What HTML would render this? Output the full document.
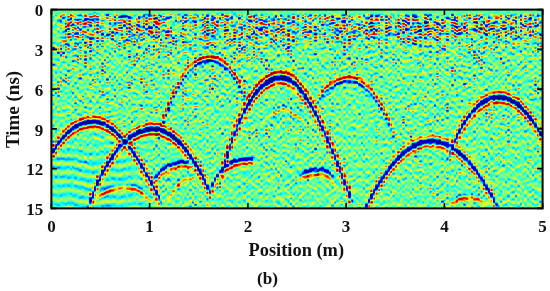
<!DOCTYPE html>
<html><head><meta charset="utf-8"><style>
html,body{margin:0;padding:0;background:#fff;width:550px;height:291px;overflow:hidden}
svg{position:absolute;left:0;top:0;display:block}
text{font-family:"Liberation Serif",serif;font-weight:bold;fill:#111}

</style></head><body>
<svg width="550" height="291" viewBox="0 0 550 291">
<defs><filter id="jet" filterUnits="userSpaceOnUse" x="51" y="9" width="492" height="200" color-interpolation-filters="sRGB"><feConvolveMatrix order="3" kernelMatrix="1 4 1 2 8 2 1 4 1" edgeMode="duplicate"/><feComponentTransfer><feFuncR type="table" tableValues="0 0 0 0 .5 1 1 1 .5"/><feFuncG type="table" tableValues="0 0 .5 1 1 1 .5 0 0"/><feFuncB type="table" tableValues=".5 1 1 1 .5 0 0 0 0"/></feComponentTransfer></filter></defs>
<g filter="url(#jet)">
<g transform="translate(49.954 7.600) scale(2.44600 1.0)" fill="none" shape-rendering="crispEdges">
<rect x="0" y="0" width="202" height="203" fill="#777777"/>
<path stroke="#000000" d="M0.5 36V38M0.5 81V82M0.5 86V88M0.5 145V150M1.5 39V41M1.5 141V145M2.5 137V141M3.5 44V46M3.5 80V81M3.5 133V137M4.5 40V42M4.5 47V48M4.5 130V134M5.5 9V10M5.5 44V46M5.5 127V131M6.5 15V17M6.5 21V24M6.5 35V37M6.5 67V68M6.5 124V128M7.5 11V12M7.5 20V22M7.5 25V27M7.5 122V126M8.5 9V12M8.5 17V18M8.5 121V124M9.5 16V18M9.5 21V22M9.5 118V122M10.5 11V12M10.5 25V27M10.5 35V36M10.5 117V120M11.5 7V8M11.5 11V13M11.5 19V21M11.5 24V27M11.5 48V49M11.5 116V119M12.5 7V8M12.5 11V12M12.5 16V17M12.5 21V22M12.5 39V40M12.5 70V71M12.5 114V118M13.5 13V14M13.5 26V27M13.5 31V32M13.5 113V117M14.5 10V13M14.5 18V19M14.5 34V36M14.5 51V52M14.5 113V116M15.5 10V12M15.5 16V17M15.5 39V40M15.5 112V116M15.5 200V201M16.5 11V13M16.5 16V18M16.5 30V31M16.5 36V38M16.5 42V44M16.5 112V116M16.5 190V194M17.5 11V12M17.5 112V115M17.5 184V189M18.5 21V22M18.5 112V115M18.5 179V183M19.5 10V13M19.5 16V18M19.5 23V25M19.5 32V34M19.5 113V116M19.5 172V178M20.5 113V117M20.5 170V173M21.5 25V27M21.5 114V117M21.5 162V167M22.5 114V116M22.5 158V163M23.5 6V8M23.5 27V28M23.5 71V72M23.5 116V120M23.5 153V159M24.5 15V16M24.5 21V22M24.5 26V27M24.5 118V122M24.5 150V155M25.5 24V25M25.5 30V32M25.5 119V123M25.5 146V151M26.5 8V10M26.5 15V16M26.5 43V44M26.5 88V89M26.5 121V125M26.5 143V147M27.5 24V25M27.5 124V128M27.5 140V144M28.5 19V20M28.5 35V36M28.5 126V130M28.5 136V139M29.5 8V10M29.5 19V21M29.5 26V27M29.5 128V130M30.5 7V9M30.5 16V18M30.5 131V136M31.5 8V9M31.5 19V22M31.5 25V27M31.5 31V33M31.5 132V136M32.5 9V11M32.5 15V17M32.5 23V25M32.5 28V29M32.5 43V44M32.5 48V49M32.5 79V80M32.5 127V132M32.5 138V141M33.5 18V19M33.5 33V34M33.5 113V114M33.5 127V130M33.5 141V142M33.5 143V144M34.5 36V37M34.5 125V129M34.5 145V149M35.5 16V18M35.5 23V25M35.5 46V47M35.5 122V127M35.5 148V152M36.5 8V11M36.5 16V19M36.5 39V40M36.5 50V51M36.5 121V126M36.5 152V155M37.5 74V75M37.5 122V125M37.5 156V160M38.5 7V9M38.5 13V14M38.5 18V20M38.5 24V25M38.5 31V32M38.5 120V125M38.5 160V164M39.5 10V11M39.5 15V17M39.5 21V22M39.5 119V122M39.5 165V169M40.5 7V9M40.5 18V21M40.5 26V27M40.5 37V39M40.5 119V124M40.5 168V172M41.5 19V21M41.5 119V123M41.5 173V177M42.5 10V12M42.5 16V18M42.5 28V29M42.5 37V39M42.5 119V123M42.5 178V182M43.5 9V11M43.5 18V20M43.5 23V25M43.5 29V31M43.5 119V124M43.5 167V170M43.5 182V187M44.5 7V8M44.5 11V13M44.5 20V22M44.5 27V29M44.5 119V123M44.5 129V130M44.5 165V167M44.5 187V190M45.5 8V9M45.5 31V33M45.5 37V38M45.5 120V124M45.5 161V164M46.5 11V12M46.5 113V116M46.5 121V124M46.5 161V162M47.5 24V25M47.5 29V31M47.5 106V109M47.5 122V126M47.5 158V160M48.5 9V11M48.5 22V25M48.5 62V63M48.5 99V102M48.5 124V128M48.5 156V158M49.5 8V10M49.5 19V21M49.5 45V46M49.5 93V95M49.5 125V130M49.5 157V159M50.5 29V31M50.5 35V36M50.5 88V89M50.5 127V131M51.5 12V13M51.5 27V28M51.5 32V35M51.5 83V85M51.5 129V134M51.5 155V157M52.5 78V80M52.5 132V136M52.5 153V156M53.5 12V14M53.5 27V28M53.5 74V77M53.5 133V138M53.5 152V154M54.5 8V11M54.5 14V16M54.5 20V22M54.5 33V35M54.5 70V73M54.5 136V141M54.5 152V155M55.5 7V8M55.5 13V14M55.5 67V69M55.5 139V144M55.5 154V156M56.5 54V56M56.5 142V147M56.5 152V154M57.5 147V151M58.5 150V154M59.5 13V15M59.5 50V51M59.5 56V59M59.5 66V67M59.5 153V158M60.5 54V56M60.5 158V163M61.5 31V32M61.5 54V56M61.5 163V167M62.5 7V8M62.5 11V12M62.5 16V18M62.5 53V54M62.5 166V172M63.5 9V12M63.5 15V16M63.5 23V25M63.5 172V177M64.5 7V9M64.5 13V15M64.5 19V20M64.5 25V28M64.5 51V54M64.5 177V181M65.5 51V53M65.5 68V69M65.5 183V186M66.5 11V13M66.5 17V18M66.5 21V23M66.5 27V28M66.5 37V38M66.5 52V54M66.5 80V81M66.5 175V178M67.5 9V11M67.5 19V21M67.5 38V40M67.5 53V55M67.5 170V172M68.5 13V15M68.5 167V169M69.5 10V11M69.5 44V45M69.5 56V57M69.5 163V165M70.5 6V8M70.5 125V126M70.5 159V164M71.5 16V18M71.5 22V24M71.5 28V29M71.5 50V51M71.5 60V62M71.5 152V160M72.5 11V13M72.5 21V23M72.5 32V33M72.5 144V150M72.5 156V159M73.5 63V65M73.5 137V142M73.5 153V155M74.5 9V10M74.5 32V33M74.5 53V54M74.5 66V68M74.5 129V135M74.5 153V156M75.5 24V26M75.5 30V32M75.5 50V51M75.5 69V72M75.5 124V128M75.5 151V154M76.5 40V42M76.5 73V76M76.5 116V119M76.5 121V123M76.5 152V154M77.5 9V11M77.5 19V20M77.5 37V38M77.5 78V80M77.5 111V116M77.5 150V153M78.5 19V20M78.5 28V30M78.5 40V41M78.5 69V70M78.5 84V85M78.5 107V110M78.5 152V153M79.5 17V18M79.5 39V40M79.5 73V74M79.5 87V88M79.5 101V105M79.5 150V153M80.5 27V29M80.5 33V34M80.5 96V101M80.5 150V152M81.5 13V14M81.5 91V97M81.5 150V152M82.5 26V27M82.5 88V93M83.5 7V10M83.5 23V26M83.5 46V47M83.5 84V90M84.5 13V14M84.5 19V21M84.5 81V86M85.5 21V22M85.5 79V83M86.5 11V13M86.5 20V21M86.5 76V81M87.5 13V14M87.5 18V20M87.5 24V25M87.5 57V58M87.5 76V79M88.5 26V28M88.5 52V53M88.5 60V61M88.5 72V77M88.5 125V126M89.5 16V18M89.5 70V73M89.5 74V76M90.5 22V23M90.5 31V32M90.5 69V75M91.5 11V13M91.5 32V34M91.5 68V73M92.5 7V10M92.5 21V23M92.5 27V29M92.5 35V36M92.5 70V72M93.5 11V12M93.5 16V17M93.5 20V22M93.5 69V72M94.5 7V9M94.5 18V20M94.5 33V34M94.5 67V72M95.5 23V25M95.5 37V38M95.5 68V72M95.5 97V98M96.5 11V12M96.5 26V27M96.5 41V42M96.5 69V73M97.5 15V16M97.5 22V24M97.5 31V32M97.5 38V41M97.5 69V73M98.5 49V50M98.5 70V74M98.5 91V92M99.5 13V15M99.5 23V24M99.5 32V33M99.5 52V53M99.5 73V77M100.5 74V78M101.5 7V9M101.5 77V81M101.5 99V100M102.5 80V84M103.5 9V11M103.5 24V26M103.5 83V86M104.5 13V14M104.5 18V20M104.5 23V25M104.5 28V29M104.5 86V92M104.5 162V163M105.5 90V95M105.5 115V116M105.5 163V165M106.5 7V8M106.5 23V24M106.5 94V99M106.5 161V164M107.5 12V13M107.5 99V103M107.5 160V163M108.5 18V20M108.5 25V27M108.5 32V33M108.5 46V47M108.5 103V108M108.5 160V161M109.5 21V22M109.5 108V112M109.5 162V164M110.5 7V8M110.5 13V14M110.5 23V24M110.5 113V118M110.5 160V162M111.5 16V18M111.5 118V123M111.5 160V161M112.5 7V9M112.5 25V27M112.5 31V32M112.5 124V127M112.5 162V164M113.5 33V35M113.5 129V135M113.5 162V163M114.5 15V17M114.5 41V42M114.5 135V140M114.5 164V166M115.5 8V10M115.5 14V16M115.5 29V30M115.5 79V80M115.5 141V146M116.5 76V78M116.5 147V152M117.5 10V11M117.5 26V28M117.5 75V77M117.5 153V158M118.5 23V25M118.5 74V76M118.5 158V164M119.5 13V14M119.5 23V24M119.5 28V30M119.5 74V75M119.5 165V170M120.5 7V8M120.5 12V14M120.5 20V21M120.5 38V40M120.5 72V74M120.5 172V177M121.5 16V18M121.5 25V26M121.5 178V183M122.5 13V14M122.5 31V33M122.5 73V75M122.5 184V189M123.5 11V13M123.5 56V57M123.5 192V193M124.5 31V32M124.5 74V75M125.5 28V29M125.5 50V51M125.5 73V75M126.5 76V77M127.5 19V21M127.5 77V79M128.5 7V8M128.5 17V19M128.5 24V25M129.5 22V23M129.5 196V199M130.5 9V11M130.5 15V16M130.5 30V32M130.5 191V195M131.5 7V9M131.5 14V16M131.5 21V23M131.5 28V29M131.5 186V191M132.5 15V16M132.5 20V22M132.5 29V31M132.5 89V91M132.5 182V186M133.5 8V9M133.5 21V23M133.5 92V93M133.5 178V182M134.5 7V8M134.5 15V16M134.5 20V21M134.5 31V32M134.5 38V39M134.5 96V99M134.5 173V175M134.5 177V178M135.5 11V13M135.5 100V102M135.5 173V174M136.5 105V107M136.5 167V170M137.5 8V9M137.5 14V16M137.5 19V22M137.5 110V112M137.5 163V167M138.5 10V12M138.5 19V21M138.5 115V118M138.5 159V163M139.5 19V20M139.5 156V161M140.5 51V52M140.5 154V157M141.5 18V19M141.5 26V27M141.5 55V56M141.5 151V155M142.5 14V16M142.5 25V27M142.5 148V152M143.5 21V23M143.5 30V32M143.5 36V37M143.5 147V150M144.5 12V14M144.5 18V19M144.5 23V25M144.5 33V34M144.5 114V115M144.5 144V147M145.5 7V8M145.5 12V15M145.5 20V23M145.5 143V145M146.5 14V16M146.5 21V22M146.5 30V32M146.5 139V143M147.5 18V20M147.5 25V26M147.5 49V50M147.5 128V130M147.5 140V142M148.5 7V9M148.5 15V16M148.5 34V36M148.5 135V140M149.5 9V10M149.5 24V25M149.5 29V31M149.5 35V37M149.5 136V139M150.5 14V16M150.5 23V24M150.5 134V138M151.5 15V16M151.5 21V24M151.5 28V30M151.5 133V135M152.5 17V18M152.5 133V136M153.5 13V16M153.5 20V22M153.5 29V31M153.5 132V135M154.5 7V9M154.5 13V16M154.5 20V22M154.5 26V28M154.5 131V135M155.5 7V8M155.5 11V12M155.5 25V27M155.5 131V133M156.5 131V135M157.5 13V15M157.5 22V23M157.5 97V98M157.5 131V133M158.5 15V17M158.5 21V22M158.5 31V33M158.5 134V136M159.5 25V26M159.5 132V136M160.5 11V13M160.5 20V21M160.5 134V137M160.5 193V194M161.5 17V19M161.5 41V42M161.5 136V138M162.5 9V11M162.5 25V26M162.5 31V33M162.5 138V139M164.5 6V8M164.5 11V13M164.5 16V18M164.5 60V61M164.5 136V142M165.5 9V10M165.5 17V20M165.5 24V26M165.5 131V135M165.5 141V143M166.5 12V14M166.5 18V21M166.5 26V27M166.5 125V130M166.5 141V145M167.5 24V27M167.5 121V125M167.5 143V147M168.5 93V94M168.5 116V120M168.5 145V149M168.5 157V158M169.5 18V21M169.5 76V77M169.5 112V117M169.5 147V150M170.5 7V8M170.5 24V26M170.5 108V112M170.5 150V152M171.5 10V11M171.5 106V110M171.5 153V156M172.5 31V32M172.5 36V38M172.5 102V105M172.5 156V160M173.5 8V9M173.5 13V15M173.5 21V22M173.5 43V45M173.5 67V68M173.5 100V104M173.5 159V163M174.5 7V8M174.5 13V16M174.5 22V23M174.5 97V101M174.5 162V166M175.5 10V12M175.5 20V21M175.5 43V44M175.5 49V51M175.5 95V99M175.5 166V169M176.5 8V10M176.5 20V22M176.5 93V96M177.5 13V16M177.5 24V25M177.5 54V55M177.5 91V96M177.5 172V177M178.5 17V19M178.5 25V28M178.5 90V94M178.5 105V106M178.5 180V181M179.5 16V17M179.5 21V23M179.5 91V93M179.5 181V185M180.5 20V22M180.5 89V91M180.5 185V189M181.5 15V16M181.5 20V21M181.5 26V27M181.5 33V35M181.5 41V42M181.5 87V93M181.5 190V194M182.5 39V40M182.5 88V91M183.5 22V23M183.5 27V29M183.5 87V91M184.5 10V11M184.5 19V21M184.5 24V25M184.5 50V52M184.5 87V91M185.5 14V15M185.5 20V22M185.5 55V56M185.5 89V92M186.5 9V10M186.5 14V15M186.5 26V29M186.5 33V34M186.5 88V91M187.5 10V11M187.5 25V26M187.5 89V93M188.5 19V22M188.5 28V29M188.5 90V95M189.5 12V13M189.5 20V21M189.5 92V95M190.5 13V14M190.5 24V25M190.5 30V31M190.5 95V98M191.5 28V29M191.5 95V96M191.5 97V100M192.5 7V9M192.5 14V16M192.5 22V24M192.5 43V44M192.5 97V102M193.5 16V18M193.5 99V104M194.5 8V9M194.5 13V14M194.5 17V19M194.5 26V27M194.5 103V107M195.5 104V110M196.5 9V11M196.5 18V20M196.5 26V28M196.5 108V113M197.5 15V16M197.5 23V25M197.5 111V116M198.5 12V13M198.5 17V19M198.5 116V119M199.5 7V9M199.5 16V18M199.5 120V124M199.5 143V144M200.5 26V27M200.5 123V128M201.5 10V13M201.5 23V25M201.5 128V132"/>
<path stroke="#111111" d="M0.5 44V45M1.5 56V57M1.5 140V141M2.5 85V86M2.5 136V137M3.5 81V82M4.5 46V47M5.5 10V11M5.5 72V73M6.5 48V50M6.5 128V129M7.5 12V13M8.5 31V32M8.5 120V121M9.5 22V23M9.5 27V28M9.5 52V54M10.5 40V41M10.5 116V117M11.5 36V37M11.5 119V120M12.5 27V28M14.5 50V51M14.5 99V100M15.5 21V22M15.5 29V30M15.5 38V39M15.5 199V200M15.5 201V202M16.5 18V19M16.5 31V32M16.5 194V195M17.5 12V13M17.5 30V31M17.5 72V73M17.5 189V190M18.5 178V179M19.5 18V19M19.5 112V113M20.5 36V37M20.5 83V84M20.5 99V100M20.5 168V170M21.5 32V34M21.5 55V56M21.5 62V63M22.5 52V53M22.5 64V65M23.5 26V27M23.5 91V92M24.5 14V15M24.5 16V17M24.5 20V21M24.5 68V69M25.5 123V124M25.5 151V152M26.5 14V15M26.5 33V34M28.5 9V10M28.5 14V16M28.5 20V21M29.5 7V8M29.5 14V15M29.5 27V28M29.5 137V139M30.5 18V19M30.5 39V40M30.5 136V137M31.5 64V65M32.5 8V9M32.5 22V23M32.5 32V33M32.5 49V50M33.5 140V141M33.5 142V143M33.5 144V145M34.5 26V27M34.5 56V57M35.5 53V54M36.5 38V39M36.5 151V152M36.5 155V156M36.5 179V180M37.5 26V27M37.5 97V98M37.5 125V126M38.5 17V18M38.5 30V31M38.5 44V46M38.5 159V160M39.5 6V7M39.5 20V21M39.5 41V42M39.5 83V84M39.5 122V123M40.5 25V26M40.5 27V28M40.5 43V44M41.5 72V73M42.5 27V28M44.5 13V14M44.5 41V42M44.5 49V50M44.5 130V131M44.5 164V165M45.5 7V8M46.5 22V23M46.5 124V125M46.5 159V161M47.5 11V12M47.5 23V24M47.5 48V49M47.5 157V158M48.5 102V103M49.5 26V28M49.5 34V35M49.5 44V45M49.5 156V157M50.5 78V79M50.5 87V88M50.5 126V127M50.5 155V157M51.5 13V14M51.5 85V86M51.5 154V155M52.5 80V81M52.5 131V132M52.5 136V137M54.5 28V29M54.5 84V85M55.5 12V13M55.5 14V15M55.5 34V35M55.5 153V154M56.5 12V13M56.5 64V66M56.5 116V117M56.5 147V148M57.5 146V147M58.5 13V14M58.5 60V61M58.5 194V195M59.5 19V20M59.5 26V27M59.5 196V197M60.5 56V57M60.5 151V152M61.5 46V47M61.5 53V54M62.5 12V13M62.5 25V26M62.5 52V53M62.5 114V115M63.5 22V23M63.5 54V55M63.5 72V73M63.5 171V172M64.5 20V21M64.5 39V40M65.5 53V54M65.5 78V79M65.5 84V85M66.5 8V9M66.5 28V29M66.5 36V37M66.5 58V59M66.5 81V82M67.5 18V19M67.5 52V53M67.5 70V71M67.5 172V173M68.5 166V167M69.5 9V10M69.5 55V56M69.5 93V94M69.5 162V163M69.5 175V176M71.5 21V22M71.5 29V30M71.5 49V50M71.5 59V60M72.5 60V61M72.5 143V144M73.5 25V26M73.5 31V32M73.5 93V94M74.5 10V11M74.5 17V18M74.5 48V49M74.5 54V55M74.5 152V153M74.5 156V157M75.5 45V46M76.5 22V23M76.5 90V91M76.5 123V124M76.5 154V155M77.5 31V32M77.5 36V37M77.5 38V39M77.5 110V111M78.5 20V21M78.5 22V23M78.5 41V42M78.5 83V84M78.5 106V107M78.5 150V152M79.5 72V73M79.5 100V101M80.5 37V38M80.5 152V153M81.5 12V13M81.5 18V19M81.5 29V30M81.5 149V150M82.5 13V14M82.5 25V26M82.5 149V153M83.5 39V41M83.5 47V48M84.5 14V15M84.5 27V28M84.5 86V87M84.5 122V123M85.5 11V12M85.5 22V23M85.5 40V42M86.5 7V8M86.5 19V20M86.5 21V22M86.5 44V45M86.5 53V54M87.5 12V13M87.5 75V76M88.5 13V14M88.5 19V20M88.5 61V62M89.5 9V10M89.5 15V16M89.5 57V58M89.5 73V74M89.5 128V130M90.5 117V118M92.5 26V27M92.5 69V70M94.5 32V33M95.5 67V68M96.5 40V41M96.5 68V69M96.5 153V154M97.5 14V15M98.5 42V44M98.5 74V75M98.5 90V91M98.5 99V101M99.5 6V7M99.5 33V34M99.5 53V54M100.5 78V79M101.5 16V18M101.5 76V77M102.5 79V80M102.5 84V85M103.5 19V21M103.5 82V83M103.5 95V96M103.5 165V166M104.5 29V30M104.5 163V164M105.5 8V9M105.5 24V25M105.5 162V163M105.5 172V173M106.5 22V23M106.5 24V25M107.5 98V99M107.5 121V122M108.5 45V46M108.5 140V142M109.5 20V21M109.5 94V95M109.5 112V113M110.5 90V91M110.5 118V119M111.5 88V89M111.5 100V101M112.5 30V31M112.5 83V84M112.5 127V128M112.5 161V162M113.5 12V13M113.5 163V164M115.5 167V168M116.5 14V15M116.5 50V51M117.5 22V23M117.5 158V159M118.5 10V11M118.5 50V51M118.5 73V74M119.5 7V8M119.5 14V15M119.5 22V23M119.5 34V35M119.5 75V76M119.5 170V171M120.5 46V47M121.5 26V27M121.5 41V42M122.5 8V9M122.5 50V51M122.5 189V190M123.5 55V56M123.5 193V194M124.5 30V31M124.5 73V74M125.5 16V17M125.5 66V67M125.5 75V76M126.5 16V17M126.5 27V28M127.5 14V15M127.5 50V52M127.5 76V77M129.5 39V40M129.5 51V52M129.5 82V83M130.5 16V17M131.5 13V14M131.5 29V30M132.5 19V20M132.5 88V89M132.5 181V182M133.5 7V8M133.5 23V24M133.5 93V94M133.5 177V178M134.5 14V15M134.5 39V40M134.5 175V177M135.5 22V23M135.5 170V171M136.5 170V171M137.5 27V28M137.5 31V32M138.5 25V26M138.5 158V159M139.5 18V19M140.5 128V129M142.5 147V148M143.5 146V147M144.5 25V26M144.5 34V35M144.5 143V144M145.5 8V9M145.5 100V101M145.5 117V118M145.5 142V143M146.5 8V9M146.5 98V99M147.5 139V140M148.5 14V15M149.5 8V9M149.5 19V20M149.5 23V24M149.5 135V136M149.5 139V140M149.5 148V149M151.5 132V133M151.5 135V137M152.5 132V133M153.5 6V8M153.5 38V39M154.5 19V20M155.5 10V11M155.5 20V21M155.5 43V45M155.5 133V134M156.5 29V30M157.5 21V22M157.5 30V31M157.5 55V56M157.5 133V134M158.5 43V45M158.5 133V134M159.5 16V17M160.5 40V41M161.5 135V136M162.5 26V27M162.5 102V103M162.5 135V136M163.5 137V138M163.5 143V144M163.5 145V146M164.5 23V24M164.5 77V78M165.5 8V9M165.5 10V11M165.5 12V13M165.5 62V63M165.5 72V73M166.5 130V131M166.5 189V190M167.5 147V148M168.5 15V17M168.5 92V93M168.5 120V121M169.5 75V76M169.5 150V151M170.5 12V13M170.5 17V18M171.5 9V10M171.5 39V40M171.5 105V106M172.5 30V31M172.5 47V48M172.5 186V187M173.5 49V50M174.5 47V48M174.5 53V54M174.5 96V97M175.5 169V170M175.5 186V187M176.5 29V30M176.5 59V61M176.5 96V97M176.5 169V171M177.5 25V26M177.5 177V178M178.5 81V82M178.5 94V95M178.5 177V180M178.5 181V182M179.5 9V11M179.5 15V16M179.5 160V161M179.5 180V181M180.5 88V89M180.5 91V92M181.5 14V15M181.5 25V26M181.5 194V195M182.5 13V14M182.5 196V197M183.5 29V30M183.5 34V35M183.5 91V92M184.5 31V32M185.5 88V89M185.5 92V93M186.5 21V22M186.5 91V92M186.5 101V102M187.5 67V68M188.5 7V8M188.5 22V23M190.5 12V13M190.5 25V26M190.5 31V32M190.5 94V95M191.5 94V95M191.5 96V97M192.5 16V17M192.5 30V31M193.5 200V201M194.5 102V103M195.5 36V37M196.5 28V29M197.5 7V8M197.5 16V17M197.5 44V45M198.5 11V12M198.5 76V77M198.5 82V83M199.5 36V37M199.5 43V44M199.5 84V86M199.5 119V120M200.5 27V28M201.5 29V30M201.5 127V128M201.5 197V198"/>
<path stroke="#222222" d="M0.5 43V44M0.5 80V81M1.5 133V134M2.5 84V85M3.5 74V75M3.5 87V89M4.5 12V13M4.5 34V35M4.5 70V71M6.5 41V42M6.5 73V75M7.5 36V38M7.5 62V64M8.5 16V17M8.5 26V27M9.5 15V16M9.5 28V29M9.5 84V86M10.5 41V42M10.5 95V96M11.5 35V36M11.5 54V55M12.5 22V23M12.5 34V35M12.5 50V51M12.5 92V93M13.5 8V9M13.5 18V19M13.5 25V26M13.5 66V67M13.5 88V89M14.5 43V45M14.5 52V53M14.5 58V59M14.5 153V155M15.5 22V23M15.5 28V29M15.5 198V199M16.5 6V7M16.5 29V30M16.5 50V51M16.5 189V190M17.5 23V24M17.5 29V30M17.5 47V48M17.5 71V72M17.5 115V116M18.5 10V11M18.5 14V15M18.5 20V21M18.5 74V75M19.5 38V39M20.5 73V75M20.5 167V168M21.5 12V13M21.5 38V39M21.5 56V57M21.5 61V62M21.5 86V87M21.5 117V118M22.5 28V29M22.5 51V52M22.5 58V59M22.5 63V64M22.5 116V117M22.5 180V182M23.5 72V73M24.5 6V7M24.5 10V11M24.5 25V26M24.5 45V46M25.5 23V24M25.5 25V26M25.5 91V92M25.5 134V135M26.5 69V70M26.5 81V82M26.5 87V88M27.5 25V26M27.5 72V73M27.5 139V140M28.5 8V9M28.5 34V35M28.5 41V42M28.5 76V77M29.5 47V48M29.5 131V132M30.5 9V10M31.5 7V8M31.5 12V13M32.5 74V75M32.5 80V81M32.5 126V127M33.5 19V20M33.5 69V70M33.5 75V76M33.5 114V115M33.5 126V127M33.5 177V178M34.5 27V28M34.5 57V58M34.5 71V72M34.5 144V145M35.5 32V33M35.5 45V46M35.5 47V48M35.5 152V153M36.5 180V181M37.5 31V33M37.5 98V99M37.5 155V156M38.5 12V13M38.5 70V71M38.5 78V79M39.5 74V75M39.5 84V85M39.5 123V124M39.5 164V165M40.5 172V173M41.5 7V8M41.5 28V29M41.5 46V47M41.5 104V105M41.5 172V173M41.5 177V178M42.5 39V40M42.5 57V58M42.5 76V77M42.5 141V142M42.5 161V162M42.5 169V170M43.5 11V12M43.5 34V35M43.5 99V100M43.5 104V105M44.5 29V30M44.5 97V98M44.5 190V192M45.5 23V24M45.5 58V59M45.5 94V95M45.5 99V100M45.5 124V125M46.5 17V18M46.5 120V121M46.5 162V163M47.5 17V18M47.5 37V39M47.5 65V66M47.5 160V161M47.5 181V182M48.5 34V35M48.5 63V64M48.5 155V156M48.5 171V172M49.5 33V34M49.5 39V40M49.5 95V96M50.5 36V37M50.5 89V90M50.5 131V132M50.5 154V155M51.5 40V41M52.5 6V7M52.5 54V56M52.5 171V173M53.5 28V29M53.5 154V155M55.5 6V7M55.5 21V23M55.5 95V96M55.5 112V113M56.5 7V8M56.5 26V27M56.5 49V50M56.5 154V155M57.5 22V23M58.5 12V13M58.5 18V19M58.5 46V47M58.5 64V65M58.5 104V105M58.5 154V155M59.5 37V38M59.5 67V68M59.5 95V96M59.5 101V102M59.5 108V109M59.5 158V159M60.5 7V9M60.5 157V158M61.5 12V13M61.5 30V31M61.5 153V154M61.5 161V163M62.5 24V25M62.5 54V55M62.5 58V59M63.5 32V33M63.5 53V54M63.5 55V56M63.5 83V84M63.5 93V94M64.5 32V33M64.5 71V72M64.5 181V182M65.5 25V26M65.5 62V63M65.5 67V68M65.5 77V78M65.5 182V183M66.5 7V8M66.5 75V76M66.5 178V179M67.5 71V72M67.5 145V146M68.5 45V46M68.5 53V56M68.5 88V89M68.5 179V180M69.5 17V18M69.5 28V30M69.5 45V46M69.5 57V58M69.5 68V69M69.5 120V121M69.5 176V177M70.5 47V48M70.5 57V59M70.5 64V65M70.5 97V98M71.5 10V11M71.5 15V16M71.5 34V35M71.5 40V41M71.5 151V152M72.5 150V151M73.5 10V11M73.5 26V27M73.5 30V31M73.5 36V38M73.5 56V57M73.5 136V137M74.5 8V9M74.5 33V34M75.5 44V45M75.5 61V63M75.5 123V124M75.5 154V155M76.5 97V98M76.5 120V121M77.5 43V44M77.5 53V54M77.5 77V78M77.5 83V85M78.5 21V22M78.5 51V52M78.5 68V69M78.5 85V86M78.5 110V111M79.5 18V19M79.5 31V32M79.5 38V39M79.5 44V45M79.5 80V81M79.5 88V89M79.5 105V106M80.5 11V12M80.5 47V48M80.5 95V96M80.5 101V102M80.5 139V140M80.5 149V150M81.5 28V29M81.5 30V31M81.5 79V80M81.5 97V98M81.5 129V131M82.5 12V13M82.5 20V22M82.5 31V32M82.5 50V51M82.5 93V94M83.5 124V125M84.5 7V8M84.5 26V27M84.5 34V35M84.5 128V129M85.5 12V13M85.5 36V37M85.5 51V52M85.5 78V79M85.5 83V84M86.5 22V23M86.5 29V30M87.5 25V26M87.5 40V41M87.5 139V140M88.5 14V15M88.5 20V21M88.5 51V52M88.5 77V78M88.5 92V93M89.5 8V9M89.5 58V59M89.5 64V65M89.5 76V77M90.5 23V24M90.5 30V31M91.5 19V20M91.5 99V101M91.5 108V109M91.5 143V144M92.5 68V69M92.5 72V73M93.5 10V11M93.5 38V39M93.5 47V48M93.5 68V69M93.5 99V100M94.5 17V18M94.5 81V82M94.5 167V168M95.5 11V12M95.5 31V32M95.5 36V37M96.5 10V11M96.5 27V28M96.5 36V37M96.5 98V100M97.5 30V31M97.5 32V33M97.5 68V69M97.5 73V74M98.5 15V16M98.5 37V38M98.5 48V49M98.5 108V109M98.5 121V122M98.5 159V160M98.5 190V191M99.5 12V13M99.5 31V32M100.5 25V26M100.5 56V57M100.5 95V96M100.5 136V137M100.5 175V176M101.5 23V24M101.5 60V61M102.5 167V168M103.5 42V43M103.5 59V61M103.5 121V122M103.5 166V167M104.5 14V15M104.5 85V86M104.5 164V166M105.5 68V69M105.5 114V115M105.5 129V130M105.5 135V136M105.5 171V172M106.5 15V16M106.5 36V37M106.5 160V161M107.5 70V71M107.5 122V123M108.5 10V11M108.5 27V28M108.5 159V160M108.5 163V164M109.5 52V53M109.5 107V108M109.5 161V162M110.5 14V15M110.5 22V23M110.5 28V29M110.5 91V92M110.5 162V163M111.5 20V21M111.5 26V27M111.5 86V88M111.5 159V160M111.5 161V162M112.5 39V40M112.5 88V89M112.5 123V124M113.5 17V18M113.5 81V83M113.5 128V129M113.5 164V165M114.5 21V22M114.5 79V81M114.5 112V113M114.5 118V119M114.5 125V126M114.5 134V135M114.5 166V167M115.5 7V8M115.5 24V25M115.5 54V55M115.5 80V81M115.5 95V96M115.5 156V157M115.5 168V169M116.5 15V16M116.5 20V21M116.5 25V26M116.5 43V44M116.5 56V57M116.5 78V79M116.5 146V147M116.5 194V195M117.5 11V12M117.5 33V34M117.5 74V75M117.5 144V145M118.5 17V18M118.5 49V50M118.5 164V165M119.5 12V13M119.5 24V25M119.5 73V74M120.5 14V15M120.5 19V20M120.5 31V32M120.5 45V46M120.5 74V75M120.5 79V80M121.5 10V11M121.5 42V43M121.5 50V51M122.5 14V15M122.5 183V184M123.5 18V19M123.5 23V25M124.5 22V23M124.5 25V26M124.5 54V55M124.5 75V76M126.5 17V18M126.5 23V24M126.5 75V76M126.5 106V107M127.5 13V14M127.5 33V34M127.5 56V57M128.5 8V9M128.5 25V26M128.5 36V37M128.5 78V80M129.5 9V10M129.5 21V22M129.5 23V24M129.5 30V31M129.5 38V39M129.5 81V82M129.5 87V88M129.5 199V200M130.5 24V25M130.5 36V37M130.5 83V85M131.5 9V10M131.5 87V88M133.5 59V60M134.5 19V20M134.5 26V27M134.5 32V33M134.5 103V104M134.5 178V179M135.5 42V43M135.5 48V49M135.5 58V59M135.5 68V70M135.5 99V100M135.5 145V146M135.5 169V170M135.5 171V173M135.5 174V175M136.5 104V105M136.5 166V167M137.5 9V10M137.5 52V53M137.5 109V110M138.5 18V19M138.5 24V25M138.5 26V28M138.5 163V164M139.5 49V50M139.5 101V102M140.5 46V47M140.5 129V130M140.5 153V154M140.5 157V158M141.5 12V13M141.5 19V20M141.5 27V28M141.5 78V79M141.5 133V134M141.5 150V151M142.5 51V52M142.5 152V153M143.5 10V11M143.5 15V17M143.5 126V127M143.5 145V146M144.5 109V110M145.5 45V46M145.5 85V86M145.5 141V142M146.5 7V8M146.5 16V17M146.5 20V21M146.5 143V144M147.5 31V32M147.5 96V97M147.5 138V139M148.5 6V7M148.5 73V74M148.5 140V141M148.5 181V182M149.5 7V8M149.5 14V15M149.5 18V19M149.5 96V97M150.5 22V23M150.5 55V56M150.5 143V144M151.5 16V17M151.5 37V39M151.5 153V154M152.5 24V25M153.5 12V13M153.5 22V23M153.5 88V89M153.5 135V136M154.5 76V77M154.5 84V85M155.5 21V22M155.5 37V39M155.5 134V136M156.5 20V21M156.5 71V72M157.5 31V32M157.5 56V57M157.5 75V77M157.5 108V110M158.5 9V10M158.5 14V15M158.5 22V23M158.5 65V67M158.5 112V113M158.5 132V133M158.5 186V187M159.5 17V18M159.5 24V25M159.5 56V57M159.5 62V63M159.5 131V132M160.5 7V8M160.5 25V26M160.5 133V134M161.5 40V41M161.5 134V135M162.5 49V50M162.5 96V97M162.5 109V110M162.5 134V135M162.5 136V138M162.5 151V152M162.5 170V171M163.5 10V11M163.5 53V54M163.5 136V137M163.5 144V145M164.5 22V23M164.5 59V60M164.5 76V77M165.5 11V12M165.5 32V33M165.5 56V57M165.5 63V64M165.5 140V141M166.5 25V26M166.5 86V87M166.5 173V174M166.5 188V189M167.5 18V19M167.5 34V36M167.5 125V126M167.5 186V187M168.5 24V26M168.5 46V47M168.5 115V116M168.5 149V150M168.5 156V157M169.5 151V152M169.5 196V197M170.5 8V9M170.5 16V17M170.5 112V113M171.5 21V22M171.5 26V27M171.5 38V39M171.5 44V45M171.5 59V60M171.5 156V157M172.5 21V22M172.5 32V33M172.5 160V161M172.5 185V186M173.5 20V21M173.5 22V23M173.5 33V34M173.5 50V51M173.5 55V56M173.5 123V124M173.5 158V159M174.5 8V9M174.5 23V24M174.5 46V47M174.5 54V55M174.5 101V102M174.5 166V167M175.5 19V20M175.5 36V37M175.5 42V43M175.5 55V56M175.5 165V166M175.5 180V181M176.5 13V14M176.5 19V20M176.5 45V46M176.5 51V53M176.5 171V173M177.5 44V45M177.5 55V56M177.5 96V97M177.5 102V103M177.5 187V188M178.5 16V17M178.5 34V36M179.5 38V39M179.5 60V61M179.5 108V109M180.5 15V16M180.5 106V107M181.5 19V20M181.5 21V22M181.5 189V190M182.5 14V15M182.5 195V196M182.5 197V198M183.5 15V16M183.5 23V24M184.5 11V12M184.5 25V26M184.5 32V33M184.5 45V46M184.5 193V194M185.5 13V14M185.5 87V88M185.5 107V108M185.5 157V158M186.5 8V9M186.5 15V16M186.5 19V21M186.5 32V33M186.5 38V39M186.5 124V125M187.5 11V12M187.5 34V35M187.5 52V53M187.5 93V94M187.5 108V109M187.5 121V123M187.5 127V128M187.5 133V134M188.5 8V9M188.5 18V19M188.5 124V125M188.5 201V202M189.5 11V12M189.5 19V20M189.5 39V40M189.5 77V78M189.5 86V87M189.5 95V96M190.5 6V7M190.5 15V17M190.5 23V24M190.5 188V189M191.5 29V30M191.5 93V94M192.5 44V45M192.5 96V97M194.5 12V13M195.5 21V23M195.5 35V36M195.5 110V111M196.5 107V108M197.5 22V23M197.5 43V44M197.5 167V168M198.5 25V27M198.5 35V36M198.5 77V78M198.5 119V120M199.5 18V19M199.5 25V26M199.5 73V74M199.5 79V80M200.5 7V8M200.5 14V15M200.5 41V42M200.5 67V68M200.5 200V201"/>
<path stroke="#333333" d="M0.5 14V15M0.5 25V26M0.5 61V62M0.5 67V68M0.5 110V111M0.5 150V151M1.5 57V58M1.5 82V83M1.5 87V88M1.5 134V135M2.5 7V8M2.5 141V142M2.5 168V170M3.5 12V13M3.5 73V74M3.5 132V133M3.5 150V151M3.5 159V160M4.5 13V15M4.5 20V21M4.5 29V30M4.5 48V49M4.5 64V65M4.5 69V70M4.5 76V78M4.5 83V84M4.5 134V135M4.5 141V142M5.5 29V30M5.5 71V72M5.5 150V151M6.5 8V9M6.5 28V30M6.5 66V67M6.5 85V86M7.5 69V71M7.5 75V76M7.5 107V108M8.5 18V19M8.5 25V26M8.5 32V33M9.5 41V42M9.5 47V48M9.5 104V105M10.5 12V13M10.5 17V18M10.5 30V32M10.5 47V48M10.5 53V54M10.5 75V76M10.5 94V95M10.5 101V102M10.5 120V121M11.5 18V19M11.5 37V38M11.5 43V44M11.5 47V48M11.5 49V50M11.5 79V81M11.5 106V107M11.5 115V116M11.5 126V127M12.5 20V21M12.5 35V36M12.5 40V41M12.5 44V45M12.5 51V52M12.5 69V70M12.5 93V94M12.5 143V144M12.5 153V154M12.5 162V163M13.5 12V13M13.5 19V20M13.5 30V31M13.5 32V33M13.5 67V68M13.5 94V95M14.5 19V20M14.5 45V46M14.5 104V105M14.5 112V113M14.5 116V117M15.5 111V112M15.5 155V156M16.5 10V11M16.5 49V50M16.5 60V62M16.5 66V68M16.5 76V77M16.5 93V94M16.5 146V147M16.5 195V196M17.5 6V7M17.5 10V11M17.5 31V32M17.5 88V90M17.5 104V105M17.5 164V165M17.5 183V184M17.5 190V191M18.5 13V14M18.5 47V48M18.5 84V85M18.5 115V116M19.5 6V7M19.5 25V26M19.5 39V40M19.5 44V46M19.5 65V66M20.5 19V20M20.5 46V47M20.5 51V53M20.5 59V60M20.5 82V83M20.5 89V90M21.5 13V14M21.5 27V28M21.5 63V64M21.5 87V88M21.5 113V114M21.5 167V168M22.5 42V43M22.5 57V58M22.5 87V88M22.5 113V114M22.5 189V190M23.5 49V50M23.5 54V55M23.5 70V71M23.5 85V86M23.5 90V91M23.5 179V181M24.5 46V47M24.5 74V75M24.5 103V104M24.5 108V109M24.5 149V150M24.5 178V180M25.5 32V33M25.5 40V41M25.5 65V66M25.5 77V78M25.5 118V119M25.5 135V136M25.5 178V179M26.5 16V17M26.5 26V27M26.5 32V33M26.5 42V43M26.5 68V69M26.5 82V83M26.5 142V143M27.5 39V40M27.5 123V124M27.5 144V145M28.5 96V97M28.5 100V101M28.5 139V141M29.5 15V16M29.5 53V54M29.5 71V72M29.5 81V82M29.5 91V92M29.5 130V131M29.5 132V133M29.5 136V137M30.5 32V35M30.5 40V41M30.5 88V89M30.5 113V114M30.5 118V119M31.5 13V14M31.5 74V75M32.5 17V18M32.5 29V30M32.5 42V43M32.5 92V93M32.5 137V138M32.5 141V142M33.5 9V10M33.5 17V18M33.5 24V25M33.5 27V29M33.5 53V54M33.5 59V60M33.5 74V75M33.5 76V77M33.5 176V177M34.5 7V8M34.5 30V31M34.5 37V38M34.5 48V49M34.5 85V86M34.5 96V97M34.5 124V125M34.5 143V144M34.5 176V178M35.5 25V26M35.5 31V32M35.5 33V35M35.5 52V53M35.5 103V104M35.5 117V118M35.5 127V128M35.5 140V141M35.5 177V178M36.5 11V12M36.5 19V20M36.5 27V31M36.5 40V41M36.5 49V50M36.5 51V52M36.5 145V146M37.5 9V10M37.5 18V19M37.5 25V26M37.5 27V28M37.5 58V59M37.5 68V69M37.5 73V74M37.5 121V122M37.5 160V161M37.5 170V172M37.5 180V181M38.5 25V26M38.5 59V61M39.5 9V10M39.5 25V26M39.5 40V41M39.5 42V43M39.5 58V59M39.5 89V90M39.5 97V98M39.5 112V113M39.5 153V154M40.5 54V55M40.5 90V91M40.5 108V109M40.5 188V189M41.5 8V9M41.5 18V19M41.5 29V30M41.5 56V57M41.5 66V67M41.5 118V119M41.5 165V166M42.5 9V10M42.5 45V46M42.5 71V72M42.5 77V78M42.5 99V100M42.5 140V141M42.5 170V171M42.5 177V178M43.5 33V34M43.5 41V43M43.5 63V64M43.5 118V119M43.5 137V139M43.5 166V167M44.5 40V41M44.5 48V49M44.5 50V51M44.5 58V60M44.5 85V86M44.5 96V97M44.5 118V119M44.5 140V141M44.5 146V148M44.5 163V164M45.5 9V10M45.5 12V13M45.5 18V19M45.5 38V39M45.5 93V94M45.5 160V161M45.5 179V180M45.5 193V196M46.5 6V7M46.5 10V11M46.5 16V17M46.5 69V70M46.5 125V126M46.5 150V151M46.5 183V184M46.5 200V201M47.5 9V11M47.5 18V19M47.5 25V26M47.5 44V45M47.5 59V60M47.5 126V127M47.5 140V141M47.5 172V173M48.5 30V31M48.5 35V36M48.5 43V44M48.5 69V71M48.5 170V171M49.5 28V29M49.5 46V47M49.5 54V55M49.5 59V61M49.5 81V83M49.5 124V125M49.5 135V137M49.5 155V156M50.5 48V49M50.5 62V63M50.5 96V97M50.5 111V112M50.5 175V176M51.5 9V10M51.5 28V29M51.5 39V40M51.5 110V111M51.5 116V117M52.5 14V15M52.5 44V45M52.5 181V182M53.5 81V82M53.5 132V133M54.5 16V17M54.5 29V30M54.5 35V36M54.5 42V43M54.5 77V79M54.5 83V84M54.5 85V86M54.5 91V92M54.5 101V102M54.5 135V136M54.5 155V156M54.5 201V202M55.5 33V34M55.5 47V48M55.5 57V58M55.5 69V70M55.5 80V81M55.5 85V87M56.5 25V26M56.5 34V35M56.5 70V71M56.5 110V111M56.5 163V164M56.5 186V187M57.5 9V11M57.5 33V34M57.5 39V41M57.5 61V63M57.5 107V108M57.5 112V113M57.5 182V183M57.5 198V199M58.5 17V18M58.5 24V25M58.5 30V32M58.5 155V156M58.5 160V161M58.5 186V187M59.5 6V8M59.5 25V26M59.5 27V28M59.5 42V43M59.5 49V50M59.5 51V52M59.5 65V66M59.5 100V101M59.5 197V198M60.5 87V88M60.5 150V151M60.5 163V164M61.5 19V20M61.5 75V76M61.5 127V128M61.5 154V155M61.5 160V161M61.5 193V194M62.5 6V7M62.5 18V19M62.5 31V32M62.5 38V39M62.5 59V60M62.5 91V92M62.5 157V158M63.5 16V17M63.5 40V41M63.5 52V53M63.5 62V63M63.5 88V89M63.5 105V106M64.5 6V7M64.5 15V16M64.5 38V39M64.5 54V55M64.5 72V73M64.5 88V89M64.5 96V97M64.5 191V192M65.5 16V17M65.5 24V25M65.5 37V38M65.5 42V43M65.5 150V151M65.5 154V155M65.5 159V160M66.5 10V11M66.5 51V52M66.5 57V58M66.5 70V72M66.5 174V175M67.5 29V31M67.5 76V78M67.5 83V84M67.5 113V114M67.5 169V170M67.5 173V174M68.5 12V13M68.5 20V22M68.5 31V32M68.5 72V73M68.5 78V79M68.5 89V90M68.5 169V170M69.5 11V12M69.5 34V36M69.5 54V55M69.5 98V99M69.5 174V175M70.5 12V13M70.5 17V18M70.5 46V47M70.5 56V57M70.5 85V86M70.5 126V127M70.5 164V165M70.5 200V201M71.5 39V40M71.5 62V63M71.5 122V123M72.5 23V24M72.5 61V62M72.5 81V82M72.5 90V91M73.5 9V10M73.5 65V66M73.5 92V93M73.5 155V156M74.5 18V19M74.5 31V32M74.5 68V69M74.5 114V115M74.5 135V136M75.5 17V19M75.5 36V38M75.5 76V77M75.5 88V89M75.5 110V111M76.5 8V9M76.5 13V15M76.5 46V48M76.5 85V86M76.5 89V90M76.5 91V92M76.5 96V97M76.5 119V120M77.5 11V12M77.5 30V31M77.5 42V43M77.5 44V45M77.5 61V62M77.5 153V154M77.5 179V180M78.5 7V8M78.5 18V19M78.5 30V31M78.5 39V40M78.5 42V43M78.5 57V58M78.5 91V93M79.5 91V92M79.5 123V124M79.5 149V150M79.5 175V176M80.5 7V8M80.5 42V43M80.5 52V54M80.5 85V86M81.5 6V7M81.5 11V12M81.5 19V20M81.5 46V47M81.5 51V52M81.5 78V79M81.5 123V124M81.5 152V153M82.5 32V33M82.5 38V39M82.5 49V50M82.5 55V56M82.5 60V61M82.5 87V88M82.5 115V116M82.5 125V127M82.5 167V168M82.5 191V192M83.5 22V23M83.5 31V32M83.5 34V35M83.5 53V54M83.5 63V64M83.5 76V78M83.5 149V150M84.5 35V36M84.5 50V51M84.5 62V64M84.5 121V122M85.5 20V21M85.5 35V36M85.5 132V133M85.5 152V153M85.5 168V170M86.5 45V46M86.5 54V55M86.5 94V95M86.5 111V112M86.5 136V137M87.5 47V48M87.5 56V57M87.5 74V75M87.5 96V97M87.5 127V128M87.5 140V141M87.5 145V146M88.5 10V11M88.5 34V35M88.5 40V41M88.5 91V92M88.5 118V119M88.5 126V127M88.5 141V143M88.5 149V150M89.5 56V57M89.5 121V123M89.5 138V139M89.5 157V158M89.5 168V169M90.5 38V39M90.5 61V63M90.5 116V117M90.5 141V142M91.5 23V25M91.5 34V35M91.5 40V41M91.5 51V52M91.5 67V68M91.5 73V74M91.5 91V92M91.5 109V110M91.5 137V138M91.5 188V189M92.5 96V97M92.5 102V103M92.5 160V162M93.5 12V13M93.5 46V47M93.5 72V73M93.5 98V99M93.5 164V165M94.5 25V26M94.5 34V35M94.5 42V43M94.5 80V81M94.5 110V112M94.5 128V130M94.5 168V169M95.5 17V19M95.5 30V31M95.5 38V39M95.5 72V73M95.5 96V97M95.5 107V108M95.5 114V115M96.5 57V58M96.5 73V74M96.5 152V153M97.5 7V10M97.5 45V47M97.5 53V54M97.5 176V177M98.5 21V22M98.5 109V110M98.5 122V123M98.5 158V159M98.5 179V180M98.5 195V197M99.5 24V25M99.5 39V40M99.5 61V63M99.5 110V111M99.5 118V119M99.5 172V173M99.5 198V200M100.5 30V31M100.5 36V37M100.5 57V58M100.5 73V74M100.5 137V138M100.5 169V170M100.5 174V175M101.5 24V25M101.5 30V31M101.5 83V84M102.5 55V56M102.5 60V61M102.5 95V96M102.5 102V103M102.5 118V119M103.5 15V16M103.5 89V90M103.5 122V123M103.5 143V144M103.5 164V165M104.5 6V7M104.5 65V66M104.5 111V112M104.5 161V162M105.5 14V16M105.5 23V24M105.5 40V41M105.5 95V96M105.5 141V142M106.5 8V9M106.5 16V17M106.5 30V31M106.5 60V62M106.5 201V202M107.5 11V12M107.5 69V70M107.5 103V104M107.5 128V129M107.5 143V145M108.5 20V21M108.5 24V25M108.5 33V34M108.5 81V82M108.5 95V96M108.5 123V124M108.5 161V162M109.5 8V9M109.5 16V17M109.5 93V94M109.5 113V114M109.5 120V121M109.5 128V129M109.5 136V138M110.5 29V30M110.5 36V37M110.5 55V56M110.5 89V90M110.5 98V99M110.5 112V113M110.5 149V150M110.5 154V155M111.5 40V41M111.5 58V59M111.5 78V79M111.5 105V106M111.5 162V164M112.5 6V7M112.5 13V14M112.5 24V25M112.5 84V85M112.5 128V129M112.5 164V165M113.5 16V17M113.5 83V84M113.5 86V87M113.5 144V145M113.5 161V162M113.5 165V166M114.5 22V23M114.5 27V28M114.5 40V41M114.5 70V71M114.5 85V86M114.5 91V93M114.5 119V120M114.5 159V160M115.5 19V20M115.5 28V29M115.5 30V31M115.5 46V47M115.5 53V54M115.5 103V104M115.5 140V141M115.5 157V158M115.5 197V198M116.5 24V25M116.5 49V50M116.5 57V58M116.5 65V66M116.5 133V135M117.5 21V22M117.5 47V48M117.5 95V97M117.5 116V117M117.5 137V138M118.5 11V12M118.5 22V23M118.5 33V34M118.5 57V58M118.5 67V68M118.5 101V102M118.5 110V111M118.5 141V143M119.5 53V55M119.5 62V63M119.5 196V197M120.5 6V7M120.5 15V16M120.5 21V22M120.5 32V33M120.5 56V57M120.5 150V152M120.5 157V158M120.5 171V172M121.5 9V10M121.5 61V62M121.5 72V74M121.5 164V165M121.5 177V178M122.5 38V40M122.5 49V50M122.5 51V52M122.5 64V65M122.5 72V73M122.5 96V97M123.5 17V18M123.5 46V47M123.5 74V75M123.5 87V88M123.5 168V169M124.5 23V25M124.5 53V54M124.5 59V60M124.5 127V128M125.5 15V16M125.5 23V24M125.5 49V50M125.5 67V68M126.5 6V7M126.5 26V27M126.5 37V38M126.5 77V78M126.5 105V106M126.5 199V200M127.5 32V33M127.5 55V56M127.5 79V80M127.5 83V84M127.5 135V136M128.5 23V24M128.5 37V38M128.5 41V42M128.5 80V81M128.5 153V154M128.5 180V181M129.5 10V11M129.5 18V19M129.5 29V30M129.5 52V53M130.5 25V26M130.5 44V45M130.5 82V83M131.5 33V34M131.5 37V38M131.5 49V51M131.5 67V68M131.5 76V77M131.5 85V87M131.5 185V186M132.5 16V17M132.5 43V45M132.5 102V103M132.5 164V165M133.5 29V30M133.5 35V36M133.5 65V66M133.5 94V95M133.5 129V130M134.5 8V9M134.5 30V31M134.5 51V52M134.5 104V105M134.5 121V122M134.5 127V128M134.5 172V173M135.5 6V7M135.5 35V36M135.5 41V42M135.5 49V50M135.5 90V91M135.5 102V103M135.5 109V110M136.5 11V12M136.5 31V32M136.5 94V96M136.5 130V131M136.5 137V138M136.5 152V153M136.5 177V178M137.5 7V8M137.5 32V33M137.5 39V41M137.5 44V46M137.5 90V91M137.5 150V151M137.5 155V156M138.5 67V68M138.5 105V106M138.5 114V115M138.5 187V188M139.5 6V7M139.5 12V14M139.5 44V45M139.5 82V83M139.5 88V89M139.5 120V122M139.5 184V185M140.5 26V27M140.5 57V58M140.5 110V111M140.5 120V121M140.5 127V128M140.5 143V144M140.5 165V166M141.5 11V12M141.5 17V18M141.5 54V55M141.5 60V61M141.5 79V80M141.5 101V103M141.5 126V127M141.5 170V171M142.5 7V8M142.5 24V25M142.5 33V34M142.5 52V53M142.5 58V59M142.5 63V64M142.5 72V73M142.5 173V174M143.5 11V12M143.5 35V36M143.5 48V49M143.5 54V56M143.5 93V94M143.5 143V145M143.5 166V167M144.5 11V12M144.5 28V29M144.5 70V71M144.5 108V109M144.5 134V135M144.5 147V148M145.5 29V31M145.5 35V36M145.5 39V41M145.5 44V45M145.5 101V102M145.5 130V131M145.5 145V146M145.5 162V163M145.5 170V171M146.5 22V23M146.5 112V113M147.5 24V25M147.5 26V27M147.5 32V33M147.5 50V51M147.5 76V78M147.5 127V128M147.5 165V166M148.5 16V17M148.5 36V37M148.5 72V73M149.5 10V11M149.5 25V26M149.5 68V70M149.5 85V86M149.5 95V96M149.5 147V148M150.5 8V9M150.5 24V25M150.5 54V55M150.5 172V173M151.5 36V37M151.5 46V47M151.5 69V70M151.5 95V96M151.5 113V114M151.5 137V138M151.5 175V176M152.5 18V19M152.5 45V46M152.5 56V58M152.5 92V93M152.5 97V98M152.5 102V103M153.5 16V17M153.5 47V48M153.5 104V105M154.5 38V40M154.5 102V103M154.5 110V111M155.5 6V7M155.5 12V13M155.5 48V50M155.5 67V68M155.5 93V94M155.5 116V117M155.5 123V124M155.5 136V137M155.5 155V157M155.5 177V178M156.5 19V20M156.5 72V73M156.5 114V115M157.5 98V99M157.5 116V117M157.5 171V172M158.5 8V9M158.5 26V27M158.5 37V38M158.5 50V52M158.5 70V72M158.5 86V87M158.5 92V93M158.5 113V114M158.5 136V137M158.5 168V170M158.5 180V181M158.5 187V188M159.5 26V27M159.5 33V35M159.5 38V40M159.5 45V46M159.5 55V56M159.5 67V68M159.5 73V74M159.5 108V109M159.5 136V137M160.5 17V18M160.5 19V20M160.5 41V42M160.5 83V84M160.5 111V113M160.5 117V118M160.5 164V165M160.5 194V195M161.5 42V43M161.5 97V98M161.5 107V108M161.5 200V201M162.5 50V51M162.5 62V63M162.5 86V87M162.5 95V96M162.5 103V104M162.5 110V111M162.5 139V140M162.5 150V151M162.5 189V191M163.5 73V74M163.5 146V147M164.5 18V19M164.5 29V30M164.5 35V36M164.5 142V143M165.5 57V58M165.5 71V72M165.5 130V131M165.5 135V136M166.5 31V32M166.5 53V54M166.5 58V59M166.5 81V82M166.5 87V88M166.5 145V146M166.5 165V166M166.5 172V173M167.5 19V20M167.5 41V42M167.5 62V63M167.5 142V143M167.5 187V188M168.5 7V8M168.5 23V24M168.5 31V33M168.5 58V59M168.5 70V71M169.5 186V187M169.5 197V198M170.5 30V31M170.5 70V71M170.5 75V76M170.5 80V81M170.5 136V137M170.5 149V150M170.5 152V153M171.5 14V15M171.5 43V44M171.5 71V72M171.5 79V80M171.5 92V93M171.5 152V153M171.5 171V172M171.5 176V177M171.5 202V203M172.5 42V43M172.5 133V134M172.5 155V156M172.5 199V200M173.5 68V69M173.5 99V100M173.5 124V125M173.5 195V196M174.5 21V22M174.5 70V71M174.5 114V115M174.5 120V121M174.5 161V162M174.5 182V183M175.5 48V49M175.5 56V57M175.5 99V100M175.5 110V111M175.5 179V180M175.5 198V199M176.5 30V31M176.5 65V66M176.5 92V93M176.5 97V98M176.5 116V117M176.5 183V184M177.5 43V44M177.5 63V64M177.5 86V87M177.5 148V150M177.5 171V172M178.5 82V83M178.5 89V90M178.5 104V105M178.5 112V113M178.5 141V142M178.5 152V153M178.5 163V165M178.5 176V177M179.5 23V24M179.5 47V48M179.5 78V79M179.5 88V91M179.5 109V110M179.5 117V118M179.5 145V146M179.5 155V156M179.5 161V162M179.5 166V167M179.5 185V186M180.5 14V15M180.5 61V63M180.5 113V114M180.5 130V132M180.5 184V185M180.5 189V190M181.5 27V28M181.5 42V43M181.5 99V100M181.5 125V126M181.5 163V164M181.5 181V182M182.5 22V24M182.5 29V30M182.5 38V39M182.5 62V63M182.5 87V88M182.5 91V92M182.5 101V102M182.5 168V169M183.5 45V46M183.5 86V87M183.5 125V126M183.5 140V141M183.5 145V146M184.5 15V16M184.5 49V50M184.5 91V92M184.5 115V117M184.5 153V154M184.5 194V195M185.5 34V35M185.5 42V43M185.5 54V55M185.5 108V109M186.5 39V40M186.5 49V50M186.5 59V61M186.5 71V72M186.5 79V80M186.5 174V175M186.5 196V197M187.5 9V10M187.5 16V17M187.5 26V27M187.5 66V67M187.5 82V83M187.5 103V104M187.5 115V116M187.5 134V135M187.5 188V189M188.5 29V30M188.5 57V58M188.5 95V96M188.5 105V107M188.5 157V158M189.5 7V8M189.5 21V22M189.5 30V32M189.5 40V41M189.5 46V47M189.5 91V92M190.5 14V15M190.5 29V30M190.5 81V83M190.5 93V94M190.5 133V134M190.5 150V151M190.5 174V175M190.5 187V188M191.5 9V10M191.5 19V20M191.5 38V39M191.5 56V57M191.5 106V107M191.5 112V113M192.5 31V32M192.5 53V55M192.5 61V62M192.5 115V117M192.5 196V197M193.5 18V19M193.5 59V61M193.5 199V200M193.5 201V202M194.5 7V8M194.5 35V36M194.5 40V41M194.5 58V59M194.5 113V114M194.5 123V124M195.5 10V12M195.5 20V21M195.5 89V90M195.5 115V116M195.5 136V137M195.5 141V142M195.5 154V156M196.5 11V12M196.5 53V54M196.5 91V92M197.5 6V7M197.5 72V73M197.5 91V92M197.5 181V182M198.5 39V41M198.5 70V71M198.5 83V84M198.5 115V116M198.5 191V192M199.5 6V7M199.5 24V25M199.5 29V31M199.5 35V36M199.5 37V38M199.5 44V45M199.5 106V107M199.5 144V145M199.5 202V203M200.5 15V16M200.5 25V26M200.5 35V36M200.5 52V53M200.5 81V82M200.5 193V194M201.5 16V17M201.5 28V29M201.5 30V31M201.5 63V64M201.5 94V95M201.5 113V115M201.5 119V121M201.5 196V197"/>
<path stroke="#444444" d="M0.5 15V16M0.5 26V27M0.5 45V46M0.5 51V52M0.5 68V69M0.5 74V75M0.5 92V93M0.5 111V112M0.5 144V145M0.5 158V159M0.5 176V178M0.5 188V189M1.5 34V36M1.5 76V77M1.5 86V87M1.5 96V97M1.5 117V118M1.5 151V152M1.5 158V160M2.5 16V17M2.5 57V58M2.5 64V66M2.5 99V101M2.5 122V123M2.5 130V131M2.5 161V162M3.5 13V14M3.5 23V24M3.5 43V44M3.5 51V53M3.5 79V80M3.5 103V105M3.5 143V144M3.5 151V152M3.5 158V159M3.5 160V161M3.5 177V178M3.5 197V198M4.5 11V12M4.5 25V26M4.5 39V40M4.5 63V64M4.5 84V85M4.5 129V130M4.5 140V141M4.5 150V152M4.5 168V170M4.5 187V189M5.5 23V25M5.5 30V31M5.5 37V38M5.5 54V55M5.5 73V74M5.5 102V103M5.5 151V152M5.5 168V169M5.5 177V178M6.5 30V31M6.5 42V43M6.5 68V69M6.5 102V103M6.5 151V153M6.5 196V197M7.5 10V11M7.5 27V28M7.5 35V36M7.5 38V39M7.5 43V45M7.5 56V58M7.5 76V77M7.5 95V96M7.5 134V135M7.5 140V142M7.5 150V152M7.5 159V160M7.5 169V171M7.5 177V178M7.5 194V195M8.5 12V13M8.5 43V44M8.5 61V63M8.5 68V69M8.5 83V84M8.5 88V89M8.5 111V113M8.5 124V125M8.5 151V152M8.5 161V162M8.5 185V187M9.5 29V30M9.5 40V41M9.5 42V43M9.5 48V49M9.5 77V79M9.5 97V99M9.5 112V113M9.5 133V135M9.5 151V152M9.5 158V160M9.5 188V189M9.5 194V195M10.5 24V25M10.5 34V35M10.5 36V37M10.5 48V49M10.5 52V53M10.5 58V59M10.5 74V75M10.5 88V90M10.5 102V103M10.5 131V132M10.5 150V151M10.5 160V161M10.5 169V171M10.5 177V179M10.5 196V198M11.5 55V56M11.5 70V71M11.5 91V92M11.5 96V98M11.5 105V106M11.5 127V128M11.5 152V153M11.5 160V162M12.5 6V7M12.5 12V13M12.5 62V63M12.5 71V72M12.5 106V107M12.5 124V125M12.5 137V138M12.5 142V143M12.5 154V155M12.5 161V162M12.5 163V164M12.5 189V191M13.5 47V48M13.5 89V90M13.5 95V96M13.5 154V155M13.5 170V171M13.5 178V180M13.5 188V190M14.5 13V14M14.5 28V30M14.5 33V34M14.5 57V58M14.5 59V60M14.5 65V66M14.5 85V86M14.5 98V99M14.5 117V118M14.5 146V147M14.5 180V181M15.5 15V16M15.5 34V35M15.5 40V41M15.5 47V48M15.5 80V82M15.5 90V91M15.5 95V96M15.5 100V101M15.5 105V106M15.5 116V117M15.5 136V138M15.5 172V174M15.5 181V182M15.5 197V198M16.5 44V45M16.5 51V52M16.5 75V76M16.5 92V93M16.5 94V95M16.5 100V101M16.5 126V127M16.5 145V146M16.5 181V183M17.5 13V14M17.5 22V23M17.5 24V25M17.5 40V43M17.5 46V47M17.5 52V53M17.5 58V59M17.5 77V78M17.5 111V112M17.5 165V166M17.5 198V200M18.5 4V6M18.5 30V31M18.5 35V37M18.5 42V43M18.5 59V60M18.5 68V70M18.5 73V74M18.5 111V112M18.5 125V127M18.5 137V138M18.5 183V184M19.5 56V57M19.5 64V65M19.5 70V72M19.5 94V95M19.5 116V117M19.5 146V147M19.5 171V172M20.5 7V8M20.5 18V19M20.5 20V21M20.5 31V32M20.5 35V36M20.5 41V42M20.5 58V59M20.5 88V89M20.5 100V101M20.5 105V106M20.5 112V113M20.5 173V174M20.5 182V183M20.5 191V192M21.5 17V18M21.5 24V25M21.5 37V38M21.5 54V55M21.5 68V69M21.5 77V78M21.5 129V130M21.5 143V144M21.5 161V162M21.5 179V182M21.5 197V200M22.5 6V7M22.5 29V30M22.5 43V44M22.5 74V75M22.5 86V87M22.5 145V146M22.5 163V164M22.5 179V180M22.5 188V189M23.5 8V9M23.5 33V34M23.5 38V39M23.5 48V49M23.5 60V61M23.5 84V85M23.5 96V97M23.5 103V104M23.5 109V111M23.5 143V145M23.5 171V173M23.5 178V179M23.5 187V189M23.5 196V199M24.5 29V31M24.5 52V54M24.5 69V70M24.5 75V76M24.5 83V84M24.5 93V94M24.5 97V98M24.5 104V105M24.5 109V110M24.5 127V128M24.5 134V135M24.5 177V178M24.5 197V199M25.5 17V18M25.5 48V49M25.5 71V72M25.5 81V82M25.5 92V93M25.5 108V109M25.5 145V146M25.5 152V153M25.5 169V171M26.5 25V26M26.5 27V28M26.5 37V38M26.5 44V45M26.5 57V58M26.5 147V148M26.5 170V171M26.5 188V190M27.5 15V16M27.5 23V24M27.5 33V34M27.5 73V74M27.5 78V79M27.5 85V86M27.5 90V92M27.5 94V95M27.5 102V103M27.5 107V108M27.5 116V117M27.5 153V155M27.5 162V163M28.5 36V37M28.5 75V76M28.5 110V112M28.5 125V126M28.5 141V142M28.5 153V154M28.5 170V172M29.5 25V26M29.5 38V39M29.5 52V53M29.5 72V73M29.5 76V77M29.5 80V81M29.5 96V99M29.5 133V135M29.5 161V163M29.5 188V190M30.5 49V51M30.5 67V68M30.5 87V88M30.5 108V109M30.5 112V113M30.5 117V118M30.5 153V154M30.5 160V161M31.5 57V59M31.5 63V64M31.5 65V66M31.5 70V71M31.5 75V76M31.5 79V80M31.5 88V90M31.5 95V97M31.5 123V124M31.5 129V130M31.5 176V178M32.5 33V34M32.5 38V39M32.5 54V55M32.5 109V111M32.5 116V117M32.5 132V133M32.5 168V169M33.5 10V11M33.5 25V26M33.5 34V35M33.5 40V41M33.5 52V53M33.5 68V69M33.5 70V71M33.5 96V97M33.5 105V106M33.5 112V113M33.5 145V146M33.5 151V152M33.5 170V171M33.5 186V187M34.5 15V16M34.5 31V32M34.5 49V50M34.5 65V66M34.5 103V104M34.5 134V137M34.5 149V150M35.5 67V68M35.5 85V87M35.5 104V105M35.5 108V110M35.5 139V140M35.5 161V162M35.5 178V179M35.5 185V187M36.5 91V92M36.5 96V97M36.5 101V102M36.5 126V127M36.5 133V134M36.5 144V145M36.5 150V151M36.5 168V169M36.5 178V179M36.5 195V196M37.5 8V9M37.5 14V15M37.5 19V20M37.5 47V49M37.5 63V64M37.5 75V76M37.5 96V97M37.5 179V180M37.5 181V182M37.5 195V196M38.5 6V7M38.5 9V10M38.5 20V21M38.5 35V36M38.5 51V53M38.5 71V72M38.5 77V78M38.5 79V80M38.5 84V86M38.5 115V116M38.5 150V152M38.5 164V165M38.5 183V184M39.5 50V51M39.5 63V64M39.5 88V89M39.5 113V114M39.5 124V125M39.5 134V135M39.5 152V153M39.5 178V179M40.5 6V7M40.5 55V56M40.5 63V65M40.5 81V82M40.5 107V108M40.5 162V163M40.5 198V200M41.5 14V15M41.5 34V35M41.5 38V39M41.5 47V48M41.5 60V61M41.5 67V68M41.5 76V77M41.5 90V91M41.5 97V98M41.5 103V104M41.5 152V153M41.5 164V165M41.5 189V190M42.5 18V19M42.5 22V23M42.5 29V30M42.5 46V47M42.5 56V57M42.5 100V101M42.5 150V152M42.5 160V161M42.5 168V169M42.5 182V183M43.5 20V21M43.5 28V29M43.5 54V56M43.5 64V65M43.5 80V82M43.5 98V99M43.5 105V106M43.5 130V131M43.5 136V137M43.5 157V158M43.5 187V188M44.5 6V7M44.5 36V37M44.5 80V81M44.5 90V91M44.5 128V129M44.5 131V132M44.5 141V142M44.5 167V168M44.5 172V174M44.5 192V193M45.5 24V25M45.5 26V27M45.5 30V31M45.5 57V58M45.5 59V60M45.5 89V90M45.5 112V113M45.5 164V165M45.5 174V175M45.5 180V181M45.5 196V197M46.5 12V13M46.5 21V22M46.5 23V24M46.5 35V36M46.5 40V41M46.5 43V44M46.5 49V50M46.5 62V64M46.5 70V71M46.5 85V86M46.5 103V104M46.5 151V152M46.5 156V157M46.5 170V171M46.5 177V179M46.5 201V202M47.5 8V9M47.5 12V13M47.5 39V40M47.5 49V50M47.5 60V61M47.5 74V76M47.5 105V106M47.5 139V140M47.5 145V146M47.5 173V174M47.5 180V181M48.5 8V9M48.5 44V45M48.5 50V51M48.5 61V62M48.5 76V77M48.5 103V104M48.5 118V119M48.5 123V124M48.5 136V137M48.5 158V159M48.5 172V173M49.5 96V97M49.5 107V109M49.5 115V116M49.5 172V174M50.5 14V15M50.5 31V32M50.5 61V62M50.5 77V78M50.5 97V98M50.5 132V133M50.5 157V158M50.5 171V172M50.5 176V177M51.5 26V27M51.5 41V42M51.5 52V53M51.5 75V76M51.5 82V83M51.5 153V154M51.5 157V158M51.5 194V195M52.5 7V8M52.5 32V33M52.5 43V44M52.5 45V46M52.5 72V73M52.5 83V84M52.5 152V153M52.5 156V157M52.5 180V181M52.5 187V188M53.5 22V23M53.5 26V27M53.5 37V38M53.5 43V44M53.5 82V83M53.5 103V104M53.5 109V111M53.5 124V125M53.5 155V156M53.5 164V165M54.5 19V20M54.5 41V42M54.5 47V48M54.5 90V91M54.5 100V101M54.5 102V103M54.5 109V110M54.5 116V117M54.5 125V126M54.5 167V169M54.5 195V196M55.5 29V31M55.5 39V40M55.5 74V76M55.5 79V80M55.5 87V88M55.5 96V97M55.5 113V114M55.5 120V121M55.5 138V139M55.5 144V145M55.5 190V191M56.5 11V12M56.5 18V19M56.5 48V49M56.5 63V64M56.5 71V72M56.5 87V89M56.5 92V93M56.5 97V98M56.5 102V103M56.5 117V118M56.5 141V142M56.5 155V156M56.5 164V165M57.5 14V16M57.5 27V28M57.5 34V35M57.5 41V42M57.5 67V69M57.5 85V86M57.5 95V96M57.5 151V152M57.5 156V157M57.5 167V168M57.5 181V182M57.5 189V191M57.5 199V200M58.5 37V38M58.5 43V44M58.5 59V60M58.5 63V64M58.5 81V82M58.5 88V90M58.5 103V104M58.5 120V121M58.5 139V140M58.5 149V150M58.5 166V168M58.5 178V179M58.5 185V186M58.5 193V194M58.5 195V196M58.5 199V201M59.5 12V13M59.5 20V21M59.5 36V37M59.5 43V44M59.5 72V73M59.5 90V91M59.5 96V97M59.5 107V108M59.5 109V110M59.5 136V137M59.5 179V181M60.5 9V10M60.5 23V24M60.5 62V64M60.5 88V89M60.5 101V102M60.5 105V106M60.5 138V140M60.5 176V177M60.5 200V201M61.5 11V12M61.5 25V26M61.5 47V48M61.5 56V57M61.5 76V77M61.5 110V111M61.5 121V122M61.5 126V127M61.5 133V134M61.5 141V142M61.5 167V168M61.5 194V195M62.5 32V33M62.5 39V40M62.5 62V64M62.5 69V70M62.5 75V76M62.5 84V86M62.5 100V102M62.5 109V110M62.5 115V116M62.5 124V125M62.5 144V145M62.5 156V157M62.5 172V173M62.5 185V186M63.5 33V34M63.5 39V40M63.5 41V42M63.5 56V57M63.5 71V72M63.5 77V78M63.5 82V83M63.5 137V138M63.5 162V164M63.5 170V171M63.5 182V183M64.5 33V34M64.5 40V41M64.5 45V47M64.5 55V56M64.5 64V65M64.5 87V88M64.5 97V98M64.5 112V114M64.5 119V120M64.5 125V126M64.5 133V134M64.5 145V146M64.5 166V167M64.5 176V177M64.5 190V191M65.5 15V16M65.5 31V33M65.5 43V44M65.5 63V64M65.5 128V130M65.5 144V146M65.5 155V156M65.5 160V161M65.5 181V182M66.5 44V46M66.5 59V60M66.5 64V66M66.5 79V80M66.5 106V107M66.5 134V135M66.5 140V142M66.5 156V157M66.5 165V166M66.5 191V192M67.5 28V29M67.5 103V104M67.5 114V115M67.5 138V139M67.5 144V145M67.5 146V147M67.5 182V183M67.5 197V199M68.5 6V7M68.5 26V27M68.5 46V47M68.5 73V74M68.5 77V78M68.5 104V105M68.5 122V123M68.5 141V143M68.5 180V181M68.5 200V201M69.5 18V19M69.5 58V59M69.5 67V68M69.5 69V70M69.5 74V75M69.5 81V83M69.5 92V93M69.5 99V100M69.5 108V109M69.5 119V120M69.5 121V122M69.5 182V183M69.5 190V191M70.5 11V12M70.5 40V41M70.5 77V78M70.5 98V99M70.5 145V147M71.5 11V12M71.5 33V34M71.5 35V36M71.5 58V59M71.5 67V68M71.5 73V75M71.5 86V88M71.5 92V94M71.5 121V122M71.5 133V134M71.5 173V174M72.5 10V11M72.5 31V32M72.5 33V34M72.5 39V40M72.5 62V63M72.5 68V69M72.5 82V83M72.5 91V92M72.5 132V133M72.5 169V171M73.5 17V18M73.5 47V49M73.5 79V81M73.5 94V95M73.5 110V111M73.5 152V153M73.5 192V193M74.5 4V5M74.5 11V12M74.5 21V22M74.5 37V39M74.5 115V116M74.5 167V168M74.5 173V174M74.5 187V188M74.5 193V195M75.5 5V6M75.5 49V50M75.5 51V52M75.5 87V88M75.5 109V110M75.5 128V129M75.5 139V140M75.5 150V151M75.5 201V202M76.5 7V8M76.5 23V26M76.5 33V34M76.5 72V73M76.5 84V85M76.5 104V106M76.5 148V149M76.5 151V152M76.5 166V167M76.5 181V182M77.5 18V19M77.5 20V21M77.5 52V53M77.5 60V61M77.5 67V68M77.5 178V179M78.5 8V9M78.5 14V15M78.5 58V59M78.5 82V83M78.5 153V154M79.5 13V15M79.5 32V33M79.5 45V46M79.5 59V61M79.5 89V90M79.5 176V177M79.5 184V186M79.5 192V193M79.5 201V202M80.5 10V11M80.5 36V37M80.5 43V44M80.5 61V62M80.5 73V76M80.5 84V85M80.5 107V108M80.5 134V135M80.5 140V141M80.5 153V154M80.5 172V173M80.5 178V180M80.5 188V189M81.5 52V53M81.5 109V110M81.5 124V125M82.5 14V15M82.5 27V28M82.5 61V62M82.5 68V69M82.5 74V75M82.5 114V115M82.5 120V121M82.5 141V142M82.5 148V149M82.5 162V163M82.5 168V169M82.5 185V186M83.5 35V36M83.5 41V42M83.5 45V46M83.5 52V53M83.5 59V60M83.5 70V71M83.5 111V113M83.5 123V124M83.5 138V139M83.5 165V166M83.5 179V180M84.5 6V7M84.5 18V19M84.5 33V34M84.5 87V88M84.5 102V103M84.5 127V128M84.5 201V202M85.5 10V11M85.5 28V29M85.5 50V51M85.5 84V85M85.5 90V91M85.5 125V126M85.5 131V132M85.5 146V147M85.5 175V177M85.5 185V186M85.5 198V199M86.5 6V7M86.5 23V24M86.5 28V29M86.5 34V36M86.5 48V49M86.5 64V65M86.5 81V82M86.5 95V96M86.5 99V100M86.5 105V107M86.5 112V113M86.5 121V122M86.5 150V151M86.5 157V158M86.5 172V174M86.5 184V186M87.5 14V15M87.5 35V37M87.5 41V42M87.5 48V49M87.5 58V59M87.5 97V98M87.5 109V110M87.5 146V147M87.5 153V154M87.5 158V159M88.5 6V7M88.5 11V13M88.5 28V29M88.5 39V40M88.5 53V54M88.5 65V66M88.5 71V72M88.5 117V118M88.5 124V125M88.5 135V136M88.5 148V149M88.5 154V156M88.5 186V187M88.5 192V193M89.5 26V27M89.5 114V115M89.5 156V157M89.5 162V163M89.5 167V168M89.5 176V177M89.5 199V200M90.5 10V14M90.5 37V38M90.5 53V54M90.5 84V85M90.5 110V111M90.5 118V119M90.5 142V143M90.5 160V162M91.5 9V11M91.5 18V19M91.5 39V40M91.5 41V42M91.5 52V53M91.5 79V80M91.5 92V93M91.5 107V108M91.5 138V139M91.5 142V143M91.5 149V150M91.5 155V157M91.5 165V166M91.5 187V188M92.5 34V35M92.5 36V37M92.5 42V43M92.5 67V68M92.5 95V96M92.5 103V104M92.5 109V110M92.5 145V146M92.5 151V152M92.5 170V171M92.5 182V184M92.5 199V200M93.5 15V16M93.5 37V38M93.5 39V40M93.5 48V49M93.5 55V56M93.5 100V101M93.5 106V107M93.5 113V115M93.5 130V131M93.5 163V164M93.5 173V174M93.5 179V181M93.5 186V187M93.5 195V196M94.5 6V7M94.5 24V25M94.5 26V27M94.5 41V42M94.5 53V54M94.5 59V60M94.5 94V95M94.5 118V119M94.5 166V167M94.5 176V177M94.5 185V186M95.5 46V47M95.5 98V99M95.5 108V109M95.5 115V116M95.5 120V121M95.5 139V140M95.5 144V145M95.5 150V151M95.5 157V158M95.5 172V173M96.5 35V36M96.5 58V59M96.5 67V68M96.5 154V155M96.5 177V179M96.5 185V186M96.5 191V192M96.5 197V199M97.5 16V17M97.5 54V55M97.5 58V59M97.5 88V89M97.5 94V96M97.5 106V107M97.5 125V126M97.5 135V136M97.5 147V148M97.5 155V156M97.5 177V178M98.5 11V12M98.5 14V15M98.5 32V33M98.5 38V39M98.5 50V51M98.5 55V56M98.5 107V108M98.5 114V116M98.5 168V169M98.5 174V175M98.5 180V181M98.5 184V185M98.5 189V190M99.5 72V73M99.5 111V112M99.5 119V120M99.5 157V158M99.5 177V178M99.5 186V187M100.5 15V16M100.5 24V25M100.5 26V27M100.5 29V30M100.5 37V38M100.5 66V67M100.5 96V97M100.5 109V110M100.5 114V115M100.5 135V136M100.5 143V144M100.5 168V169M100.5 190V191M101.5 22V23M101.5 31V32M101.5 36V37M101.5 81V82M101.5 98V99M101.5 100V101M101.5 105V106M101.5 112V114M101.5 139V142M101.5 151V152M101.5 162V163M101.5 186V188M102.5 27V28M102.5 31V32M102.5 44V46M102.5 85V86M102.5 94V95M102.5 101V102M102.5 113V114M102.5 124V125M102.5 135V136M102.5 166V167M102.5 168V169M102.5 191V193M103.5 41V42M103.5 86V87M103.5 88V89M103.5 94V95M103.5 103V104M103.5 108V109M103.5 132V133M103.5 137V138M103.5 163V164M103.5 189V190M104.5 12V13M104.5 45V46M104.5 56V57M104.5 64V65M104.5 66V67M104.5 112V113M104.5 119V120M105.5 9V10M105.5 41V42M105.5 50V53M105.5 69V70M105.5 89V90M105.5 103V104M105.5 116V117M105.5 123V124M105.5 128V129M105.5 130V131M105.5 136V137M105.5 146V147M105.5 152V154M105.5 161V162M105.5 165V166M105.5 185V186M106.5 6V7M106.5 14V15M106.5 31V32M106.5 41V42M106.5 46V47M106.5 67V68M106.5 99V100M106.5 109V110M106.5 139V140M106.5 144V145M106.5 164V165M107.5 13V14M107.5 25V26M107.5 51V53M107.5 58V59M107.5 79V80M107.5 85V86M107.5 129V130M107.5 149V151M107.5 155V156M107.5 182V183M108.5 11V12M108.5 31V32M108.5 74V76M108.5 102V103M108.5 124V125M108.5 164V165M109.5 15V16M109.5 25V26M109.5 51V52M109.5 69V70M109.5 95V96M109.5 114V115M109.5 129V130M109.5 156V158M109.5 188V189M110.5 12V13M110.5 62V63M110.5 67V68M110.5 73V74M110.5 132V133M110.5 150V151M110.5 155V156M110.5 159V160M110.5 174V175M110.5 198V199M111.5 11V12M111.5 15V16M111.5 57V58M111.5 79V80M111.5 101V102M111.5 117V118M111.5 135V136M111.5 151V152M111.5 158V159M112.5 14V15M112.5 16V17M112.5 40V41M112.5 59V61M112.5 104V105M112.5 147V149M112.5 154V156M113.5 13V14M113.5 21V22M113.5 35V36M113.5 54V56M113.5 67V69M113.5 87V88M113.5 114V115M113.5 135V136M113.5 143V144M113.5 145V146M113.5 173V174M114.5 32V33M114.5 36V37M114.5 69V70M114.5 81V82M114.5 84V85M114.5 124V125M114.5 126V127M114.5 140V141M114.5 153V155M114.5 176V177M114.5 187V188M115.5 41V42M115.5 61V62M115.5 96V97M115.5 102V103M115.5 129V130M115.5 162V163M115.5 166V167M115.5 169V170M115.5 179V181M115.5 198V199M116.5 10V11M116.5 19V20M116.5 21V22M116.5 23V24M116.5 31V32M116.5 34V35M116.5 42V43M116.5 51V52M116.5 66V67M116.5 120V121M116.5 173V175M117.5 14V15M117.5 20V21M117.5 23V24M117.5 34V35M117.5 46V47M117.5 60V62M117.5 101V102M117.5 117V118M117.5 152V153M117.5 192V193M117.5 202V203M118.5 9V10M118.5 25V26M118.5 32V33M118.5 58V59M118.5 102V103M118.5 111V112M119.5 33V34M119.5 35V36M119.5 44V45M119.5 63V64M119.5 114V115M119.5 190V191M120.5 47V48M120.5 55V56M120.5 80V81M120.5 101V102M120.5 130V131M120.5 136V137M120.5 158V159M120.5 177V178M120.5 193V194M121.5 18V19M121.5 60V61M121.5 74V75M121.5 84V86M121.5 104V105M121.5 155V157M121.5 165V166M121.5 194V195M122.5 7V8M122.5 12V13M122.5 24V26M122.5 33V34M122.5 43V44M122.5 59V60M122.5 75V76M122.5 97V98M122.5 128V130M122.5 135V136M122.5 162V163M123.5 30V31M123.5 36V37M123.5 61V62M123.5 72V73M123.5 88V89M123.5 104V105M123.5 114V115M123.5 119V120M123.5 130V131M123.5 191V192M123.5 194V195M124.5 12V13M124.5 16V17M124.5 49V50M124.5 60V61M124.5 72V73M124.5 80V82M124.5 106V107M124.5 112V113M124.5 120V121M124.5 128V129M124.5 153V154M124.5 172V173M125.5 22V23M125.5 27V28M125.5 29V30M125.5 33V34M125.5 51V52M125.5 56V57M125.5 89V90M125.5 144V145M125.5 169V171M125.5 190V191M126.5 38V39M126.5 43V44M126.5 85V86M126.5 147V148M126.5 168V169M126.5 200V201M127.5 27V29M127.5 84V85M127.5 103V104M127.5 109V111M127.5 119V120M127.5 128V130M127.5 134V135M127.5 141V142M127.5 161V162M127.5 196V197M128.5 16V17M128.5 59V60M128.5 84V86M128.5 96V98M128.5 137V139M128.5 146V148M128.5 154V155M128.5 163V165M128.5 174V175M128.5 179V180M128.5 181V182M129.5 11V12M129.5 28V29M129.5 60V62M129.5 88V89M129.5 116V117M129.5 142V143M129.5 150V152M129.5 177V178M129.5 184V185M129.5 195V196M129.5 200V201M130.5 11V12M130.5 35V36M130.5 43V44M130.5 65V67M130.5 71V73M130.5 133V134M130.5 167V169M130.5 177V178M130.5 182V183M130.5 195V196M131.5 6V7M131.5 16V17M131.5 23V24M131.5 56V57M131.5 98V99M131.5 104V105M131.5 110V111M131.5 191V192M132.5 28V29M132.5 38V39M132.5 58V59M132.5 66V67M132.5 76V77M132.5 91V92M132.5 103V104M132.5 143V144M132.5 148V149M132.5 163V164M132.5 186V187M132.5 202V203M133.5 9V10M133.5 14V15M133.5 30V31M133.5 71V73M133.5 81V82M133.5 114V115M133.5 118V119M133.5 135V137M133.5 146V147M133.5 160V162M133.5 176V177M133.5 182V183M133.5 199V200M134.5 6V7M134.5 25V26M134.5 46V47M134.5 52V53M134.5 56V57M134.5 83V84M134.5 113V115M134.5 122V123M134.5 148V149M134.5 179V180M134.5 185V186M135.5 21V22M135.5 29V30M135.5 47V48M135.5 57V58M135.5 78V79M135.5 89V90M135.5 91V92M135.5 110V111M135.5 144V145M135.5 168V169M135.5 180V182M136.5 12V13M136.5 43V45M136.5 59V61M136.5 86V87M136.5 107V108M136.5 111V112M136.5 125V126M136.5 131V132M136.5 153V154M136.5 178V179M136.5 193V194M137.5 26V27M137.5 51V52M137.5 75V76M137.5 80V81M137.5 115V116M137.5 136V137M137.5 162V163M137.5 186V187M137.5 199V201M138.5 12V13M138.5 33V34M138.5 66V67M138.5 77V78M138.5 81V82M138.5 94V96M138.5 106V107M138.5 131V133M138.5 157V158M139.5 24V26M139.5 43V44M139.5 54V55M139.5 59V60M139.5 65V66M139.5 76V77M139.5 110V111M139.5 122V124M139.5 130V131M139.5 177V178M139.5 183V184M140.5 15V16M140.5 25V26M140.5 27V28M140.5 39V40M140.5 52V53M140.5 79V80M140.5 89V90M140.5 98V99M140.5 142V143M140.5 144V145M140.5 166V167M140.5 187V188M141.5 20V21M141.5 42V44M141.5 47V49M141.5 68V69M141.5 95V96M141.5 114V115M141.5 132V133M141.5 155V156M142.5 32V33M142.5 101V102M142.5 131V132M142.5 172V173M142.5 200V201M143.5 66V67M143.5 85V87M143.5 94V95M143.5 125V126M143.5 137V139M143.5 180V181M144.5 8V9M144.5 19V20M144.5 43V45M144.5 61V62M144.5 71V72M144.5 89V91M144.5 113V114M144.5 115V116M144.5 120V122M144.5 129V130M144.5 135V136M144.5 141V143M144.5 171V172M144.5 202V203M145.5 6V7M145.5 19V20M145.5 84V85M145.5 116V117M145.5 169V170M145.5 197V198M146.5 9V10M146.5 25V26M146.5 36V38M146.5 80V82M146.5 97V98M146.5 103V104M146.5 111V112M146.5 124V126M146.5 156V157M146.5 200V201M147.5 10V12M147.5 20V21M147.5 37V38M147.5 48V49M147.5 95V96M147.5 117V118M147.5 122V124M147.5 157V158M147.5 166V167M147.5 184V186M147.5 191V192M147.5 202V203M148.5 19V20M148.5 26V27M148.5 45V46M148.5 63V64M148.5 79V80M148.5 85V86M148.5 92V94M148.5 107V109M148.5 125V126M148.5 134V135M148.5 152V154M148.5 168V170M148.5 199V201M149.5 6V7M149.5 15V16M149.5 47V48M149.5 52V53M149.5 86V87M149.5 105V106M149.5 121V123M149.5 140V141M149.5 149V150M149.5 190V191M150.5 9V10M150.5 31V32M150.5 90V92M150.5 117V119M150.5 133V134M150.5 144V145M150.5 159V160M150.5 173V174M150.5 183V184M150.5 193V194M151.5 30V31M151.5 39V40M151.5 45V46M151.5 54V55M151.5 68V69M151.5 108V109M151.5 148V149M151.5 152V153M151.5 159V160M151.5 163V165M151.5 169V170M151.5 174V175M151.5 180V182M152.5 25V26M152.5 44V45M152.5 81V83M152.5 96V97M152.5 109V110M152.5 119V120M152.5 166V167M152.5 194V195M153.5 31V32M153.5 37V38M153.5 48V49M153.5 89V90M153.5 98V100M153.5 116V118M153.5 147V149M153.5 156V157M154.5 9V10M154.5 31V32M154.5 47V48M154.5 51V53M154.5 83V84M154.5 85V86M154.5 97V98M154.5 115V116M154.5 135V136M154.5 165V166M154.5 171V172M154.5 180V182M154.5 197V199M155.5 54V55M155.5 60V61M155.5 66V67M155.5 115V116M155.5 122V123M155.5 149V150M155.5 168V169M155.5 183V185M156.5 14V15M156.5 21V22M156.5 28V29M156.5 30V31M156.5 39V41M156.5 78V79M156.5 94V95M156.5 105V107M156.5 119V120M156.5 130V131M156.5 145V146M156.5 154V155M156.5 180V182M156.5 188V189M157.5 15V16M157.5 23V24M157.5 44V45M157.5 82V83M157.5 96V97M157.5 115V116M157.5 134V136M157.5 165V166M157.5 177V178M157.5 189V190M158.5 17V18M158.5 60V61M158.5 76V77M158.5 85V86M158.5 91V92M158.5 105V107M158.5 125V126M158.5 131V132M158.5 185V186M158.5 192V193M159.5 15V16M159.5 27V29M159.5 68V69M159.5 72V73M159.5 78V80M159.5 95V96M159.5 102V103M159.5 107V108M159.5 115V116M159.5 178V179M159.5 184V185M159.5 189V190M160.5 18V19M160.5 26V27M160.5 59V60M160.5 84V85M160.5 89V90M160.5 100V101M160.5 105V106M160.5 123V124M160.5 137V138M160.5 145V146M160.5 150V152M160.5 157V158M160.5 163V164M160.5 176V177M160.5 183V184M160.5 192V193M161.5 9V10M161.5 25V27M161.5 61V62M161.5 91V92M161.5 133V134M161.5 138V139M161.5 153V154M161.5 160V161M161.5 174V175M161.5 192V193M161.5 199V200M162.5 20V21M162.5 30V31M162.5 43V45M162.5 61V62M162.5 97V98M162.5 133V134M162.5 149V150M162.5 164V165M162.5 171V172M162.5 183V184M162.5 196V197M163.5 11V12M163.5 48V49M163.5 64V65M163.5 69V70M163.5 74V75M163.5 81V83M163.5 99V101M163.5 138V139M163.5 142V143M163.5 147V149M164.5 30V31M164.5 34V35M164.5 40V41M164.5 65V66M164.5 67V69M164.5 78V79M164.5 93V95M164.5 162V163M164.5 178V179M165.5 31V32M165.5 33V34M165.5 38V39M165.5 50V51M165.5 95V96M165.5 118V119M165.5 143V144M165.5 167V169M165.5 177V178M166.5 43V45M166.5 88V89M166.5 103V104M166.5 131V132M166.5 164V165M167.5 29V30M167.5 40V41M167.5 45V47M167.5 51V52M167.5 63V64M167.5 68V70M167.5 98V100M167.5 108V109M167.5 120V121M167.5 154V155M167.5 160V163M168.5 8V9M168.5 14V15M168.5 17V18M168.5 37V39M168.5 57V58M168.5 69V70M168.5 71V72M168.5 88V89M168.5 187V188M168.5 200V201M169.5 11V13M169.5 25V26M169.5 33V34M169.5 42V43M169.5 47V49M169.5 53V54M169.5 58V59M169.5 64V66M169.5 81V82M169.5 133V134M169.5 146V147M169.5 152V153M169.5 159V160M169.5 187V188M170.5 6V7M170.5 11V12M170.5 34V35M170.5 49V50M170.5 69V70M170.5 74V75M170.5 128V129M170.5 137V138M170.5 153V154M170.5 162V163M170.5 167V169M170.5 174V175M170.5 187V188M170.5 194V195M171.5 45V46M171.5 53V55M171.5 60V61M171.5 65V66M171.5 72V73M171.5 164V166M171.5 170V171M172.5 6V7M172.5 15V16M172.5 20V21M172.5 22V23M172.5 52V53M172.5 90V91M172.5 105V106M172.5 132V133M172.5 198V199M172.5 200V201M173.5 23V24M173.5 32V33M173.5 34V35M173.5 56V57M173.5 66V67M173.5 82V83M173.5 130V132M173.5 143V144M173.5 178V180M173.5 183V184M173.5 194V195M174.5 6V7M174.5 24V25M174.5 32V33M174.5 40V41M174.5 52V53M174.5 119V120M174.5 187V188M174.5 197V198M175.5 15V17M175.5 21V22M175.5 26V27M175.5 31V32M175.5 35V36M175.5 37V38M175.5 44V45M175.5 65V67M175.5 72V73M175.5 94V95M175.5 111V112M175.5 145V147M175.5 185V186M175.5 187V188M175.5 199V200M176.5 28V29M176.5 46V47M176.5 66V67M176.5 134V136M176.5 168V169M176.5 173V174M176.5 189V191M177.5 6V8M177.5 16V17M177.5 36V37M177.5 45V46M177.5 68V69M177.5 82V83M177.5 101V102M177.5 107V109M177.5 158V160M177.5 178V179M177.5 188V189M178.5 70V71M178.5 95V96M178.5 106V107M178.5 111V112M178.5 123V125M178.5 142V143M178.5 153V154M178.5 157V159M178.5 182V183M178.5 190V191M179.5 8V9M179.5 28V29M179.5 55V56M179.5 59V60M179.5 61V62M179.5 79V80M179.5 87V88M179.5 93V94M179.5 100V103M179.5 146V147M179.5 167V168M179.5 186V187M180.5 9V11M180.5 37V38M180.5 56V57M180.5 68V69M180.5 73V74M180.5 101V103M180.5 107V108M180.5 114V115M180.5 140V141M180.5 158V159M181.5 35V36M181.5 40V41M181.5 47V48M181.5 53V54M181.5 58V59M181.5 65V66M181.5 70V72M181.5 77V78M181.5 97V99M181.5 111V113M181.5 126V127M181.5 133V134M181.5 162V163M181.5 172V173M182.5 21V22M182.5 30V31M182.5 44V45M182.5 50V51M182.5 63V64M182.5 68V69M182.5 109V110M182.5 127V128M182.5 147V148M182.5 162V163M183.5 16V17M183.5 21V22M183.5 35V36M183.5 71V72M183.5 92V93M183.5 120V121M183.5 126V127M183.5 131V132M183.5 150V152M183.5 156V157M183.5 187V188M183.5 197V200M184.5 9V10M184.5 69V71M184.5 98V99M184.5 121V122M184.5 141V143M184.5 147V148M184.5 154V155M184.5 183V184M185.5 15V16M185.5 41V42M185.5 76V77M185.5 116V117M185.5 149V150M185.5 158V159M185.5 191V192M186.5 7V8M186.5 13V14M186.5 70V71M186.5 72V73M186.5 102V103M186.5 111V113M186.5 117V118M186.5 123V124M186.5 125V126M186.5 173V174M186.5 197V198M187.5 33V34M187.5 35V36M187.5 53V54M187.5 75V76M187.5 83V84M187.5 98V100M187.5 109V110M187.5 114V115M187.5 132V133M187.5 171V172M187.5 181V182M187.5 187V188M188.5 6V7M188.5 36V37M188.5 44V46M188.5 56V57M188.5 62V64M188.5 75V76M188.5 89V90M188.5 100V101M188.5 123V124M188.5 130V131M188.5 156V157M189.5 32V33M189.5 45V46M189.5 69V70M189.5 76V77M189.5 78V79M189.5 108V110M189.5 128V129M189.5 139V141M189.5 178V179M189.5 183V185M189.5 191V192M190.5 21V23M190.5 40V41M190.5 67V69M190.5 73V75M190.5 92V93M190.5 108V109M190.5 134V135M190.5 141V142M190.5 149V150M190.5 162V163M190.5 173V174M191.5 8V9M191.5 76V78M191.5 84V85M191.5 111V112M191.5 130V131M191.5 146V147M191.5 177V179M191.5 198V199M192.5 6V7M192.5 21V22M192.5 42V43M192.5 76V78M192.5 122V123M192.5 127V128M192.5 195V196M193.5 29V30M193.5 46V48M193.5 67V68M193.5 90V91M193.5 98V99M193.5 130V131M193.5 182V183M194.5 14V15M194.5 27V28M194.5 41V42M194.5 59V60M194.5 64V65M194.5 112V113M194.5 122V123M194.5 124V125M194.5 158V159M194.5 202V203M195.5 19V20M195.5 30V32M195.5 43V45M195.5 53V54M195.5 64V65M195.5 88V89M195.5 116V117M195.5 121V123M195.5 128V129M195.5 135V136M195.5 160V162M195.5 167V169M195.5 174V175M195.5 191V192M195.5 200V201M196.5 12V13M196.5 47V49M196.5 54V55M196.5 61V62M196.5 73V74M196.5 78V80M196.5 85V87M196.5 92V93M196.5 143V144M196.5 148V150M196.5 183V185M197.5 35V36M197.5 61V62M197.5 80V82M197.5 86V87M197.5 92V93M197.5 104V106M197.5 125V126M197.5 158V160M197.5 166V167M197.5 182V183M197.5 187V189M197.5 195V196M198.5 8V9M198.5 34V35M198.5 47V48M198.5 59V60M198.5 75V76M198.5 90V92M198.5 108V109M198.5 114V115M198.5 140V142M198.5 170V171M199.5 72V73M199.5 74V75M199.5 80V81M199.5 86V87M199.5 99V100M199.5 130V131M199.5 137V139M199.5 142V143M199.5 201V202M200.5 13V14M200.5 40V41M200.5 62V63M200.5 66V67M200.5 82V83M200.5 89V91M200.5 102V103M200.5 147V149M200.5 162V164M200.5 168V169M200.5 188V189M200.5 194V195M200.5 201V202M201.5 6V7M201.5 17V18M201.5 64V65M201.5 82V83M201.5 89V90M201.5 106V107M201.5 177V179M201.5 190V192"/>
<path stroke="#555555" d="M0.5 24V25M0.5 31V32M0.5 35V36M0.5 50V51M0.5 60V61M0.5 62V63M0.5 97V99M0.5 105V106M0.5 120V121M0.5 129V130M0.5 159V161M0.5 168V170M0.5 178V179M0.5 187V188M0.5 197V198M1.5 9V10M1.5 18V19M1.5 51V52M1.5 55V56M1.5 72V73M1.5 77V78M1.5 81V82M1.5 95V96M1.5 101V103M1.5 108V110M1.5 118V119M1.5 127V128M1.5 132V133M1.5 152V153M1.5 160V161M1.5 178V180M1.5 185V188M1.5 195V196M2.5 6V7M2.5 17V18M2.5 35V36M2.5 40V42M2.5 50V52M2.5 56V57M2.5 63V64M2.5 70V72M2.5 89V91M2.5 98V99M2.5 113V114M2.5 123V126M2.5 149V152M2.5 160V161M2.5 167V168M2.5 170V171M2.5 186V188M2.5 195V198M3.5 11V12M3.5 18V19M3.5 24V25M3.5 35V38M3.5 68V69M3.5 93V94M3.5 109V110M3.5 121V123M3.5 127V128M3.5 137V138M3.5 149V150M3.5 152V153M3.5 169V170M3.5 178V179M3.5 188V189M3.5 196V197M4.5 15V16M4.5 19V20M4.5 35V36M4.5 56V59M4.5 71V72M4.5 78V79M4.5 82V83M4.5 89V90M4.5 91V93M4.5 99V101M4.5 110V111M4.5 115V119M4.5 142V143M4.5 149V150M4.5 158V161M4.5 178V180M4.5 186V187M4.5 194V195M5.5 8V9M5.5 14V15M5.5 22V23M5.5 25V26M5.5 36V37M5.5 38V39M5.5 43V44M5.5 53V54M5.5 61V62M5.5 97V98M5.5 103V104M5.5 109V110M5.5 131V132M5.5 142V145M5.5 149V150M5.5 159V162M5.5 167V168M5.5 169V170M5.5 176V177M5.5 178V179M5.5 185V187M5.5 194V196M6.5 9V10M6.5 24V25M6.5 37V38M6.5 53V55M6.5 60V62M6.5 72V73M6.5 79V80M6.5 84V85M6.5 92V93M6.5 112V114M6.5 123V124M6.5 129V130M6.5 134V135M6.5 150V151M6.5 158V162M6.5 167V169M6.5 176V177M6.5 185V187M6.5 195V196M6.5 197V198M7.5 6V7M7.5 19V20M7.5 31V32M7.5 74V75M7.5 89V91M7.5 101V103M7.5 106V107M7.5 108V109M7.5 113V114M7.5 121V122M7.5 142V144M7.5 149V150M7.5 152V153M7.5 158V159M7.5 168V169M7.5 176V177M7.5 178V179M7.5 195V196M8.5 30V31M8.5 38V39M8.5 42V43M8.5 49V50M8.5 69V70M8.5 73V75M8.5 82V83M8.5 97V98M8.5 119V120M8.5 136V137M8.5 140V141M8.5 150V151M8.5 152V153M8.5 160V161M8.5 168V171M8.5 176V177M8.5 178V180M8.5 194V197M9.5 26V27M9.5 57V58M9.5 79V80M9.5 86V87M9.5 91V93M9.5 99V100M9.5 103V104M9.5 122V123M9.5 141V144M9.5 150V151M9.5 152V153M9.5 160V161M9.5 167V168M9.5 187V188M9.5 195V196M10.5 16V17M10.5 18V19M10.5 46V47M10.5 96V97M10.5 111V112M10.5 121V122M10.5 130V131M10.5 132V133M10.5 141V142M10.5 151V152M10.5 159V160M10.5 161V162M10.5 168V169M10.5 171V172M10.5 186V189M10.5 195V196M11.5 8V9M11.5 10V11M11.5 42V43M11.5 53V54M11.5 74V75M11.5 81V82M11.5 90V91M11.5 120V121M11.5 125V126M11.5 132V134M11.5 141V143M11.5 151V152M11.5 153V154M11.5 159V160M11.5 162V163M11.5 171V172M11.5 177V181M11.5 196V199M12.5 8V9M12.5 26V27M12.5 38V39M12.5 45V46M12.5 55V57M12.5 61V62M12.5 63V64M12.5 83V85M12.5 107V108M12.5 123V124M12.5 131V132M12.5 136V137M12.5 152V153M12.5 170V173M12.5 178V182M12.5 188V189M12.5 196V197M12.5 199V200M13.5 9V10M13.5 27V28M13.5 36V37M13.5 42V43M13.5 71V72M13.5 82V83M13.5 103V104M13.5 133V134M13.5 143V145M13.5 153V154M13.5 163V165M13.5 171V173M13.5 187V188M13.5 197V200M14.5 26V28M14.5 66V67M14.5 86V87M14.5 103V104M14.5 127V128M14.5 145V146M14.5 152V153M14.5 155V156M14.5 162V165M14.5 170V174M14.5 179V180M14.5 181V182M14.5 189V191M14.5 197V200M15.5 6V8M15.5 12V13M15.5 23V24M15.5 53V55M15.5 63V65M15.5 71V72M15.5 89V90M15.5 96V97M15.5 129V130M15.5 135V136M15.5 149V150M15.5 154V155M15.5 156V157M15.5 162V165M15.5 174V175M15.5 180V181M15.5 182V183M16.5 38V39M16.5 77V78M16.5 81V82M16.5 101V102M16.5 107V108M16.5 134V136M16.5 147V148M16.5 152V154M16.5 156V157M16.5 162V164M16.5 171V174M16.5 180V181M17.5 5V6M17.5 53V54M17.5 65V66M17.5 70V71M17.5 73V74M17.5 82V83M17.5 95V96M17.5 105V106M17.5 124V125M17.5 131V132M17.5 144V146M17.5 154V157M17.5 163V164M17.5 173V175M17.5 200V201M18.5 9V10M18.5 11V12M18.5 15V16M18.5 29V30M18.5 31V32M18.5 43V44M18.5 46V47M18.5 48V49M18.5 60V61M18.5 66V67M18.5 78V80M18.5 85V86M18.5 96V97M18.5 102V103M18.5 127V128M18.5 136V137M18.5 154V157M18.5 162V166M18.5 171V173M18.5 199V202M19.5 5V6M19.5 55V56M19.5 79V80M19.5 85V86M19.5 93V94M19.5 95V96M19.5 126V128M19.5 145V146M19.5 147V148M19.5 155V157M19.5 162V165M19.5 198V201M20.5 11V12M20.5 21V22M20.5 26V27M20.5 37V38M20.5 40V41M20.5 47V48M20.5 84V85M20.5 90V91M20.5 98V99M20.5 104V105M20.5 106V107M20.5 128V129M20.5 133V134M20.5 142V144M20.5 154V156M20.5 166V167M20.5 180V182M20.5 183V184M20.5 190V191M20.5 200V201M21.5 18V21M21.5 48V49M21.5 71V73M21.5 81V82M21.5 96V97M21.5 104V105M21.5 123V125M21.5 128V129M21.5 130V131M21.5 135V136M21.5 144V145M21.5 154V155M21.5 182V183M21.5 189V191M22.5 7V8M22.5 11V13M22.5 15V16M22.5 23V25M22.5 35V36M22.5 53V54M22.5 65V66M22.5 75V76M22.5 78V79M22.5 104V105M22.5 108V109M22.5 117V120M22.5 134V135M22.5 140V142M22.5 146V147M22.5 151V153M22.5 157V158M22.5 182V183M22.5 190V191M22.5 196V200M23.5 25V26M23.5 28V29M23.5 32V33M23.5 39V40M23.5 43V45M23.5 53V54M23.5 55V56M23.5 59V60M23.5 77V79M23.5 99V100M23.5 104V105M23.5 108V109M23.5 126V127M23.5 189V190M24.5 27V28M24.5 44V45M24.5 58V59M24.5 67V68M24.5 87V89M24.5 92V93M24.5 98V99M24.5 102V103M24.5 133V134M24.5 135V136M24.5 161V162M24.5 172V173M24.5 188V190M24.5 196V197M25.5 18V19M25.5 36V37M25.5 41V42M25.5 47V48M25.5 55V57M25.5 61V62M25.5 72V73M25.5 76V77M25.5 78V79M25.5 107V108M25.5 160V163M25.5 171V172M25.5 177V178M25.5 179V180M25.5 187V190M25.5 196V198M26.5 10V11M26.5 17V18M26.5 24V25M26.5 38V39M26.5 51V53M26.5 61V63M26.5 74V76M26.5 94V95M26.5 102V103M26.5 107V108M26.5 112V114M26.5 125V126M26.5 160V162M26.5 169V170M26.5 171V173M26.5 177V179M26.5 187V188M26.5 196V198M27.5 13V15M27.5 16V17M27.5 30V31M27.5 38V39M27.5 40V41M27.5 54V55M27.5 59V60M27.5 66V67M27.5 79V80M27.5 117V118M27.5 133V134M27.5 155V156M27.5 161V162M27.5 163V164M27.5 198V200M28.5 10V11M28.5 24V25M28.5 26V28M28.5 40V41M28.5 42V43M28.5 46V49M28.5 63V65M28.5 69V70M28.5 81V83M28.5 95V96M28.5 105V107M28.5 119V120M28.5 130V131M28.5 135V136M28.5 142V143M28.5 152V153M28.5 154V155M28.5 162V164M28.5 172V173M28.5 176V178M28.5 189V191M28.5 197V198M29.5 32V33M29.5 36V38M29.5 46V47M29.5 48V49M29.5 86V88M29.5 135V136M29.5 145V146M29.5 154V155M29.5 163V164M29.5 169V173M29.5 187V188M29.5 196V200M30.5 31V32M30.5 41V42M30.5 57V58M30.5 66V67M30.5 73V74M30.5 78V80M30.5 99V101M30.5 107V108M30.5 151V153M30.5 154V155M30.5 161V162M30.5 170V173M30.5 187V190M31.5 9V10M31.5 30V31M31.5 51V52M31.5 80V81M31.5 84V85M31.5 94V95M31.5 122V123M31.5 130V131M31.5 150V152M31.5 161V163M31.5 169V172M32.5 31V32M32.5 44V45M32.5 59V60M32.5 62V64M32.5 68V69M32.5 73V74M32.5 75V76M32.5 85V86M32.5 93V94M32.5 100V101M32.5 120V121M32.5 152V153M32.5 158V162M32.5 169V170M32.5 176V178M32.5 186V189M32.5 195V197M33.5 26V27M33.5 41V42M33.5 45V46M33.5 54V55M33.5 60V61M33.5 84V85M33.5 88V90M33.5 95V96M33.5 97V98M33.5 104V105M33.5 106V107M33.5 124V126M33.5 130V131M33.5 139V140M33.5 152V153M33.5 169V170M33.5 178V179M33.5 185V186M33.5 187V188M33.5 196V197M34.5 14V15M34.5 20V21M34.5 47V48M34.5 55V56M34.5 66V67M34.5 70V71M34.5 72V73M34.5 84V85M34.5 97V98M34.5 104V105M34.5 109V112M34.5 118V119M34.5 142V143M34.5 178V179M34.5 194V196M35.5 6V7M35.5 18V19M35.5 54V55M35.5 60V61M35.5 66V67M35.5 77V78M35.5 87V88M35.5 102V103M35.5 116V117M35.5 160V161M35.5 176V177M35.5 191V192M35.5 200V201M36.5 26V27M36.5 63V64M36.5 72V73M36.5 77V78M36.5 81V82M36.5 90V91M36.5 97V98M36.5 106V107M36.5 115V116M36.5 134V135M36.5 139V140M36.5 169V170M36.5 196V197M37.5 38V41M37.5 46V47M37.5 52V53M37.5 57V58M37.5 62V63M37.5 89V90M37.5 103V104M37.5 113V114M37.5 135V136M37.5 141V142M37.5 154V155M37.5 188V189M37.5 196V197M38.5 36V37M38.5 43V44M38.5 46V47M38.5 58V59M38.5 61V62M38.5 66V67M38.5 86V87M38.5 93V95M38.5 99V100M38.5 110V111M38.5 114V115M38.5 133V136M38.5 141V142M38.5 173V175M38.5 182V183M38.5 194V195M39.5 22V23M39.5 26V27M39.5 29V30M39.5 34V35M39.5 51V52M39.5 57V58M39.5 62V63M39.5 82V83M39.5 96V97M39.5 143V144M39.5 177V178M39.5 179V180M39.5 185V187M40.5 17V18M40.5 42V43M40.5 44V45M40.5 67V68M40.5 78V79M40.5 80V81M40.5 89V90M40.5 102V103M40.5 118V119M40.5 128V129M40.5 133V134M40.5 141V143M40.5 148V149M40.5 157V159M40.5 167V168M40.5 173V174M40.5 179V180M40.5 187V188M41.5 13V14M41.5 42V43M41.5 55V56M41.5 61V62M41.5 65V66M41.5 71V72M41.5 73V74M41.5 77V78M41.5 82V83M41.5 96V97M41.5 98V99M41.5 105V106M41.5 123V124M41.5 132V134M41.5 143V144M41.5 147V148M41.5 158V160M41.5 166V167M41.5 171V172M41.5 188V189M41.5 190V191M42.5 21V22M42.5 26V27M42.5 33V34M42.5 44V45M42.5 52V53M42.5 70V71M42.5 113V114M42.5 118V119M42.5 123V124M42.5 133V134M42.5 155V156M42.5 162V163M42.5 171V172M42.5 193V195M43.5 25V26M43.5 62V63M43.5 73V74M43.5 82V83M43.5 95V96M43.5 148V150M43.5 158V159M43.5 163V164M43.5 170V171M43.5 199V200M44.5 47V48M44.5 54V55M44.5 60V61M44.5 74V75M44.5 79V80M44.5 84V85M44.5 86V87M44.5 91V92M44.5 98V99M44.5 110V112M44.5 123V124M44.5 139V140M44.5 156V158M44.5 178V179M44.5 202V203M45.5 13V14M45.5 19V20M45.5 27V28M45.5 43V46M45.5 53V54M45.5 64V67M45.5 72V74M45.5 98V99M45.5 105V106M45.5 142V144M45.5 149V151M45.5 173V174M45.5 178V179M46.5 27V29M46.5 34V35M46.5 41V42M46.5 48V49M46.5 71V72M46.5 86V87M46.5 90V91M46.5 104V105M46.5 112V113M46.5 126V127M46.5 143V144M46.5 158V159M46.5 171V172M46.5 184V185M46.5 189V191M46.5 195V196M47.5 31V32M47.5 64V65M47.5 66V67M47.5 82V83M47.5 87V88M47.5 94V96M47.5 113V115M47.5 121V122M47.5 135V136M47.5 182V183M47.5 193V194M48.5 14V15M48.5 29V30M48.5 49V50M48.5 51V52M48.5 68V69M48.5 71V72M48.5 89V91M48.5 104V105M48.5 110V113M48.5 128V129M48.5 135V136M48.5 142V144M48.5 185V187M48.5 196V198M49.5 12V13M49.5 29V30M49.5 35V36M49.5 53V54M49.5 65V67M49.5 73V74M49.5 87V88M49.5 97V99M49.5 102V104M49.5 114V115M49.5 116V117M49.5 123V124M49.5 147V148M49.5 152V153M49.5 164V165M49.5 179V180M49.5 184V185M49.5 196V197M49.5 200V201M50.5 16V18M50.5 21V23M50.5 47V48M50.5 52V53M50.5 56V57M50.5 63V64M50.5 70V71M50.5 79V80M50.5 92V93M50.5 103V104M50.5 106V107M50.5 112V113M50.5 141V142M50.5 146V147M50.5 151V152M50.5 165V166M50.5 170V171M50.5 200V201M51.5 8V9M51.5 11V12M51.5 17V18M51.5 21V22M51.5 46V47M51.5 51V52M51.5 63V64M51.5 74V75M51.5 93V94M51.5 98V99M51.5 111V112M51.5 115V116M51.5 122V123M51.5 128V129M51.5 134V135M51.5 139V141M51.5 145V146M51.5 167V168M51.5 174V175M51.5 193V194M51.5 200V202M52.5 13V14M52.5 23V25M52.5 28V29M52.5 31V32M52.5 71V72M52.5 88V89M52.5 103V104M52.5 112V113M52.5 123V124M52.5 130V131M52.5 145V146M52.5 161V163M52.5 170V171M52.5 173V174M52.5 182V183M52.5 188V189M52.5 192V194M52.5 201V203M53.5 6V7M53.5 17V19M53.5 21V22M53.5 38V39M53.5 50V52M53.5 87V89M53.5 94V95M53.5 102V103M53.5 119V121M53.5 125V126M53.5 138V139M53.5 151V152M53.5 163V164M53.5 189V190M53.5 197V198M54.5 51V52M54.5 76V77M54.5 92V93M54.5 99V100M54.5 108V109M54.5 115V116M54.5 117V118M54.5 126V127M54.5 141V142M54.5 179V180M54.5 194V195M54.5 200V201M55.5 38V39M55.5 41V42M55.5 46V47M55.5 50V52M55.5 56V57M55.5 58V59M55.5 106V108M55.5 111V112M55.5 119V120M55.5 121V122M55.5 152V153M55.5 168V169M55.5 180V181M55.5 199V200M56.5 13V14M56.5 17V18M56.5 33V34M56.5 35V36M56.5 53V54M56.5 69V70M56.5 79V80M56.5 111V112M56.5 115V116M56.5 124V125M56.5 127V128M56.5 165V167M56.5 185V186M56.5 191V192M57.5 13V14M57.5 21V22M57.5 23V24M57.5 26V27M57.5 42V43M57.5 50V51M57.5 63V64M57.5 73V74M57.5 79V80M57.5 84V85M57.5 94V95M57.5 99V101M57.5 108V109M57.5 134V135M57.5 166V167M57.5 168V169M57.5 174V176M57.5 197V198M58.5 6V7M58.5 14V15M58.5 29V30M58.5 32V33M58.5 38V39M58.5 42V43M58.5 45V46M58.5 47V48M58.5 61V62M58.5 71V72M58.5 75V76M58.5 82V83M58.5 92V94M58.5 96V97M58.5 105V106M58.5 110V112M58.5 119V120M58.5 125V126M58.5 129V130M58.5 138V139M58.5 161V162M58.5 177V178M58.5 179V180M59.5 15V16M59.5 38V39M59.5 59V60M59.5 71V72M59.5 89V90M59.5 94V95M59.5 125V126M59.5 131V132M59.5 135V136M59.5 159V160M59.5 164V166M59.5 188V190M60.5 30V32M60.5 39V40M60.5 48V50M60.5 57V58M60.5 70V72M60.5 86V87M60.5 94V96M60.5 100V101M60.5 106V107M60.5 125V127M60.5 156V157M60.5 181V182M60.5 199V200M60.5 201V202M61.5 13V14M61.5 20V21M61.5 26V27M61.5 36V37M61.5 42V43M61.5 58V60M61.5 64V65M61.5 88V90M61.5 96V97M61.5 111V112M61.5 116V117M61.5 122V123M61.5 132V133M61.5 140V141M61.5 178V180M61.5 184V185M61.5 188V189M62.5 26V27M62.5 33V34M62.5 57V58M62.5 70V71M62.5 74V75M62.5 76V77M62.5 92V93M62.5 95V97M62.5 113V114M62.5 119V121M62.5 123V124M62.5 129V132M62.5 145V146M62.5 158V159M62.5 165V166M62.5 184V185M62.5 197V198M63.5 37V39M63.5 46V47M63.5 61V62M63.5 63V64M63.5 67V68M63.5 78V79M63.5 87V88M63.5 92V93M63.5 98V100M63.5 104V105M63.5 106V107M63.5 111V112M63.5 129V130M63.5 136V137M63.5 138V139M63.5 142V143M63.5 146V147M63.5 151V153M63.5 177V178M63.5 183V184M63.5 187V189M63.5 198V199M64.5 24V25M64.5 65V66M64.5 83V84M64.5 95V96M64.5 103V104M64.5 120V121M64.5 131V133M64.5 134V135M64.5 139V141M64.5 144V145M64.5 156V158M64.5 192V193M64.5 200V201M65.5 6V7M65.5 11V12M65.5 69V70M65.5 76V77M65.5 83V84M65.5 85V86M65.5 102V103M65.5 109V111M65.5 122V123M65.5 136V138M65.5 149V150M65.5 178V179M65.5 202V203M66.5 9V10M66.5 16V17M66.5 18V19M66.5 29V30M66.5 31V32M66.5 43V44M66.5 66V67M66.5 92V94M66.5 96V98M66.5 105V106M66.5 116V117M66.5 122V123M66.5 129V130M66.5 133V134M66.5 139V140M66.5 149V151M66.5 157V158M66.5 164V165M66.5 169V170M66.5 179V180M66.5 197V198M67.5 26V28M67.5 31V32M67.5 37V38M67.5 45V46M67.5 63V65M67.5 82V83M67.5 84V85M67.5 99V102M67.5 125V126M67.5 137V138M67.5 139V140M67.5 162V164M68.5 5V6M68.5 15V16M68.5 22V24M68.5 25V26M68.5 37V39M68.5 60V61M68.5 66V67M68.5 87V88M68.5 95V98M68.5 103V104M68.5 111V113M68.5 117V118M68.5 137V138M68.5 148V149M68.5 153V154M68.5 160V162M68.5 178V179M68.5 191V192M68.5 199V200M69.5 4V6M69.5 27V28M69.5 43V44M69.5 73V74M69.5 75V76M69.5 94V95M69.5 109V110M69.5 114V116M69.5 127V129M69.5 181V182M69.5 191V192M70.5 16V17M70.5 18V19M70.5 22V23M70.5 30V32M70.5 41V42M70.5 63V64M70.5 70V72M70.5 78V79M70.5 86V87M70.5 90V92M70.5 116V117M70.5 124V125M70.5 140V141M70.5 158V159M70.5 179V180M70.5 185V187M70.5 199V200M70.5 201V202M71.5 27V28M71.5 41V42M71.5 51V52M71.5 66V67M71.5 79V80M71.5 85V86M71.5 114V115M71.5 128V129M71.5 134V135M71.5 166V167M71.5 172V173M71.5 174V175M71.5 183V185M71.5 188V189M71.5 202V203M72.5 6V7M72.5 27V28M72.5 40V41M72.5 45V46M72.5 52V53M72.5 59V60M72.5 67V68M72.5 73V75M72.5 86V87M72.5 106V108M72.5 113V116M72.5 121V122M72.5 126V128M72.5 142V143M72.5 159V160M72.5 164V165M72.5 182V184M72.5 198V200M73.5 16V17M73.5 38V39M73.5 55V56M73.5 62V63M73.5 128V129M73.5 135V136M73.5 142V143M73.5 156V158M73.5 171V173M73.5 191V192M73.5 198V199M74.5 3V4M74.5 7V8M74.5 22V23M74.5 47V48M74.5 49V50M74.5 65V66M74.5 74V75M74.5 83V85M74.5 97V98M74.5 100V101M74.5 107V109M74.5 113V114M74.5 128V129M74.5 142V144M74.5 147V148M74.5 162V164M74.5 166V167M74.5 172V173M74.5 186V187M75.5 6V8M75.5 16V17M75.5 19V20M75.5 23V24M75.5 29V30M75.5 56V57M75.5 81V84M75.5 98V99M75.5 166V168M75.5 171V172M75.5 191V192M76.5 15V17M76.5 34V35M76.5 53V55M76.5 63V64M76.5 79V80M76.5 130V132M76.5 147V148M76.5 171V173M76.5 188V190M76.5 197V200M77.5 24V25M77.5 32V33M77.5 54V55M77.5 68V69M77.5 80V81M77.5 95V96M77.5 109V110M77.5 116V117M77.5 127V129M77.5 133V134M77.5 164V165M77.5 172V173M77.5 184V186M77.5 193V195M78.5 13V14M78.5 50V51M78.5 70V71M78.5 86V87M78.5 105V106M78.5 111V112M78.5 117V118M78.5 132V134M78.5 145V147M78.5 149V150M78.5 158V159M78.5 164V165M78.5 173V174M78.5 202V203M79.5 16V17M79.5 23V25M79.5 51V52M79.5 79V80M79.5 81V82M79.5 92V93M79.5 122V123M79.5 124V125M79.5 129V130M79.5 135V137M79.5 141V143M79.5 153V154M79.5 158V159M79.5 164V166M79.5 174V175M79.5 193V194M79.5 200V201M80.5 8V9M80.5 12V13M80.5 19V21M80.5 22V24M80.5 29V30M80.5 32V33M80.5 34V35M80.5 46V47M80.5 48V49M80.5 60V61M80.5 65V66M80.5 114V115M80.5 119V120M80.5 124V126M80.5 133V134M80.5 138V139M80.5 145V147M80.5 163V164M80.5 173V174M80.5 183V184M80.5 189V190M80.5 196V197M80.5 200V201M81.5 14V15M81.5 27V28M81.5 31V32M81.5 40V42M81.5 47V48M81.5 61V62M81.5 71V72M81.5 90V91M81.5 104V105M81.5 110V111M81.5 116V118M81.5 135V136M81.5 144V145M81.5 157V158M81.5 164V165M81.5 169V171M81.5 176V177M81.5 181V182M81.5 188V189M82.5 11V12M82.5 43V44M82.5 56V57M82.5 73V74M82.5 100V102M82.5 108V111M82.5 134V135M82.5 142V143M82.5 161V162M82.5 178V180M82.5 184V185M82.5 190V191M82.5 192V193M82.5 200V202M83.5 15V17M83.5 26V27M83.5 58V59M83.5 64V65M83.5 69V70M83.5 71V72M83.5 106V107M83.5 113V114M83.5 125V126M83.5 130V131M83.5 137V138M83.5 143V144M83.5 148V149M83.5 150V151M83.5 166V167M83.5 172V174M83.5 180V181M83.5 190V191M83.5 199V200M84.5 8V9M84.5 12V13M84.5 25V26M84.5 36V37M84.5 41V43M84.5 45V46M84.5 54V55M84.5 68V70M84.5 96V98M84.5 103V104M84.5 108V109M84.5 113V114M84.5 129V130M84.5 134V136M84.5 140V141M84.5 151V152M84.5 164V165M84.5 170V171M84.5 175V177M84.5 192V194M84.5 200V201M85.5 9V10M85.5 27V28M85.5 42V43M85.5 46V47M85.5 58V60M85.5 65V67M85.5 85V86M85.5 91V92M85.5 105V106M85.5 110V111M85.5 114V115M85.5 124V125M85.5 126V127M85.5 133V134M85.5 137V139M85.5 142V143M85.5 151V152M85.5 153V154M85.5 162V163M85.5 170V171M85.5 184V185M85.5 186V187M85.5 199V200M86.5 65V66M86.5 100V101M86.5 110V111M86.5 122V123M86.5 135V136M86.5 137V138M86.5 144V145M86.5 158V159M86.5 178V180M86.5 186V187M87.5 7V8M87.5 23V24M87.5 26V27M87.5 46V47M87.5 73V74M87.5 86V87M87.5 102V103M87.5 108V109M87.5 128V129M87.5 138V139M87.5 144V145M87.5 154V155M87.5 159V160M87.5 171V172M87.5 176V177M87.5 181V183M87.5 188V190M88.5 18V19M88.5 45V47M88.5 59V60M88.5 97V98M88.5 106V107M88.5 134V135M88.5 156V157M88.5 161V162M88.5 163V164M88.5 174V176M88.5 187V188M88.5 193V194M89.5 10V11M89.5 37V38M89.5 48V49M89.5 103V105M89.5 115V116M89.5 127V128M89.5 133V134M89.5 144V146M89.5 175V176M89.5 198V199M89.5 200V201M90.5 7V8M90.5 18V19M90.5 32V33M90.5 39V40M90.5 44V45M90.5 52V53M90.5 54V55M90.5 60V61M90.5 68V69M90.5 75V76M90.5 83V84M90.5 109V110M90.5 123V124M90.5 132V133M90.5 140V141M90.5 152V154M90.5 193V194M91.5 20V21M91.5 31V32M91.5 45V47M91.5 56V57M91.5 84V85M91.5 101V102M91.5 118V120M91.5 121V122M91.5 133V134M91.5 144V145M91.5 148V149M91.5 154V155M91.5 157V158M91.5 166V167M91.5 171V172M91.5 177V179M91.5 189V190M92.5 41V42M92.5 61V62M92.5 87V89M92.5 97V98M92.5 101V102M92.5 108V109M92.5 110V112M92.5 127V128M92.5 133V135M92.5 144V145M92.5 150V151M92.5 159V160M92.5 162V163M92.5 168V170M92.5 175V176M92.5 192V194M92.5 198V199M93.5 33V34M93.5 54V55M93.5 56V57M93.5 67V68M93.5 83V86M93.5 93V95M93.5 107V108M93.5 124V126M93.5 131V132M93.5 139V140M93.5 145V146M93.5 150V151M93.5 165V166M93.5 170V171M93.5 172V173M93.5 178V179M93.5 193V195M93.5 202V203M94.5 27V28M94.5 52V53M94.5 60V61M94.5 72V73M94.5 104V105M94.5 109V110M94.5 117V118M94.5 119V120M94.5 130V131M94.5 136V137M94.5 148V150M94.5 154V155M94.5 159V161M94.5 177V178M94.5 186V187M94.5 196V198M95.5 7V9M95.5 10V11M95.5 25V26M95.5 42V43M95.5 45V46M95.5 54V55M95.5 61V62M95.5 73V74M95.5 79V81M95.5 85V87M95.5 90V91M95.5 121V122M95.5 126V128M95.5 134V135M95.5 140V141M95.5 145V146M95.5 149V150M95.5 156V157M95.5 173V174M95.5 200V201M96.5 6V7M96.5 12V13M96.5 15V16M96.5 20V21M96.5 25V26M96.5 56V57M96.5 78V79M96.5 82V84M96.5 92V93M96.5 97V98M96.5 109V110M96.5 117V119M96.5 139V140M96.5 144V146M96.5 158V160M96.5 163V164M96.5 184V185M96.5 190V191M96.5 192V193M96.5 199V200M97.5 19V20M97.5 21V22M97.5 47V48M97.5 52V53M97.5 74V76M97.5 84V85M97.5 93V94M97.5 114V116M97.5 119V120M97.5 126V127M97.5 136V137M97.5 146V147M97.5 154V155M97.5 156V157M97.5 168V170M97.5 181V183M97.5 192V195M97.5 202V203M98.5 9V11M98.5 16V17M98.5 22V23M98.5 33V34M98.5 54V55M98.5 92V93M98.5 101V102M98.5 128V129M98.5 137V138M98.5 149V150M98.5 160V161M98.5 167V168M98.5 173V174M98.5 185V186M98.5 202V203M99.5 19V20M99.5 22V23M99.5 25V26M99.5 34V35M99.5 38V39M99.5 40V41M99.5 47V48M99.5 90V91M99.5 95V96M99.5 101V102M99.5 112V113M99.5 127V128M99.5 136V137M99.5 148V152M99.5 171V172M99.5 185V186M99.5 187V188M99.5 191V193M100.5 10V12M100.5 14V15M100.5 23V24M100.5 41V42M100.5 49V51M100.5 64V66M100.5 89V90M100.5 104V105M100.5 110V111M100.5 115V116M100.5 121V122M100.5 127V128M100.5 142V143M100.5 152V154M100.5 176V177M100.5 183V185M100.5 189V190M100.5 195V197M100.5 201V202M101.5 13V14M101.5 15V16M101.5 35V36M101.5 43V44M101.5 54V55M101.5 61V62M101.5 89V90M101.5 120V122M101.5 127V128M101.5 132V133M101.5 152V153M101.5 163V166M101.5 188V189M102.5 6V7M102.5 18V19M102.5 26V27M102.5 35V36M102.5 50V51M102.5 56V57M102.5 59V60M102.5 61V62M102.5 69V70M102.5 103V104M102.5 106V108M102.5 114V115M102.5 119V120M102.5 129V130M102.5 134V135M102.5 136V137M102.5 141V142M102.5 151V152M102.5 157V158M102.5 164V165M102.5 174V176M102.5 180V182M102.5 184V186M103.5 26V27M103.5 30V32M103.5 36V37M103.5 52V53M103.5 65V66M103.5 72V74M103.5 87V88M103.5 102V103M103.5 109V110M103.5 116V117M103.5 120V121M103.5 133V134M103.5 138V139M103.5 144V145M103.5 181V182M103.5 188V189M103.5 193V195M103.5 198V199M104.5 11V12M104.5 27V28M104.5 42V43M104.5 46V47M104.5 55V56M104.5 71V73M104.5 92V93M104.5 98V100M104.5 105V107M104.5 118V119M104.5 127V129M104.5 148V149M104.5 155V157M104.5 174V176M104.5 192V193M104.5 198V201M105.5 7V8M105.5 20V21M105.5 25V26M105.5 29V31M105.5 33V34M105.5 53V54M105.5 58V59M105.5 67V68M105.5 73V74M105.5 78V79M105.5 102V103M105.5 104V105M105.5 122V123M105.5 134V135M105.5 140V141M105.5 145V146M105.5 157V158M105.5 173V174M105.5 179V180M105.5 186V187M105.5 197V199M106.5 29V30M106.5 35V36M106.5 37V38M106.5 42V43M106.5 47V48M106.5 55V56M106.5 62V63M106.5 75V77M106.5 81V82M106.5 93V94M106.5 107V109M106.5 118V120M106.5 131V134M106.5 140V141M106.5 149V151M106.5 159V160M106.5 175V176M107.5 19V20M107.5 24V25M107.5 27V29M107.5 46V48M107.5 62V64M107.5 84V85M107.5 104V105M107.5 112V113M107.5 116V117M107.5 134V135M107.5 156V157M107.5 163V164M107.5 181V182M107.5 187V189M107.5 199V200M108.5 9V10M108.5 40V41M108.5 64V65M108.5 80V81M108.5 82V83M108.5 108V109M108.5 122V123M108.5 132V134M108.5 142V143M108.5 147V148M108.5 162V163M108.5 183V184M109.5 7V8M109.5 22V23M109.5 26V27M109.5 40V42M109.5 49V51M109.5 53V54M109.5 68V69M109.5 70V71M109.5 83V85M109.5 89V90M109.5 119V120M109.5 135V136M109.5 146V147M109.5 151V152M109.5 169V171M109.5 174V175M109.5 179V181M109.5 187V188M109.5 194V196M110.5 8V9M110.5 24V25M110.5 30V31M110.5 35V36M110.5 40V42M110.5 54V55M110.5 56V57M110.5 63V64M110.5 74V75M110.5 78V79M110.5 97V98M110.5 99V100M110.5 104V105M110.5 125V126M110.5 131V132M110.5 133V134M110.5 140V142M110.5 173V174M110.5 175V176M110.5 181V182M110.5 197V198M111.5 6V7M111.5 10V11M111.5 21V22M111.5 25V26M111.5 41V42M111.5 47V48M111.5 67V68M111.5 89V90M111.5 92V93M111.5 106V107M111.5 123V124M111.5 136V137M111.5 150V151M111.5 198V200M112.5 15V16M112.5 32V33M112.5 54V56M112.5 82V83M112.5 89V90M112.5 94V96M112.5 102V104M112.5 111V112M112.5 122V123M112.5 129V131M112.5 140V142M112.5 146V147M112.5 196V197M113.5 20V21M113.5 28V29M113.5 44V46M113.5 61V62M113.5 100V101M113.5 113V114M113.5 174V175M113.5 180V184M113.5 192V194M114.5 6V7M114.5 10V12M114.5 14V15M114.5 28V29M114.5 46V47M114.5 57V58M114.5 63V64M114.5 86V87M114.5 90V91M114.5 99V100M114.5 102V103M114.5 111V112M114.5 113V114M114.5 117V118M114.5 147V149M114.5 158V159M114.5 160V161M114.5 163V164M114.5 167V168M114.5 177V178M114.5 182V183M114.5 188V189M114.5 200V202M115.5 16V17M115.5 37V38M115.5 40V41M115.5 45V46M115.5 60V61M115.5 66V67M115.5 70V71M115.5 81V82M115.5 89V90M115.5 94V95M115.5 101V102M115.5 108V109M115.5 113V115M115.5 119V121M115.5 128V129M115.5 146V147M115.5 170V171M115.5 178V179M115.5 185V186M115.5 196V197M116.5 22V23M116.5 26V27M116.5 33V34M116.5 39V41M116.5 70V71M116.5 91V93M116.5 104V105M116.5 119V120M116.5 125V127M116.5 132V133M116.5 152V153M116.5 158V159M116.5 163V165M116.5 168V170M116.5 183V186M116.5 193V194M116.5 195V196M117.5 9V10M117.5 19V20M117.5 53V55M117.5 81V82M117.5 87V88M117.5 105V107M117.5 115V116M117.5 124V126M117.5 136V137M117.5 165V167M117.5 172V173M117.5 175V177M117.5 193V194M118.5 16V17M118.5 34V35M118.5 56V57M118.5 66V67M118.5 68V69M118.5 76V78M118.5 86V87M118.5 118V120M118.5 126V127M118.5 134V137M118.5 147V148M118.5 165V166M118.5 176V180M118.5 184V185M118.5 189V190M119.5 6V7M119.5 8V9M119.5 43V44M119.5 47V49M119.5 55V56M119.5 76V77M119.5 83V84M119.5 98V99M119.5 108V109M119.5 126V128M119.5 133V134M119.5 139V141M119.5 152V153M119.5 157V158M119.5 171V172M119.5 189V190M119.5 195V196M120.5 8V9M120.5 11V12M120.5 27V29M120.5 30V31M120.5 37V38M120.5 44V45M120.5 61V63M120.5 66V67M120.5 78V79M120.5 94V96M120.5 100V101M120.5 106V108M120.5 120V121M120.5 129V130M120.5 156V157M120.5 186V187M120.5 192V193M120.5 198V199M121.5 11V12M121.5 32V33M121.5 36V37M121.5 49V50M121.5 51V52M121.5 71V72M121.5 75V76M121.5 86V87M121.5 98V99M121.5 103V104M121.5 110V111M121.5 132V133M121.5 154V155M121.5 183V184M121.5 193V194M121.5 195V196M122.5 23V24M122.5 26V27M122.5 58V59M122.5 63V64M122.5 87V88M122.5 101V102M122.5 106V108M122.5 120V122M122.5 136V137M122.5 142V144M122.5 149V150M122.5 167V169M122.5 174V176M122.5 190V191M122.5 196V198M122.5 202V203M123.5 6V7M123.5 31V32M123.5 35V36M123.5 37V40M123.5 57V58M123.5 73V74M123.5 75V76M123.5 93V94M123.5 103V104M123.5 113V114M123.5 118V119M123.5 122V123M123.5 131V132M123.5 150V151M123.5 160V161M123.5 167V168M123.5 173V174M124.5 13V14M124.5 15V16M124.5 21V22M124.5 43V45M124.5 48V49M124.5 92V94M124.5 107V108M124.5 113V114M124.5 119V120M124.5 121V122M124.5 137V138M124.5 142V143M124.5 147V148M124.5 152V153M124.5 166V167M124.5 171V172M124.5 173V174M124.5 177V178M124.5 188V189M124.5 193V194M124.5 201V202M125.5 10V12M125.5 32V33M125.5 39V41M125.5 57V58M125.5 81V83M125.5 88V89M125.5 95V96M125.5 99V100M125.5 108V109M125.5 115V116M125.5 132V133M125.5 143V144M125.5 145V146M125.5 151V154M125.5 160V161M125.5 175V176M125.5 177V178M125.5 185V186M125.5 189V190M125.5 191V192M126.5 15V16M126.5 24V25M126.5 36V37M126.5 47V48M126.5 53V55M126.5 67V68M126.5 78V79M126.5 84V85M126.5 99V101M126.5 112V113M126.5 130V131M126.5 146V147M126.5 161V163M126.5 167V168M126.5 169V170M126.5 178V179M126.5 192V194M127.5 18V19M127.5 34V35M127.5 43V44M127.5 88V90M127.5 92V93M127.5 102V103M127.5 136V137M127.5 142V143M127.5 151V153M127.5 160V161M127.5 178V180M127.5 183V184M127.5 189V190M127.5 195V196M128.5 6V7M128.5 47V48M128.5 60V61M128.5 68V69M128.5 106V107M128.5 118V120M128.5 144V146M128.5 152V153M128.5 199V201M129.5 17V18M129.5 31V32M129.5 40V41M129.5 44V46M129.5 50V51M129.5 80V81M129.5 83V84M129.5 117V118M129.5 123V125M129.5 128V130M129.5 141V142M129.5 169V171M129.5 176V177M129.5 183V184M130.5 8V9M130.5 23V24M130.5 42V43M130.5 45V46M130.5 51V54M130.5 87V90M130.5 104V105M130.5 127V128M130.5 132V133M130.5 152V154M130.5 160V161M130.5 201V202M131.5 20V21M131.5 32V33M131.5 42V44M131.5 55V56M131.5 57V58M131.5 62V63M131.5 66V67M131.5 68V69M131.5 77V78M131.5 89V90M131.5 103V104M131.5 109V110M131.5 120V121M131.5 146V147M131.5 150V152M131.5 155V156M131.5 172V174M132.5 6V8M132.5 10V11M132.5 14V15M132.5 37V38M132.5 48V49M132.5 59V60M132.5 65V66M132.5 75V76M132.5 97V98M132.5 107V109M132.5 126V128M132.5 138V139M132.5 153V154M132.5 165V166M132.5 172V174M132.5 187V188M132.5 194V195M133.5 15V17M133.5 28V29M133.5 36V37M133.5 42V44M133.5 53V54M133.5 58V59M133.5 64V65M133.5 66V67M133.5 97V98M133.5 101V102M133.5 108V109M133.5 113V114M133.5 119V120M133.5 124V125M133.5 128V129M133.5 130V131M133.5 140V141M133.5 145V146M133.5 154V155M133.5 168V170M133.5 193V194M133.5 198V199M134.5 37V38M134.5 45V46M134.5 68V70M134.5 84V85M134.5 95V96M134.5 109V110M134.5 131V132M134.5 140V141M134.5 147V148M134.5 158V159M134.5 184V185M134.5 193V194M135.5 10V11M135.5 16V17M135.5 23V24M135.5 28V29M135.5 30V31M135.5 34V35M135.5 59V60M135.5 63V64M135.5 77V78M135.5 79V80M135.5 83V85M135.5 108V109M135.5 119V120M135.5 146V147M135.5 151V152M135.5 155V156M135.5 161V163M135.5 167V168M135.5 175V176M135.5 182V183M135.5 195V197M136.5 7V8M136.5 22V23M136.5 38V39M136.5 45V46M136.5 52V55M136.5 65V67M136.5 70V72M136.5 78V79M136.5 87V88M136.5 112V113M136.5 124V125M136.5 136V137M136.5 147V148M136.5 164V166M136.5 176V177M136.5 194V195M136.5 201V202M137.5 28V29M137.5 38V39M137.5 57V58M137.5 74V75M137.5 79V80M137.5 85V86M137.5 91V92M137.5 128V129M137.5 137V138M137.5 149V150M137.5 154V155M137.5 160V161M137.5 175V177M137.5 185V186M138.5 32V33M138.5 76V77M138.5 82V83M138.5 84V85M138.5 104V105M138.5 118V119M138.5 122V124M138.5 138V140M138.5 144V145M138.5 169V172M138.5 181V182M138.5 186V187M138.5 192V194M138.5 202V203M139.5 14V15M139.5 26V28M139.5 34V35M139.5 50V51M139.5 55V56M139.5 60V61M139.5 64V65M139.5 70V71M139.5 77V78M139.5 81V82M139.5 83V84M139.5 87V88M139.5 89V90M139.5 94V96M139.5 100V101M139.5 106V107M139.5 111V112M139.5 129V130M139.5 137V139M139.5 140V141M139.5 155V156M139.5 169V170M140.5 6V11M140.5 14V15M140.5 38V39M140.5 40V41M140.5 45V46M140.5 50V51M140.5 58V59M140.5 71V72M140.5 90V91M140.5 99V100M140.5 103V104M140.5 105V106M140.5 111V112M140.5 151V152M140.5 158V159M140.5 171V172M140.5 178V180M140.5 188V189M140.5 201V202M141.5 21V22M141.5 32V33M141.5 36V38M141.5 49V50M141.5 56V57M141.5 61V62M141.5 69V70M141.5 87V89M141.5 96V97M141.5 100V101M141.5 107V109M141.5 115V116M141.5 125V126M141.5 127V128M141.5 134V135M141.5 139V140M141.5 161V162M141.5 169V170M141.5 176V177M141.5 190V192M142.5 8V9M142.5 13V14M142.5 21V23M142.5 50V51M142.5 57V58M142.5 62V63M142.5 71V72M142.5 77V79M142.5 83V85M142.5 95V96M142.5 105V106M142.5 118V119M142.5 122V123M142.5 135V137M142.5 140V142M142.5 174V175M142.5 182V183M142.5 191V192M142.5 199V200M143.5 37V38M143.5 47V48M143.5 65V66M143.5 67V68M143.5 76V78M143.5 81V82M143.5 92V93M143.5 108V109M143.5 116V119M143.5 131V132M143.5 150V151M143.5 165V166M143.5 167V168M143.5 188V189M144.5 38V39M144.5 50V51M144.5 56V57M144.5 60V61M144.5 69V70M144.5 77V78M144.5 80V82M144.5 148V149M144.5 170V171M144.5 172V173M144.5 177V179M144.5 183V185M145.5 26V27M145.5 34V35M145.5 63V65M145.5 70V71M145.5 77V78M145.5 105V107M145.5 111V112M145.5 118V119M145.5 123V125M145.5 131V132M145.5 161V162M145.5 163V164M145.5 175V176M145.5 181V182M145.5 191V193M146.5 26V27M146.5 38V39M146.5 43V45M146.5 50V51M146.5 62V64M146.5 68V69M146.5 73V74M146.5 82V83M146.5 91V92M146.5 138V139M146.5 151V152M146.5 157V158M146.5 164V165M146.5 193V195M146.5 199V200M146.5 201V202M147.5 38V39M147.5 54V55M147.5 105V106M147.5 118V119M147.5 136V138M147.5 142V143M147.5 147V149M147.5 156V157M147.5 170V171M147.5 175V176M147.5 190V191M147.5 196V197M148.5 9V10M148.5 17V19M148.5 46V47M148.5 54V56M148.5 64V65M148.5 84V85M148.5 86V87M148.5 96V98M148.5 101V102M148.5 106V107M148.5 124V125M148.5 145V146M148.5 160V161M148.5 180V181M148.5 182V183M149.5 28V29M149.5 37V38M149.5 104V105M149.5 109V111M149.5 114V115M149.5 134V135M149.5 154V155M149.5 164V166M149.5 184V185M149.5 189V190M150.5 28V31M150.5 32V33M150.5 48V50M150.5 56V57M150.5 64V66M150.5 75V77M150.5 89V90M150.5 92V95M150.5 100V101M150.5 104V106M150.5 109V111M150.5 148V151M150.5 164V167M150.5 171V172M150.5 177V179M150.5 184V185M150.5 188V189M150.5 194V195M151.5 8V9M151.5 47V48M151.5 53V54M151.5 55V56M151.5 60V61M151.5 62V64M151.5 70V71M151.5 78V80M151.5 94V95M151.5 126V127M151.5 131V132M151.5 143V144M151.5 147V148M151.5 154V155M151.5 168V169M152.5 11V13M152.5 16V17M152.5 20V21M152.5 33V35M152.5 49V51M152.5 58V60M152.5 68V71M152.5 86V87M152.5 91V92M152.5 101V102M152.5 108V109M152.5 113V115M152.5 118V119M152.5 136V137M152.5 165V166M152.5 167V168M152.5 179V180M152.5 184V185M152.5 193V194M153.5 28V29M153.5 39V40M153.5 52V53M153.5 61V63M153.5 79V81M153.5 87V88M153.5 93V94M153.5 110V112M153.5 126V127M153.5 131V132M153.5 141V143M153.5 162V163M153.5 166V167M153.5 175V176M153.5 189V191M154.5 46V47M154.5 56V57M154.5 62V63M154.5 70V72M154.5 75V76M154.5 77V78M154.5 91V93M154.5 96V97M154.5 109V110M154.5 111V112M154.5 116V117M154.5 119V121M154.5 140V141M154.5 166V167M154.5 172V173M154.5 188V189M154.5 202V203M155.5 31V32M155.5 61V62M155.5 68V69M155.5 92V93M155.5 94V95M155.5 106V107M155.5 117V118M155.5 130V131M155.5 142V145M155.5 148V149M155.5 150V151M155.5 176V177M155.5 194V195M156.5 12V14M156.5 56V57M156.5 77V78M156.5 88V90M156.5 99V100M156.5 113V114M156.5 120V121M156.5 135V136M156.5 144V145M156.5 155V156M156.5 172V173M156.5 182V183M156.5 189V190M157.5 9V10M157.5 29V30M157.5 39V41M157.5 54V55M157.5 68V69M157.5 86V87M157.5 102V103M157.5 110V111M157.5 117V118M157.5 125V126M157.5 136V137M157.5 151V152M157.5 159V161M157.5 164V165M157.5 170V171M157.5 172V173M157.5 176V177M157.5 182V184M157.5 200V202M158.5 10V11M158.5 38V39M158.5 49V50M158.5 52V53M158.5 59V60M158.5 75V76M158.5 80V82M158.5 99V101M158.5 111V112M158.5 124V125M158.5 142V143M158.5 147V149M158.5 161V162M158.5 167V168M158.5 179V180M158.5 181V182M158.5 193V194M159.5 44V45M159.5 61V62M159.5 90V91M159.5 94V95M159.5 96V97M159.5 114V115M159.5 116V117M159.5 123V124M159.5 141V142M159.5 153V154M159.5 159V160M159.5 164V166M159.5 172V173M159.5 177V178M159.5 185V186M159.5 190V191M159.5 195V196M160.5 35V36M160.5 39V40M160.5 58V59M160.5 64V65M160.5 75V76M160.5 82V83M160.5 90V91M160.5 94V95M160.5 99V100M160.5 101V102M160.5 104V105M160.5 118V119M160.5 122V123M160.5 175V176M160.5 177V178M160.5 184V185M160.5 199V200M161.5 10V11M161.5 30V31M161.5 52V55M161.5 60V61M161.5 66V67M161.5 71V72M161.5 83V84M161.5 88V89M161.5 92V93M161.5 96V97M161.5 98V99M161.5 108V109M161.5 121V123M161.5 126V127M161.5 146V148M161.5 152V153M161.5 167V169M161.5 173V174M161.5 179V181M161.5 191V192M161.5 198V199M162.5 11V12M162.5 15V16M162.5 21V22M162.5 38V39M162.5 56V58M162.5 68V69M162.5 72V73M162.5 77V79M162.5 85V86M162.5 87V88M162.5 101V102M162.5 104V105M162.5 118V119M162.5 126V128M162.5 140V141M162.5 152V153M162.5 163V164M162.5 165V166M162.5 169V170M162.5 176V179M162.5 182V183M162.5 195V196M162.5 202V203M163.5 9V10M163.5 25V26M163.5 32V34M163.5 39V40M163.5 43V45M163.5 54V55M163.5 58V60M163.5 80V81M163.5 90V92M163.5 98V99M163.5 106V108M163.5 122V124M163.5 126V127M163.5 149V150M163.5 166V167M163.5 186V187M163.5 191V193M163.5 200V201M164.5 36V37M164.5 39V40M164.5 46V47M164.5 53V54M164.5 66V67M164.5 87V89M164.5 99V102M164.5 107V108M164.5 113V114M164.5 126V128M164.5 153V155M164.5 161V162M164.5 163V164M164.5 171V172M164.5 179V180M164.5 182V183M164.5 190V192M164.5 197V199M165.5 13V14M165.5 26V27M165.5 49V50M165.5 51V52M165.5 61V62M165.5 73V74M165.5 80V82M165.5 102V103M165.5 109V110M165.5 148V149M165.5 176V177M165.5 182V183M165.5 186V187M165.5 200V202M166.5 6V7M166.5 35V36M166.5 39V40M166.5 52V53M166.5 59V60M166.5 65V67M166.5 80V81M166.5 98V99M166.5 104V105M166.5 109V110M166.5 114V115M166.5 140V141M166.5 152V153M166.5 174V175M166.5 178V180M166.5 183V184M166.5 187V188M166.5 198V199M167.5 6V7M167.5 36V37M167.5 52V53M167.5 78V80M167.5 85V86M167.5 87V88M167.5 100V101M167.5 107V108M167.5 109V110M167.5 141V142M167.5 148V149M167.5 155V156M167.5 168V171M167.5 180V182M167.5 185V186M167.5 188V189M167.5 202V203M168.5 9V10M168.5 26V27M168.5 30V31M168.5 45V46M168.5 50V51M168.5 56V57M168.5 63V64M168.5 78V79M168.5 82V84M168.5 133V135M168.5 158V159M168.5 195V196M169.5 10V11M169.5 38V39M169.5 41V42M169.5 59V60M169.5 77V78M169.5 82V83M169.5 128V129M169.5 153V154M169.5 158V159M169.5 168V170M169.5 185V186M169.5 195V196M170.5 18V19M170.5 23V24M170.5 29V30M170.5 35V36M170.5 40V41M170.5 43V45M170.5 48V49M170.5 63V65M170.5 79V80M170.5 120V122M170.5 127V128M170.5 129V130M170.5 135V136M170.5 138V139M170.5 143V145M170.5 154V155M170.5 175V176M170.5 182V183M170.5 186V187M171.5 13V14M171.5 22V23M171.5 25V26M171.5 27V28M171.5 30V32M171.5 34V35M171.5 70V71M171.5 78V79M171.5 85V87M171.5 91V92M171.5 144V146M171.5 158V159M171.5 177V178M171.5 182V183M171.5 201V202M172.5 10V11M172.5 26V27M172.5 41V42M172.5 46V47M172.5 48V49M172.5 51V52M172.5 57V58M172.5 62V64M172.5 74V75M172.5 89V90M172.5 113V114M172.5 118V119M172.5 161V162M172.5 166V167M172.5 174V175M172.5 179V180M172.5 187V188M173.5 9V10M173.5 15V16M173.5 54V55M173.5 76V78M173.5 83V84M173.5 104V105M173.5 116V118M173.5 138V139M173.5 163V164M173.5 171V172M174.5 33V34M174.5 37V38M174.5 41V42M174.5 61V62M174.5 71V72M174.5 86V87M174.5 113V114M174.5 115V116M174.5 127V128M174.5 141V143M174.5 177V178M174.5 181V182M174.5 183V184M175.5 12V13M175.5 27V28M175.5 73V74M175.5 84V86M175.5 117V118M175.5 124V125M175.5 131V133M175.5 136V137M175.5 156V158M175.5 170V171M176.5 10V11M176.5 14V15M176.5 22V23M176.5 38V40M176.5 44V45M176.5 53V54M176.5 77V78M176.5 84V86M176.5 105V106M176.5 115V116M176.5 142V144M176.5 151V153M176.5 174V175M176.5 184V185M177.5 32V33M177.5 35V36M177.5 50V51M177.5 62V63M177.5 69V70M177.5 73V78M177.5 85V86M177.5 90V91M177.5 116V117M177.5 121V123M177.5 129V131M177.5 136V138M177.5 186V187M177.5 202V203M178.5 19V20M178.5 36V37M178.5 41V43M178.5 54V56M178.5 58V59M178.5 80V81M178.5 113V114M178.5 129V130M178.5 191V192M179.5 7V8M179.5 17V18M179.5 20V21M179.5 39V40M179.5 42V43M179.5 54V55M179.5 69V71M179.5 82V83M179.5 110V111M179.5 116V117M179.5 118V119M179.5 126V127M179.5 135V138M179.5 144V145M179.5 154V155M180.5 19V20M180.5 28V31M180.5 38V39M180.5 43V46M180.5 55V56M180.5 63V64M180.5 72V73M180.5 80V81M180.5 87V88M180.5 112V113M180.5 132V133M180.5 138V140M180.5 149V152M180.5 159V160M180.5 167V169M180.5 171V172M180.5 177V179M180.5 199V200M181.5 13V14M181.5 46V47M181.5 48V49M181.5 52V53M181.5 59V60M181.5 66V67M181.5 69V70M181.5 76V77M181.5 82V83M181.5 105V106M181.5 116V117M181.5 124V125M181.5 132V133M181.5 134V135M181.5 145V146M181.5 150V151M181.5 171V172M181.5 173V174M181.5 182V183M181.5 195V196M181.5 202V203M182.5 4V5M182.5 12V13M182.5 15V16M182.5 28V29M182.5 31V33M182.5 40V41M182.5 49V50M182.5 51V52M182.5 69V70M182.5 80V81M182.5 100V101M182.5 102V103M182.5 110V111M182.5 136V137M182.5 141V142M182.5 146V147M182.5 153V154M182.5 167V168M182.5 179V181M182.5 194V195M182.5 198V199M182.5 200V201M183.5 44V45M183.5 46V47M183.5 66V67M183.5 72V73M183.5 76V79M183.5 99V100M183.5 104V106M183.5 119V120M183.5 132V133M183.5 139V140M183.5 144V145M183.5 146V147M183.5 155V156M183.5 157V158M183.5 177V178M183.5 186V187M184.5 40V41M184.5 44V45M184.5 57V58M184.5 75V76M184.5 79V80M184.5 99V100M184.5 103V105M184.5 135V136M184.5 146V147M184.5 148V149M184.5 159V160M184.5 170V171M184.5 175V177M184.5 182V183M184.5 184V185M184.5 200V202M185.5 6V7M185.5 22V23M185.5 29V30M185.5 33V34M185.5 56V57M185.5 61V63M185.5 67V69M185.5 75V76M185.5 86V87M185.5 106V107M185.5 115V116M185.5 117V118M185.5 121V122M185.5 129V131M185.5 139V141M185.5 144V145M185.5 150V151M185.5 156V157M185.5 178V180M185.5 190V191M185.5 197V199M186.5 48V49M186.5 58V59M186.5 65V67M186.5 78V79M186.5 80V81M186.5 87V88M186.5 100V101M186.5 106V107M186.5 118V119M186.5 137V138M186.5 142V144M186.5 163V164M186.5 175V176M186.5 195V196M186.5 202V203M187.5 4V6M187.5 15V16M187.5 17V18M187.5 45V47M187.5 51V52M187.5 61V62M187.5 76V77M187.5 88V89M187.5 116V117M187.5 126V127M187.5 139V140M187.5 149V150M187.5 155V157M187.5 160V162M187.5 170V171M187.5 180V181M187.5 189V190M187.5 200V201M188.5 37V38M188.5 43V44M188.5 46V47M188.5 66V67M188.5 71V72M188.5 101V102M188.5 111V113M188.5 118V120M188.5 129V130M188.5 131V132M188.5 147V148M188.5 151V152M188.5 158V159M188.5 166V168M188.5 171V172M188.5 177V179M188.5 184V186M188.5 191V192M188.5 195V197M188.5 200V201M189.5 6V7M189.5 38V39M189.5 52V53M189.5 61V63M189.5 70V71M189.5 81V83M189.5 117V119M189.5 134V135M189.5 146V147M189.5 153V155M189.5 158V160M189.5 173V174M189.5 190V191M189.5 192V193M189.5 197V198M190.5 52V54M190.5 59V60M190.5 80V81M190.5 87V88M190.5 107V108M190.5 123V125M190.5 142V143M190.5 155V156M190.5 161V162M190.5 179V180M190.5 182V183M190.5 189V190M190.5 196V197M191.5 10V11M191.5 20V21M191.5 24V25M191.5 39V40M191.5 42V44M191.5 55V56M191.5 57V58M191.5 69V71M191.5 78V79M191.5 83V84M191.5 85V87M191.5 100V101M191.5 107V108M191.5 118V119M191.5 124V125M191.5 139V141M191.5 145V146M191.5 151V152M191.5 161V162M191.5 183V185M191.5 192V193M191.5 197V198M192.5 9V10M192.5 29V30M192.5 55V56M192.5 62V63M192.5 69V70M192.5 82V83M192.5 90V91M192.5 110V111M192.5 121V122M192.5 128V129M192.5 143V144M192.5 148V149M192.5 186V187M192.5 197V198M193.5 11V12M193.5 30V31M193.5 81V82M193.5 86V87M193.5 91V92M193.5 104V105M193.5 109V110M193.5 129V130M193.5 137V138M193.5 145V147M193.5 166V167M193.5 171V172M193.5 181V182M194.5 19V20M194.5 25V26M194.5 30V31M194.5 48V49M194.5 51V52M194.5 57V58M194.5 65V66M194.5 73V74M194.5 86V88M194.5 94V95M194.5 131V132M194.5 149V153M194.5 159V160M194.5 187V189M194.5 197V198M195.5 6V7M195.5 13V14M195.5 48V49M195.5 52V53M195.5 65V66M195.5 72V74M195.5 90V91M195.5 95V97M195.5 142V143M195.5 169V170M195.5 179V180M195.5 190V191M195.5 192V193M195.5 199V200M195.5 201V202M196.5 13V14M196.5 17V18M196.5 40V42M196.5 72V73M196.5 87V88M196.5 101V102M196.5 113V114M196.5 124V126M196.5 130V131M196.5 137V138M196.5 142V143M196.5 163V166M196.5 173V174M196.5 179V180M196.5 189V190M196.5 194V195M197.5 14V15M197.5 21V22M197.5 30V32M197.5 34V35M197.5 36V37M197.5 62V63M197.5 73V74M197.5 82V83M197.5 87V88M197.5 96V97M197.5 103V104M197.5 110V111M197.5 116V117M197.5 126V127M197.5 134V136M197.5 151V153M197.5 157V158M197.5 160V161M197.5 168V169M197.5 172V174M197.5 196V197M198.5 19V20M198.5 31V32M198.5 46V47M198.5 48V49M198.5 52V53M198.5 57V59M198.5 64V66M198.5 69V70M198.5 78V79M198.5 99V100M198.5 113V114M198.5 154V157M198.5 163V165M198.5 171V173M198.5 184V186M198.5 190V191M198.5 196V197M199.5 48V49M199.5 54V55M199.5 98V99M199.5 100V101M199.5 107V108M199.5 131V132M199.5 152V153M199.5 159V160M199.5 164V165M199.5 185V186M199.5 196V197M200.5 8V9M200.5 12V13M200.5 20V21M200.5 34V35M200.5 36V37M200.5 42V43M200.5 51V52M200.5 57V58M200.5 61V62M200.5 71V73M200.5 80V81M200.5 91V92M200.5 101V102M200.5 108V110M200.5 128V129M200.5 140V141M200.5 146V147M200.5 167V168M200.5 173V175M200.5 187V188M200.5 192V193M201.5 33V34M201.5 43V45M201.5 49V50M201.5 53V54M201.5 58V60M201.5 71V72M201.5 76V78M201.5 83V84M201.5 93V94M201.5 98V99M201.5 107V108M201.5 112V113M201.5 126V127M201.5 148V149M201.5 160V162M201.5 171V172"/>
<path stroke="#666666" d="M0.5 6V7M0.5 13V14M0.5 16V17M0.5 38V39M0.5 52V53M0.5 73V74M0.5 75V76M0.5 79V80M0.5 91V92M0.5 93V94M0.5 104V105M0.5 116V117M0.5 119V120M0.5 121V122M0.5 124V125M0.5 128V129M0.5 130V131M0.5 134V136M0.5 143V144M0.5 151V152M0.5 157V158M0.5 161V162M0.5 167V168M0.5 170V171M0.5 179V180M0.5 186V187M0.5 189V190M0.5 194V197M0.5 198V199M1.5 8V9M1.5 10V11M1.5 12V13M1.5 17V18M1.5 19V20M1.5 26V28M1.5 44V47M1.5 50V51M1.5 62V63M1.5 68V70M1.5 71V72M1.5 83V84M1.5 97V98M1.5 103V104M1.5 116V117M1.5 119V120M1.5 128V129M1.5 145V146M1.5 157V158M1.5 161V162M1.5 167V171M1.5 177V178M1.5 188V189M1.5 194V195M1.5 196V198M2.5 15V16M2.5 21V22M2.5 26V28M2.5 31V32M2.5 34V35M2.5 36V37M2.5 42V43M2.5 46V48M2.5 52V53M2.5 62V63M2.5 72V73M2.5 76V77M2.5 108V109M2.5 114V115M2.5 121V122M2.5 131V132M2.5 142V143M2.5 148V149M2.5 152V153M2.5 158V160M2.5 162V163M2.5 176V178M2.5 179V182M2.5 185V186M2.5 188V189M2.5 194V195M3.5 22V23M3.5 38V39M3.5 50V51M3.5 58V62M3.5 64V65M3.5 69V70M3.5 75V76M3.5 86V87M3.5 92V93M3.5 94V95M3.5 97V99M3.5 108V109M3.5 112V114M3.5 117V118M3.5 126V127M3.5 144V145M3.5 161V162M3.5 165V166M3.5 167V169M3.5 170V171M3.5 176V177M3.5 179V180M3.5 186V188M3.5 189V190M3.5 195V196M3.5 198V199M4.5 6V7M4.5 21V22M4.5 24V25M4.5 28V29M4.5 30V31M4.5 42V43M4.5 53V55M4.5 68V69M4.5 90V91M4.5 104V105M4.5 109V110M4.5 114V115M4.5 161V162M4.5 167V168M4.5 170V171M4.5 176V178M4.5 180V181M4.5 185V186M4.5 195V199M5.5 11V12M5.5 15V16M5.5 28V29M5.5 46V47M5.5 55V56M5.5 65V67M5.5 79V80M5.5 81V84M5.5 88V89M5.5 92V94M5.5 96V97M5.5 101V102M5.5 110V111M5.5 117V119M5.5 126V127M5.5 132V133M5.5 152V153M5.5 158V159M5.5 170V171M5.5 179V180M5.5 187V189M5.5 196V198M6.5 31V32M6.5 40V41M6.5 43V44M6.5 50V51M6.5 59V60M6.5 62V63M6.5 78V79M6.5 80V81M6.5 91V92M6.5 93V94M6.5 101V102M6.5 103V104M6.5 114V115M6.5 135V136M6.5 140V142M6.5 144V146M6.5 166V167M6.5 169V171M6.5 175V176M6.5 177V180M6.5 187V188M6.5 194V195M7.5 7V8M7.5 32V33M7.5 45V46M7.5 48V50M7.5 77V78M7.5 80V81M7.5 84V85M7.5 88V89M7.5 94V95M7.5 96V97M7.5 112V113M7.5 126V127M7.5 133V134M7.5 135V136M7.5 160V161M7.5 179V180M7.5 184V189M7.5 193V194M7.5 196V197M8.5 39V40M8.5 44V45M8.5 53V55M8.5 57V58M8.5 67V68M8.5 70V71M8.5 84V85M8.5 87V88M8.5 89V90M8.5 93V94M8.5 96V97M8.5 106V107M8.5 110V111M8.5 132V133M8.5 134V136M8.5 141V142M8.5 144V146M8.5 149V150M8.5 162V163M8.5 166V168M8.5 175V176M8.5 177V178M8.5 184V185M8.5 193V194M8.5 197V198M8.5 202V203M9.5 30V31M9.5 39V40M9.5 54V55M9.5 58V59M9.5 63V69M9.5 72V73M9.5 83V84M9.5 90V91M9.5 105V106M9.5 135V136M9.5 149V150M9.5 166V167M9.5 168V171M9.5 175V180M9.5 185V187M9.5 189V190M9.5 193V194M9.5 196V198M10.5 6V7M10.5 10V11M10.5 59V60M10.5 64V66M10.5 69V70M10.5 76V77M10.5 80V81M10.5 87V88M10.5 90V91M10.5 100V101M10.5 103V104M10.5 110V111M10.5 137V138M10.5 142V145M10.5 149V150M10.5 152V153M10.5 162V163M10.5 176V177M10.5 179V180M10.5 185V186M10.5 189V190M10.5 198V199M11.5 13V14M11.5 31V32M11.5 34V35M11.5 38V39M11.5 58V59M11.5 64V65M11.5 69V70M11.5 71V72M11.5 73V74M11.5 92V93M11.5 100V102M11.5 110V111M11.5 134V135M11.5 140V141M11.5 143V144M11.5 150V151M11.5 168V169M11.5 172V173M11.5 186V191M11.5 195V196M12.5 10V11M12.5 15V16M12.5 17V18M12.5 23V24M12.5 31V32M12.5 33V34M12.5 75V77M12.5 82V83M12.5 97V98M12.5 105V106M12.5 108V109M12.5 118V119M12.5 132V133M12.5 144V145M12.5 147V148M12.5 160V161M12.5 169V170M12.5 177V178M12.5 187V188M12.5 197V199M12.5 200V201M13.5 20V21M13.5 37V38M13.5 43V44M13.5 48V49M13.5 53V54M13.5 56V59M13.5 62V63M13.5 65V66M13.5 72V73M13.5 77V78M13.5 81V82M13.5 83V84M13.5 87V88M13.5 93V94M13.5 96V97M13.5 102V103M13.5 104V105M13.5 124V125M13.5 128V129M13.5 134V135M13.5 142V143M13.5 145V146M13.5 152V153M13.5 158V160M13.5 169V170M13.5 180V181M13.5 190V191M13.5 200V201M14.5 42V43M14.5 60V61M14.5 64V65M14.5 76V77M14.5 80V82M14.5 90V92M14.5 100V101M14.5 122V123M14.5 128V129M14.5 132V135M14.5 137V138M14.5 147V148M14.5 161V162M14.5 182V183M14.5 188V189M14.5 191V192M14.5 200V201M15.5 20V21M15.5 30V31M15.5 46V47M15.5 48V49M15.5 52V53M15.5 62V63M15.5 65V66M15.5 72V73M15.5 82V83M15.5 91V92M15.5 94V95M15.5 99V100M15.5 106V107M15.5 122V123M15.5 128V129M15.5 130V131M15.5 145V149M15.5 150V151M15.5 161V162M15.5 165V166M15.5 171V172M15.5 183V184M15.5 188V191M16.5 22V23M16.5 52V53M16.5 55V57M16.5 74V75M16.5 82V83M16.5 99V100M16.5 116V117M16.5 125V126M16.5 127V128M16.5 133V134M16.5 140V141M16.5 144V145M16.5 154V156M16.5 157V158M16.5 164V166M16.5 170V171M16.5 174V175M16.5 183V184M16.5 196V197M17.5 17V19M17.5 21V22M17.5 39V40M17.5 51V52M17.5 57V58M17.5 59V61M17.5 66V67M17.5 78V79M17.5 81V82M17.5 83V84M17.5 87V88M17.5 94V95M17.5 96V97M17.5 123V124M17.5 125V127M17.5 130V131M17.5 132V133M17.5 136V138M17.5 146V147M17.5 153V154M17.5 157V158M17.5 171V173M17.5 182V183M17.5 201V202M18.5 3V4M18.5 12V13M18.5 52V53M18.5 58V59M18.5 65V66M18.5 67V68M18.5 83V84M18.5 89V90M18.5 95V96M18.5 97V98M18.5 103V104M18.5 124V125M18.5 132V134M18.5 138V139M18.5 143V145M18.5 147V148M18.5 153V154M18.5 161V162M18.5 177V178M18.5 189V190M18.5 198V199M19.5 27V29M19.5 34V35M19.5 37V38M19.5 49V51M19.5 63V64M19.5 72V73M19.5 78V79M19.5 84V85M19.5 92V93M19.5 100V104M19.5 111V112M19.5 121V122M19.5 125V126M19.5 128V129M19.5 132V134M19.5 136V141M19.5 152V155M19.5 161V162M19.5 165V166M19.5 192V193M19.5 197V198M19.5 201V202M20.5 12V13M20.5 27V28M20.5 30V31M20.5 32V33M20.5 45V46M20.5 60V61M20.5 64V67M20.5 72V73M20.5 94V95M20.5 111V112M20.5 117V118M20.5 121V123M20.5 126V128M20.5 129V130M20.5 134V138M20.5 141V142M20.5 144V147M20.5 152V154M20.5 156V157M20.5 161V162M20.5 179V180M20.5 184V185M20.5 197V200M21.5 8V9M21.5 39V40M21.5 47V48M21.5 67V68M21.5 76V77M21.5 78V79M21.5 80V81M21.5 88V89M21.5 95V96M21.5 100V102M21.5 103V104M21.5 134V135M21.5 136V137M21.5 142V143M21.5 151V154M21.5 155V156M21.5 178V179M21.5 183V184M21.5 191V192M22.5 14V15M22.5 19V21M22.5 34V35M22.5 41V42M22.5 59V60M22.5 76V78M22.5 83V84M22.5 85V86M22.5 93V95M22.5 98V99M22.5 103V104M22.5 124V126M22.5 133V134M22.5 135V136M22.5 139V140M22.5 142V143M22.5 144V145M22.5 169V173M23.5 12V13M23.5 15V16M23.5 42V43M23.5 50V51M23.5 61V62M23.5 83V84M23.5 86V87M23.5 92V93M23.5 97V99M23.5 125V126M23.5 127V128M23.5 132V133M23.5 134V137M23.5 142V143M23.5 145V146M23.5 152V153M23.5 159V160M23.5 169V171M23.5 177V178M23.5 181V182M23.5 186V187M23.5 190V191M23.5 199V200M24.5 35V36M24.5 40V41M24.5 51V52M24.5 54V55M24.5 59V60M24.5 64V65M24.5 73V74M24.5 82V83M24.5 84V85M24.5 117V118M24.5 126V127M24.5 140V143M24.5 160V161M24.5 162V163M24.5 168V170M24.5 171V172M24.5 187V188M24.5 190V191M24.5 199V200M25.5 6V7M25.5 8V9M25.5 15V17M25.5 19V20M25.5 35V36M25.5 49V50M25.5 54V55M25.5 60V61M25.5 64V65M25.5 66V67M25.5 70V71M25.5 80V81M25.5 85V87M25.5 90V91M25.5 100V103M25.5 109V110M25.5 112V114M25.5 133V134M25.5 136V137M25.5 159V160M25.5 163V164M25.5 172V173M25.5 176V177M25.5 186V187M25.5 190V191M25.5 195V196M25.5 198V200M26.5 18V19M26.5 23V24M26.5 28V29M26.5 56V57M26.5 70V71M26.5 76V77M26.5 80V81M26.5 83V84M26.5 89V90M26.5 93V94M26.5 99V100M26.5 101V102M26.5 103V104M26.5 108V109M26.5 114V116M26.5 131V132M26.5 137V138M26.5 153V155M26.5 162V164M26.5 176V177M26.5 190V191M26.5 195V196M26.5 198V200M27.5 9V10M27.5 29V30M27.5 31V33M27.5 34V35M27.5 46V47M27.5 48V49M27.5 53V54M27.5 58V59M27.5 60V61M27.5 65V66M27.5 71V72M27.5 77V78M27.5 84V85M27.5 86V87M27.5 93V94M27.5 95V96M27.5 103V104M27.5 106V107M27.5 111V113M27.5 122V123M27.5 134V135M27.5 152V153M27.5 169V174M27.5 175V176M27.5 187V191M27.5 197V198M28.5 7V8M28.5 25V26M28.5 50V51M28.5 56V60M28.5 68V69M28.5 77V78M28.5 83V84M28.5 88V90M28.5 97V98M28.5 120V121M28.5 151V152M28.5 161V162M28.5 164V165M28.5 169V170M28.5 175V176M28.5 188V189M28.5 191V192M28.5 196V197M28.5 198V201M29.5 18V19M29.5 35V36M29.5 39V40M29.5 54V55M29.5 60V64M29.5 70V71M29.5 82V83M29.5 90V91M29.5 103V104M29.5 107V109M29.5 114V116M29.5 122V123M29.5 127V128M29.5 139V140M29.5 151V154M29.5 155V156M29.5 160V161M29.5 173V174M29.5 175V177M29.5 182V183M29.5 190V191M29.5 200V201M30.5 23V25M30.5 27V28M30.5 35V36M30.5 51V52M30.5 56V57M30.5 60V61M30.5 68V69M30.5 74V75M30.5 77V78M30.5 83V84M30.5 93V94M30.5 102V103M30.5 125V126M30.5 142V144M30.5 145V146M30.5 159V160M30.5 162V163M30.5 169V170M30.5 186V187M30.5 190V191M30.5 195V198M30.5 199V200M31.5 11V12M31.5 27V28M31.5 33V34M31.5 43V46M31.5 50V51M31.5 56V57M31.5 69V70M31.5 83V84M31.5 97V98M31.5 103V105M31.5 110V112M31.5 128V129M31.5 131V132M31.5 136V137M31.5 144V145M31.5 152V154M31.5 160V161M31.5 168V169M31.5 175V176M31.5 183V185M31.5 187V190M31.5 195V199M32.5 39V40M32.5 58V59M32.5 60V62M32.5 67V68M32.5 78V79M32.5 86V87M32.5 91V92M32.5 99V100M32.5 101V102M32.5 115V116M32.5 117V118M32.5 121V122M32.5 149V152M32.5 153V154M32.5 162V163M32.5 167V168M32.5 175V176M32.5 185V186M32.5 189V190M32.5 197V198M32.5 202V203M33.5 8V9M33.5 11V12M33.5 32V33M33.5 36V38M33.5 46V47M33.5 58V59M33.5 85V86M33.5 90V91M33.5 115V116M33.5 131V132M33.5 157V158M33.5 161V163M33.5 168V169M33.5 171V172M33.5 175V176M33.5 194V196M33.5 197V198M34.5 8V9M34.5 10V11M34.5 21V22M34.5 28V30M34.5 35V36M34.5 41V42M34.5 58V59M34.5 80V81M34.5 86V87M34.5 90V92M34.5 102V103M34.5 112V113M34.5 117V118M34.5 137V138M34.5 158V161M34.5 163V164M34.5 167V169M34.5 175V176M34.5 184V186M34.5 187V189M34.5 196V197M34.5 200V202M35.5 7V8M35.5 15V16M35.5 35V36M35.5 39V40M35.5 61V62M35.5 65V66M35.5 71V73M35.5 78V79M35.5 91V92M35.5 98V99M35.5 110V111M35.5 133V134M35.5 141V142M35.5 147V148M35.5 158V160M35.5 166V168M35.5 170V172M35.5 179V180M35.5 192V193M35.5 195V197M35.5 201V202M36.5 25V26M36.5 45V46M36.5 55V56M36.5 60V61M36.5 62V63M36.5 64V65M36.5 78V79M36.5 86V87M36.5 95V96M36.5 100V101M36.5 102V103M36.5 105V106M36.5 110V112M36.5 116V117M36.5 120V121M36.5 127V128M36.5 138V139M36.5 140V141M36.5 162V164M36.5 170V171M36.5 186V190M36.5 194V195M36.5 197V198M37.5 10V11M37.5 33V34M37.5 64V65M37.5 67V68M37.5 80V81M37.5 84V85M37.5 88V89M37.5 104V105M37.5 109V110M37.5 130V131M37.5 134V135M37.5 136V137M37.5 140V141M37.5 145V148M37.5 161V162M37.5 178V179M37.5 189V190M37.5 194V195M37.5 197V199M38.5 53V55M38.5 65V66M38.5 69V70M38.5 76V77M38.5 90V91M38.5 98V99M38.5 100V101M38.5 104V106M38.5 109V110M38.5 125V126M38.5 142V143M38.5 152V153M38.5 181V182M38.5 195V196M38.5 198V200M39.5 7V8M39.5 24V25M39.5 30V31M39.5 35V36M39.5 39V40M39.5 47V48M39.5 55V56M39.5 64V65M39.5 69V71M39.5 73V74M39.5 79V80M39.5 90V91M39.5 98V99M39.5 102V103M39.5 106V108M39.5 111V112M39.5 118V119M39.5 129V131M39.5 133V134M39.5 135V136M39.5 142V143M39.5 154V155M39.5 169V170M39.5 183V185M39.5 196V198M40.5 36V37M40.5 46V47M40.5 50V52M40.5 53V54M40.5 59V61M40.5 65V66M40.5 68V69M40.5 79V80M40.5 82V83M40.5 91V92M40.5 95V96M40.5 103V104M40.5 109V110M40.5 132V133M40.5 147V148M40.5 149V150M40.5 180V181M40.5 189V190M40.5 194V195M40.5 200V201M41.5 6V7M41.5 15V16M41.5 21V22M41.5 30V31M41.5 33V34M41.5 39V40M41.5 45V46M41.5 51V52M41.5 81V82M41.5 83V86M41.5 89V90M41.5 91V92M41.5 109V111M41.5 134V137M41.5 142V143M41.5 144V145M41.5 151V152M41.5 153V154M41.5 185V187M41.5 195V197M41.5 199V201M42.5 34V35M42.5 47V48M42.5 62V64M42.5 67V69M42.5 75V76M42.5 81V82M42.5 85V88M42.5 89V90M42.5 93V95M42.5 101V102M42.5 112V113M42.5 134V135M42.5 142V143M42.5 146V147M42.5 154V155M42.5 183V184M43.5 40V41M43.5 43V44M43.5 53V54M43.5 69V71M43.5 72V73M43.5 74V75M43.5 87V88M43.5 91V92M43.5 94V95M43.5 113V114M43.5 129V130M43.5 139V140M43.5 143V145M43.5 150V151M43.5 156V157M43.5 164V166M43.5 181V182M43.5 200V201M44.5 8V9M44.5 19V20M44.5 35V36M44.5 37V38M44.5 46V47M44.5 55V56M44.5 68V70M44.5 75V77M44.5 102V104M44.5 109V110M44.5 112V113M44.5 133V135M44.5 145V146M44.5 148V149M44.5 155V156M44.5 158V159M44.5 174V175M44.5 179V180M44.5 193V194M44.5 201V202M45.5 25V26M45.5 36V37M45.5 46V47M45.5 67V68M45.5 74V75M45.5 76V77M45.5 100V101M45.5 106V107M45.5 111V112M45.5 113V114M45.5 132V133M45.5 136V138M45.5 144V145M45.5 151V152M45.5 153V154M45.5 181V182M45.5 185V187M45.5 192V193M45.5 197V198M46.5 33V34M46.5 42V43M46.5 44V45M46.5 53V54M46.5 61V62M46.5 64V65M46.5 81V82M46.5 84V85M46.5 91V92M46.5 94V96M46.5 97V99M46.5 131V133M46.5 138V139M46.5 142V143M46.5 144V145M46.5 149V150M46.5 157V158M46.5 169V170M46.5 176V177M46.5 182V183M46.5 188V189M46.5 199V200M47.5 16V17M47.5 22V23M47.5 36V37M47.5 47V48M47.5 53V55M47.5 76V77M47.5 86V87M47.5 88V89M47.5 112V113M47.5 127V128M47.5 138V139M47.5 146V147M47.5 149V150M47.5 156V157M47.5 161V162M47.5 166V168M47.5 171V172M47.5 187V189M47.5 192V193M47.5 199V201M48.5 38V40M48.5 42V43M48.5 52V53M48.5 54V55M48.5 75V76M48.5 79V81M48.5 84V86M48.5 87V89M48.5 98V99M48.5 113V114M48.5 117V118M48.5 141V142M48.5 144V145M48.5 149V151M48.5 162V163M48.5 178V180M48.5 183V185M48.5 195V196M48.5 201V203M49.5 13V14M49.5 16V17M49.5 18V19M49.5 38V39M49.5 40V41M49.5 55V56M49.5 67V68M49.5 72V73M49.5 75V76M49.5 83V84M49.5 130V131M49.5 140V141M49.5 148V149M49.5 151V152M49.5 154V155M49.5 163V164M49.5 168V169M49.5 174V175M49.5 178V179M49.5 183V184M49.5 195V196M49.5 201V202M50.5 6V7M50.5 13V14M50.5 15V16M50.5 28V29M50.5 49V50M50.5 57V58M50.5 71V72M50.5 90V91M50.5 102V103M50.5 104V106M50.5 119V121M50.5 142V143M50.5 145V146M50.5 147V148M50.5 150V151M50.5 153V154M50.5 166V167M50.5 177V181M50.5 189V192M50.5 199V200M50.5 201V202M51.5 16V17M51.5 45V46M51.5 50V51M51.5 53V54M51.5 62V63M51.5 76V77M51.5 86V87M51.5 94V95M51.5 99V100M51.5 105V107M51.5 117V118M51.5 121V122M51.5 146V147M51.5 150V151M51.5 166V167M51.5 168V169M51.5 172V174M51.5 175V176M51.5 183V185M51.5 192V193M51.5 199V200M52.5 15V16M52.5 19V20M52.5 29V30M52.5 33V34M52.5 37V38M52.5 56V57M52.5 87V88M52.5 89V92M52.5 100V101M52.5 102V103M52.5 107V110M52.5 113V114M52.5 117V118M52.5 122V123M52.5 144V145M52.5 150V152M52.5 200V201M53.5 5V6M53.5 7V9M53.5 11V12M53.5 36V37M53.5 44V45M53.5 49V50M53.5 56V59M53.5 62V64M53.5 97V99M53.5 104V105M53.5 111V112M53.5 115V119M53.5 148V149M53.5 165V166M53.5 171V172M53.5 181V184M53.5 188V189M53.5 190V192M53.5 196V197M53.5 198V199M54.5 24V25M54.5 27V28M54.5 48V49M54.5 50V51M54.5 52V53M54.5 59V63M54.5 93V94M54.5 121V122M54.5 129V131M54.5 146V147M54.5 151V152M54.5 161V162M54.5 169V170M54.5 175V176M54.5 180V181M54.5 184V185M54.5 192V194M54.5 202V203M55.5 23V24M55.5 40V41M55.5 42V43M55.5 66V67M55.5 73V74M55.5 94V95M55.5 105V106M55.5 124V126M55.5 162V164M55.5 167V168M55.5 174V175M55.5 179V180M55.5 189V190M55.5 191V192M55.5 198V199M55.5 200V201M56.5 6V7M56.5 8V9M56.5 40V42M56.5 43V44M56.5 50V51M56.5 72V73M56.5 80V81M56.5 83V85M56.5 93V94M56.5 96V97M56.5 101V102M56.5 103V104M56.5 107V110M56.5 125V127M56.5 132V135M56.5 162V163M56.5 171V172M56.5 177V179M56.5 187V188M56.5 192V193M56.5 198V199M56.5 202V203M57.5 32V33M57.5 43V44M57.5 49V50M57.5 60V61M57.5 66V67M57.5 69V70M57.5 74V75M57.5 78V79M57.5 86V87M57.5 93V94M57.5 96V97M57.5 106V107M57.5 113V114M57.5 116V117M57.5 120V121M57.5 122V123M57.5 124V125M57.5 133V134M57.5 138V139M57.5 145V146M57.5 152V153M57.5 155V156M57.5 176V177M57.5 183V184M58.5 23V24M58.5 25V26M58.5 36V37M58.5 44V45M58.5 62V63M58.5 65V66M58.5 70V71M58.5 72V75M58.5 80V81M58.5 83V84M58.5 97V98M58.5 102V103M58.5 109V110M58.5 112V113M58.5 115V117M58.5 126V127M58.5 128V129M58.5 130V131M58.5 140V141M58.5 156V157M58.5 172V174M58.5 184V185M59.5 24V25M59.5 32V34M59.5 64V65M59.5 73V74M59.5 77V81M59.5 84V86M59.5 91V92M59.5 102V103M59.5 110V111M59.5 115V116M59.5 126V127M59.5 130V131M59.5 140V142M59.5 145V146M59.5 152V153M59.5 173V175M59.5 187V188M59.5 190V192M59.5 202V203M60.5 22V23M60.5 29V30M60.5 35V36M60.5 40V43M60.5 47V48M60.5 61V62M60.5 69V70M60.5 75V76M60.5 96V97M60.5 104V105M60.5 112V114M60.5 115V117M60.5 124V125M60.5 127V128M60.5 134V135M60.5 144V145M60.5 171V172M60.5 175V176M60.5 177V178M60.5 182V183M60.5 191V193M61.5 18V19M61.5 32V33M61.5 37V39M61.5 43V44M61.5 45V46M61.5 57V58M61.5 63V64M61.5 65V66M61.5 71V72M61.5 74V75M61.5 80V82M61.5 87V88M61.5 90V91M61.5 97V98M61.5 115V116M61.5 120V121M61.5 128V129M61.5 142V143M61.5 147V148M61.5 173V174M61.5 192V193M62.5 19V20M62.5 40V41M62.5 46V47M62.5 80V81M62.5 83V84M62.5 90V91M62.5 108V109M62.5 132V134M62.5 137V138M62.5 143V144M62.5 149V150M62.5 178V180M62.5 186V187M62.5 190V192M62.5 196V197M62.5 198V199M62.5 202V203M63.5 8V9M63.5 36V37M63.5 73V74M63.5 84V85M63.5 94V95M63.5 110V111M63.5 112V113M63.5 117V120M63.5 127V128M63.5 130V132M63.5 141V142M63.5 147V148M63.5 153V156M63.5 164V165M63.5 189V190M63.5 197V198M63.5 199V200M64.5 12V13M64.5 31V32M64.5 63V64M64.5 81V82M64.5 89V90M64.5 102V103M64.5 107V108M64.5 118V119M64.5 124V125M64.5 126V127M64.5 146V147M64.5 151V152M64.5 158V159M64.5 165V166M64.5 167V168M64.5 182V183M64.5 187V188M64.5 189V190M64.5 201V202M65.5 10V11M65.5 17V18M65.5 19V20M65.5 26V27M65.5 28V29M65.5 30V31M65.5 36V37M65.5 38V39M65.5 41V42M65.5 56V57M65.5 90V93M65.5 96V98M65.5 101V102M65.5 107V109M65.5 116V118M65.5 123V124M65.5 127V128M65.5 143V144M65.5 165V166M65.5 169V171M65.5 179V181M65.5 186V187M65.5 193V195M65.5 201V202M66.5 13V14M66.5 30V31M66.5 32V33M66.5 76V77M66.5 87V88M66.5 107V108M66.5 111V112M66.5 115V116M66.5 121V122M66.5 123V124M66.5 128V129M66.5 130V131M66.5 148V149M66.5 166V167M66.5 173V174M66.5 186V187M66.5 190V191M66.5 192V193M66.5 198V200M66.5 201V203M67.5 11V12M67.5 44V45M67.5 55V56M67.5 65V66M67.5 72V73M67.5 75V76M67.5 78V79M67.5 91V92M67.5 102V103M67.5 104V105M67.5 108V109M67.5 120V121M67.5 126V127M67.5 131V134M67.5 154V156M67.5 174V175M67.5 181V182M67.5 183V184M67.5 188V190M67.5 193V194M68.5 24V25M68.5 27V28M68.5 30V31M68.5 39V40M68.5 41V42M68.5 52V53M68.5 56V57M68.5 61V62M68.5 67V68M68.5 71V72M68.5 79V80M68.5 94V95M68.5 102V103M68.5 108V109M68.5 110V111M68.5 121V122M68.5 129V130M68.5 133V135M68.5 136V137M68.5 140V141M68.5 147V148M68.5 158V160M68.5 162V163M68.5 165V166M68.5 181V182M68.5 184V186M68.5 190V191M68.5 192V193M69.5 16V17M69.5 22V24M69.5 30V31M69.5 63V64M69.5 66V67M69.5 83V84M69.5 85V87M69.5 103V104M69.5 107V108M69.5 131V133M69.5 144V146M69.5 150V151M69.5 156V158M69.5 165V166M69.5 169V172M69.5 173V174M69.5 183V184M69.5 196V198M70.5 5V6M70.5 23V24M70.5 36V37M70.5 39V40M70.5 65V66M70.5 79V80M70.5 84V85M70.5 96V97M70.5 104V105M70.5 112V113M70.5 115V116M70.5 117V118M70.5 129V130M70.5 136V137M70.5 151V152M70.5 165V166M70.5 178V179M70.5 180V181M70.5 191V195M71.5 9V10M71.5 68V69M71.5 72V73M71.5 78V79M71.5 80V81M71.5 88V89M71.5 102V103M71.5 104V105M71.5 108V110M71.5 115V116M71.5 123V124M71.5 127V128M71.5 139V141M71.5 160V161M71.5 171V172M71.5 179V181M71.5 182V183M71.5 189V190M71.5 194V197M71.5 201V202M72.5 5V6M72.5 38V39M72.5 41V42M72.5 44V45M72.5 50V52M72.5 53V54M72.5 66V67M72.5 75V76M72.5 87V88M72.5 89V90M72.5 95V96M72.5 98V99M72.5 116V117M72.5 122V123M72.5 131V132M72.5 133V134M72.5 171V172M72.5 175V178M72.5 184V185M72.5 186V188M72.5 192V194M72.5 197V198M72.5 200V202M73.5 11V12M73.5 24V25M73.5 35V36M73.5 39V40M73.5 46V47M73.5 49V50M73.5 52V53M73.5 69V71M73.5 78V79M73.5 81V82M73.5 86V88M73.5 101V103M73.5 109V110M73.5 115V118M73.5 123V125M73.5 127V128M73.5 163V167M73.5 170V171M73.5 173V175M73.5 178V179M73.5 187V189M73.5 193V194M73.5 197V198M74.5 16V17M74.5 27V28M74.5 44V45M74.5 52V53M74.5 59V60M74.5 70V71M74.5 73V74M74.5 78V79M74.5 82V83M74.5 87V89M74.5 90V92M74.5 98V100M74.5 151V152M74.5 168V169M74.5 178V180M74.5 192V193M74.5 195V196M75.5 4V5M75.5 14V16M75.5 43V44M75.5 57V58M75.5 63V64M75.5 75V76M75.5 77V78M75.5 97V98M75.5 99V100M75.5 103V104M75.5 108V109M75.5 122V123M75.5 138V139M75.5 149V150M75.5 160V162M75.5 170V171M75.5 175V176M75.5 179V182M75.5 192V193M75.5 200V201M75.5 202V203M76.5 9V10M76.5 21V22M76.5 26V27M76.5 35V36M76.5 39V40M76.5 52V53M76.5 55V56M76.5 62V63M76.5 64V65M76.5 80V81M76.5 103V104M76.5 115V116M76.5 136V137M76.5 141V143M76.5 159V161M76.5 165V166M76.5 167V168M76.5 178V179M76.5 180V181M76.5 182V183M76.5 186V188M77.5 4V5M77.5 23V24M77.5 29V30M77.5 51V52M77.5 62V63M77.5 66V67M77.5 88V91M77.5 100V101M77.5 134V135M77.5 137V140M77.5 143V144M77.5 171V172M77.5 173V174M77.5 177V178M77.5 186V188M77.5 195V196M78.5 4V5M78.5 6V7M78.5 9V10M78.5 33V35M78.5 47V48M78.5 52V53M78.5 56V57M78.5 67V68M78.5 90V91M78.5 97V98M78.5 112V113M78.5 118V119M78.5 121V123M78.5 136V138M78.5 141V142M78.5 147V148M78.5 163V164M78.5 168V170M78.5 174V177M78.5 180V182M78.5 187V188M78.5 191V192M78.5 196V198M78.5 201V202M79.5 12V13M79.5 25V27M79.5 30V31M79.5 40V41M79.5 50V51M79.5 56V57M79.5 64V66M79.5 74V75M79.5 90V91M79.5 99V100M79.5 116V119M79.5 130V132M79.5 137V138M79.5 143V144M79.5 159V160M79.5 163V164M79.5 166V167M79.5 168V169M79.5 191V192M79.5 194V195M79.5 199V200M80.5 6V7M80.5 9V10M80.5 18V19M80.5 21V22M80.5 76V77M80.5 81V82M80.5 86V87M80.5 94V95M80.5 113V114M80.5 115V117M80.5 118V119M80.5 126V127M80.5 162V163M80.5 164V165M80.5 166V168M80.5 171V172M80.5 184V185M80.5 197V198M80.5 201V202M81.5 5V6M81.5 24V25M81.5 39V40M81.5 45V46M81.5 62V65M81.5 72V75M81.5 80V81M81.5 98V99M81.5 103V104M81.5 108V109M81.5 115V116M81.5 118V119M81.5 139V141M81.5 143V144M81.5 148V149M81.5 158V159M81.5 163V164M81.5 165V166M81.5 175V176M81.5 177V178M81.5 180V181M81.5 182V183M81.5 187V188M81.5 189V190M81.5 199V200M82.5 37V38M82.5 39V40M82.5 42V43M82.5 44V45M82.5 48V49M82.5 51V52M82.5 59V60M82.5 69V70M82.5 80V81M82.5 94V95M82.5 106V108M82.5 116V117M82.5 119V120M82.5 124V125M82.5 127V128M82.5 133V134M82.5 135V136M82.5 140V141M82.5 147V148M82.5 158V159M82.5 166V167M82.5 180V181M82.5 197V198M82.5 199V200M83.5 10V11M83.5 30V31M83.5 54V55M83.5 62V63M83.5 75V76M83.5 99V100M83.5 105V106M83.5 107V108M83.5 131V133M83.5 144V145M83.5 158V159M83.5 164V165M83.5 171V172M83.5 174V175M83.5 183V184M83.5 187V188M83.5 195V196M83.5 200V201M84.5 32V33M84.5 44V45M84.5 51V52M84.5 55V56M84.5 64V65M84.5 70V71M84.5 92V93M84.5 95V96M84.5 107V108M84.5 109V110M84.5 112V113M84.5 123V124M84.5 139V140M84.5 150V151M84.5 157V158M84.5 163V164M84.5 165V166M84.5 169V170M84.5 180V183M84.5 191V192M85.5 29V31M85.5 37V38M85.5 47V48M85.5 52V53M85.5 60V61M85.5 70V71M85.5 96V98M85.5 104V105M85.5 109V110M85.5 118V120M85.5 130V131M85.5 147V148M85.5 160V162M85.5 177V178M85.5 197V198M86.5 18V19M86.5 30V31M86.5 43V44M86.5 60V61M86.5 63V64M86.5 87V89M86.5 120V121M86.5 126V130M86.5 134V135M86.5 145V146M86.5 149V150M86.5 151V152M86.5 156V157M86.5 163V165M86.5 167V168M86.5 180V181M86.5 197V200M87.5 6V7M87.5 8V9M87.5 49V50M87.5 51V52M87.5 62V63M87.5 67V68M87.5 79V80M87.5 85V86M87.5 95V96M87.5 103V104M87.5 107V108M87.5 110V111M87.5 118V123M87.5 126V127M87.5 134V135M87.5 163V164M87.5 172V173M87.5 175V176M87.5 177V178M87.5 187V188M87.5 193V195M87.5 199V200M88.5 21V22M88.5 33V34M88.5 35V36M88.5 82V84M88.5 93V94M88.5 96V97M88.5 98V99M88.5 100V102M88.5 105V106M88.5 112V114M88.5 119V120M88.5 131V132M88.5 136V137M88.5 140V141M88.5 143V144M88.5 147V148M88.5 153V154M88.5 162V163M88.5 164V165M88.5 179V180M88.5 185V186M88.5 198V199M89.5 7V8M89.5 18V19M89.5 25V26M89.5 27V32M89.5 36V37M89.5 38V42M89.5 47V48M89.5 55V56M89.5 83V84M89.5 87V88M89.5 91V92M89.5 95V96M89.5 100V103M89.5 105V106M89.5 113V114M89.5 116V117M89.5 134V135M89.5 137V138M89.5 139V140M89.5 143V144M89.5 161V162M89.5 163V164M89.5 169V170M89.5 189V192M90.5 6V7M90.5 17V18M90.5 21V22M90.5 36V37M90.5 43V44M90.5 85V86M90.5 90V92M90.5 96V97M90.5 100V103M90.5 115V116M90.5 122V123M90.5 131V132M90.5 133V134M90.5 154V155M90.5 162V163M90.5 165V167M90.5 184V186M90.5 192V193M90.5 194V195M90.5 197V199M91.5 8V9M91.5 13V14M91.5 22V23M91.5 57V58M91.5 61V63M91.5 80V81M91.5 85V86M91.5 93V94M91.5 98V99M91.5 110V111M91.5 120V121M91.5 122V123M91.5 134V135M91.5 150V151M91.5 164V165M91.5 172V173M91.5 179V180M91.5 183V184M91.5 198V201M92.5 15V17M92.5 23V24M92.5 29V30M92.5 40V41M92.5 43V44M92.5 51V52M92.5 60V61M92.5 81V84M92.5 90V91M92.5 112V114M92.5 122V125M92.5 126V127M92.5 128V129M92.5 137V139M92.5 142V144M92.5 155V156M92.5 176V177M92.5 194V195M93.5 26V27M93.5 29V30M93.5 34V35M93.5 49V50M93.5 61V62M93.5 77V78M93.5 105V106M93.5 112V113M93.5 115V116M93.5 122V124M93.5 138V139M93.5 140V141M93.5 144V145M93.5 149V150M93.5 151V152M93.5 158V159M93.5 171V172M93.5 181V182M93.5 185V186M93.5 187V188M93.5 192V193M93.5 196V197M93.5 201V202M94.5 16V17M94.5 28V29M94.5 40V41M94.5 47V48M94.5 54V55M94.5 58V59M94.5 66V67M94.5 79V80M94.5 87V88M94.5 89V91M94.5 93V94M94.5 95V96M94.5 99V100M94.5 103V104M94.5 112V113M94.5 120V122M94.5 137V138M94.5 141V143M94.5 147V148M94.5 153V154M94.5 155V156M94.5 161V162M94.5 184V185M94.5 187V188M94.5 195V196M95.5 9V10M95.5 12V13M95.5 19V20M95.5 32V33M95.5 55V56M95.5 81V82M95.5 95V96M95.5 106V107M95.5 125V126M95.5 133V134M95.5 135V136M95.5 146V147M95.5 151V152M95.5 161V163M95.5 164V165M95.5 171V172M95.5 184V186M95.5 199V200M96.5 16V17M96.5 21V22M96.5 34V35M96.5 47V48M96.5 91V92M96.5 93V94M96.5 108V109M96.5 119V120M96.5 124V125M96.5 129V133M96.5 134V135M96.5 140V141M96.5 164V165M96.5 170V173M96.5 176V177M96.5 179V180M97.5 6V7M97.5 33V34M97.5 59V60M97.5 82V84M97.5 85V86M97.5 87V88M97.5 96V98M97.5 105V106M97.5 107V109M97.5 112V114M97.5 116V117M97.5 120V121M97.5 124V125M97.5 130V132M97.5 140V142M97.5 145V146M97.5 148V149M97.5 157V158M97.5 165V168M97.5 170V171M97.5 175V176M97.5 186V187M97.5 191V192M97.5 195V196M98.5 6V8M98.5 12V13M98.5 20V21M98.5 25V27M98.5 41V42M98.5 56V58M98.5 69V70M98.5 83V84M98.5 89V90M98.5 98V99M98.5 116V117M98.5 120V121M98.5 123V124M98.5 127V128M98.5 129V130M98.5 133V134M98.5 136V137M98.5 143V146M98.5 150V153M98.5 166V167M98.5 169V170M98.5 178V179M98.5 183V184M98.5 194V195M98.5 197V198M98.5 201V202M99.5 26V27M99.5 48V49M99.5 51V52M99.5 77V78M99.5 86V89M99.5 96V97M99.5 100V101M99.5 102V104M99.5 109V110M99.5 113V114M99.5 117V118M99.5 123V124M99.5 128V129M99.5 135V136M99.5 140V141M99.5 147V148M99.5 156V157M99.5 158V159M99.5 165V166M99.5 173V174M99.5 176V177M99.5 178V179M99.5 197V198M100.5 7V8M100.5 16V17M100.5 18V19M100.5 27V28M100.5 35V36M100.5 42V43M100.5 45V47M100.5 48V49M100.5 58V59M100.5 63V64M100.5 88V89M100.5 90V91M100.5 94V95M100.5 99V101M100.5 103V104M100.5 113V114M100.5 120V121M100.5 126V127M100.5 134V135M100.5 144V145M100.5 163V165M100.5 185V186M100.5 200V201M100.5 202V203M101.5 9V10M101.5 14V15M101.5 29V30M101.5 37V38M101.5 44V46M101.5 48V49M101.5 53V54M101.5 55V56M101.5 59V60M101.5 64V66M101.5 69V70M101.5 82V83M101.5 90V91M101.5 104V105M101.5 106V107M101.5 111V112M101.5 114V115M101.5 126V127M101.5 131V132M101.5 133V135M101.5 142V143M101.5 150V151M101.5 153V154M101.5 157V158M101.5 166V167M101.5 175V176M101.5 179V180M101.5 194V196M101.5 199V201M102.5 5V6M102.5 16V18M102.5 19V20M102.5 21V23M102.5 30V31M102.5 32V33M102.5 36V37M102.5 39V41M102.5 51V52M102.5 65V66M102.5 68V69M102.5 78V79M102.5 100V101M102.5 123V124M102.5 125V126M102.5 128V129M102.5 142V143M102.5 152V153M102.5 156V157M102.5 158V159M102.5 163V164M102.5 165V166M102.5 173V174M102.5 186V187M102.5 193V194M102.5 200V203M103.5 14V15M103.5 16V17M103.5 18V19M103.5 35V36M103.5 37V38M103.5 48V49M103.5 51V52M103.5 61V62M103.5 69V72M103.5 96V97M103.5 104V105M103.5 107V108M103.5 115V116M103.5 127V128M103.5 131V132M103.5 142V143M103.5 152V154M103.5 159V161M103.5 162V163M103.5 171V172M103.5 175V178M103.5 182V183M103.5 199V200M104.5 10V11M104.5 60V61M104.5 100V102M104.5 113V114M104.5 126V127M104.5 132V134M104.5 138V141M104.5 144V148M104.5 149V150M104.5 173V174M104.5 186V188M104.5 191V192M104.5 193V194M104.5 201V203M105.5 34V35M105.5 39V40M105.5 49V50M105.5 57V58M105.5 62V63M105.5 74V75M105.5 77V78M105.5 80V81M105.5 105V106M105.5 108V109M105.5 124V125M105.5 142V143M105.5 147V148M105.5 151V152M105.5 156V157M105.5 178V179M105.5 180V181M105.5 184V185M105.5 196V197M106.5 51V52M106.5 53V55M106.5 66V67M106.5 72V74M106.5 82V83M106.5 100V101M106.5 110V111M106.5 125V127M106.5 134V135M106.5 143V144M106.5 151V153M106.5 158V159M106.5 176V177M106.5 180V181M106.5 191V194M106.5 200V201M106.5 202V203M107.5 7V8M107.5 18V19M107.5 26V27M107.5 32V35M107.5 43V44M107.5 45V46M107.5 59V60M107.5 71V72M107.5 75V76M107.5 78V79M107.5 80V81M107.5 86V87M107.5 90V91M107.5 97V98M107.5 113V114M107.5 117V118M107.5 120V121M107.5 127V128M107.5 135V136M107.5 137V139M107.5 142V143M107.5 145V146M107.5 172V173M107.5 177V178M107.5 183V184M107.5 189V193M107.5 198V199M107.5 200V201M108.5 37V40M108.5 41V42M108.5 47V48M108.5 50V52M108.5 58V59M108.5 62V64M108.5 65V67M108.5 73V74M108.5 86V89M108.5 96V97M108.5 116V118M108.5 134V135M108.5 139V140M108.5 146V147M108.5 154V155M108.5 158V159M108.5 170V171M108.5 177V178M108.5 182V183M108.5 184V185M108.5 192V194M108.5 197V199M109.5 9V10M109.5 32V33M109.5 36V37M109.5 43V45M109.5 57V62M109.5 75V77M109.5 90V91M109.5 121V122M109.5 127V128M109.5 130V131M109.5 141V143M109.5 145V146M109.5 152V153M109.5 160V161M109.5 164V165M109.5 171V172M109.5 189V190M109.5 199V202M110.5 6V7M110.5 37V38M110.5 53V54M110.5 66V67M110.5 68V69M110.5 72V73M110.5 105V106M110.5 124V125M110.5 134V135M110.5 139V140M110.5 163V164M110.5 180V181M110.5 182V183M110.5 188V189M110.5 192V193M110.5 199V200M111.5 12V13M111.5 27V28M111.5 30V32M111.5 34V37M111.5 39V40M111.5 46V47M111.5 48V49M111.5 59V60M111.5 61V62M111.5 68V70M111.5 77V78M111.5 80V81M111.5 90V92M111.5 99V100M111.5 134V135M111.5 141V142M111.5 176V178M111.5 182V184M111.5 186V188M111.5 193V196M112.5 17V18M112.5 36V37M112.5 38V39M112.5 61V62M112.5 71V73M112.5 87V88M112.5 96V97M112.5 101V102M112.5 109V111M112.5 112V113M112.5 149V150M112.5 156V157M112.5 160V161M112.5 171V172M112.5 178V180M112.5 184V185M112.5 190V192M112.5 195V196M112.5 197V198M113.5 18V19M113.5 22V23M113.5 24V25M113.5 29V30M113.5 39V40M113.5 60V61M113.5 62V63M113.5 66V67M113.5 72V76M113.5 85V86M113.5 95V97M113.5 108V110M113.5 115V116M113.5 118V120M113.5 150V151M113.5 172V173M113.5 189V190M113.5 194V195M113.5 201V202M114.5 20V21M114.5 26V27M114.5 33V34M114.5 42V43M114.5 45V46M114.5 50V53M114.5 56V57M114.5 58V59M114.5 64V65M114.5 71V72M114.5 100V102M114.5 107V109M114.5 181V182M114.5 183V184M114.5 186V187M114.5 194V196M114.5 202V203M115.5 18V19M115.5 23V24M115.5 38V39M115.5 47V48M115.5 55V56M115.5 59V60M115.5 62V63M115.5 67V68M115.5 78V79M115.5 82V84M115.5 88V89M115.5 90V91M115.5 104V105M115.5 109V110M115.5 121V124M115.5 130V131M115.5 152V153M115.5 161V162M115.5 163V164M115.5 184V185M115.5 186V187M115.5 190V191M116.5 30V31M116.5 35V36M116.5 44V45M116.5 55V56M116.5 60V61M116.5 75V76M116.5 79V80M116.5 86V87M116.5 90V91M116.5 97V101M116.5 103V104M116.5 109V111M116.5 124V125M116.5 145V146M116.5 165V166M116.5 170V171M116.5 199V200M117.5 12V14M117.5 25V26M117.5 37V41M117.5 48V49M117.5 50V51M117.5 59V60M117.5 65V66M117.5 80V81M117.5 82V83M117.5 86V87M117.5 118V119M117.5 123V124M117.5 126V127M117.5 130V131M117.5 138V139M117.5 143V144M117.5 145V146M117.5 159V160M117.5 167V168M117.5 171V172M117.5 173V175M117.5 198V199M118.5 18V19M118.5 38V40M118.5 42V43M118.5 48V49M118.5 51V52M118.5 62V64M118.5 78V79M118.5 87V88M118.5 96V97M118.5 112V113M118.5 125V126M118.5 127V128M118.5 143V144M118.5 148V149M118.5 175V176M118.5 185V186M118.5 190V192M118.5 196V200M119.5 36V38M119.5 45V46M119.5 61V62M119.5 81V83M119.5 90V91M119.5 94V95M119.5 97V98M119.5 103V105M119.5 109V110M119.5 113V114M119.5 115V116M119.5 125V126M119.5 128V129M119.5 134V135M119.5 147V149M119.5 164V165M119.5 180V182M119.5 186V189M119.5 191V192M119.5 197V198M119.5 200V202M120.5 40V41M120.5 52V53M120.5 67V68M120.5 81V82M120.5 85V86M120.5 90V92M120.5 93V94M120.5 111V113M120.5 117V120M120.5 128V129M120.5 135V136M120.5 143V146M120.5 159V160M120.5 185V186M120.5 187V188M120.5 191V192M121.5 15V16M121.5 24V25M121.5 33V34M121.5 35V36M121.5 40V41M121.5 55V56M121.5 62V63M121.5 66V67M121.5 76V77M121.5 79V81M121.5 93V94M121.5 97V98M121.5 99V100M121.5 102V103M121.5 105V106M121.5 111V112M121.5 124V126M121.5 130V132M121.5 133V134M121.5 138V139M121.5 145V147M121.5 157V158M121.5 163V164M121.5 170V171M121.5 199V201M122.5 18V20M122.5 37V38M122.5 42V43M122.5 48V49M122.5 65V66M122.5 71V72M122.5 79V81M122.5 86V87M122.5 91V92M122.5 95V96M122.5 100V101M122.5 115V116M122.5 122V123M122.5 127V128M122.5 134V135M122.5 141V142M122.5 150V151M122.5 153V155M122.5 159V162M122.5 182V183M122.5 201V202M123.5 16V17M123.5 25V26M123.5 29V30M123.5 45V46M123.5 47V48M123.5 54V55M123.5 62V63M123.5 66V67M123.5 80V81M123.5 86V87M123.5 94V95M123.5 105V106M123.5 109V110M123.5 120V121M123.5 123V124M123.5 132V133M123.5 137V139M123.5 149V150M123.5 151V152M123.5 156V157M123.5 161V162M123.5 172V173M123.5 178V180M123.5 186V187M123.5 198V199M124.5 6V8M124.5 14V15M124.5 26V27M124.5 32V33M124.5 36V37M124.5 42V43M124.5 55V56M124.5 61V64M124.5 91V92M124.5 94V95M124.5 102V103M124.5 111V112M124.5 122V123M124.5 129V130M124.5 136V137M124.5 141V142M124.5 148V149M124.5 154V155M124.5 157V158M124.5 161V163M124.5 167V168M124.5 178V179M124.5 187V188M124.5 189V190M124.5 192V193M124.5 194V195M124.5 202V203M125.5 9V10M125.5 21V22M125.5 34V35M125.5 38V39M125.5 41V42M125.5 45V46M125.5 61V62M125.5 65V66M125.5 79V81M125.5 87V88M125.5 96V97M125.5 98V99M125.5 100V101M125.5 109V110M125.5 116V117M125.5 121V122M125.5 123V125M125.5 131V132M125.5 133V134M125.5 135V136M125.5 159V160M125.5 161V162M125.5 164V166M125.5 176V177M125.5 186V187M125.5 196V198M126.5 11V13M126.5 25V26M126.5 28V29M126.5 32V33M126.5 42V43M126.5 46V47M126.5 48V49M126.5 58V59M126.5 66V67M126.5 74V75M126.5 91V93M126.5 96V99M126.5 107V108M126.5 111V112M126.5 113V116M126.5 123V125M126.5 128V130M126.5 136V138M126.5 148V149M126.5 151V152M126.5 160V161M126.5 177V178M126.5 188V189M126.5 198V199M127.5 9V10M127.5 44V45M127.5 49V50M127.5 61V63M127.5 67V69M127.5 93V94M127.5 108V109M127.5 114V116M127.5 120V121M127.5 123V125M127.5 130V131M127.5 133V134M127.5 143V144M127.5 150V151M127.5 153V154M127.5 162V163M127.5 174V175M127.5 184V185M127.5 190V191M127.5 201V203M128.5 9V10M128.5 31V33M128.5 42V43M128.5 46V47M128.5 52V54M128.5 64V66M128.5 77V78M128.5 81V82M128.5 98V99M128.5 105V106M128.5 107V108M128.5 120V121M128.5 126V128M128.5 131V133M128.5 136V137M128.5 158V159M128.5 165V166M128.5 173V174M128.5 175V176M128.5 187V189M128.5 193V195M129.5 8V9M129.5 46V47M129.5 56V58M129.5 99V100M129.5 104V105M129.5 111V112M129.5 115V116M129.5 118V119M129.5 130V131M129.5 135V136M129.5 140V141M129.5 152V153M129.5 160V162M129.5 166V169M129.5 175V176M129.5 178V179M129.5 182V183M129.5 189V190M130.5 22V23M130.5 29V30M130.5 32V33M130.5 37V38M130.5 61V62M130.5 70V71M130.5 73V74M130.5 85V86M130.5 92V94M130.5 99V101M130.5 109V111M130.5 120V122M130.5 125V127M130.5 134V135M130.5 137V138M130.5 147V148M130.5 158V160M130.5 161V162M130.5 166V167M130.5 169V170M130.5 176V177M130.5 183V184M130.5 190V191M130.5 202V203M131.5 24V25M131.5 36V37M131.5 41V42M131.5 44V46M131.5 69V72M131.5 75V76M131.5 88V89M131.5 90V91M131.5 92V94M131.5 97V98M131.5 99V100M131.5 105V106M131.5 115V116M131.5 119V120M131.5 121V124M131.5 128V131M131.5 135V136M131.5 145V146M131.5 156V157M131.5 161V163M131.5 167V168M131.5 174V176M131.5 180V181M131.5 197V198M132.5 31V32M132.5 49V50M132.5 53V55M132.5 57V58M132.5 64V65M132.5 67V68M132.5 71V73M132.5 80V82M132.5 96V97M132.5 98V99M132.5 101V102M132.5 109V110M132.5 115V118M132.5 121V122M132.5 125V126M132.5 128V129M132.5 132V133M132.5 137V138M132.5 142V143M132.5 147V148M132.5 154V155M132.5 171V172M132.5 180V181M132.5 193V194M133.5 6V7M133.5 17V18M133.5 40V42M133.5 48V50M133.5 52V53M133.5 54V55M133.5 60V61M133.5 73V74M133.5 80V81M133.5 91V92M133.5 96V97M133.5 102V103M133.5 106V108M133.5 115V116M133.5 117V118M133.5 123V124M133.5 151V152M133.5 155V156M133.5 162V163M133.5 167V168M133.5 170V171M133.5 175V176M133.5 194V195M134.5 27V28M134.5 47V48M134.5 50V51M134.5 57V58M134.5 60V61M134.5 74V77M134.5 82V83M134.5 85V86M134.5 89V90M134.5 102V103M134.5 108V109M134.5 110V111M134.5 120V121M134.5 126V127M134.5 128V129M134.5 132V133M134.5 141V142M134.5 149V150M134.5 157V158M134.5 159V160M134.5 163V164M134.5 166V168M134.5 186V187M134.5 192V193M134.5 194V195M134.5 201V203M135.5 17V18M135.5 27V28M135.5 40V41M135.5 50V51M135.5 56V57M135.5 64V65M135.5 73V74M135.5 118V119M135.5 123V124M135.5 128V129M135.5 130V132M135.5 138V140M135.5 150V151M135.5 152V153M135.5 154V155M135.5 160V161M135.5 188V190M135.5 201V202M136.5 10V11M136.5 13V14M136.5 18V19M136.5 23V27M136.5 30V31M136.5 32V33M136.5 37V38M136.5 61V62M136.5 74V75M136.5 77V78M136.5 85V86M136.5 93V94M136.5 96V97M136.5 110V111M136.5 116V117M136.5 121V124M136.5 132V133M136.5 138V139M136.5 142V143M136.5 148V149M136.5 151V152M136.5 154V155M136.5 163V164M136.5 171V172M136.5 182V183M136.5 185V187M136.5 192V193M136.5 195V197M136.5 200V201M136.5 202V203M137.5 30V31M137.5 37V38M137.5 46V47M137.5 53V54M137.5 58V59M137.5 63V65M137.5 76V77M137.5 86V87M137.5 96V99M137.5 112V113M137.5 114V115M137.5 116V120M137.5 127V128M137.5 129V130M137.5 135V136M137.5 144V146M137.5 156V157M137.5 161V162M137.5 167V168M137.5 181V183M137.5 187V188M137.5 194V195M137.5 198V199M138.5 9V10M138.5 28V29M138.5 34V35M138.5 40V41M138.5 43V46M138.5 52V55M138.5 58V59M138.5 68V69M138.5 71V73M138.5 83V84M138.5 85V86M138.5 93V94M138.5 100V101M138.5 124V125M138.5 130V131M138.5 143V144M138.5 145V146M138.5 148V151M138.5 164V165M138.5 178V179M138.5 182V183M138.5 188V189M138.5 197V198M138.5 201V202M139.5 7V8M139.5 23V24M139.5 33V34M139.5 38V39M139.5 48V49M139.5 66V67M139.5 69V70M139.5 75V76M139.5 93V94M139.5 96V97M139.5 102V103M139.5 107V108M139.5 124V126M139.5 131V132M139.5 136V137M139.5 139V140M139.5 154V155M139.5 161V162M139.5 168V169M139.5 170V171M139.5 176V177M139.5 185V186M139.5 189V191M139.5 194V195M139.5 199V202M140.5 20V21M140.5 31V32M140.5 47V48M140.5 56V57M140.5 62V63M140.5 66V68M140.5 72V73M140.5 80V81M140.5 84V85M140.5 93V94M140.5 104V105M140.5 121V122M140.5 135V137M140.5 152V153M140.5 164V165M140.5 170V171M140.5 180V181M140.5 189V190M140.5 192V193M140.5 198V201M140.5 202V203M141.5 10V11M141.5 33V34M141.5 38V39M141.5 66V68M141.5 77V78M141.5 83V85M141.5 86V87M141.5 89V90M141.5 103V104M141.5 113V114M141.5 116V117M141.5 120V122M141.5 138V139M141.5 140V141M141.5 162V163M141.5 165V166M141.5 171V172M141.5 177V178M141.5 180V182M141.5 185V187M141.5 197V198M142.5 6V7M142.5 9V10M142.5 20V21M142.5 23V24M142.5 34V35M142.5 40V42M142.5 44V45M142.5 53V54M142.5 64V65M142.5 73V74M142.5 76V77M142.5 85V86M142.5 89V91M142.5 94V95M142.5 96V97M142.5 100V101M142.5 102V103M142.5 106V107M142.5 113V114M142.5 117V118M142.5 119V120M142.5 121V122M142.5 125V127M142.5 130V131M142.5 146V147M142.5 157V158M142.5 165V167M142.5 178V179M142.5 183V184M142.5 190V191M142.5 192V195M142.5 201V202M143.5 9V10M143.5 40V43M143.5 49V50M143.5 53V54M143.5 56V57M143.5 60V61M143.5 68V69M143.5 73V76M143.5 82V83M143.5 84V85M143.5 106V107M143.5 109V111M143.5 112V113M143.5 127V128M143.5 156V158M143.5 174V176M143.5 179V180M143.5 181V182M143.5 186V188M143.5 189V190M143.5 198V200M144.5 7V8M144.5 17V18M144.5 27V28M144.5 32V33M144.5 45V46M144.5 49V50M144.5 55V56M144.5 76V77M144.5 82V83M144.5 94V96M144.5 104V105M144.5 119V120M144.5 128V129M144.5 130V131M144.5 155V157M144.5 160V161M144.5 165V166M144.5 188V189M145.5 36V37M145.5 50V51M145.5 56V57M145.5 69V70M145.5 71V72M145.5 78V79M145.5 86V87M145.5 90V92M145.5 95V96M145.5 99V100M145.5 110V111M145.5 122V123M145.5 129V130M145.5 139V141M145.5 151V153M145.5 155V157M145.5 171V172M145.5 174V175M145.5 180V181M145.5 182V183M145.5 190V191M145.5 196V197M145.5 198V200M146.5 42V43M146.5 49V50M146.5 54V58M146.5 64V65M146.5 72V73M146.5 79V80M146.5 87V88M146.5 92V93M146.5 99V100M146.5 104V105M146.5 116V118M146.5 119V120M146.5 123V124M146.5 126V127M146.5 130V131M146.5 150V151M146.5 158V159M146.5 163V164M146.5 165V166M146.5 181V184M146.5 187V188M147.5 6V7M147.5 12V13M147.5 30V31M147.5 36V37M147.5 39V41M147.5 55V56M147.5 60V62M147.5 69V71M147.5 78V79M147.5 83V84M147.5 87V89M147.5 91V92M147.5 97V98M147.5 100V101M147.5 104V105M147.5 106V107M147.5 110V112M147.5 116V117M147.5 135V136M147.5 151V153M147.5 158V159M147.5 164V165M147.5 174V175M147.5 183V184M147.5 195V196M147.5 197V198M148.5 20V21M148.5 25V26M148.5 41V42M148.5 59V60M148.5 62V63M148.5 68V69M148.5 74V75M148.5 78V79M148.5 80V81M148.5 94V95M148.5 100V101M148.5 109V110M148.5 117V119M148.5 123V124M148.5 126V127M148.5 130V131M148.5 151V152M148.5 154V155M148.5 161V162M148.5 170V171M148.5 175V177M148.5 186V188M148.5 190V191M148.5 195V196M149.5 31V32M149.5 46V47M149.5 48V49M149.5 53V54M149.5 56V58M149.5 80V81M149.5 94V95M149.5 97V98M149.5 106V107M149.5 115V116M149.5 155V156M149.5 158V159M149.5 163V164M149.5 171V173M149.5 183V184M149.5 191V192M149.5 195V198M150.5 13V14M150.5 16V17M150.5 38V41M150.5 46V48M150.5 66V67M150.5 71V72M150.5 81V85M150.5 101V102M150.5 111V112M150.5 126V129M150.5 138V139M150.5 147V148M150.5 155V157M150.5 158V159M150.5 160V161M150.5 187V188M150.5 192V193M151.5 9V10M151.5 14V15M151.5 35V36M151.5 52V53M151.5 61V62M151.5 64V65M151.5 74V76M151.5 80V81M151.5 85V87M151.5 88V90M151.5 96V97M151.5 99V101M151.5 104V105M151.5 112V113M151.5 118V119M151.5 122V123M151.5 125V126M151.5 138V139M151.5 158V159M151.5 188V190M151.5 191V192M151.5 200V202M152.5 19V20M152.5 30V31M152.5 32V33M152.5 43V44M152.5 51V52M152.5 55V56M152.5 60V61M152.5 75V78M152.5 87V88M152.5 93V94M152.5 103V104M152.5 110V111M152.5 112V113M152.5 120V121M152.5 124V125M152.5 143V145M152.5 149V153M152.5 157V158M152.5 171V175M152.5 180V181M152.5 185V186M152.5 188V189M152.5 195V196M152.5 199V200M153.5 46V47M153.5 53V54M153.5 57V58M153.5 69V74M153.5 94V95M153.5 100V101M153.5 105V106M153.5 109V110M153.5 112V113M153.5 118V119M153.5 122V124M153.5 127V128M153.5 140V141M153.5 155V156M153.5 157V158M153.5 161V162M153.5 174V175M153.5 176V177M153.5 183V184M153.5 194V195M153.5 199V202M154.5 30V31M154.5 32V33M154.5 43V44M154.5 61V62M154.5 63V64M154.5 66V67M154.5 101V102M154.5 103V104M154.5 126V127M154.5 141V143M154.5 150V152M154.5 153V154M154.5 160V162M154.5 170V171M154.5 176V177M154.5 187V188M154.5 189V190M155.5 19V20M155.5 30V31M155.5 39V40M155.5 53V54M155.5 55V56M155.5 59V60M155.5 73V75M155.5 77V78M155.5 81V83M155.5 86V89M155.5 99V101M155.5 104V106M155.5 107V108M155.5 121V122M155.5 157V158M155.5 161V163M155.5 167V168M155.5 169V170M155.5 178V179M155.5 182V183M155.5 185V186M155.5 193V194M155.5 195V196M155.5 198V199M156.5 7V10M156.5 18V19M156.5 38V39M156.5 45V48M156.5 57V58M156.5 66V67M156.5 70V71M156.5 73V74M156.5 79V80M156.5 83V84M156.5 93V94M156.5 98V99M156.5 100V101M156.5 110V111M156.5 121V122M156.5 123V124M156.5 129V130M156.5 140V141M156.5 146V147M156.5 159V160M156.5 162V163M156.5 173V174M156.5 179V180M156.5 187V188M156.5 190V191M156.5 195V197M156.5 201V203M157.5 18V21M157.5 32V33M157.5 43V44M157.5 67V68M157.5 69V70M157.5 74V75M157.5 77V78M157.5 81V82M157.5 87V88M157.5 103V104M157.5 107V108M157.5 123V125M157.5 144V145M157.5 146V148M157.5 152V153M157.5 158V159M157.5 166V167M157.5 178V179M157.5 188V189M157.5 190V191M157.5 194V196M157.5 199V200M158.5 25V26M158.5 33V34M158.5 36V37M158.5 58V59M158.5 93V94M158.5 98V99M158.5 107V108M158.5 118V120M158.5 126V127M158.5 130V131M158.5 143V144M158.5 149V150M158.5 158V159M158.5 160V161M158.5 162V163M158.5 174V175M158.5 197V198M158.5 202V203M159.5 18V19M159.5 35V36M159.5 37V38M159.5 40V41M159.5 46V47M159.5 49V51M159.5 57V58M159.5 63V64M159.5 74V75M159.5 84V85M159.5 89V90M159.5 101V102M159.5 103V104M159.5 109V110M159.5 113V114M159.5 124V127M159.5 150V153M159.5 154V155M159.5 158V159M159.5 171V172M159.5 179V180M159.5 183V184M159.5 194V195M159.5 196V197M159.5 201V203M160.5 13V14M160.5 21V22M160.5 31V32M160.5 42V45M160.5 53V54M160.5 63V64M160.5 68V69M160.5 74V75M160.5 93V94M160.5 95V96M160.5 106V107M160.5 110V111M160.5 116V117M160.5 127V129M160.5 144V145M160.5 146V147M160.5 149V150M160.5 152V153M160.5 156V157M160.5 158V159M160.5 162V163M160.5 174V175M160.5 188V189M160.5 198V199M161.5 6V7M161.5 16V17M161.5 19V20M161.5 23V25M161.5 34V36M161.5 48V49M161.5 55V56M161.5 70V71M161.5 82V83M161.5 87V88M161.5 89V91M161.5 101V103M161.5 116V117M161.5 127V128M161.5 132V133M161.5 148V149M161.5 154V155M161.5 159V160M161.5 161V162M161.5 169V170M161.5 181V182M161.5 185V187M161.5 193V194M161.5 201V202M162.5 6V7M162.5 8V9M162.5 16V17M162.5 37V38M162.5 39V40M162.5 51V52M162.5 60V61M162.5 63V64M162.5 73V74M162.5 94V95M162.5 108V109M162.5 119V120M162.5 122V123M162.5 125V126M162.5 128V129M162.5 156V159M162.5 179V180M162.5 191V192M162.5 201V202M163.5 16V18M163.5 26V28M163.5 34V35M163.5 38V39M163.5 40V41M163.5 49V50M163.5 52V53M163.5 60V61M163.5 65V66M163.5 68V69M163.5 72V73M163.5 92V93M163.5 101V102M163.5 111V112M163.5 115V118M163.5 124V126M163.5 127V128M163.5 131V132M163.5 141V142M163.5 154V157M163.5 160V161M163.5 164V166M163.5 167V168M163.5 173V174M163.5 181V182M163.5 185V186M163.5 193V194M163.5 199V200M164.5 24V25M164.5 45V46M164.5 47V48M164.5 52V53M164.5 58V59M164.5 69V70M164.5 82V83M164.5 86V87M164.5 106V107M164.5 108V109M164.5 112V113M164.5 118V121M164.5 128V129M164.5 148V149M164.5 155V156M164.5 164V165M164.5 172V174M164.5 183V184M164.5 189V190M164.5 192V193M165.5 39V40M165.5 55V56M165.5 70V71M165.5 88V90M165.5 94V95M165.5 96V97M165.5 103V105M165.5 108V109M165.5 110V111M165.5 117V118M165.5 119V120M165.5 149V150M165.5 158V161M165.5 162V163M165.5 166V167M165.5 169V170M165.5 178V179M165.5 183V184M165.5 187V188M165.5 190V192M166.5 7V8M166.5 27V28M166.5 30V31M166.5 32V33M166.5 36V37M166.5 38V39M166.5 48V50M166.5 54V55M166.5 57V58M166.5 64V65M166.5 68V71M166.5 78V80M166.5 93V94M166.5 102V103M166.5 108V109M166.5 115V116M166.5 119V120M166.5 124V125M166.5 151V152M166.5 153V157M166.5 166V167M166.5 184V185M166.5 197V198M167.5 11V12M167.5 15V16M167.5 17V18M167.5 50V51M167.5 57V59M167.5 67V68M167.5 70V71M167.5 74V75M167.5 84V85M167.5 86V87M167.5 92V93M167.5 110V111M167.5 126V127M167.5 132V134M167.5 167V168M167.5 171V172M167.5 175V177M167.5 196V198M168.5 47V48M168.5 51V52M168.5 62V63M168.5 77V78M168.5 79V80M168.5 87V88M168.5 94V95M168.5 102V103M168.5 109V111M168.5 121V122M168.5 132V133M168.5 139V140M168.5 144V145M168.5 150V151M168.5 161V162M168.5 166V167M168.5 170V172M168.5 176V179M168.5 185V187M168.5 193V195M168.5 199V200M168.5 201V202M169.5 21V22M169.5 26V27M169.5 29V30M169.5 37V38M169.5 49V50M169.5 52V53M169.5 57V58M169.5 63V64M169.5 70V71M169.5 83V84M169.5 88V90M169.5 98V100M169.5 106V107M169.5 117V118M169.5 125V128M169.5 132V133M169.5 134V135M169.5 141V142M169.5 163V164M169.5 170V171M169.5 181V183M170.5 31V34M170.5 50V51M170.5 53V55M170.5 59V60M170.5 65V66M170.5 81V82M170.5 84V85M170.5 99V102M170.5 155V156M170.5 161V162M170.5 163V164M170.5 169V170M170.5 183V184M170.5 193V194M170.5 199V201M171.5 11V12M171.5 46V47M171.5 49V50M171.5 58V59M171.5 64V65M171.5 80V81M171.5 93V94M171.5 97V99M171.5 119V122M171.5 124V127M171.5 132V135M171.5 138V139M171.5 157V158M171.5 175V176M171.5 181V182M171.5 183V184M172.5 16V17M172.5 38V39M172.5 56V57M172.5 64V65M172.5 69V71M172.5 73V74M172.5 79V80M172.5 86V87M172.5 101V102M172.5 107V109M172.5 112V113M172.5 119V122M172.5 125V128M172.5 175V176M172.5 180V181M172.5 184V185M173.5 28V30M173.5 42V43M173.5 45V46M173.5 51V52M173.5 61V62M173.5 73V74M173.5 75V76M173.5 81V82M173.5 122V123M173.5 129V130M173.5 136V138M173.5 144V145M173.5 153V154M173.5 157V158M173.5 168V169M173.5 170V171M173.5 177V178M173.5 184V186M173.5 187V188M173.5 196V197M174.5 25V26M174.5 31V32M174.5 38V39M174.5 63V65M174.5 69V70M174.5 77V78M174.5 80V82M174.5 85V86M174.5 90V91M174.5 121V122M174.5 125V127M174.5 128V130M174.5 134V136M174.5 140V141M174.5 150V151M174.5 160V161M174.5 186V187M174.5 188V189M174.5 194V195M174.5 196V197M174.5 198V199M174.5 202V203M175.5 9V10M175.5 30V31M175.5 57V58M175.5 59V61M175.5 67V68M175.5 71V72M175.5 81V83M175.5 89V90M175.5 109V110M175.5 116V117M175.5 118V119M175.5 123V124M175.5 125V126M175.5 130V131M175.5 140V142M175.5 144V145M175.5 164V165M175.5 175V176M175.5 178V179M176.5 34V36M176.5 64V65M176.5 76V77M176.5 78V79M176.5 91V92M176.5 98V99M176.5 111V113M176.5 120V122M176.5 129V131M176.5 136V137M176.5 148V151M176.5 159V161M176.5 167V168M176.5 182V183M176.5 200V203M177.5 12V13M177.5 23V24M177.5 26V27M177.5 33V35M177.5 37V38M177.5 42V43M177.5 49V50M177.5 53V54M177.5 81V82M177.5 106V107M177.5 109V110M177.5 117V118M177.5 123V124M177.5 131V132M177.5 141V143M177.5 147V148M177.5 154V155M177.5 160V161M177.5 166V167M177.5 201V202M178.5 6V7M178.5 33V34M178.5 43V44M178.5 50V52M178.5 59V60M178.5 69V70M178.5 71V72M178.5 122V123M178.5 130V133M178.5 140V141M178.5 143V144M178.5 151V152M178.5 199V200M179.5 6V7M179.5 27V28M179.5 29V30M179.5 31V32M179.5 37V38M179.5 48V49M179.5 71V72M179.5 77V78M179.5 83V84M179.5 127V128M179.5 156V157M179.5 165V166M179.5 171V172M179.5 198V201M180.5 36V37M180.5 57V58M180.5 67V68M180.5 74V75M180.5 79V80M180.5 96V98M180.5 115V116M180.5 120V125M180.5 141V142M180.5 147V149M180.5 152V153M180.5 157V158M180.5 163V165M180.5 172V173M180.5 176V177M180.5 179V180M180.5 198V199M180.5 200V201M181.5 5V7M181.5 86V87M181.5 100V101M181.5 104V105M181.5 106V107M181.5 117V118M181.5 120V121M181.5 144V145M181.5 149V150M181.5 151V152M181.5 166V168M181.5 180V181M181.5 188V189M181.5 201V202M182.5 3V4M182.5 24V25M182.5 33V34M182.5 43V44M182.5 45V46M182.5 61V62M182.5 67V68M182.5 73V76M182.5 79V80M182.5 81V82M182.5 108V109M182.5 114V116M182.5 120V121M182.5 122V124M182.5 126V127M182.5 135V136M182.5 137V138M182.5 142V143M182.5 145V146M182.5 148V149M182.5 154V155M182.5 156V158M182.5 161V162M182.5 163V164M182.5 188V189M182.5 199V200M183.5 6V8M183.5 33V34M183.5 37V39M183.5 43V44M183.5 50V51M183.5 65V66M183.5 79V80M183.5 98V99M183.5 106V108M183.5 111V112M183.5 121V122M183.5 124V125M183.5 133V134M183.5 141V142M183.5 166V168M183.5 171V172M183.5 176V177M183.5 178V179M183.5 181V182M183.5 192V193M183.5 196V197M183.5 202V203M184.5 5V6M184.5 30V31M184.5 39V40M184.5 46V47M184.5 56V57M184.5 58V59M184.5 64V65M184.5 68V69M184.5 74V75M184.5 86V87M184.5 97V98M184.5 114V115M184.5 120V121M184.5 122V123M184.5 128V132M184.5 134V135M184.5 136V137M184.5 140V141M184.5 152V153M184.5 158V159M184.5 164V166M184.5 171V172M184.5 185V188M184.5 192V193M185.5 12V13M185.5 30V31M185.5 35V36M185.5 43V44M185.5 48V50M185.5 72V73M185.5 101V103M185.5 113V114M185.5 122V123M185.5 141V142M185.5 148V149M185.5 170V173M185.5 196V197M185.5 202V203M186.5 6V7M186.5 22V23M186.5 34V35M186.5 40V41M186.5 53V55M186.5 73V74M186.5 107V108M186.5 116V117M186.5 129V130M186.5 132V133M186.5 136V137M186.5 138V139M186.5 141V142M186.5 148V149M186.5 150V153M186.5 159V161M186.5 162V163M186.5 164V165M186.5 189V192M187.5 18V21M187.5 24V25M187.5 39V40M187.5 44V45M187.5 58V61M187.5 68V69M187.5 74V75M187.5 81V82M187.5 102V103M187.5 104V105M187.5 123V124M187.5 128V129M187.5 148V149M187.5 150V151M187.5 154V155M187.5 172V173M187.5 186V187M187.5 194V195M187.5 199V200M187.5 201V202M188.5 9V10M188.5 23V24M188.5 27V28M188.5 35V36M188.5 58V59M188.5 64V66M188.5 74V75M188.5 76V77M188.5 104V105M188.5 110V111M188.5 113V114M188.5 125V126M188.5 132V133M188.5 139V140M188.5 146V147M188.5 152V153M188.5 162V163M188.5 176V177M188.5 179V180M188.5 202V203M189.5 26V28M189.5 41V42M189.5 47V48M189.5 51V52M189.5 60V61M189.5 68V69M189.5 96V97M189.5 110V112M189.5 119V121M189.5 124V125M189.5 127V128M189.5 129V130M189.5 133V134M189.5 145V146M189.5 147V148M189.5 163V165M189.5 166V167M189.5 172V173M189.5 177V178M189.5 185V186M189.5 196V197M190.5 7V8M190.5 35V36M190.5 39V40M190.5 41V42M190.5 43V45M190.5 51V52M190.5 54V55M190.5 60V61M190.5 69V70M190.5 115V116M190.5 120V121M190.5 125V126M190.5 128V130M190.5 135V136M190.5 140V141M190.5 143V144M190.5 151V152M190.5 154V155M190.5 156V157M190.5 172V173M190.5 180V182M190.5 197V198M191.5 18V19M191.5 27V28M191.5 30V31M191.5 32V34M191.5 37V38M191.5 48V49M191.5 60V61M191.5 64V65M191.5 68V69M191.5 71V72M191.5 75V76M191.5 87V88M191.5 105V106M191.5 113V114M191.5 119V120M191.5 123V124M191.5 125V126M191.5 131V132M191.5 141V142M191.5 152V155M191.5 160V161M191.5 163V165M191.5 168V170M191.5 176V177M191.5 179V180M191.5 190V192M191.5 199V200M192.5 32V33M192.5 48V49M192.5 68V69M192.5 70V71M192.5 78V79M192.5 81V82M192.5 89V90M192.5 91V92M192.5 109V110M192.5 114V115M192.5 129V130M192.5 132V133M192.5 139V140M192.5 142V143M192.5 144V145M192.5 147V148M192.5 152V153M192.5 159V160M192.5 161V164M192.5 171V172M192.5 179V181M192.5 185V186M192.5 194V195M193.5 10V11M193.5 26V29M193.5 34V35M193.5 38V42M193.5 51V55M193.5 61V62M193.5 66V67M193.5 68V69M193.5 74V76M193.5 80V81M193.5 85V86M193.5 114V118M193.5 136V137M193.5 138V139M193.5 144V145M193.5 149V150M193.5 154V156M193.5 167V168M193.5 170V171M193.5 175V177M193.5 183V184M193.5 190V193M194.5 22V23M194.5 34V35M194.5 36V37M194.5 39V40M194.5 47V48M194.5 49V51M194.5 56V57M194.5 74V75M194.5 85V86M194.5 88V89M194.5 95V97M194.5 101V102M194.5 107V108M194.5 114V115M194.5 118V119M194.5 130V131M194.5 132V133M194.5 138V139M194.5 141V143M194.5 148V149M194.5 163V167M194.5 169V171M194.5 174V176M194.5 178V181M194.5 186V187M194.5 189V190M194.5 194V197M195.5 12V13M195.5 14V15M195.5 23V24M195.5 37V38M195.5 56V57M195.5 69V70M195.5 71V72M195.5 81V83M195.5 103V104M195.5 129V130M195.5 143V144M195.5 148V150M195.5 159V160M195.5 166V167M195.5 173V174M195.5 175V176M195.5 180V181M195.5 183V184M196.5 33V34M196.5 52V53M196.5 62V63M196.5 96V98M196.5 100V101M196.5 129V130M196.5 131V132M196.5 138V139M196.5 150V151M196.5 154V155M196.5 156V158M196.5 162V163M196.5 169V171M196.5 178V179M196.5 188V189M196.5 193V194M197.5 8V9M197.5 37V38M197.5 51V53M197.5 56V57M197.5 60V61M197.5 66V67M197.5 95V96M197.5 132V134M197.5 140V141M197.5 143V146M197.5 180V181M197.5 189V190M197.5 197V198M198.5 9V10M198.5 16V17M198.5 32V33M198.5 45V46M198.5 60V61M198.5 71V72M198.5 89V90M198.5 92V93M198.5 98V99M198.5 103V105M198.5 107V108M198.5 129V130M198.5 133V134M198.5 138V140M198.5 147V150M198.5 153V154M198.5 157V158M198.5 162V163M198.5 165V166M198.5 173V174M198.5 182V184M198.5 192V193M198.5 197V199M199.5 15V16M199.5 31V32M199.5 38V39M199.5 42V43M199.5 53V54M199.5 55V56M199.5 65V68M199.5 78V79M199.5 92V94M199.5 110V112M199.5 153V155M199.5 160V161M199.5 163V164M199.5 165V166M199.5 170V171M199.5 177V179M199.5 183V185M199.5 186V187M199.5 189V191M199.5 195V196M199.5 197V198M200.5 21V22M200.5 46V48M200.5 53V54M200.5 56V57M200.5 68V69M200.5 83V84M200.5 100V101M200.5 103V104M200.5 110V111M200.5 117V118M200.5 133V135M200.5 141V142M200.5 152V154M200.5 161V162M200.5 175V176M200.5 184V185M200.5 199V200M201.5 31V33M201.5 34V35M201.5 48V49M201.5 65V66M201.5 81V82M201.5 88V89M201.5 99V100M201.5 105V106M201.5 121V122M201.5 141V143M201.5 149V150M201.5 151V153M201.5 155V156M201.5 159V160M201.5 167V169M201.5 172V173M201.5 176V177M201.5 182V184M201.5 188V190M201.5 202V203"/>
<path stroke="#888888" d="M0.5 10V11M0.5 27V28M0.5 42V43M0.5 49V50M0.5 57V58M0.5 59V60M0.5 66V67M0.5 76V77M0.5 85V86M0.5 94V96M0.5 102V103M0.5 114V115M0.5 118V119M0.5 125V126M0.5 132V133M0.5 136V138M0.5 162V166M0.5 171V174M0.5 180V181M0.5 183V185M0.5 190V191M0.5 202V203M1.5 7V8M1.5 22V25M1.5 30V33M1.5 38V39M1.5 41V42M1.5 48V50M1.5 52V53M1.5 61V62M1.5 64V66M1.5 70V71M1.5 73V74M1.5 78V79M1.5 106V107M1.5 111V114M1.5 115V116M1.5 120V121M1.5 123V125M1.5 150V151M1.5 153V154M1.5 156V157M1.5 163V166M1.5 175V176M1.5 181V185M1.5 189V192M1.5 199V201M1.5 202V203M2.5 11V12M2.5 13V14M2.5 25V26M2.5 28V30M2.5 43V45M2.5 48V50M2.5 54V55M2.5 61V62M2.5 66V67M2.5 73V75M2.5 78V79M2.5 80V81M2.5 88V89M2.5 92V94M2.5 97V98M2.5 102V105M2.5 106V107M2.5 111V112M2.5 116V118M2.5 153V154M2.5 155V156M2.5 163V164M2.5 166V167M2.5 171V172M2.5 190V194M2.5 199V203M3.5 10V11M3.5 25V28M3.5 31V32M3.5 39V40M3.5 46V47M3.5 82V83M3.5 89V90M3.5 95V97M3.5 99V100M3.5 105V106M3.5 111V112M3.5 116V117M3.5 119V120M3.5 123V124M3.5 125V126M3.5 131V132M3.5 138V139M3.5 145V146M3.5 148V149M3.5 154V155M3.5 157V158M3.5 171V176M3.5 180V182M3.5 184V185M3.5 192V193M4.5 10V11M4.5 62V63M4.5 75V76M4.5 85V86M4.5 95V96M4.5 97V99M4.5 105V107M4.5 108V109M4.5 119V120M4.5 123V124M4.5 143V144M4.5 145V146M4.5 148V149M4.5 155V156M4.5 164V165M4.5 172V176M4.5 181V182M4.5 184V185M4.5 192V193M4.5 200V201M4.5 202V203M5.5 17V19M5.5 26V27M5.5 51V53M5.5 56V57M5.5 58V60M5.5 64V65M5.5 85V86M5.5 91V92M5.5 95V96M5.5 98V99M5.5 105V106M5.5 113V114M5.5 116V117M5.5 119V120M5.5 125V126M5.5 139V140M5.5 148V149M5.5 153V155M5.5 156V158M5.5 163V165M5.5 171V173M5.5 175V176M5.5 180V184M5.5 190V191M5.5 192V193M5.5 200V201M6.5 7V8M6.5 11V12M6.5 44V45M6.5 58V59M6.5 63V64M6.5 65V66M6.5 81V82M6.5 90V91M6.5 95V96M6.5 97V100M6.5 105V107M6.5 111V112M6.5 116V117M6.5 118V119M6.5 138V139M6.5 147V148M6.5 154V155M6.5 162V163M6.5 165V166M6.5 171V175M6.5 181V184M6.5 198V199M6.5 201V202M7.5 33V34M7.5 39V40M7.5 47V48M7.5 50V55M7.5 65V66M7.5 68V69M7.5 78V80M7.5 87V88M7.5 93V94M7.5 109V110M7.5 111V112M7.5 116V117M7.5 120V121M7.5 131V133M7.5 145V146M7.5 154V155M7.5 162V164M7.5 165V167M7.5 172V173M7.5 174V175M7.5 189V192M7.5 199V200M8.5 21V23M8.5 24V25M8.5 40V41M8.5 52V53M8.5 59V61M8.5 71V72M8.5 75V76M8.5 79V81M8.5 85V87M8.5 94V96M8.5 98V99M8.5 104V105M8.5 109V110M8.5 137V139M8.5 148V149M8.5 154V157M8.5 165V166M8.5 171V172M8.5 173V174M8.5 188V191M8.5 198V199M8.5 201V202M9.5 3V5M9.5 6V7M9.5 31V33M9.5 38V39M9.5 51V52M9.5 62V63M9.5 89V90M9.5 110V111M9.5 113V114M9.5 123V124M9.5 127V128M9.5 129V130M9.5 131V132M9.5 137V138M9.5 140V141M9.5 145V146M9.5 147V149M9.5 162V165M9.5 172V173M9.5 180V184M9.5 192V193M9.5 198V202M10.5 4V6M10.5 22V23M10.5 45V46M10.5 62V63M10.5 67V68M10.5 70V71M10.5 77V79M10.5 81V82M10.5 86V87M10.5 107V110M10.5 126V127M10.5 133V134M10.5 135V136M10.5 146V147M10.5 148V149M10.5 154V155M10.5 158V159M10.5 163V167M10.5 172V173M10.5 181V185M10.5 190V194M10.5 199V200M11.5 5V7M11.5 32V33M11.5 44V45M11.5 56V58M11.5 60V61M11.5 62V63M11.5 78V79M11.5 82V84M11.5 86V87M11.5 95V96M11.5 99V100M11.5 104V105M11.5 109V110M11.5 114V115M11.5 131V132M11.5 135V136M11.5 137V138M11.5 147V149M11.5 158V159M11.5 164V167M11.5 176V177M11.5 194V195M11.5 200V203M12.5 5V6M12.5 28V29M12.5 43V44M12.5 68V69M12.5 78V79M12.5 85V87M12.5 88V89M12.5 96V97M12.5 101V102M12.5 103V105M12.5 113V114M12.5 125V126M12.5 127V130M12.5 133V134M12.5 141V142M12.5 149V150M12.5 155V156M12.5 158V160M12.5 164V165M12.5 167V168M12.5 176V177M12.5 182V183M12.5 184V187M12.5 201V202M13.5 5V6M13.5 21V22M13.5 41V42M13.5 59V60M13.5 70V71M13.5 73V75M13.5 80V81M13.5 84V85M13.5 97V100M13.5 101V102M13.5 117V118M13.5 126V127M13.5 130V132M13.5 135V137M13.5 138V140M13.5 146V147M13.5 148V149M13.5 157V158M13.5 161V162M13.5 165V166M13.5 168V169M13.5 174V175M13.5 184V185M13.5 192V196M13.5 202V203M14.5 17V18M14.5 30V31M14.5 36V37M14.5 46V47M14.5 53V54M14.5 61V62M14.5 68V69M14.5 70V72M14.5 78V80M14.5 82V83M14.5 87V88M14.5 92V95M14.5 105V106M14.5 118V119M14.5 125V126M14.5 131V132M14.5 141V143M14.5 166V169M14.5 184V185M14.5 186V188M14.5 192V193M14.5 194V196M14.5 201V202M15.5 0V1M15.5 43V46M15.5 51V52M15.5 61V62M15.5 66V67M15.5 69V70M15.5 74V76M15.5 79V80M15.5 83V84M15.5 88V89M15.5 117V118M15.5 125V128M15.5 132V133M15.5 134V135M15.5 141V142M15.5 151V152M15.5 157V158M15.5 160V161M15.5 166V168M15.5 169V170M15.5 175V176M15.5 184V188M15.5 192V193M15.5 195V197M16.5 0V1M16.5 7V8M16.5 21V22M16.5 23V24M16.5 48V49M16.5 53V55M16.5 59V60M16.5 62V63M16.5 72V74M16.5 83V85M16.5 87V88M16.5 111V112M16.5 124V125M16.5 130V131M16.5 136V137M16.5 138V139M16.5 142V143M16.5 158V159M16.5 166V168M16.5 169V170M16.5 175V177M16.5 197V198M16.5 202V203M17.5 25V26M17.5 28V29M17.5 32V33M17.5 36V37M17.5 43V44M17.5 48V49M17.5 54V55M17.5 64V65M17.5 90V91M17.5 93V94M17.5 97V99M17.5 106V107M17.5 110V111M17.5 127V128M17.5 129V130M17.5 133V134M17.5 139V140M17.5 142V143M17.5 148V152M17.5 159V160M17.5 169V170M18.5 1V3M18.5 19V20M18.5 28V29M18.5 32V33M18.5 37V38M18.5 40V41M18.5 44V45M18.5 51V52M18.5 54V58M18.5 61V62M18.5 77V78M18.5 94V95M18.5 100V101M18.5 104V105M18.5 120V121M18.5 123V124M18.5 128V129M18.5 131V132M18.5 150V152M18.5 167V168M18.5 184V185M18.5 191V192M18.5 195V197M18.5 202V203M19.5 3V4M19.5 40V41M19.5 48V49M19.5 52V53M19.5 54V55M19.5 57V58M19.5 61V62M19.5 69V70M19.5 73V75M19.5 77V78M19.5 90V92M19.5 96V97M19.5 105V108M19.5 122V123M19.5 131V132M19.5 135V136M19.5 143V144M19.5 148V149M19.5 150V151M19.5 158V159M19.5 160V161M19.5 166V167M19.5 185V188M19.5 194V197M19.5 202V203M20.5 33V35M20.5 42V43M20.5 53V54M20.5 63V64M20.5 67V70M20.5 75V76M20.5 81V82M20.5 93V94M20.5 95V98M20.5 107V108M20.5 124V125M20.5 132V133M20.5 138V139M20.5 140V141M20.5 149V150M20.5 157V160M20.5 165V166M20.5 185V186M20.5 195V196M20.5 202V203M21.5 7V8M21.5 16V17M21.5 42V46M21.5 73V74M21.5 90V92M21.5 93V95M21.5 108V109M21.5 147V148M21.5 156V157M21.5 177V178M21.5 195V196M22.5 10V11M22.5 21V22M22.5 37V38M22.5 45V48M22.5 56V57M22.5 69V71M22.5 82V83M22.5 96V97M22.5 106V107M22.5 126V127M22.5 131V132M22.5 136V137M22.5 143V144M22.5 147V148M22.5 150V151M22.5 174V178M22.5 191V192M22.5 193V195M22.5 201V202M23.5 11V12M23.5 13V14M23.5 17V18M23.5 20V21M23.5 34V35M23.5 40V42M23.5 58V59M23.5 63V67M23.5 69V70M23.5 79V80M23.5 82V83M23.5 95V96M23.5 100V101M23.5 102V103M23.5 130V131M23.5 137V138M23.5 165V169M23.5 176V177M23.5 191V192M24.5 11V12M24.5 19V20M24.5 22V23M24.5 31V32M24.5 37V39M24.5 43V44M24.5 47V48M24.5 50V51M24.5 57V58M24.5 60V61M24.5 65V66M24.5 77V78M24.5 85V86M24.5 89V90M24.5 91V92M24.5 128V129M24.5 131V132M24.5 137V138M24.5 139V140M24.5 144V145M24.5 148V149M24.5 164V165M24.5 174V175M24.5 176V177M24.5 185V186M24.5 191V192M24.5 193V194M24.5 195V196M24.5 200V201M24.5 202V203M25.5 13V14M25.5 57V58M25.5 62V63M25.5 82V83M25.5 95V96M25.5 106V107M25.5 117V118M25.5 128V129M25.5 139V141M25.5 144V145M25.5 158V159M25.5 164V166M25.5 174V175M25.5 184V186M25.5 191V192M25.5 194V195M25.5 200V203M26.5 5V6M26.5 34V35M26.5 36V37M26.5 47V49M26.5 50V51M26.5 53V54M26.5 60V61M26.5 73V74M26.5 92V93M26.5 95V96M26.5 111V112M26.5 130V131M26.5 132V134M26.5 136V137M26.5 148V149M26.5 156V159M26.5 168V169M26.5 175V176M26.5 186V187M26.5 191V192M26.5 194V195M26.5 201V203M27.5 11V12M27.5 28V29M27.5 41V42M27.5 52V53M27.5 57V58M27.5 62V63M27.5 64V65M27.5 74V75M27.5 80V81M27.5 83V84M27.5 92V93M27.5 99V100M27.5 101V102M27.5 113V114M27.5 115V116M27.5 128V129M27.5 151V152M27.5 156V157M27.5 165V168M27.5 184V185M27.5 194V196M27.5 201V202M28.5 23V24M28.5 31V32M28.5 43V44M28.5 45V46M28.5 60V61M28.5 65V66M28.5 71V74M28.5 84V86M28.5 87V88M28.5 93V95M28.5 104V105M28.5 109V110M28.5 112V113M28.5 131V132M28.5 143V144M28.5 147V148M28.5 150V151M28.5 158V160M28.5 165V166M28.5 168V169M28.5 178V179M28.5 185V187M28.5 192V193M28.5 195V196M29.5 6V7M29.5 31V32M29.5 34V35M29.5 51V52M29.5 55V56M29.5 66V68M29.5 75V76M29.5 79V80M29.5 88V89M29.5 95V96M29.5 100V102M29.5 105V106M29.5 110V111M29.5 113V114M29.5 118V119M29.5 147V150M29.5 157V158M29.5 164V165M29.5 167V168M29.5 191V192M29.5 194V195M29.5 201V202M30.5 25V26M30.5 38V39M30.5 42V45M30.5 52V53M30.5 55V56M30.5 69V70M30.5 75V77M30.5 81V83M30.5 85V87M30.5 104V105M30.5 122V125M30.5 126V127M30.5 147V148M30.5 150V151M30.5 155V156M30.5 158V159M30.5 164V165M30.5 174V175M30.5 177V178M30.5 180V181M30.5 182V183M30.5 191V192M30.5 193V194M30.5 202V203M31.5 5V6M31.5 39V40M31.5 47V49M31.5 53V54M31.5 55V56M31.5 62V63M31.5 66V67M31.5 87V88M31.5 93V94M31.5 100V102M31.5 117V118M31.5 120V122M31.5 145V146M31.5 148V149M31.5 154V156M31.5 157V159M31.5 166V167M31.5 172V173M31.5 178V179M31.5 182V183M31.5 185V186M31.5 194V195M31.5 202V203M32.5 7V8M32.5 11V12M32.5 30V31M32.5 50V51M32.5 64V65M32.5 66V67M32.5 69V71M32.5 72V73M32.5 88V89M32.5 94V95M32.5 96V97M32.5 102V103M32.5 105V108M32.5 148V149M32.5 154V155M32.5 157V158M32.5 163V167M32.5 172V173M32.5 183V184M32.5 190V192M32.5 193V194M32.5 198V199M32.5 200V201M33.5 12V14M33.5 23V24M33.5 29V30M33.5 38V40M33.5 42V43M33.5 44V45M33.5 47V51M33.5 62V65M33.5 86V87M33.5 94V95M33.5 100V101M33.5 118V120M33.5 132V133M33.5 153V154M33.5 166V167M33.5 184V185M33.5 192V194M33.5 198V200M33.5 201V203M34.5 6V7M34.5 9V10M34.5 19V20M34.5 40V41M34.5 43V46M34.5 59V62M34.5 78V79M34.5 81V82M34.5 83V84M34.5 94V95M34.5 98V99M34.5 101V102M34.5 105V106M34.5 119V120M34.5 123V124M34.5 129V130M34.5 156V158M34.5 165V166M34.5 170V174M34.5 183V184M34.5 190V193M34.5 197V200M35.5 8V9M35.5 40V41M35.5 51V52M35.5 55V56M35.5 59V60M35.5 73V74M35.5 75V76M35.5 89V90M35.5 93V98M35.5 99V100M35.5 101V102M35.5 112V114M35.5 132V133M35.5 173V175M35.5 184V185M35.5 193V194M35.5 199V200M35.5 202V203M36.5 5V6M36.5 33V34M36.5 37V38M36.5 41V42M36.5 53V54M36.5 56V57M36.5 65V66M36.5 85V86M36.5 88V89M36.5 92V93M36.5 98V99M36.5 113V114M36.5 141V142M36.5 146V147M36.5 158V159M36.5 171V172M36.5 174V175M36.5 176V177M36.5 185V186M36.5 190V191M36.5 192V194M36.5 198V199M36.5 200V201M37.5 7V8M37.5 24V25M37.5 41V43M37.5 44V45M37.5 51V52M37.5 66V67M37.5 79V80M37.5 85V86M37.5 92V93M37.5 94V95M37.5 105V106M37.5 110V112M37.5 115V116M37.5 119V120M37.5 131V134M37.5 137V138M37.5 139V140M37.5 148V150M37.5 166V167M37.5 172V173M37.5 175V177M37.5 190V192M37.5 193V194M37.5 201V203M38.5 23V24M38.5 29V30M38.5 32V33M38.5 34V35M38.5 38V39M38.5 42V43M38.5 50V51M38.5 80V81M38.5 83V84M38.5 87V88M38.5 89V90M38.5 106V109M38.5 130V131M38.5 132V133M38.5 136V137M38.5 139V140M38.5 143V144M38.5 147V148M38.5 172V173M38.5 184V185M38.5 190V191M38.5 192V193M38.5 197V198M38.5 200V203M39.5 36V37M39.5 43V44M39.5 46V47M39.5 48V49M39.5 71V72M39.5 85V86M39.5 91V92M39.5 103V104M39.5 109V111M39.5 114V115M39.5 125V126M39.5 132V133M39.5 136V138M39.5 145V148M39.5 149V151M39.5 181V183M39.5 191V192M39.5 194V195M39.5 200V201M40.5 9V10M40.5 30V32M40.5 33V35M40.5 45V46M40.5 49V50M40.5 52V53M40.5 62V63M40.5 69V71M40.5 72V73M40.5 94V95M40.5 100V101M40.5 104V105M40.5 106V107M40.5 112V113M40.5 130V132M40.5 136V137M40.5 139V140M40.5 143V144M40.5 146V147M40.5 155V156M40.5 159V160M40.5 181V183M40.5 185V186M40.5 193V194M40.5 195V197M41.5 50V51M41.5 52V53M41.5 68V69M41.5 92V93M41.5 113V114M41.5 124V125M41.5 129V130M41.5 138V139M41.5 140V141M41.5 145V146M41.5 154V155M41.5 156V157M41.5 179V180M41.5 191V192M41.5 194V195M41.5 197V198M42.5 72V73M42.5 83V84M42.5 105V107M42.5 114V115M42.5 124V125M42.5 129V130M42.5 135V136M42.5 149V150M42.5 152V153M42.5 163V167M42.5 196V197M42.5 200V202M43.5 6V7M43.5 17V18M43.5 35V36M43.5 44V45M43.5 48V49M43.5 52V53M43.5 56V57M43.5 58V61M43.5 78V79M43.5 83V84M43.5 86V87M43.5 93V94M43.5 100V101M43.5 108V109M43.5 111V112M43.5 117V118M43.5 142V143M43.5 145V146M43.5 151V154M43.5 155V156M43.5 176V177M43.5 194V195M43.5 196V197M43.5 198V199M43.5 201V202M44.5 5V6M44.5 39V40M44.5 42V43M44.5 64V65M44.5 70V71M44.5 77V79M44.5 89V90M44.5 95V96M44.5 101V102M44.5 106V107M44.5 108V109M44.5 151V153M44.5 160V161M44.5 162V163M44.5 199V201M45.5 5V6M45.5 22V23M45.5 47V49M45.5 51V52M45.5 60V61M45.5 63V64M45.5 68V69M45.5 71V72M45.5 78V80M45.5 85V86M45.5 95V96M45.5 101V102M45.5 108V109M45.5 110V111M45.5 131V132M45.5 134V135M45.5 138V139M45.5 148V149M45.5 155V156M45.5 158V159M45.5 172V173M45.5 175V176M45.5 182V184M45.5 187V188M45.5 198V199M46.5 4V5M46.5 31V32M46.5 47V48M46.5 59V60M46.5 72V73M46.5 76V79M46.5 83V84M46.5 87V88M46.5 89V90M46.5 93V94M46.5 100V101M46.5 116V117M46.5 137V138M46.5 140V142M46.5 146V149M46.5 152V153M46.5 163V164M46.5 187V188M46.5 194V195M46.5 197V199M47.5 3V5M47.5 40V41M47.5 45V46M47.5 52V53M47.5 55V56M47.5 61V62M47.5 67V68M47.5 71V72M47.5 91V92M47.5 109V110M47.5 116V117M47.5 136V137M47.5 141V142M47.5 150V152M47.5 154V156M47.5 175V177M47.5 183V184M47.5 186V187M47.5 190V192M47.5 198V199M48.5 3V4M48.5 6V7M48.5 13V14M48.5 18V19M48.5 31V32M48.5 40V42M48.5 55V56M48.5 57V58M48.5 64V65M48.5 119V120M48.5 133V134M48.5 140V141M48.5 145V146M48.5 147V148M48.5 154V155M48.5 161V162M48.5 168V169M48.5 176V177M48.5 180V181M48.5 191V192M48.5 200V201M49.5 10V11M49.5 15V16M49.5 17V18M49.5 43V44M49.5 47V48M49.5 52V53M49.5 64V65M49.5 68V69M49.5 76V77M49.5 86V87M49.5 99V100M49.5 104V105M49.5 106V107M49.5 134V135M49.5 141V142M49.5 143V145M49.5 149V150M49.5 165V166M49.5 170V171M49.5 181V182M49.5 190V194M49.5 199V200M50.5 8V9M50.5 12V13M50.5 20V21M50.5 23V24M50.5 38V39M50.5 40V42M50.5 53V54M50.5 60V61M50.5 68V69M50.5 72V75M50.5 91V92M50.5 94V95M50.5 101V102M50.5 110V111M50.5 115V116M50.5 137V138M50.5 143V145M50.5 149V150M50.5 163V164M50.5 169V170M50.5 185V186M50.5 187V188M50.5 193V194M51.5 56V57M51.5 58V59M51.5 61V62M51.5 66V68M51.5 69V74M51.5 89V90M51.5 95V96M51.5 101V102M51.5 104V105M51.5 107V108M51.5 112V113M51.5 127V128M51.5 148V149M51.5 151V152M51.5 158V159M51.5 169V170M51.5 171V172M51.5 189V191M51.5 196V197M51.5 198V199M51.5 202V203M52.5 12V13M52.5 16V17M52.5 18V19M52.5 21V23M52.5 34V35M52.5 38V39M52.5 42V43M52.5 58V59M52.5 60V61M52.5 77V78M52.5 96V97M52.5 101V102M52.5 106V107M52.5 110V112M52.5 114V115M52.5 120V121M52.5 141V142M52.5 143V144M52.5 147V148M52.5 166V168M52.5 169V170M52.5 183V184M52.5 195V198M53.5 19V20M53.5 31V32M53.5 48V49M53.5 53V55M53.5 61V62M53.5 64V65M53.5 66V67M53.5 92V93M53.5 95V96M53.5 106V107M53.5 114V115M53.5 123V124M53.5 139V140M53.5 145V147M53.5 170V171M53.5 172V173M53.5 187V188M54.5 40V41M54.5 43V44M54.5 56V57M54.5 73V74M54.5 98V99M54.5 107V108M54.5 111V112M54.5 118V119M54.5 120V121M54.5 122V123M54.5 147V148M54.5 160V161M54.5 163V164M54.5 177V179M54.5 181V182M54.5 183V184M54.5 199V200M55.5 3V4M55.5 15V16M55.5 28V29M55.5 31V32M55.5 35V36M55.5 48V50M55.5 52V53M55.5 55V56M55.5 118V119M55.5 122V123M55.5 128V129M55.5 131V133M55.5 149V150M55.5 173V174M55.5 175V176M55.5 185V188M55.5 193V195M55.5 197V198M55.5 201V202M56.5 3V4M56.5 20V22M56.5 30V31M56.5 32V33M56.5 68V69M56.5 77V78M56.5 85V86M56.5 106V107M56.5 118V121M56.5 122V123M56.5 128V129M56.5 130V131M56.5 135V136M56.5 167V168M56.5 173V174M56.5 180V183M56.5 195V196M56.5 197V198M56.5 200V202M57.5 3V5M57.5 6V7M57.5 12V13M57.5 16V17M57.5 45V47M57.5 53V54M57.5 65V66M57.5 70V72M57.5 77V78M57.5 80V81M57.5 83V84M57.5 88V90M57.5 101V102M57.5 103V106M57.5 118V119M57.5 126V129M57.5 131V132M57.5 136V137M57.5 144V145M57.5 162V163M57.5 164V165M57.5 169V170M57.5 177V178M57.5 187V188M57.5 194V195M57.5 196V197M58.5 4V5M58.5 16V17M58.5 19V20M58.5 33V34M58.5 94V95M58.5 101V102M58.5 132V133M58.5 134V136M58.5 148V149M58.5 165V166M58.5 187V188M58.5 201V202M59.5 4V5M59.5 28V29M59.5 41V42M59.5 81V82M59.5 83V84M59.5 106V107M59.5 116V118M59.5 127V128M59.5 134V135M59.5 142V143M59.5 166V168M59.5 170V172M59.5 178V179M59.5 182V183M59.5 186V187M59.5 192V193M59.5 198V199M60.5 4V6M60.5 11V12M60.5 16V17M60.5 20V21M60.5 32V33M60.5 46V47M60.5 60V61M60.5 68V69M60.5 72V74M60.5 79V80M60.5 92V93M60.5 109V110M60.5 119V121M60.5 122V123M60.5 128V129M60.5 137V138M60.5 152V153M60.5 180V181M60.5 188V189M60.5 195V198M61.5 4V5M61.5 10V11M61.5 15V16M61.5 24V25M61.5 29V30M61.5 35V36M61.5 39V40M61.5 41V42M61.5 62V63M61.5 67V68M61.5 69V70M61.5 79V80M61.5 84V86M61.5 92V93M61.5 99V100M61.5 103V109M61.5 114V115M61.5 117V120M61.5 131V132M61.5 135V137M61.5 139V140M61.5 143V144M61.5 145V146M61.5 149V150M61.5 172V173M61.5 174V175M61.5 185V186M61.5 195V196M61.5 199V200M62.5 4V5M62.5 27V28M62.5 30V31M62.5 37V38M62.5 42V43M62.5 45V46M62.5 60V62M62.5 77V79M62.5 93V95M62.5 104V106M62.5 107V108M62.5 122V123M62.5 136V137M62.5 140V143M62.5 151V152M62.5 155V156M62.5 180V181M62.5 189V190M62.5 193V196M63.5 5V6M63.5 34V35M63.5 45V46M63.5 57V58M63.5 60V61M63.5 64V66M63.5 68V69M63.5 76V77M63.5 79V80M63.5 81V82M63.5 89V90M63.5 97V98M63.5 103V104M63.5 113V114M63.5 115V116M63.5 121V123M63.5 124V125M63.5 126V127M63.5 150V151M63.5 157V158M63.5 169V170M63.5 184V185M63.5 186V187M63.5 190V191M63.5 192V193M63.5 200V202M64.5 5V6M64.5 18V19M64.5 28V29M64.5 44V45M64.5 56V57M64.5 58V59M64.5 62V63M64.5 91V92M64.5 101V102M64.5 106V107M64.5 109V110M64.5 123V124M64.5 127V128M64.5 130V131M64.5 135V136M64.5 143V144M64.5 147V150M64.5 155V156M64.5 159V161M64.5 163V165M64.5 171V172M64.5 175V176M65.5 7V8M65.5 14V15M65.5 27V28M65.5 44V45M65.5 54V55M65.5 58V59M65.5 94V95M65.5 106V107M65.5 113V115M65.5 118V119M65.5 125V127M65.5 130V131M65.5 133V135M65.5 142V143M65.5 153V154M65.5 156V157M65.5 158V159M65.5 161V162M65.5 166V168M65.5 174V175M65.5 177V178M65.5 200V201M66.5 5V6M66.5 26V27M66.5 35V36M66.5 54V55M66.5 56V57M66.5 67V68M66.5 69V70M66.5 82V83M66.5 85V86M66.5 88V89M66.5 99V103M66.5 110V111M66.5 113V114M66.5 119V120M66.5 124V125M66.5 127V128M66.5 131V133M66.5 144V148M66.5 159V161M66.5 163V164M66.5 167V168M66.5 180V181M66.5 185V186M66.5 188V190M66.5 193V194M67.5 8V9M67.5 21V22M67.5 25V26M67.5 58V59M67.5 87V89M67.5 92V95M67.5 98V99M67.5 105V106M67.5 107V108M67.5 115V116M67.5 117V118M67.5 122V123M67.5 129V130M67.5 136V137M67.5 140V141M67.5 143V144M67.5 150V151M67.5 152V153M67.5 161V162M67.5 190V192M67.5 195V196M67.5 199V200M68.5 2V4M68.5 62V63M68.5 65V66M68.5 68V69M68.5 70V71M68.5 80V82M68.5 83V84M68.5 86V87M68.5 90V91M68.5 107V108M68.5 113V114M68.5 120V121M68.5 123V124M68.5 132V133M68.5 138V139M68.5 143V144M68.5 151V152M68.5 157V158M68.5 163V164M68.5 182V183M68.5 186V187M68.5 189V190M68.5 193V194M68.5 197V198M69.5 1V3M69.5 26V27M69.5 36V37M69.5 46V47M69.5 64V66M69.5 77V78M69.5 80V81M69.5 84V85M69.5 100V101M69.5 102V103M69.5 110V111M69.5 113V114M69.5 116V117M69.5 122V123M69.5 133V135M69.5 136V137M69.5 138V139M69.5 146V147M69.5 152V154M69.5 184V186M69.5 193V194M70.5 20V21M70.5 25V26M70.5 28V29M70.5 35V36M70.5 38V39M70.5 42V43M70.5 68V69M70.5 75V76M70.5 89V90M70.5 101V102M70.5 103V104M70.5 109V110M70.5 111V112M70.5 118V119M70.5 120V122M70.5 131V132M70.5 134V135M70.5 138V139M70.5 149V150M70.5 152V153M70.5 172V177M70.5 181V182M70.5 187V188M70.5 189V190M71.5 45V46M71.5 69V70M71.5 81V82M71.5 91V92M71.5 94V96M71.5 98V99M71.5 111V112M71.5 119V120M71.5 126V127M71.5 136V137M71.5 142V144M71.5 175V176M71.5 178V179M71.5 185V186M71.5 187V188M71.5 191V192M71.5 193V194M71.5 200V201M72.5 26V27M72.5 37V38M72.5 43V44M72.5 46V47M72.5 64V65M72.5 69V70M72.5 83V84M72.5 92V93M72.5 96V98M72.5 100V102M72.5 108V109M72.5 123V124M72.5 125V126M72.5 128V129M72.5 168V169M72.5 174V175M72.5 178V179M72.5 181V182M72.5 189V190M72.5 194V195M72.5 196V197M73.5 8V9M73.5 21V22M73.5 44V45M73.5 53V55M73.5 84V85M73.5 88V89M73.5 98V100M73.5 107V109M73.5 119V122M73.5 175V177M73.5 180V181M73.5 184V186M73.5 189V191M73.5 201V203M74.5 0V2M74.5 12V13M74.5 26V27M74.5 30V31M74.5 39V40M74.5 45V47M74.5 77V78M74.5 79V80M74.5 105V107M74.5 118V119M74.5 144V145M74.5 149V150M74.5 164V166M74.5 171V172M74.5 176V177M74.5 183V184M74.5 191V192M74.5 196V197M74.5 198V199M74.5 202V203M75.5 0V3M75.5 8V9M75.5 10V11M75.5 12V13M75.5 35V36M75.5 38V39M75.5 42V43M75.5 46V47M75.5 58V59M75.5 93V94M75.5 100V101M75.5 105V106M75.5 111V112M75.5 115V116M75.5 121V122M75.5 129V130M75.5 141V142M75.5 147V148M75.5 155V156M75.5 165V166M75.5 176V177M75.5 178V179M75.5 186V187M75.5 188V190M75.5 194V195M75.5 199V200M76.5 0V2M76.5 12V13M76.5 29V30M76.5 31V32M76.5 56V57M76.5 58V59M76.5 66V67M76.5 76V78M76.5 95V96M76.5 124V125M76.5 132V133M76.5 138V139M76.5 144V145M76.5 146V147M76.5 149V150M76.5 162V163M76.5 164V165M76.5 170V171M76.5 175V177M76.5 190V191M76.5 196V197M77.5 0V2M77.5 50V51M77.5 65V66M77.5 69V70M77.5 94V95M77.5 102V103M77.5 118V119M77.5 123V124M77.5 129V130M77.5 135V136M77.5 141V142M77.5 147V149M77.5 160V161M77.5 166V168M77.5 169V170M77.5 189V190M77.5 191V192M77.5 196V197M77.5 202V203M78.5 0V2M78.5 23V24M78.5 46V47M78.5 48V49M78.5 62V64M78.5 104V105M78.5 119V121M78.5 126V127M78.5 129V130M78.5 138V139M78.5 144V145M78.5 162V163M78.5 166V168M78.5 170V171M78.5 172V173M78.5 177V178M78.5 183V185M78.5 193V194M78.5 199V200M79.5 0V2M79.5 6V7M79.5 8V9M79.5 15V16M79.5 22V23M79.5 35V37M79.5 53V55M79.5 57V58M79.5 78V79M79.5 93V94M79.5 119V120M79.5 132V135M79.5 140V141M79.5 144V147M79.5 148V149M79.5 162V163M79.5 170V171M79.5 173V174M79.5 178V180M79.5 181V183M79.5 190V191M80.5 0V1M80.5 16V17M80.5 35V36M80.5 41V42M80.5 51V52M80.5 55V58M80.5 59V60M80.5 62V63M80.5 67V68M80.5 69V70M80.5 72V73M80.5 108V109M80.5 120V121M80.5 127V129M80.5 135V136M80.5 141V142M80.5 158V159M80.5 161V162M80.5 185V186M80.5 192V194M81.5 0V1M81.5 23V24M81.5 25V27M81.5 36V38M81.5 42V43M81.5 44V45M81.5 56V60M81.5 70V71M81.5 75V76M81.5 77V78M81.5 81V85M81.5 105V106M81.5 111V112M81.5 119V120M81.5 136V139M81.5 141V143M81.5 161V162M81.5 167V168M81.5 171V172M81.5 174V175M81.5 183V184M81.5 186V187M81.5 190V191M81.5 201V202M82.5 16V17M82.5 30V31M82.5 54V55M82.5 65V66M82.5 70V71M82.5 76V77M82.5 105V106M82.5 121V122M82.5 157V158M82.5 170V171M82.5 172V173M82.5 174V175M82.5 176V177M83.5 5V7M83.5 32V33M83.5 51V52M83.5 78V79M83.5 95V96M83.5 97V98M83.5 101V103M83.5 115V116M83.5 126V127M83.5 129V130M83.5 136V137M83.5 142V143M83.5 145V147M83.5 154V156M83.5 160V161M83.5 163V164M83.5 167V168M83.5 181V182M83.5 186V187M83.5 192V193M84.5 40V41M84.5 57V58M84.5 67V68M84.5 72V73M84.5 88V89M84.5 93V94M84.5 99V100M84.5 104V105M84.5 110V112M84.5 116V118M84.5 119V120M84.5 130V131M84.5 133V134M84.5 142V143M84.5 146V149M84.5 153V154M84.5 155V156M84.5 160V161M84.5 177V178M84.5 184V186M84.5 195V197M85.5 5V6M85.5 13V14M85.5 18V20M85.5 31V32M85.5 39V40M85.5 48V49M85.5 64V65M85.5 67V68M85.5 69V70M85.5 89V90M85.5 94V95M85.5 99V100M85.5 102V103M85.5 111V113M85.5 123V124M85.5 136V137M85.5 139V140M85.5 158V160M85.5 164V165M85.5 178V179M85.5 188V189M85.5 192V194M85.5 196V197M86.5 66V67M86.5 91V93M86.5 96V97M86.5 98V99M86.5 107V108M86.5 113V114M86.5 115V116M86.5 119V120M86.5 123V124M86.5 131V132M86.5 141V142M86.5 146V147M86.5 154V155M86.5 160V163M86.5 166V167M86.5 169V170M86.5 171V172M86.5 183V184M86.5 195V197M86.5 200V202M87.5 20V21M87.5 33V34M87.5 45V46M87.5 61V62M87.5 64V65M87.5 66V67M87.5 80V81M87.5 88V90M87.5 92V95M87.5 98V99M87.5 104V105M87.5 114V117M87.5 123V124M87.5 130V131M87.5 132V133M87.5 135V136M87.5 137V138M87.5 147V148M87.5 150V152M87.5 162V163M87.5 169V170M87.5 173V174M87.5 186V187M87.5 190V191M87.5 192V193M87.5 195V198M87.5 201V202M88.5 7V8M88.5 31V32M88.5 50V51M88.5 54V55M88.5 62V63M88.5 86V87M88.5 99V100M88.5 103V105M88.5 111V112M88.5 114V115M88.5 150V151M88.5 167V168M88.5 170V173M88.5 177V178M88.5 181V182M88.5 184V185M88.5 195V197M88.5 202V203M89.5 4V7M89.5 20V22M89.5 42V44M89.5 53V54M89.5 84V85M89.5 89V90M89.5 93V94M89.5 96V97M89.5 111V112M89.5 130V131M89.5 132V133M89.5 148V150M89.5 153V154M89.5 166V167M89.5 170V171M89.5 174V175M89.5 178V179M89.5 181V182M89.5 183V184M89.5 186V188M89.5 196V198M89.5 201V202M90.5 27V28M90.5 29V30M90.5 40V41M90.5 55V56M90.5 79V80M90.5 82V83M90.5 88V90M90.5 92V93M90.5 94V95M90.5 105V106M90.5 114V115M90.5 128V129M90.5 130V131M90.5 137V138M90.5 143V144M90.5 145V146M90.5 148V149M90.5 163V164M90.5 167V168M90.5 169V174M90.5 178V180M90.5 182V183M90.5 189V191M90.5 195V197M90.5 199V200M91.5 4V5M91.5 17V18M91.5 38V39M91.5 42V43M91.5 53V54M91.5 58V59M91.5 60V61M91.5 83V84M91.5 90V91M91.5 97V98M91.5 114V115M91.5 124V125M91.5 126V128M91.5 161V162M91.5 163V164M91.5 170V171M91.5 173V174M91.5 185V186M91.5 190V191M91.5 193V194M91.5 195V198M92.5 17V18M92.5 20V21M92.5 39V40M92.5 44V45M92.5 53V55M92.5 58V59M92.5 79V80M92.5 84V85M92.5 94V95M92.5 100V101M92.5 114V116M92.5 121V122M92.5 125V126M92.5 129V130M92.5 132V133M92.5 135V137M92.5 139V140M92.5 141V142M92.5 146V147M92.5 149V150M92.5 153V154M92.5 167V168M92.5 173V174M92.5 185V186M92.5 190V191M92.5 197V198M93.5 5V6M93.5 7V8M93.5 19V20M93.5 22V23M93.5 25V26M93.5 32V33M93.5 35V37M93.5 40V41M93.5 45V46M93.5 79V80M93.5 87V88M93.5 95V96M93.5 97V98M93.5 110V112M93.5 120V121M93.5 133V136M93.5 141V142M93.5 143V144M93.5 146V147M93.5 148V149M93.5 154V155M93.5 177V178M93.5 182V183M93.5 191V192M93.5 200V201M94.5 5V6M94.5 12V14M94.5 38V40M94.5 50V51M94.5 55V56M94.5 77V79M94.5 82V83M94.5 91V93M94.5 97V98M94.5 100V101M94.5 102V103M94.5 122V124M94.5 127V128M94.5 131V133M94.5 138V139M94.5 143V147M94.5 150V151M94.5 152V153M94.5 158V159M94.5 172V174M94.5 178V180M94.5 181V182M94.5 188V191M94.5 193V194M94.5 199V201M94.5 202V203M95.5 6V7M95.5 16V17M95.5 29V30M95.5 41V42M95.5 43V45M95.5 48V51M95.5 58V60M95.5 82V83M95.5 84V85M95.5 87V89M95.5 92V93M95.5 104V106M95.5 123V124M95.5 129V130M95.5 132V133M95.5 143V144M95.5 152V153M95.5 160V161M95.5 166V168M95.5 174V176M95.5 177V178M95.5 179V180M95.5 190V191M95.5 192V193M95.5 195V196M95.5 197V198M96.5 19V20M96.5 28V29M96.5 31V32M96.5 33V34M96.5 45V46M96.5 52V53M96.5 55V56M96.5 59V60M96.5 84V85M96.5 89V90M96.5 94V95M96.5 100V101M96.5 104V106M96.5 115V116M96.5 120V121M96.5 122V123M96.5 125V126M96.5 128V129M96.5 141V143M96.5 148V149M96.5 160V161M96.5 166V168M96.5 173V174M96.5 183V184M96.5 196V197M96.5 200V201M97.5 20V21M97.5 44V45M97.5 55V56M97.5 62V63M97.5 99V101M97.5 117V118M97.5 128V130M97.5 139V140M97.5 160V161M97.5 171V172M97.5 180V181M97.5 185V186M97.5 190V191M97.5 196V197M97.5 199V201M98.5 27V28M98.5 36V37M98.5 39V40M98.5 53V54M98.5 60V61M98.5 76V77M98.5 84V87M98.5 102V103M98.5 106V107M98.5 113V114M98.5 126V127M98.5 132V133M98.5 134V136M98.5 139V141M98.5 154V155M98.5 170V171M98.5 182V183M99.5 15V16M99.5 30V31M99.5 42V43M99.5 45V47M99.5 60V61M99.5 78V79M99.5 97V98M99.5 99V100M99.5 126V127M99.5 129V130M99.5 131V132M99.5 133V134M99.5 137V138M99.5 143V146M99.5 161V164M99.5 167V168M99.5 170V171M99.5 179V181M99.5 182V183M99.5 184V185M99.5 190V191M100.5 8V9M100.5 12V13M100.5 19V20M100.5 28V29M100.5 31V32M100.5 44V45M100.5 55V56M100.5 62V63M100.5 79V80M100.5 85V86M100.5 98V99M100.5 101V102M100.5 108V109M100.5 116V118M100.5 123V124M100.5 125V126M100.5 129V130M100.5 133V134M100.5 138V139M100.5 141V142M100.5 145V146M100.5 148V149M100.5 155V157M100.5 167V168M100.5 179V180M100.5 181V182M100.5 191V192M101.5 3V7M101.5 21V22M101.5 52V53M101.5 56V57M101.5 62V64M101.5 68V69M101.5 75V76M101.5 91V93M101.5 95V96M101.5 97V98M101.5 107V108M101.5 115V118M101.5 122V123M101.5 130V131M101.5 135V136M101.5 144V145M101.5 149V150M101.5 155V156M101.5 158V159M101.5 167V168M101.5 181V186M101.5 189V191M101.5 193V194M101.5 196V198M101.5 201V203M102.5 2V5M102.5 10V11M102.5 13V15M102.5 23V24M102.5 28V29M102.5 33V34M102.5 37V39M102.5 43V44M102.5 64V65M102.5 67V68M102.5 72V73M102.5 86V87M102.5 93V94M102.5 108V109M102.5 112V113M102.5 115V116M102.5 126V127M102.5 155V156M102.5 159V160M102.5 162V163M102.5 176V177M102.5 182V184M102.5 194V196M102.5 197V199M103.5 2V4M103.5 11V12M103.5 34V35M103.5 38V39M103.5 40V41M103.5 46V47M103.5 53V54M103.5 56V59M103.5 68V69M103.5 74V77M103.5 105V107M103.5 114V115M103.5 118V120M103.5 130V131M103.5 136V137M103.5 141V142M103.5 145V146M103.5 149V151M103.5 154V155M103.5 156V158M103.5 172V175M103.5 178V179M103.5 187V188M103.5 192V193M103.5 195V196M103.5 200V201M104.5 1V3M104.5 17V18M104.5 34V35M104.5 36V37M104.5 43V44M104.5 47V48M104.5 51V53M104.5 59V60M104.5 61V62M104.5 73V74M104.5 75V78M104.5 79V80M104.5 102V103M104.5 109V110M104.5 114V115M104.5 117V118M104.5 125V126M104.5 129V130M104.5 134V135M104.5 141V142M104.5 153V154M104.5 172V173M104.5 177V179M104.5 180V181M104.5 184V186M104.5 189V190M104.5 197V198M105.5 1V3M105.5 10V11M105.5 13V14M105.5 19V20M105.5 43V44M105.5 60V61M105.5 65V67M105.5 70V71M105.5 76V77M105.5 81V82M105.5 88V89M105.5 96V97M105.5 101V102M105.5 106V107M105.5 109V110M105.5 113V114M105.5 125V126M105.5 154V156M105.5 158V159M105.5 177V178M105.5 181V182M105.5 188V191M105.5 199V200M106.5 1V3M106.5 12V13M106.5 25V26M106.5 28V29M106.5 43V44M106.5 50V51M106.5 59V60M106.5 63V64M106.5 84V85M106.5 101V102M106.5 111V112M106.5 114V115M106.5 122V123M106.5 124V125M106.5 127V128M106.5 135V136M106.5 138V139M106.5 141V142M106.5 155V156M106.5 171V173M106.5 179V180M106.5 184V186M106.5 189V190M106.5 194V196M106.5 198V200M107.5 1V2M107.5 37V39M107.5 40V42M107.5 48V49M107.5 50V51M107.5 53V54M107.5 56V57M107.5 60V61M107.5 64V65M107.5 89V90M107.5 115V116M107.5 123V124M107.5 148V149M107.5 151V152M107.5 170V171M107.5 175V176M107.5 180V181M107.5 186V187M107.5 193V194M107.5 196V197M107.5 201V203M108.5 14V15M108.5 17V18M108.5 49V50M108.5 53V55M108.5 56V57M108.5 67V69M108.5 70V71M108.5 90V91M108.5 101V102M108.5 118V119M108.5 121V122M108.5 127V128M108.5 129V130M108.5 131V132M108.5 135V136M108.5 149V153M108.5 172V173M108.5 187V191M108.5 194V196M108.5 200V203M109.5 10V13M109.5 14V15M109.5 48V49M109.5 65V68M109.5 71V72M109.5 78V81M109.5 85V86M109.5 92V93M109.5 131V132M109.5 138V139M109.5 144V145M109.5 176V177M109.5 178V179M109.5 183V185M109.5 186V187M109.5 193V194M109.5 202V203M110.5 15V16M110.5 17V19M110.5 27V28M110.5 38V39M110.5 42V47M110.5 48V49M110.5 51V52M110.5 60V61M110.5 64V65M110.5 76V77M110.5 83V84M110.5 85V86M110.5 103V104M110.5 111V112M110.5 135V136M110.5 138V139M110.5 144V146M110.5 153V154M110.5 156V157M110.5 169V170M110.5 172V173M110.5 176V177M110.5 190V191M111.5 19V20M111.5 24V25M111.5 33V34M111.5 37V38M111.5 49V51M111.5 52V54M111.5 63V64M111.5 65V66M111.5 70V71M111.5 85V86M111.5 94V95M111.5 97V98M111.5 104V105M111.5 107V108M111.5 109V110M111.5 124V126M111.5 137V138M111.5 143V144M111.5 147V149M111.5 164V165M111.5 168V175M111.5 180V181M111.5 188V189M111.5 190V192M111.5 196V197M112.5 9V10M112.5 18V20M112.5 27V28M112.5 37V38M112.5 43V44M112.5 53V54M112.5 57V58M112.5 62V63M112.5 69V70M112.5 75V78M112.5 86V87M112.5 90V91M112.5 92V93M112.5 97V98M112.5 108V109M112.5 116V117M112.5 136V137M112.5 139V140M112.5 159V160M112.5 170V171M112.5 173V177M112.5 186V189M112.5 199V200M113.5 6V7M113.5 11V12M113.5 19V20M113.5 27V28M113.5 48V49M113.5 52V53M113.5 65V66M113.5 69V70M113.5 80V81M113.5 84V85M113.5 88V89M113.5 90V91M113.5 92V94M113.5 98V99M113.5 102V104M113.5 105V107M113.5 110V111M113.5 112V113M113.5 117V118M113.5 121V122M113.5 136V137M113.5 146V147M113.5 159V160M113.5 166V167M113.5 171V172M113.5 178V179M113.5 190V191M113.5 196V197M113.5 200V201M114.5 37V38M114.5 47V48M114.5 49V50M114.5 53V56M114.5 59V60M114.5 61V62M114.5 83V84M114.5 94V95M114.5 98V99M114.5 106V107M114.5 123V124M114.5 127V128M114.5 133V134M114.5 146V147M114.5 149V150M114.5 161V163M114.5 168V169M114.5 172V175M114.5 178V179M114.5 191V192M114.5 193V194M114.5 196V197M115.5 20V21M115.5 31V32M115.5 36V37M115.5 48V50M115.5 52V53M115.5 58V59M115.5 65V66M115.5 68V69M115.5 77V78M115.5 84V85M115.5 87V88M115.5 93V94M115.5 97V98M115.5 110V111M115.5 115V116M115.5 118V119M115.5 153V154M115.5 155V156M115.5 158V159M115.5 177V178M115.5 192V193M116.5 38V39M116.5 64V65M116.5 67V68M116.5 71V72M116.5 82V83M116.5 84V85M116.5 87V88M116.5 89V90M116.5 96V97M116.5 102V103M116.5 111V114M116.5 116V118M116.5 121V122M116.5 127V128M116.5 131V132M116.5 138V139M116.5 153V154M116.5 159V160M116.5 162V163M116.5 166V167M116.5 171V172M116.5 175V176M116.5 186V187M116.5 188V189M116.5 190V191M116.5 196V197M116.5 200V203M117.5 24V25M117.5 41V42M117.5 52V53M117.5 58V59M117.5 62V64M117.5 68V69M117.5 79V80M117.5 89V92M117.5 104V105M117.5 109V110M117.5 122V123M117.5 127V128M117.5 135V136M117.5 164V165M117.5 168V169M117.5 177V178M117.5 182V184M117.5 186V188M117.5 189V191M118.5 44V45M118.5 59V60M118.5 64V66M118.5 80V81M118.5 82V83M118.5 89V91M118.5 94V95M118.5 97V99M118.5 103V104M118.5 105V106M118.5 107V108M118.5 109V110M118.5 122V123M118.5 130V131M118.5 137V138M118.5 153V154M118.5 174V175M118.5 180V181M118.5 183V184M118.5 188V189M118.5 193V194M118.5 195V196M118.5 201V202M119.5 27V28M119.5 30V31M119.5 38V39M119.5 56V57M119.5 58V59M119.5 64V65M119.5 67V68M119.5 85V87M119.5 88V89M119.5 95V97M119.5 99V100M119.5 112V113M119.5 117V118M119.5 120V121M119.5 123V125M119.5 129V130M119.5 135V136M119.5 142V145M119.5 149V150M119.5 177V180M119.5 182V183M119.5 198V200M120.5 26V27M120.5 33V34M120.5 71V72M120.5 75V76M120.5 86V87M120.5 88V89M120.5 108V110M120.5 122V123M120.5 124V127M120.5 134V135M120.5 139V140M120.5 146V147M120.5 160V163M120.5 178V179M120.5 184V185M120.5 190V191M121.5 6V7M121.5 27V28M121.5 29V31M121.5 34V35M121.5 37V38M121.5 43V45M121.5 77V79M121.5 83V84M121.5 87V90M121.5 91V92M121.5 100V102M121.5 112V114M121.5 118V119M121.5 121V122M121.5 127V128M121.5 134V135M121.5 137V138M121.5 140V142M121.5 148V149M121.5 152V153M121.5 161V162M121.5 184V186M121.5 192V193M121.5 198V199M121.5 201V202M122.5 41V42M122.5 57V58M122.5 78V79M122.5 81V84M122.5 85V86M122.5 90V91M122.5 99V100M122.5 109V110M122.5 112V114M122.5 116V119M122.5 140V141M122.5 151V153M122.5 166V167M122.5 170V171M122.5 200V201M123.5 22V23M123.5 52V53M123.5 63V64M123.5 77V79M123.5 83V84M123.5 89V90M123.5 99V100M123.5 101V102M123.5 110V111M123.5 115V116M123.5 126V128M123.5 129V130M123.5 133V135M123.5 141V144M123.5 146V147M123.5 148V149M123.5 154V155M123.5 157V160M123.5 164V165M123.5 181V182M123.5 185V186M123.5 196V197M123.5 200V201M124.5 33V34M124.5 50V51M124.5 64V65M124.5 76V77M124.5 83V85M124.5 88V89M124.5 90V91M124.5 97V98M124.5 108V109M124.5 110V111M124.5 123V124M124.5 130V131M124.5 133V135M124.5 156V157M124.5 160V161M124.5 164V165M124.5 168V169M124.5 181V183M124.5 185V186M124.5 190V192M124.5 200V201M125.5 24V25M125.5 48V49M125.5 94V95M125.5 102V103M125.5 113V114M125.5 120V121M125.5 127V130M125.5 137V139M125.5 142V143M125.5 146V147M125.5 166V167M125.5 171V172M125.5 174V175M125.5 179V181M125.5 182V183M125.5 194V195M126.5 7V8M126.5 13V15M126.5 45V46M126.5 49V51M126.5 60V61M126.5 64V66M126.5 71V72M126.5 80V81M126.5 83V84M126.5 90V91M126.5 93V94M126.5 95V96M126.5 101V102M126.5 116V117M126.5 119V120M126.5 121V122M126.5 125V127M126.5 132V136M126.5 139V141M126.5 143V144M126.5 145V146M126.5 152V153M126.5 154V155M126.5 156V157M126.5 159V160M126.5 175V176M126.5 180V183M126.5 185V187M126.5 190V191M126.5 201V202M127.5 6V7M127.5 8V9M127.5 10V11M127.5 21V22M127.5 26V27M127.5 36V38M127.5 40V41M127.5 42V43M127.5 46V47M127.5 63V65M127.5 66V67M127.5 80V81M127.5 82V83M127.5 95V96M127.5 98V99M127.5 105V106M127.5 107V108M127.5 113V114M127.5 146V147M127.5 148V149M127.5 159V160M127.5 176V177M127.5 180V181M127.5 185V186M127.5 192V194M128.5 26V27M128.5 30V31M128.5 33V34M128.5 56V57M128.5 61V62M128.5 63V64M128.5 66V67M128.5 88V89M128.5 95V96M128.5 100V101M128.5 108V110M128.5 112V114M128.5 116V118M128.5 122V124M128.5 128V129M128.5 130V131M128.5 143V144M128.5 155V156M128.5 157V158M128.5 166V168M128.5 172V173M128.5 182V183M128.5 185V186M128.5 190V193M128.5 195V196M129.5 19V20M129.5 34V35M129.5 58V59M129.5 64V65M129.5 67V68M129.5 71V73M129.5 74V75M129.5 84V85M129.5 89V90M129.5 93V94M129.5 97V98M129.5 107V111M129.5 113V115M129.5 122V123M129.5 125V126M129.5 133V134M129.5 139V140M129.5 144V145M129.5 146V147M129.5 149V150M129.5 154V156M129.5 158V160M129.5 171V172M129.5 181V182M129.5 188V189M129.5 190V191M129.5 193V194M129.5 201V202M130.5 5V6M130.5 41V42M130.5 46V47M130.5 49V50M130.5 54V60M130.5 63V65M130.5 67V68M130.5 74V75M130.5 94V96M130.5 97V99M130.5 101V103M130.5 106V108M130.5 115V119M130.5 123V125M130.5 131V132M130.5 135V137M130.5 140V141M130.5 144V146M130.5 148V149M130.5 155V156M130.5 170V172M130.5 173V174M130.5 175V176M131.5 54V55M131.5 96V97M131.5 102V103M131.5 108V109M131.5 116V118M131.5 126V128M131.5 131V132M131.5 133V134M131.5 138V140M131.5 142V145M131.5 154V155M131.5 157V158M131.5 159V160M131.5 165V166M131.5 168V170M131.5 171V172M131.5 176V180M131.5 199V200M131.5 201V202M132.5 34V35M132.5 36V37M132.5 45V46M132.5 47V48M132.5 50V51M132.5 52V53M132.5 55V57M132.5 60V61M132.5 62V63M132.5 79V80M132.5 92V93M132.5 94V96M132.5 113V114M132.5 118V120M132.5 131V132M132.5 140V141M132.5 146V147M132.5 155V157M132.5 158V159M132.5 160V162M132.5 166V167M132.5 174V175M132.5 192V193M132.5 196V197M133.5 13V14M133.5 31V32M133.5 39V40M133.5 44V45M133.5 51V52M133.5 74V76M133.5 78V79M133.5 84V85M133.5 95V96M133.5 98V99M133.5 100V101M133.5 103V106M133.5 109V110M133.5 112V113M133.5 116V117M133.5 126V127M133.5 138V139M133.5 156V157M133.5 159V160M133.5 165V166M133.5 183V184M133.5 190V192M133.5 197V198M134.5 5V6M134.5 10V11M134.5 16V17M134.5 29V30M134.5 33V34M134.5 59V60M134.5 62V63M134.5 77V78M134.5 80V81M134.5 99V100M134.5 105V106M134.5 112V113M134.5 118V120M134.5 123V124M134.5 130V131M134.5 133V135M134.5 136V139M134.5 143V144M134.5 146V147M134.5 150V151M134.5 152V153M134.5 154V155M134.5 156V157M134.5 161V163M134.5 171V172M134.5 187V188M134.5 191V192M134.5 195V197M134.5 199V200M135.5 7V8M135.5 15V16M135.5 18V19M135.5 46V47M135.5 51V52M135.5 67V68M135.5 70V71M135.5 72V73M135.5 74V75M135.5 76V77M135.5 80V81M135.5 82V83M135.5 98V99M135.5 104V105M135.5 111V112M135.5 114V118M135.5 125V127M135.5 134V135M135.5 149V150M135.5 157V158M135.5 179V180M135.5 183V184M135.5 191V192M135.5 198V199M135.5 200V201M136.5 5V6M136.5 8V9M136.5 14V15M136.5 17V18M136.5 19V20M136.5 21V22M136.5 27V28M136.5 48V49M136.5 50V51M136.5 55V56M136.5 67V68M136.5 72V73M136.5 79V81M136.5 83V85M136.5 108V109M136.5 113V114M136.5 117V121M136.5 129V130M136.5 135V136M136.5 139V140M136.5 141V142M136.5 155V156M136.5 183V184M136.5 188V190M137.5 4V6M137.5 10V11M137.5 36V37M137.5 41V42M137.5 47V48M137.5 50V51M137.5 59V60M137.5 65V67M137.5 68V69M137.5 72V73M137.5 81V82M137.5 99V100M137.5 101V102M137.5 103V104M137.5 120V124M137.5 139V144M137.5 173V174M137.5 184V185M137.5 188V193M138.5 4V5M138.5 17V18M138.5 31V32M138.5 35V36M138.5 47V51M138.5 59V60M138.5 73V74M138.5 75V76M138.5 86V87M138.5 89V90M138.5 91V93M138.5 101V102M138.5 103V104M138.5 107V108M138.5 121V122M138.5 128V129M138.5 136V137M138.5 140V141M138.5 142V143M138.5 146V148M138.5 151V152M138.5 153V154M138.5 168V169M138.5 176V177M138.5 183V184M138.5 191V192M138.5 198V199M139.5 4V5M139.5 11V12M139.5 17V18M139.5 20V21M139.5 42V43M139.5 58V59M139.5 63V64M139.5 74V75M139.5 78V79M139.5 80V81M139.5 86V87M139.5 105V106M139.5 112V113M139.5 127V128M139.5 135V136M139.5 142V143M139.5 146V147M139.5 150V151M139.5 191V193M139.5 196V197M139.5 198V199M140.5 3V5M140.5 19V20M140.5 29V31M140.5 36V37M140.5 59V61M140.5 64V66M140.5 73V74M140.5 76V77M140.5 81V82M140.5 92V93M140.5 102V103M140.5 114V115M140.5 116V117M140.5 126V127M140.5 134V135M140.5 167V168M140.5 174V176M140.5 177V178M140.5 181V183M140.5 191V192M140.5 194V195M140.5 196V197M141.5 3V4M141.5 22V23M141.5 31V32M141.5 44V45M141.5 50V51M141.5 62V63M141.5 70V71M141.5 72V73M141.5 74V75M141.5 97V98M141.5 106V107M141.5 136V137M141.5 141V142M141.5 145V146M141.5 156V157M141.5 160V161M141.5 163V164M141.5 166V167M141.5 172V173M141.5 174V175M141.5 179V180M141.5 182V183M141.5 187V189M141.5 193V195M141.5 199V200M141.5 201V202M142.5 16V17M142.5 27V28M142.5 35V36M142.5 39V40M142.5 66V69M142.5 70V71M142.5 79V80M142.5 82V83M142.5 86V88M142.5 93V94M142.5 97V98M142.5 104V105M142.5 120V121M142.5 124V125M142.5 129V130M142.5 134V135M142.5 138V139M142.5 153V154M142.5 158V159M142.5 175V176M142.5 179V180M142.5 184V186M142.5 188V189M142.5 195V196M142.5 198V199M143.5 12V13M143.5 28V29M143.5 32V33M143.5 59V60M143.5 61V62M143.5 72V73M143.5 80V81M143.5 83V84M143.5 87V88M143.5 95V96M143.5 98V100M143.5 102V103M143.5 104V105M143.5 113V114M143.5 115V116M143.5 133V136M143.5 162V163M143.5 168V172M143.5 173V174M143.5 177V179M143.5 184V185M143.5 190V191M143.5 193V194M143.5 197V198M143.5 201V202M144.5 5V6M144.5 26V27M144.5 46V49M144.5 63V66M144.5 75V76M144.5 78V80M144.5 83V84M144.5 88V89M144.5 93V94M144.5 102V103M144.5 107V108M144.5 110V111M144.5 122V123M144.5 124V125M144.5 127V128M144.5 154V155M144.5 157V159M144.5 169V170M144.5 173V174M144.5 180V181M144.5 182V183M144.5 200V201M145.5 48V49M145.5 52V53M145.5 65V66M145.5 68V69M145.5 75V76M145.5 88V89M145.5 93V95M145.5 104V105M145.5 107V108M145.5 115V116M145.5 121V122M145.5 125V126M145.5 132V133M145.5 135V137M145.5 146V147M145.5 157V158M145.5 160V161M145.5 165V166M145.5 168V169M145.5 183V185M145.5 188V190M145.5 200V202M146.5 13V14M146.5 23V24M146.5 32V33M146.5 41V42M146.5 48V49M146.5 58V62M146.5 70V71M146.5 74V75M146.5 77V78M146.5 83V84M146.5 90V91M146.5 96V97M146.5 110V111M146.5 113V114M146.5 115V116M146.5 120V121M146.5 127V128M146.5 129V130M146.5 132V133M146.5 137V138M146.5 159V160M146.5 169V171M146.5 173V174M146.5 180V181M146.5 189V191M146.5 198V199M147.5 13V14M147.5 27V28M147.5 41V42M147.5 44V46M147.5 53V54M147.5 56V57M147.5 66V67M147.5 79V80M147.5 81V82M147.5 85V87M147.5 89V90M147.5 98V99M147.5 101V102M147.5 107V109M147.5 119V120M147.5 121V122M147.5 134V135M147.5 143V144M147.5 161V162M147.5 173V174M147.5 177V178M147.5 180V181M147.5 182V183M147.5 189V190M147.5 198V199M148.5 24V25M148.5 33V34M148.5 37V38M148.5 47V48M148.5 52V53M148.5 58V59M148.5 60V61M148.5 87V88M148.5 91V92M148.5 98V99M148.5 102V103M148.5 105V106M148.5 110V112M148.5 115V116M148.5 127V128M148.5 148V149M148.5 150V151M148.5 159V160M148.5 179V180M148.5 189V190M148.5 192V194M148.5 196V197M148.5 201V202M149.5 17V18M149.5 41V44M149.5 54V56M149.5 61V62M149.5 64V65M149.5 72V75M149.5 77V78M149.5 89V90M149.5 100V102M149.5 111V112M149.5 117V118M149.5 124V126M149.5 127V130M149.5 161V162M149.5 166V167M149.5 169V170M149.5 177V178M149.5 179V181M149.5 185V186M149.5 194V195M149.5 198V202M150.5 34V38M150.5 45V46M150.5 59V60M150.5 61V62M150.5 67V68M150.5 70V71M150.5 73V74M150.5 79V81M150.5 98V99M150.5 102V104M150.5 108V109M150.5 120V121M150.5 124V126M150.5 132V133M150.5 145V147M150.5 163V164M150.5 174V175M150.5 182V183M150.5 185V187M150.5 190V192M151.5 10V11M151.5 12V13M151.5 20V21M151.5 51V52M151.5 56V57M151.5 67V68M151.5 76V78M151.5 84V85M151.5 98V99M151.5 101V103M151.5 105V107M151.5 117V118M151.5 120V121M151.5 123V125M151.5 127V128M151.5 144V145M151.5 151V152M151.5 160V161M151.5 167V168M151.5 173V174M151.5 183V185M151.5 196V198M152.5 6V7M152.5 10V11M152.5 31V32M152.5 38V39M152.5 42V43M152.5 46V47M152.5 65V66M152.5 74V75M152.5 98V99M152.5 107V108M152.5 117V118M152.5 123V124M152.5 126V127M152.5 141V143M152.5 148V149M152.5 161V162M152.5 164V165M152.5 175V176M152.5 183V184M152.5 187V188M152.5 192V193M152.5 196V199M152.5 200V201M153.5 24V25M153.5 42V43M153.5 44V46M153.5 51V52M153.5 54V55M153.5 58V59M153.5 68V69M153.5 74V79M153.5 92V93M153.5 108V109M153.5 113V114M153.5 146V147M153.5 150V151M153.5 154V155M153.5 160V161M153.5 165V166M153.5 173V174M153.5 178V179M153.5 180V181M153.5 186V188M153.5 192V193M154.5 33V35M154.5 48V49M154.5 50V51M154.5 53V54M154.5 57V58M154.5 60V61M154.5 68V70M154.5 72V73M154.5 78V79M154.5 82V83M154.5 89V90M154.5 95V96M154.5 98V99M154.5 108V109M154.5 123V124M154.5 136V137M154.5 143V144M154.5 145V147M154.5 148V149M154.5 155V158M154.5 162V164M154.5 173V174M154.5 177V178M154.5 190V191M154.5 194V195M154.5 199V200M155.5 8V9M155.5 45V46M155.5 50V51M155.5 70V71M155.5 72V73M155.5 78V79M155.5 80V81M155.5 85V86M155.5 98V99M155.5 102V103M155.5 129V130M155.5 141V142M155.5 160V161M155.5 164V165M155.5 166V167M155.5 170V173M155.5 174V175M155.5 186V188M155.5 189V190M155.5 191V192M155.5 196V197M155.5 200V201M155.5 202V203M156.5 6V7M156.5 11V12M156.5 15V16M156.5 27V28M156.5 31V32M156.5 33V36M156.5 41V42M156.5 50V53M156.5 61V63M156.5 80V82M156.5 97V98M156.5 101V102M156.5 104V105M156.5 109V110M156.5 112V113M156.5 141V142M156.5 143V144M156.5 147V150M156.5 156V158M156.5 164V167M156.5 168V169M156.5 183V184M156.5 192V195M156.5 198V199M157.5 0V1M157.5 6V7M157.5 33V34M157.5 41V42M157.5 46V47M157.5 49V52M157.5 57V58M157.5 62V64M157.5 85V86M157.5 89V91M157.5 92V94M157.5 101V102M157.5 122V123M157.5 137V138M157.5 142V143M157.5 148V149M157.5 156V158M157.5 161V162M157.5 163V164M157.5 179V181M157.5 184V185M157.5 193V194M157.5 198V199M157.5 202V203M158.5 27V28M158.5 48V49M158.5 57V58M158.5 64V65M158.5 72V73M158.5 102V104M158.5 114V115M158.5 120V121M158.5 123V124M158.5 151V152M158.5 153V154M158.5 155V156M158.5 163V164M158.5 191V192M158.5 196V197M158.5 199V200M158.5 201V202M159.5 9V10M159.5 19V20M159.5 32V33M159.5 47V49M159.5 54V55M159.5 60V61M159.5 66V67M159.5 87V88M159.5 97V98M159.5 104V105M159.5 117V118M159.5 119V122M159.5 127V128M159.5 142V144M159.5 145V146M159.5 148V149M159.5 155V156M159.5 157V158M159.5 169V170M159.5 173V174M159.5 180V183M159.5 186V187M159.5 191V192M159.5 198V199M160.5 5V6M160.5 24V25M160.5 27V28M160.5 45V46M160.5 48V50M160.5 55V56M160.5 60V61M160.5 71V72M160.5 80V82M160.5 96V97M160.5 125V127M160.5 143V144M160.5 147V149M160.5 159V160M160.5 167V168M160.5 170V172M160.5 173V174M160.5 178V179M160.5 182V183M160.5 197V198M160.5 200V201M160.5 202V203M161.5 7V8M161.5 27V28M161.5 32V33M161.5 49V51M161.5 56V57M161.5 59V60M161.5 63V64M161.5 65V66M161.5 69V70M161.5 78V79M161.5 103V104M161.5 113V114M161.5 123V124M161.5 128V129M161.5 142V143M161.5 145V146M161.5 155V156M161.5 158V159M161.5 162V163M161.5 170V171M161.5 172V173M161.5 178V179M161.5 184V185M161.5 187V188M161.5 190V191M162.5 7V8M162.5 17V18M162.5 19V20M162.5 24V25M162.5 33V34M162.5 42V43M162.5 55V56M162.5 71V72M162.5 74V75M162.5 82V85M162.5 88V89M162.5 105V106M162.5 115V116M162.5 147V148M162.5 154V156M162.5 159V160M162.5 166V167M162.5 175V176M162.5 194V195M163.5 6V7M163.5 15V16M163.5 20V22M163.5 23V24M163.5 42V43M163.5 47V48M163.5 57V58M163.5 75V76M163.5 83V84M163.5 86V89M163.5 93V94M163.5 97V98M163.5 102V103M163.5 110V111M163.5 135V136M163.5 139V140M163.5 157V159M163.5 162V163M163.5 169V170M163.5 171V173M163.5 176V178M163.5 195V196M163.5 201V202M164.5 8V9M164.5 41V42M164.5 44V45M164.5 48V49M164.5 64V65M164.5 70V73M164.5 75V76M164.5 81V82M164.5 83V85M164.5 92V93M164.5 102V103M164.5 110V112M164.5 115V116M164.5 125V126M164.5 147V148M164.5 149V150M164.5 156V158M164.5 165V168M164.5 169V171M164.5 174V175M164.5 180V182M164.5 184V185M164.5 186V187M164.5 199V200M165.5 40V41M165.5 43V44M165.5 46V47M165.5 75V77M165.5 82V84M165.5 85V86M165.5 90V91M165.5 93V94M165.5 97V98M165.5 99V100M165.5 106V108M165.5 111V112M165.5 113V114M165.5 115V117M165.5 122V123M165.5 129V130M165.5 139V140M165.5 152V153M165.5 156V157M165.5 163V164M165.5 180V181M165.5 188V189M166.5 11V12M166.5 21V22M166.5 34V35M166.5 37V38M166.5 45V46M166.5 50V52M166.5 60V61M166.5 63V64M166.5 76V78M166.5 85V86M166.5 92V93M166.5 96V97M166.5 99V100M166.5 107V108M166.5 116V117M166.5 118V119M166.5 132V133M166.5 139V140M166.5 146V147M166.5 150V151M166.5 157V158M166.5 160V161M166.5 162V163M166.5 182V183M166.5 185V186M166.5 190V191M166.5 201V203M167.5 12V13M167.5 28V29M167.5 43V45M167.5 47V48M167.5 54V55M167.5 56V57M167.5 59V60M167.5 71V72M167.5 73V74M167.5 77V78M167.5 83V84M167.5 89V91M167.5 97V98M167.5 106V107M167.5 119V120M167.5 135V136M167.5 137V138M167.5 153V154M167.5 159V160M167.5 166V167M167.5 174V175M167.5 177V179M167.5 182V183M167.5 199V200M167.5 201V202M168.5 6V7M168.5 27V28M168.5 36V37M168.5 43V45M168.5 55V56M168.5 61V62M168.5 64V65M168.5 76V77M168.5 80V82M168.5 84V85M168.5 86V87M168.5 100V101M168.5 103V104M168.5 105V106M168.5 114V115M168.5 129V130M168.5 135V137M168.5 143V144M168.5 155V156M168.5 168V169M168.5 173V175M168.5 179V181M169.5 24V25M169.5 28V29M169.5 31V33M169.5 39V41M169.5 51V52M169.5 60V61M169.5 67V68M169.5 69V70M169.5 72V73M169.5 84V85M169.5 96V98M169.5 100V101M169.5 104V105M169.5 129V130M169.5 136V138M169.5 139V140M169.5 145V146M169.5 157V158M169.5 162V163M169.5 167V168M169.5 175V178M169.5 179V180M169.5 201V203M170.5 26V27M170.5 39V40M170.5 52V53M170.5 56V58M170.5 62V63M170.5 68V69M170.5 83V84M170.5 87V88M170.5 93V96M170.5 97V99M170.5 107V108M170.5 130V131M170.5 134V135M170.5 139V140M170.5 148V149M170.5 178V181M170.5 184V185M170.5 188V189M170.5 198V199M171.5 12V13M171.5 15V16M171.5 20V21M171.5 29V30M171.5 32V33M171.5 55V56M171.5 61V62M171.5 63V64M171.5 69V70M171.5 81V82M171.5 88V90M171.5 100V101M171.5 131V132M171.5 140V141M171.5 147V148M171.5 163V164M171.5 166V167M171.5 192V193M172.5 11V12M172.5 53V54M172.5 71V72M172.5 75V76M172.5 88V89M172.5 116V117M172.5 122V123M172.5 129V130M172.5 137V138M172.5 140V142M172.5 145V149M172.5 153V154M172.5 168V169M172.5 176V177M172.5 181V182M172.5 191V192M172.5 193V194M172.5 201V202M173.5 24V25M173.5 35V36M173.5 37V40M173.5 41V42M173.5 62V63M173.5 65V66M173.5 78V79M173.5 86V87M173.5 91V93M173.5 94V95M173.5 98V99M173.5 125V126M173.5 145V146M173.5 147V150M173.5 172V173M173.5 176V177M173.5 180V181M173.5 182V183M173.5 186V187M173.5 193V194M173.5 200V202M174.5 5V6M174.5 26V27M174.5 28V29M174.5 30V31M174.5 59V60M174.5 76V77M174.5 82V83M174.5 88V89M174.5 108V109M174.5 124V125M174.5 131V133M174.5 143V144M174.5 146V147M174.5 152V154M174.5 156V157M174.5 171V172M174.5 174V176M174.5 184V185M174.5 195V196M174.5 199V200M175.5 25V26M175.5 28V29M175.5 32V33M175.5 38V39M175.5 41V42M175.5 61V62M175.5 64V65M175.5 70V71M175.5 75V76M175.5 86V87M175.5 104V107M175.5 122V123M175.5 126V127M175.5 129V130M175.5 135V136M175.5 148V150M175.5 154V155M175.5 159V161M175.5 163V164M175.5 177V178M175.5 184V185M175.5 200V201M175.5 202V203M176.5 5V6M176.5 18V19M176.5 26V27M176.5 47V48M176.5 54V55M176.5 61V62M176.5 73V75M176.5 79V80M176.5 83V84M176.5 107V108M176.5 114V115M176.5 119V120M176.5 122V123M176.5 124V125M176.5 126V128M176.5 131V132M176.5 133V134M176.5 140V141M176.5 144V145M176.5 154V156M176.5 157V159M176.5 181V182M176.5 191V192M176.5 199V200M177.5 27V29M177.5 30V31M177.5 46V47M177.5 56V57M177.5 58V60M177.5 72V73M177.5 111V112M177.5 114V115M177.5 124V125M177.5 127V128M177.5 139V140M177.5 155V156M177.5 161V162M177.5 163V164M177.5 170V171M177.5 190V191M177.5 192V193M177.5 194V195M177.5 198V199M178.5 8V9M178.5 10V11M178.5 24V25M178.5 40V41M178.5 49V50M178.5 57V58M178.5 60V62M178.5 63V64M178.5 73V74M178.5 77V78M178.5 84V85M178.5 99V100M178.5 103V104M178.5 117V118M178.5 119V120M178.5 135V137M178.5 144V145M178.5 146V148M178.5 150V151M178.5 154V155M178.5 156V157M178.5 169V170M178.5 174V175M178.5 193V194M178.5 197V198M179.5 11V12M179.5 32V34M179.5 49V52M179.5 53V54M179.5 56V57M179.5 62V63M179.5 111V112M179.5 119V120M179.5 129V130M179.5 131V133M179.5 148V149M179.5 151V152M179.5 153V154M179.5 170V171M179.5 175V176M179.5 191V195M179.5 202V203M180.5 16V17M180.5 25V26M180.5 31V34M180.5 42V43M180.5 47V48M180.5 53V55M180.5 75V76M180.5 77V78M180.5 95V96M180.5 118V119M180.5 126V127M180.5 136V137M180.5 146V147M180.5 165V166M180.5 195V198M181.5 9V10M181.5 51V52M181.5 54V55M181.5 60V61M181.5 63V64M181.5 67V69M181.5 93V94M181.5 107V108M181.5 118V119M181.5 127V128M181.5 131V132M181.5 153V154M181.5 156V157M181.5 165V166M181.5 170V171M182.5 20V21M182.5 53V55M182.5 57V58M182.5 64V65M182.5 86V87M182.5 98V99M182.5 106V108M182.5 111V112M182.5 113V114M182.5 116V117M182.5 124V126M182.5 131V132M182.5 149V150M182.5 152V153M182.5 160V161M182.5 164V165M182.5 166V167M182.5 172V173M182.5 178V179M182.5 183V184M182.5 187V188M182.5 192V193M183.5 11V13M183.5 39V40M183.5 42V43M183.5 49V50M183.5 51V53M183.5 64V65M183.5 80V82M183.5 96V98M183.5 100V101M183.5 103V104M183.5 114V115M183.5 117V119M183.5 135V136M183.5 152V153M183.5 158V160M183.5 165V166M183.5 169V170M183.5 175V176M183.5 179V180M183.5 183V184M183.5 190V191M183.5 193V194M183.5 201V202M184.5 6V7M184.5 62V63M184.5 66V67M184.5 71V72M184.5 76V77M184.5 78V79M184.5 82V83M184.5 100V101M184.5 102V103M184.5 112V113M184.5 117V118M184.5 132V134M184.5 137V138M184.5 143V144M184.5 156V158M184.5 163V164M184.5 166V167M184.5 168V169M184.5 173V174M184.5 177V178M184.5 195V196M184.5 198V199M185.5 25V26M185.5 28V29M185.5 32V33M185.5 40V41M185.5 44V45M185.5 50V51M185.5 71V72M185.5 80V81M185.5 82V83M185.5 98V99M185.5 120V121M185.5 123V124M185.5 125V128M185.5 132V133M185.5 134V135M185.5 137V138M185.5 146V147M185.5 155V156M185.5 159V160M185.5 162V163M185.5 168V169M185.5 173V175M185.5 177V178M185.5 182V183M185.5 184V186M185.5 187V189M185.5 199V200M186.5 55V56M186.5 57V58M186.5 81V82M186.5 108V109M186.5 131V132M186.5 134V135M186.5 139V140M186.5 169V170M186.5 176V178M186.5 182V183M186.5 184V185M186.5 192V193M186.5 201V202M187.5 29V31M187.5 38V39M187.5 41V43M187.5 54V55M187.5 77V78M187.5 94V95M187.5 100V101M187.5 110V111M187.5 113V114M187.5 131V132M187.5 141V143M187.5 144V147M187.5 165V167M187.5 168V169M187.5 174V178M187.5 185V186M187.5 190V191M188.5 4V6M188.5 10V11M188.5 42V43M188.5 47V49M188.5 50V51M188.5 52V53M188.5 54V55M188.5 61V62M188.5 73V74M188.5 77V78M188.5 80V81M188.5 82V83M188.5 102V103M188.5 107V108M188.5 117V118M188.5 128V129M188.5 133V134M188.5 135V136M188.5 140V141M188.5 150V151M188.5 165V166M188.5 168V170M188.5 175V176M188.5 186V187M188.5 188V190M188.5 194V195M188.5 197V198M188.5 199V200M189.5 8V9M189.5 13V14M189.5 25V26M189.5 44V45M189.5 48V49M189.5 50V51M189.5 56V57M189.5 79V80M189.5 87V88M189.5 97V98M189.5 102V103M189.5 104V105M189.5 113V114M189.5 121V124M189.5 132V133M189.5 150V153M189.5 160V161M189.5 168V170M189.5 171V172M189.5 176V177M189.5 186V187M189.5 189V190M189.5 199V201M189.5 202V203M190.5 11V12M190.5 17V18M190.5 36V37M190.5 45V46M190.5 47V48M190.5 55V56M190.5 61V62M190.5 64V65M190.5 72V73M190.5 78V80M190.5 83V84M190.5 102V103M190.5 106V107M190.5 112V113M190.5 121V123M190.5 136V137M190.5 139V140M190.5 144V145M190.5 158V159M190.5 160V161M190.5 164V165M190.5 167V168M190.5 169V171M190.5 186V187M190.5 192V194M190.5 199V201M191.5 11V12M191.5 14V15M191.5 25V27M191.5 40V41M191.5 58V59M191.5 63V64M191.5 66V68M191.5 74V75M191.5 88V89M191.5 114V115M191.5 122V123M191.5 126V127M191.5 128V129M191.5 132V133M191.5 135V136M191.5 137V138M191.5 156V157M191.5 159V160M191.5 165V167M191.5 171V173M191.5 182V183M191.5 185V186M191.5 188V189M191.5 193V194M191.5 196V197M191.5 202V203M192.5 33V39M192.5 60V61M192.5 63V65M192.5 67V68M192.5 72V73M192.5 83V84M192.5 85V86M192.5 87V88M192.5 108V109M192.5 120V121M192.5 123V124M192.5 126V127M192.5 134V137M192.5 138V139M192.5 150V151M192.5 155V156M192.5 157V158M192.5 165V166M192.5 176V177M192.5 178V179M192.5 181V182M192.5 188V189M192.5 191V192M192.5 198V200M192.5 201V203M193.5 23V24M193.5 25V26M193.5 35V36M193.5 37V38M193.5 55V56M193.5 63V64M193.5 65V66M193.5 72V73M193.5 76V77M193.5 78V79M193.5 83V85M193.5 89V90M193.5 92V94M193.5 110V111M193.5 113V114M193.5 120V121M193.5 124V126M193.5 127V128M193.5 140V142M193.5 143V144M193.5 150V152M193.5 158V159M193.5 162V163M193.5 168V170M193.5 174V175M193.5 185V188M193.5 194V196M193.5 198V199M194.5 5V6M194.5 9V10M194.5 31V32M194.5 38V39M194.5 46V47M194.5 55V56M194.5 63V64M194.5 68V69M194.5 71V72M194.5 76V77M194.5 83V85M194.5 93V94M194.5 119V120M194.5 121V122M194.5 125V126M194.5 133V136M194.5 140V141M194.5 144V145M194.5 154V155M194.5 162V163M194.5 167V169M194.5 173V174M194.5 181V183M194.5 185V186M195.5 9V10M195.5 27V28M195.5 41V42M195.5 47V48M195.5 54V56M195.5 63V64M195.5 66V67M195.5 68V69M195.5 76V77M195.5 91V92M195.5 97V98M195.5 99V100M195.5 130V131M195.5 132V134M195.5 145V148M195.5 176V177M195.5 186V187M195.5 189V190M195.5 195V199M196.5 8V9M196.5 37V39M196.5 46V47M196.5 64V65M196.5 66V67M196.5 70V71M196.5 95V96M196.5 98V99M196.5 126V127M196.5 132V133M196.5 135V136M196.5 144V145M196.5 153V154M196.5 160V161M196.5 166V167M196.5 175V176M196.5 181V182M196.5 185V186M196.5 190V191M196.5 195V198M196.5 199V202M197.5 33V34M197.5 39V40M197.5 47V48M197.5 59V60M197.5 63V64M197.5 65V66M197.5 68V69M197.5 74V77M197.5 78V80M197.5 85V86M197.5 94V95M197.5 98V99M197.5 102V103M197.5 136V137M197.5 141V142M197.5 146V150M197.5 153V154M197.5 156V157M197.5 161V162M197.5 175V176M197.5 183V184M197.5 191V192M198.5 7V8M198.5 36V37M198.5 56V57M198.5 63V64M198.5 66V67M198.5 81V82M198.5 87V88M198.5 94V96M198.5 101V103M198.5 105V106M198.5 121V122M198.5 131V133M198.5 136V137M198.5 150V151M198.5 152V153M198.5 158V159M198.5 169V170M198.5 176V177M198.5 189V190M198.5 195V196M198.5 199V200M198.5 201V203M199.5 9V10M199.5 14V15M199.5 47V48M199.5 50V51M199.5 52V53M199.5 63V64M199.5 68V69M199.5 71V72M199.5 75V76M199.5 95V96M199.5 97V98M199.5 102V103M199.5 112V114M199.5 135V136M199.5 147V151M199.5 171V172M199.5 179V180M199.5 187V189M199.5 192V193M199.5 194V195M200.5 5V7M200.5 11V12M200.5 16V17M200.5 19V20M200.5 32V33M200.5 43V44M200.5 45V46M200.5 48V49M200.5 55V56M200.5 58V59M200.5 63V64M200.5 70V71M200.5 78V79M200.5 84V85M200.5 93V96M200.5 98V100M200.5 104V105M200.5 107V108M200.5 111V112M200.5 114V115M200.5 138V139M200.5 151V152M200.5 156V157M200.5 159V161M200.5 169V170M200.5 176V177M200.5 180V181M200.5 189V190M201.5 15V16M201.5 39V40M201.5 47V48M201.5 50V52M201.5 60V61M201.5 69V70M201.5 78V79M201.5 80V81M201.5 100V103M201.5 104V105M201.5 115V116M201.5 138V140M201.5 143V144M201.5 158V159M201.5 165V166M201.5 169V170M201.5 180V181M201.5 184V185M201.5 186V187M201.5 201V202"/>
<path stroke="#999999" d="M0.5 7V8M0.5 9V10M0.5 19V20M0.5 22V23M0.5 58V59M0.5 70V71M0.5 72V73M0.5 78V79M0.5 88V89M0.5 100V102M0.5 126V128M0.5 138V140M0.5 156V157M0.5 174V175M0.5 191V193M0.5 200V201M1.5 6V7M1.5 16V17M1.5 36V37M1.5 54V55M1.5 75V76M1.5 100V101M1.5 114V115M1.5 131V132M1.5 135V136M1.5 146V147M1.5 154V156M1.5 201V202M2.5 37V38M2.5 39V40M2.5 45V46M2.5 69V70M2.5 105V106M2.5 120V121M2.5 126V127M2.5 154V155M2.5 164V166M2.5 173V174M2.5 183V185M3.5 7V10M3.5 15V16M3.5 17V18M3.5 32V34M3.5 48V49M3.5 66V67M3.5 72V73M3.5 91V92M3.5 115V116M3.5 142V143M3.5 162V164M3.5 193V194M3.5 200V203M4.5 16V17M4.5 45V46M4.5 52V53M4.5 59V60M4.5 66V68M4.5 79V80M4.5 81V82M4.5 94V95M4.5 112V114M4.5 120V123M4.5 139V140M4.5 144V145M4.5 153V155M4.5 165V167M4.5 182V184M4.5 190V192M4.5 201V202M5.5 16V17M5.5 19V20M5.5 21V22M5.5 27V28M5.5 31V32M5.5 35V36M5.5 63V64M5.5 70V71M5.5 77V78M5.5 90V91M5.5 106V108M5.5 112V113M5.5 120V122M5.5 140V141M5.5 146V147M5.5 165V166M5.5 173V175M5.5 202V203M6.5 34V35M6.5 82V84M6.5 87V90M6.5 96V97M6.5 109V110M6.5 117V118M6.5 148V149M6.5 156V157M6.5 164V165M6.5 192V194M6.5 199V201M7.5 13V14M7.5 42V43M7.5 66V67M7.5 71V72M7.5 82V83M7.5 92V93M7.5 97V98M7.5 99V100M7.5 103V104M7.5 110V111M7.5 147V148M7.5 155V157M7.5 173V174M7.5 180V182M7.5 198V199M8.5 23V24M8.5 27V28M8.5 36V37M8.5 46V48M8.5 51V52M8.5 55V56M8.5 66V67M8.5 77V78M8.5 90V92M8.5 100V101M8.5 103V104M8.5 113V114M8.5 125V126M8.5 147V148M8.5 163V165M8.5 172V173M8.5 181V184M8.5 199V201M9.5 9V11M9.5 46V47M9.5 49V50M9.5 56V57M9.5 70V71M9.5 75V76M9.5 96V97M9.5 100V101M9.5 102V103M9.5 109V110M9.5 138V140M9.5 154V155M9.5 156V157M9.5 190V191M10.5 33V34M10.5 44V45M10.5 49V50M10.5 84V86M10.5 93V94M10.5 127V129M10.5 134V135M10.5 139V140M10.5 147V148M10.5 157V158M10.5 173V174M10.5 175V176M10.5 200V203M11.5 30V31M11.5 46V47M11.5 61V62M11.5 66V67M11.5 93V94M11.5 102V103M11.5 124V125M11.5 136V137M11.5 149V150M11.5 155V158M11.5 174V176M11.5 182V184M11.5 193V194M12.5 46V47M12.5 52V53M12.5 54V55M12.5 58V60M12.5 65V66M12.5 72V73M12.5 74V75M12.5 79V81M12.5 99V101M12.5 109V110M12.5 126V127M12.5 134V135M12.5 150V151M12.5 156V158M12.5 165V167M12.5 174V176M12.5 183V184M12.5 192V195M12.5 202V203M13.5 39V40M13.5 49V50M13.5 51V52M13.5 60V61M13.5 63V64M13.5 79V80M13.5 86V87M13.5 90V91M13.5 100V101M13.5 112V113M13.5 122V123M13.5 156V157M13.5 166V168M13.5 175V177M13.5 185V187M13.5 201V202M14.5 9V10M14.5 20V21M14.5 39V40M14.5 49V50M14.5 62V64M14.5 69V70M14.5 88V89M14.5 95V96M14.5 97V98M14.5 107V108M14.5 111V112M14.5 129V130M14.5 148V149M14.5 151V152M14.5 158V159M14.5 175V178M14.5 193V194M14.5 202V203M15.5 9V10M15.5 24V25M15.5 35V36M15.5 58V59M15.5 67V68M15.5 78V79M15.5 85V86M15.5 87V88M15.5 92V94M15.5 97V99M15.5 102V104M15.5 110V111M15.5 139V141M15.5 152V153M15.5 158V160M15.5 168V169M15.5 176V179M15.5 194V195M16.5 20V21M16.5 69V70M16.5 71V72M16.5 80V81M16.5 88V90M16.5 95V96M16.5 108V109M16.5 120V121M16.5 122V123M16.5 131V132M16.5 137V138M16.5 143V144M16.5 148V149M16.5 150V151M16.5 160V161M16.5 168V169M16.5 177V179M16.5 201V202M17.5 14V15M17.5 19V20M17.5 37V39M17.5 56V57M17.5 63V64M17.5 69V70M17.5 85V86M17.5 121V122M17.5 128V129M17.5 134V135M17.5 160V162M17.5 167V169M17.5 176V178M18.5 33V34M18.5 45V46M18.5 49V51M18.5 82V83M18.5 86V88M18.5 92V94M18.5 99V100M18.5 105V106M18.5 110V111M18.5 116V117M18.5 121V123M18.5 139V141M18.5 158V161M18.5 168V170M18.5 173V174M18.5 192V193M18.5 194V195M19.5 22V23M19.5 26V27M19.5 53V54M19.5 59V60M19.5 62V63M19.5 75V77M19.5 87V88M19.5 89V90M19.5 123V125M19.5 129V130M19.5 141V142M19.5 149V150M19.5 159V160M19.5 170V171M19.5 179V180M19.5 188V189M19.5 191V192M20.5 10V11M20.5 13V16M20.5 22V23M20.5 28V30M20.5 39V40M20.5 61V63M20.5 70V72M20.5 76V77M20.5 87V88M20.5 123V124M20.5 148V149M20.5 178V179M20.5 193V195M21.5 21V22M21.5 31V32M21.5 34V35M21.5 40V42M21.5 50V51M21.5 53V54M21.5 57V58M21.5 82V83M21.5 92V93M21.5 98V100M21.5 112V113M21.5 126V127M21.5 131V132M21.5 133V134M21.5 140V142M21.5 169V170M21.5 174V177M21.5 192V195M22.5 16V17M22.5 18V19M22.5 31V32M22.5 39V41M22.5 50V51M22.5 66V68M22.5 72V73M22.5 81V82M22.5 91V92M22.5 100V101M22.5 102V103M22.5 120V121M22.5 123V124M22.5 138V139M22.5 148V150M22.5 156V157M22.5 168V169M22.5 192V193M22.5 202V203M23.5 14V15M23.5 18V19M23.5 23V24M23.5 45V46M23.5 47V48M23.5 67V68M23.5 80V82M23.5 89V90M23.5 111V112M23.5 120V121M23.5 138V139M23.5 146V147M23.5 160V161M23.5 164V165M23.5 174V176M23.5 192V195M23.5 200V201M23.5 202V203M24.5 42V43M24.5 61V63M24.5 66V67M24.5 96V97M24.5 106V107M24.5 116V117M24.5 122V123M24.5 129V131M24.5 138V139M24.5 175V176M24.5 194V195M24.5 201V202M25.5 9V10M25.5 12V13M25.5 37V39M25.5 43V46M25.5 51V52M25.5 59V60M25.5 63V64M25.5 67V68M25.5 73V74M25.5 84V85M25.5 88V89M25.5 104V106M25.5 130V131M25.5 132V133M25.5 137V138M25.5 157V158M25.5 166V168M25.5 173V174M25.5 192V194M26.5 31V32M26.5 45V47M26.5 49V50M26.5 54V56M26.5 59V60M26.5 71V72M26.5 77V78M26.5 86V87M26.5 96V98M26.5 104V105M26.5 106V107M26.5 109V110M26.5 116V117M26.5 134V136M26.5 166V168M26.5 174V175M26.5 179V180M26.5 183V186M26.5 193V194M27.5 43V44M27.5 51V52M27.5 56V57M27.5 63V64M27.5 70V71M27.5 76V77M27.5 81V82M27.5 87V88M27.5 100V101M27.5 104V106M27.5 109V111M27.5 118V119M27.5 138V139M27.5 150V151M27.5 157V160M27.5 179V181M27.5 183V184M27.5 202V203M28.5 29V30M28.5 52V53M28.5 61V62M28.5 80V81M28.5 86V87M28.5 91V93M28.5 108V109M28.5 114V115M28.5 117V118M28.5 146V147M28.5 148V150M28.5 156V158M28.5 166V168M28.5 174V175M28.5 193V195M29.5 24V25M29.5 58V59M29.5 68V70M29.5 73V74M29.5 78V79M29.5 85V86M29.5 111V113M29.5 117V118M29.5 158V160M29.5 166V167M29.5 184V187M29.5 192V194M29.5 202V203M30.5 10V11M30.5 19V20M30.5 21V22M30.5 45V48M30.5 63V64M30.5 65V66M30.5 96V97M30.5 105V106M30.5 114V115M30.5 116V117M30.5 120V122M30.5 141V142M30.5 148V150M30.5 156V158M30.5 178V180M30.5 183V185M30.5 192V193M31.5 10V11M31.5 36V37M31.5 40V42M31.5 54V55M31.5 81V83M31.5 85V86M31.5 98V99M31.5 106V109M31.5 138V139M31.5 146V148M31.5 164V166M31.5 173V175M32.5 14V15M32.5 56V58M32.5 71V72M32.5 81V82M32.5 95V96M32.5 103V105M32.5 114V115M32.5 147V148M32.5 155V157M32.5 178V179M32.5 182V183M32.5 192V193M32.5 199V200M33.5 16V17M33.5 20V21M33.5 65V66M33.5 78V79M33.5 80V83M33.5 91V92M33.5 108V109M33.5 120V121M33.5 154V156M33.5 172V173M33.5 174V175M34.5 13V14M34.5 16V17M34.5 38V39M34.5 62V64M34.5 67V68M34.5 69V70M34.5 73V75M34.5 77V78M34.5 87V88M34.5 93V94M34.5 106V107M34.5 114V115M34.5 116V117M34.5 122V123M34.5 138V139M34.5 150V151M35.5 9V10M35.5 29V30M35.5 37V38M35.5 41V42M35.5 48V49M35.5 56V57M35.5 63V64M35.5 70V71M35.5 74V75M35.5 82V83M35.5 84V85M35.5 105V106M35.5 111V112M35.5 135V136M35.5 137V138M35.5 142V143M35.5 146V147M35.5 164V165M35.5 188V190M35.5 198V199M36.5 7V8M36.5 32V33M36.5 43V44M36.5 67V68M36.5 70V71M36.5 83V84M36.5 94V95M36.5 99V100M36.5 137V138M36.5 142V143M36.5 165V167M36.5 172V174M36.5 191V192M36.5 199V200M37.5 6V7M37.5 30V31M37.5 36V37M37.5 43V44M37.5 45V46M37.5 49V50M37.5 54V56M37.5 65V66M37.5 76V77M37.5 78V79M37.5 86V87M37.5 91V92M37.5 95V96M37.5 106V108M37.5 138V139M37.5 168V169M37.5 174V175M37.5 192V193M37.5 200V201M38.5 39V40M38.5 41V42M38.5 55V56M38.5 57V58M38.5 67V69M38.5 72V73M38.5 97V98M38.5 101V103M38.5 111V112M38.5 137V139M38.5 148V149M38.5 153V154M38.5 169V171M38.5 180V181M38.5 187V189M38.5 191V192M39.5 8V9M39.5 19V20M39.5 27V29M39.5 33V34M39.5 37V39M39.5 52V53M39.5 65V67M39.5 72V73M39.5 80V82M39.5 93V94M39.5 99V101M39.5 105V106M39.5 131V132M39.5 155V156M39.5 157V158M39.5 162V163M39.5 170V171M39.5 176V177M39.5 187V188M40.5 16V17M40.5 21V22M40.5 32V33M40.5 35V36M40.5 39V40M40.5 48V49M40.5 61V62M40.5 71V72M40.5 75V76M40.5 83V85M40.5 87V89M40.5 92V94M40.5 110V112M40.5 113V114M40.5 117V118M40.5 135V136M40.5 144V145M40.5 154V155M40.5 161V162M40.5 178V179M40.5 201V203M41.5 9V10M41.5 12V13M41.5 17V18M41.5 31V33M41.5 40V41M41.5 48V49M41.5 58V59M41.5 64V65M41.5 74V75M41.5 80V81M41.5 87V89M41.5 94V95M41.5 130V131M41.5 139V140M41.5 202V203M42.5 36V37M42.5 48V49M42.5 64V66M42.5 80V81M42.5 84V85M42.5 90V93M42.5 103V105M42.5 136V139M42.5 147V148M42.5 153V154M42.5 190V192M42.5 197V198M43.5 61V62M43.5 68V69M43.5 75V78M43.5 88V89M43.5 96V97M43.5 106V107M43.5 128V129M43.5 140V142M43.5 146V147M43.5 154V155M43.5 159V160M43.5 161V162M43.5 193V194M43.5 197V198M44.5 26V27M44.5 32V33M44.5 53V54M44.5 56V57M44.5 61V62M44.5 72V73M44.5 81V82M44.5 104V106M44.5 107V108M44.5 114V115M44.5 136V137M44.5 138V139M44.5 142V143M44.5 149V151M44.5 161V162M44.5 175V177M44.5 197V198M45.5 6V7M45.5 10V11M45.5 33V34M45.5 42V43M45.5 86V87M45.5 92V93M45.5 103V104M45.5 109V110M45.5 130V131M45.5 140V141M45.5 146V147M45.5 156V158M45.5 170V171M45.5 188V189M45.5 190V191M45.5 200V201M46.5 24V25M46.5 30V31M46.5 36V37M46.5 39V40M46.5 57V59M46.5 79V80M46.5 92V93M46.5 101V102M46.5 105V106M46.5 130V131M46.5 154V155M46.5 175V176M46.5 185V186M46.5 202V203M47.5 7V8M47.5 13V14M47.5 15V16M47.5 21V22M47.5 32V33M47.5 56V58M47.5 69V70M47.5 72V73M47.5 77V78M47.5 79V80M47.5 85V86M47.5 92V93M47.5 97V99M47.5 111V112M47.5 133V134M47.5 137V138M47.5 168V169M47.5 179V180M47.5 185V186M47.5 195V198M48.5 19V20M48.5 25V26M48.5 36V38M48.5 45V46M48.5 48V49M48.5 56V57M48.5 58V59M48.5 60V61M48.5 78V79M48.5 81V82M48.5 83V84M48.5 92V93M48.5 106V107M48.5 108V109M48.5 129V130M48.5 138V139M48.5 146V147M48.5 152V153M48.5 160V161M48.5 163V164M48.5 167V168M48.5 175V176M48.5 181V183M48.5 188V189M48.5 192V193M48.5 194V195M48.5 198V200M49.5 11V12M49.5 14V15M49.5 21V22M49.5 30V31M49.5 56V57M49.5 61V62M49.5 77V78M49.5 100V101M49.5 110V111M49.5 112V113M49.5 137V138M49.5 142V143M49.5 150V151M49.5 167V168M49.5 175V176M49.5 177V178M49.5 185V186M49.5 188V189M49.5 198V199M49.5 202V203M50.5 7V8M50.5 10V12M50.5 19V20M50.5 25V27M50.5 34V35M50.5 45V47M50.5 51V52M50.5 55V56M50.5 58V59M50.5 67V68M50.5 75V77M50.5 100V101M50.5 125V126M50.5 138V139M50.5 148V149M50.5 158V159M50.5 162V163M50.5 167V168M50.5 172V173M50.5 174V175M50.5 181V182M50.5 186V187M50.5 194V196M51.5 14V15M51.5 42V43M51.5 44V45M51.5 48V49M51.5 54V55M51.5 59V61M51.5 65V66M51.5 96V97M51.5 102V104M51.5 118V119M51.5 138V139M51.5 142V144M51.5 152V153M51.5 163V164M51.5 170V171M51.5 177V178M51.5 181V182M51.5 197V198M52.5 27V28M52.5 35V36M52.5 47V48M52.5 57V58M52.5 67V68M52.5 98V99M52.5 105V106M52.5 115V116M52.5 125V126M52.5 142V143M52.5 148V149M52.5 164V166M52.5 168V169M52.5 174V175M52.5 184V186M52.5 189V190M52.5 191V192M53.5 9V10M53.5 14V15M53.5 16V17M53.5 20V21M53.5 23V24M53.5 30V31M53.5 34V35M53.5 40V42M53.5 47V48M53.5 60V61M53.5 65V66M53.5 83V84M53.5 90V92M53.5 107V108M53.5 112V114M53.5 121V122M53.5 131V132M53.5 144V145M53.5 156V157M53.5 160V161M53.5 162V163M53.5 176V177M53.5 185V187M53.5 193V196M53.5 200V201M54.5 23V24M54.5 58V59M54.5 74V75M54.5 149V150M54.5 156V157M54.5 164V166M54.5 170V171M54.5 174V175M54.5 182V183M54.5 189V190M55.5 24V25M55.5 63V64M55.5 70V73M55.5 76V77M55.5 78V79M55.5 89V90M55.5 91V92M55.5 99V100M55.5 108V109M55.5 117V118M55.5 126V128M55.5 150V151M55.5 165V166M55.5 177V178M55.5 195V197M56.5 10V11M56.5 16V17M56.5 24V25M56.5 29V30M56.5 39V40M56.5 45V46M56.5 47V48M56.5 56V57M56.5 61V62M56.5 75V76M56.5 82V83M56.5 91V92M56.5 94V96M56.5 99V101M56.5 104V105M56.5 112V113M56.5 121V122M56.5 136V137M56.5 170V171M56.5 183V184M56.5 196V197M57.5 24V25M57.5 31V32M57.5 64V65M57.5 75V76M57.5 90V91M57.5 92V93M57.5 98V99M57.5 114V116M57.5 119V120M57.5 129V130M57.5 139V140M57.5 154V155M57.5 157V158M57.5 184V187M58.5 15V16M58.5 22V23M58.5 39V40M58.5 41V42M58.5 77V78M58.5 79V80M58.5 90V92M58.5 100V101M58.5 108V109M58.5 113V115M58.5 117V119M58.5 133V134M58.5 141V142M58.5 168V169M58.5 176V177M58.5 180V183M58.5 190V191M59.5 21V23M59.5 45V47M59.5 48V49M59.5 63V64M59.5 68V69M59.5 74V76M59.5 82V83M59.5 86V87M59.5 88V89M59.5 93V94M59.5 111V112M59.5 129V130M59.5 133V134M59.5 138V139M59.5 175V176M59.5 185V186M59.5 200V201M60.5 27V28M60.5 33V34M60.5 37V38M60.5 45V46M60.5 66V68M60.5 85V86M60.5 90V92M60.5 99V100M60.5 111V112M60.5 118V119M60.5 121V122M60.5 129V131M60.5 136V137M60.5 141V143M60.5 146V147M60.5 149V150M60.5 168V169M60.5 173V175M60.5 193V195M60.5 202V203M61.5 9V10M61.5 14V15M61.5 44V45M61.5 48V49M61.5 68V69M61.5 72V73M61.5 77V78M61.5 83V84M61.5 94V95M61.5 112V113M61.5 125V126M61.5 129V130M61.5 138V139M61.5 175V176M61.5 182V183M61.5 186V187M61.5 196V197M61.5 200V201M62.5 20V21M62.5 23V24M62.5 34V35M62.5 55V56M62.5 64V65M62.5 71V72M62.5 73V74M62.5 82V83M62.5 99V100M62.5 103V104M62.5 106V107M62.5 110V111M62.5 118V119M62.5 128V129M62.5 135V136M62.5 146V148M62.5 153V154M62.5 159V160M62.5 177V178M62.5 182V183M62.5 187V188M62.5 199V200M62.5 201V202M63.5 25V26M63.5 31V32M63.5 42V43M63.5 47V48M63.5 80V81M63.5 95V96M63.5 107V108M63.5 114V115M63.5 125V126M63.5 132V133M63.5 139V141M63.5 143V144M63.5 148V150M63.5 158V159M63.5 160V161M63.5 165V166M63.5 191V192M64.5 37V38M64.5 57V58M64.5 67V68M64.5 75V76M64.5 78V79M64.5 85V87M64.5 90V91M64.5 92V93M64.5 94V95M64.5 99V100M64.5 105V106M64.5 110V111M64.5 122V123M64.5 141V142M64.5 153V155M64.5 168V169M64.5 172V173M64.5 194V196M64.5 198V199M65.5 13V14M65.5 33V34M65.5 39V41M65.5 64V65M65.5 66V67M65.5 71V75M65.5 86V87M65.5 105V106M65.5 112V113M65.5 132V133M65.5 139V140M65.5 141V142M65.5 152V153M65.5 175V177M65.5 198V199M66.5 38V39M66.5 89V91M66.5 103V104M66.5 108V109M66.5 118V119M66.5 125V127M66.5 138V139M66.5 152V153M66.5 161V163M66.5 195V196M67.5 6V7M67.5 33V34M67.5 40V41M67.5 47V48M67.5 56V58M67.5 96V98M67.5 106V107M67.5 116V117M67.5 123V124M67.5 127V129M67.5 151V152M67.5 159V160M67.5 166V167M67.5 168V169M67.5 180V181M67.5 184V185M67.5 186V187M67.5 200V201M67.5 202V203M68.5 19V20M68.5 35V36M68.5 69V70M68.5 74V75M68.5 76V77M68.5 84V85M68.5 100V101M68.5 106V107M68.5 115V116M68.5 124V126M68.5 131V132M68.5 139V140M68.5 146V147M68.5 150V151M68.5 155V156M68.5 164V165M68.5 177V178M68.5 187V189M68.5 202V203M69.5 8V9M69.5 25V26M69.5 47V48M69.5 49V50M69.5 59V60M69.5 87V88M69.5 91V92M69.5 97V98M69.5 101V102M69.5 118V119M69.5 125V126M69.5 137V138M69.5 147V149M69.5 159V161M69.5 186V187M69.5 188V189M69.5 194V195M69.5 199V200M69.5 201V202M70.5 26V28M70.5 33V34M70.5 61V62M70.5 73V74M70.5 81V82M70.5 83V84M70.5 87V88M70.5 93V96M70.5 100V101M70.5 110V111M70.5 119V120M70.5 122V124M70.5 127V129M70.5 132V134M70.5 148V149M70.5 157V158M70.5 177V178M70.5 183V184M70.5 188V189M70.5 196V197M70.5 198V199M71.5 30V31M71.5 36V37M71.5 42V43M71.5 48V49M71.5 65V66M71.5 75V76M71.5 77V78M71.5 105V108M71.5 117V119M71.5 170V171M71.5 186V187M71.5 192V193M71.5 199V200M72.5 54V55M72.5 58V59M72.5 85V86M72.5 88V89M72.5 93V94M72.5 109V110M72.5 111V112M72.5 118V119M72.5 124V125M72.5 130V131M72.5 134V135M72.5 166V167M72.5 172V174M72.5 179V181M72.5 190V191M72.5 195V196M73.5 6V7M73.5 12V14M73.5 20V21M73.5 22V23M73.5 32V33M73.5 41V42M73.5 51V52M73.5 66V68M73.5 74V75M73.5 76V77M73.5 82V83M73.5 96V98M73.5 113V114M73.5 148V150M73.5 151V152M73.5 158V159M73.5 167V168M73.5 169V170M73.5 181V184M73.5 196V197M74.5 28V29M74.5 41V42M74.5 58V59M74.5 76V77M74.5 80V82M74.5 93V94M74.5 95V96M74.5 103V104M74.5 116V117M74.5 122V123M74.5 145V146M74.5 150V151M74.5 157V158M74.5 175V176M74.5 181V183M74.5 197V198M74.5 199V200M74.5 201V202M75.5 11V12M75.5 41V42M75.5 78V79M75.5 80V81M75.5 84V85M75.5 90V93M75.5 101V102M75.5 106V108M75.5 135V136M75.5 137V138M75.5 142V143M75.5 173V174M75.5 177V178M75.5 187V188M76.5 51V52M76.5 57V58M76.5 67V68M76.5 81V82M76.5 86V87M76.5 92V93M76.5 101V102M76.5 109V110M76.5 134V135M76.5 139V140M76.5 145V146M76.5 163V164M76.5 174V175M76.5 183V184M76.5 185V186M76.5 191V193M76.5 200V201M77.5 12V13M77.5 21V23M77.5 28V29M77.5 49V50M77.5 55V56M77.5 63V65M77.5 70V71M77.5 76V77M77.5 87V88M77.5 92V93M77.5 97V99M77.5 104V105M77.5 136V137M77.5 140V141M77.5 168V169M77.5 174V175M77.5 176V177M77.5 190V191M77.5 198V199M78.5 10V11M78.5 43V44M78.5 49V50M78.5 60V62M78.5 64V65M78.5 73V74M78.5 76V77M78.5 94V95M78.5 124V126M78.5 130V131M78.5 139V140M78.5 143V144M78.5 157V158M78.5 179V180M78.5 194V195M79.5 11V12M79.5 33V35M79.5 46V47M79.5 61V62M79.5 63V64M79.5 69V70M79.5 77V78M79.5 107V108M79.5 138V140M79.5 147V148M79.5 157V158M79.5 196V199M80.5 44V45M80.5 58V59M80.5 63V64M80.5 77V78M80.5 106V107M80.5 129V131M80.5 137V138M80.5 160V161M80.5 169V171M80.5 186V187M80.5 191V192M80.5 202V203M81.5 10V11M81.5 38V39M81.5 43V44M81.5 50V51M81.5 66V70M81.5 107V108M81.5 113V114M81.5 121V122M81.5 146V148M81.5 159V161M81.5 173V174M81.5 184V186M81.5 192V193M82.5 10V11M82.5 19V20M82.5 22V23M82.5 40V42M82.5 45V46M82.5 57V59M82.5 62V63M82.5 64V65M82.5 71V72M82.5 78V79M82.5 111V112M82.5 113V114M82.5 128V129M82.5 130V131M82.5 139V140M82.5 144V146M82.5 171V172M82.5 175V176M82.5 181V182M82.5 183V184M82.5 187V188M82.5 193V194M83.5 17V18M83.5 33V34M83.5 48V49M83.5 55V56M83.5 60V61M83.5 66V68M83.5 72V73M83.5 83V84M83.5 110V111M83.5 119V120M83.5 134V136M83.5 156V157M83.5 161V163M83.5 169V170M83.5 175V176M83.5 185V186M83.5 193V194M83.5 196V198M83.5 201V203M84.5 37V38M84.5 52V53M84.5 60V61M84.5 94V95M84.5 100V101M84.5 106V107M84.5 115V116M84.5 132V133M84.5 138V139M84.5 154V155M84.5 159V160M84.5 166V168M84.5 172V174M84.5 178V180M84.5 183V184M84.5 197V198M85.5 16V17M85.5 49V50M85.5 55V57M85.5 62V63M85.5 93V94M85.5 122V123M85.5 127V128M85.5 129V130M85.5 134V135M85.5 144V145M85.5 148V149M85.5 154V155M85.5 165V167M85.5 171V172M85.5 174V175M85.5 183V184M85.5 194V196M85.5 200V201M86.5 10V11M86.5 17V18M86.5 24V25M86.5 57V60M86.5 70V71M86.5 101V102M86.5 117V119M86.5 124V125M86.5 132V134M86.5 139V140M86.5 148V149M86.5 152V153M86.5 182V183M86.5 187V188M86.5 189V190M86.5 202V203M87.5 9V10M87.5 11V12M87.5 27V28M87.5 32V33M87.5 37V38M87.5 42V43M87.5 59V60M87.5 65V66M87.5 90V91M87.5 105V106M87.5 111V112M87.5 113V114M87.5 131V132M87.5 141V142M87.5 148V150M87.5 155V156M87.5 157V158M87.5 165V167M87.5 174V175M87.5 178V180M87.5 184V186M87.5 202V203M88.5 9V10M88.5 25V26M88.5 48V49M88.5 85V86M88.5 87V88M88.5 108V109M88.5 110V111M88.5 115V116M88.5 127V128M88.5 137V138M88.5 144V145M88.5 152V153M88.5 157V158M88.5 165V166M88.5 182V184M88.5 188V189M89.5 19V20M89.5 22V23M89.5 33V34M89.5 35V36M89.5 44V45M89.5 51V52M89.5 54V55M89.5 69V70M89.5 85V86M89.5 107V108M89.5 109V110M89.5 140V141M89.5 142V143M89.5 150V151M89.5 154V155M89.5 171V173M89.5 182V183M90.5 14V15M90.5 28V29M90.5 42V43M90.5 46V47M90.5 49V51M90.5 81V82M90.5 87V88M90.5 93V94M90.5 106V107M90.5 121V122M90.5 135V137M90.5 138V139M90.5 144V145M90.5 150V151M90.5 156V157M90.5 158V159M90.5 168V169M91.5 6V8M91.5 44V45M91.5 59V60M91.5 74V75M91.5 88V89M91.5 94V95M91.5 106V107M91.5 116V117M91.5 130V132M91.5 135V136M91.5 139V140M91.5 141V142M91.5 147V148M91.5 153V154M91.5 160V161M91.5 174V176M91.5 180V181M91.5 182V183M92.5 4V5M92.5 10V11M92.5 38V39M92.5 46V47M92.5 62V63M92.5 66V67M92.5 76V79M92.5 86V87M92.5 92V93M92.5 98V99M92.5 104V105M92.5 107V108M92.5 119V121M92.5 130V131M92.5 140V141M92.5 156V157M92.5 163V164M92.5 172V173M92.5 178V179M92.5 186V187M92.5 191V192M92.5 195V196M92.5 201V202M93.5 6V7M93.5 27V29M93.5 31V32M93.5 42V43M93.5 50V51M93.5 53V54M93.5 80V81M93.5 82V83M93.5 91V92M93.5 101V102M93.5 104V105M93.5 116V117M93.5 119V120M93.5 147V148M93.5 152V154M93.5 184V185M93.5 188V189M93.5 190V191M93.5 197V198M93.5 199V200M94.5 14V16M94.5 20V21M94.5 45V46M94.5 49V50M94.5 57V58M94.5 61V62M94.5 73V74M94.5 101V102M94.5 106V109M94.5 124V125M94.5 133V135M94.5 139V140M94.5 151V152M94.5 156V157M94.5 162V163M94.5 183V184M94.5 192V193M94.5 201V202M95.5 52V53M95.5 57V58M95.5 62V63M95.5 83V84M95.5 94V95M95.5 99V100M95.5 102V103M95.5 110V111M95.5 112V113M95.5 130V132M95.5 136V137M95.5 147V149M95.5 153V154M95.5 155V156M95.5 181V182M95.5 191V192M95.5 196V197M96.5 9V10M96.5 13V15M96.5 39V40M96.5 53V55M96.5 66V67M96.5 77V78M96.5 79V80M96.5 85V86M96.5 106V107M96.5 121V122M96.5 127V128M96.5 136V137M96.5 138V139M96.5 147V148M96.5 149V150M96.5 161V162M96.5 180V181M96.5 187V189M96.5 193V194M96.5 201V203M97.5 17V18M97.5 29V30M97.5 34V35M97.5 37V38M97.5 41V42M97.5 49V50M97.5 56V57M97.5 79V81M97.5 92V93M97.5 109V110M97.5 111V112M97.5 132V133M97.5 137V139M97.5 142V143M97.5 144V145M97.5 150V151M97.5 152V153M97.5 161V164M97.5 172V173M97.5 174V175M97.5 178V179M97.5 183V184M97.5 188V189M97.5 197V199M98.5 31V32M98.5 34V35M98.5 47V48M98.5 81V82M98.5 87V89M98.5 96V98M98.5 124V126M98.5 130V131M98.5 146V147M98.5 161V162M98.5 164V166M98.5 171V172M98.5 198V199M98.5 200V201M99.5 7V8M99.5 27V28M99.5 56V57M99.5 64V66M99.5 71V72M99.5 83V84M99.5 85V86M99.5 92V94M99.5 114V115M99.5 116V117M99.5 120V121M99.5 122V123M99.5 125V126M99.5 130V131M99.5 138V139M99.5 155V156M99.5 168V170M99.5 174V176M99.5 183V184M99.5 188V189M99.5 194V195M99.5 196V197M100.5 13V14M100.5 39V40M100.5 43V44M100.5 52V53M100.5 59V60M100.5 61V62M100.5 80V81M100.5 82V83M100.5 84V85M100.5 86V88M100.5 93V94M100.5 111V113M100.5 118V119M100.5 130V133M100.5 150V151M100.5 166V167M100.5 173V174M100.5 178V179M100.5 180V181M100.5 186V188M100.5 192V194M100.5 197V198M100.5 199V200M101.5 12V13M101.5 41V42M101.5 50V51M101.5 58V59M101.5 66V68M101.5 101V102M101.5 103V104M101.5 118V119M101.5 129V130M101.5 146V149M101.5 154V155M101.5 160V161M101.5 169V170M101.5 191V193M102.5 11V13M102.5 41V42M102.5 52V54M102.5 62V64M102.5 99V100M102.5 111V112M102.5 116V117M102.5 133V134M102.5 138V140M102.5 148V150M102.5 153V154M102.5 160V162M102.5 169V170M102.5 172V173M102.5 177V178M102.5 189V190M103.5 29V30M103.5 33V34M103.5 39V40M103.5 55V56M103.5 67V68M103.5 90V91M103.5 97V98M103.5 100V101M103.5 111V112M103.5 129V130M103.5 134V135M103.5 139V140M103.5 146V147M103.5 155V156M103.5 167V168M103.5 170V171M103.5 179V180M103.5 184V185M103.5 196V197M104.5 37V39M104.5 53V54M104.5 62V64M104.5 68V70M104.5 74V75M104.5 78V79M104.5 104V105M104.5 108V109M104.5 121V123M104.5 130V131M104.5 136V137M104.5 143V144M104.5 150V151M104.5 152V153M104.5 158V160M104.5 171V172M104.5 196V197M105.5 16V17M105.5 35V36M105.5 38V39M105.5 46V47M105.5 48V49M105.5 54V55M105.5 56V57M105.5 72V73M105.5 75V76M105.5 110V113M105.5 127V128M105.5 131V132M105.5 137V138M105.5 144V145M105.5 148V149M105.5 159V161M105.5 174V175M105.5 182V184M106.5 17V18M106.5 32V33M106.5 38V39M106.5 57V58M106.5 65V66M106.5 85V86M106.5 92V93M106.5 105V107M106.5 112V114M106.5 115V116M106.5 123V124M106.5 128V130M106.5 142V143M106.5 165V166M106.5 169V170M106.5 177V178M106.5 196V197M107.5 8V9M107.5 16V17M107.5 23V24M107.5 31V32M107.5 55V56M107.5 61V62M107.5 67V68M107.5 74V75M107.5 81V82M107.5 87V88M107.5 110V111M107.5 114V115M107.5 132V133M107.5 139V140M107.5 157V159M107.5 164V165M107.5 166V167M107.5 169V170M107.5 174V175M107.5 179V180M107.5 195V196M108.5 12V14M108.5 15V16M108.5 34V35M108.5 36V37M108.5 44V45M108.5 61V62M108.5 71V73M108.5 83V85M108.5 110V111M108.5 119V121M108.5 130V131M108.5 136V137M108.5 138V139M108.5 145V146M108.5 156V158M108.5 179V180M108.5 181V182M109.5 6V7M109.5 13V14M109.5 28V29M109.5 38V40M109.5 47V48M109.5 56V57M109.5 62V63M109.5 64V65M109.5 72V74M109.5 88V89M109.5 97V99M109.5 100V101M109.5 122V123M109.5 124V127M109.5 143V144M109.5 148V150M109.5 154V155M109.5 159V160M109.5 168V169M109.5 185V186M109.5 190V191M109.5 197V199M110.5 16V17M110.5 19V20M110.5 49V51M110.5 57V58M110.5 65V66M110.5 80V81M110.5 93V94M110.5 128V129M110.5 136V137M110.5 143V144M110.5 168V169M110.5 170V172M110.5 177V179M110.5 185V187M110.5 194V195M110.5 201V202M111.5 18V19M111.5 32V33M111.5 38V39M111.5 43V46M111.5 54V55M111.5 64V65M111.5 95V96M111.5 108V109M111.5 131V132M111.5 138V140M111.5 153V154M111.5 156V157M111.5 179V180M111.5 200V201M112.5 23V24M112.5 41V43M112.5 50V51M112.5 63V64M112.5 67V69M112.5 74V75M112.5 91V92M112.5 100V101M112.5 113V114M112.5 121V122M112.5 138V139M112.5 143V145M112.5 165V166M112.5 169V170M112.5 181V183M112.5 193V194M112.5 200V201M112.5 202V203M113.5 8V9M113.5 15V16M113.5 32V33M113.5 41V42M113.5 46V48M113.5 57V58M113.5 59V60M113.5 63V64M113.5 111V112M113.5 127V128M113.5 141V142M113.5 175V176M113.5 185V186M113.5 187V188M113.5 197V200M114.5 7V8M114.5 17V18M114.5 24V25M114.5 34V35M114.5 48V49M114.5 60V61M114.5 66V67M114.5 82V83M114.5 95V96M114.5 104V105M114.5 120V121M114.5 142V143M114.5 152V153M114.5 189V191M114.5 192V193M115.5 44V45M115.5 50V51M115.5 63V64M115.5 91V92M115.5 100V101M115.5 111V112M115.5 127V128M115.5 139V140M115.5 151V152M115.5 172V174M115.5 181V182M115.5 188V189M115.5 195V196M115.5 201V203M116.5 11V12M116.5 36V37M116.5 83V84M116.5 106V108M116.5 128V129M116.5 161V162M116.5 177V178M116.5 179V180M116.5 187V188M117.5 42V43M117.5 55V56M117.5 92V94M117.5 110V114M117.5 119V120M117.5 121V122M117.5 128V129M117.5 132V133M117.5 139V142M117.5 150V151M117.5 170V171M117.5 179V180M117.5 196V197M117.5 199V201M118.5 15V16M118.5 26V27M118.5 28V30M118.5 31V32M118.5 35V37M118.5 45V46M118.5 47V48M118.5 54V55M118.5 81V82M118.5 83V84M118.5 93V94M118.5 99V100M118.5 114V115M118.5 121V122M118.5 132V133M118.5 140V141M118.5 145V146M118.5 166V167M118.5 170V171M118.5 172V174M118.5 182V183M118.5 187V188M118.5 194V195M118.5 202V203M119.5 11V12M119.5 18V19M119.5 39V40M119.5 49V50M119.5 57V58M119.5 59V60M119.5 65V67M119.5 79V80M119.5 100V102M119.5 106V107M119.5 118V120M119.5 131V132M119.5 136V138M119.5 155V156M119.5 183V185M119.5 194V195M119.5 202V203M120.5 48V49M120.5 50V51M120.5 65V66M120.5 82V83M120.5 84V85M120.5 87V88M120.5 99V100M120.5 103V104M120.5 115V116M120.5 123V124M120.5 132V133M120.5 140V142M120.5 148V149M120.5 155V156M120.5 188V190M120.5 194V195M120.5 201V202M121.5 12V13M121.5 28V29M121.5 52V53M121.5 54V55M121.5 57V58M121.5 64V65M121.5 81V82M121.5 90V91M121.5 96V97M121.5 106V107M121.5 119V121M121.5 135V137M121.5 151V152M121.5 160V161M121.5 169V170M121.5 171V172M121.5 176V177M121.5 189V190M121.5 191V192M121.5 196V197M121.5 202V203M122.5 6V7M122.5 20V21M122.5 53V55M122.5 62V63M122.5 76V77M122.5 84V85M122.5 89V90M122.5 124V127M122.5 130V131M122.5 132V133M122.5 139V140M122.5 145V146M122.5 147V148M122.5 156V158M122.5 171V173M122.5 199V200M123.5 13V14M123.5 28V29M123.5 42V43M123.5 44V45M123.5 48V49M123.5 50V51M123.5 53V54M123.5 65V66M123.5 84V86M123.5 91V92M123.5 100V101M123.5 106V108M123.5 112V113M123.5 117V118M123.5 125V126M123.5 147V148M123.5 153V154M123.5 165V167M123.5 171V172M123.5 176V177M123.5 182V183M123.5 201V203M124.5 9V10M124.5 11V12M124.5 17V18M124.5 29V30M124.5 38V39M124.5 40V41M124.5 47V48M124.5 52V53M124.5 58V59M124.5 66V67M124.5 89V90M124.5 98V101M124.5 103V105M124.5 109V110M124.5 115V116M124.5 117V118M124.5 132V133M124.5 139V141M124.5 145V146M124.5 149V151M124.5 155V156M124.5 159V160M124.5 163V164M124.5 170V171M124.5 174V176M124.5 180V181M124.5 183V185M124.5 198V200M125.5 6V7M125.5 14V15M125.5 30V32M125.5 37V38M125.5 42V43M125.5 44V45M125.5 52V53M125.5 62V63M125.5 68V69M125.5 76V77M125.5 86V87M125.5 101V102M125.5 119V120M125.5 126V127M125.5 141V142M125.5 149V150M125.5 155V158M125.5 162V164M125.5 167V168M125.5 173V174M125.5 183V184M125.5 187V189M125.5 192V194M125.5 199V202M126.5 22V23M126.5 33V35M126.5 39V40M126.5 51V52M126.5 56V57M126.5 61V63M126.5 81V83M126.5 87V88M126.5 110V111M126.5 118V119M126.5 127V128M126.5 144V145M126.5 153V154M126.5 157V159M126.5 164V165M126.5 166V167M126.5 170V171M126.5 172V173M127.5 15V16M127.5 31V32M127.5 41V42M127.5 59V60M127.5 65V66M127.5 69V70M127.5 85V86M127.5 87V88M127.5 106V107M127.5 112V113M127.5 116V117M127.5 121V123M127.5 125V126M127.5 127V128M127.5 132V133M127.5 137V138M127.5 147V148M127.5 154V156M127.5 158V159M127.5 163V165M127.5 167V169M127.5 172V173M127.5 181V182M127.5 187V188M127.5 199V200M128.5 10V11M128.5 13V15M128.5 19V20M128.5 29V30M128.5 34V35M128.5 43V45M128.5 50V51M128.5 57V58M128.5 71V72M128.5 87V88M128.5 93V95M128.5 99V100M128.5 121V122M128.5 129V130M128.5 134V135M128.5 142V143M128.5 156V157M128.5 161V162M128.5 171V172M128.5 178V179M128.5 196V198M129.5 6V7M129.5 20V21M129.5 35V36M129.5 41V42M129.5 49V50M129.5 63V64M129.5 73V74M129.5 75V76M129.5 85V86M129.5 119V120M129.5 126V127M129.5 132V133M129.5 138V139M129.5 147V148M129.5 163V164M129.5 172V173M129.5 174V175M129.5 179V180M129.5 186V187M130.5 12V13M130.5 48V49M130.5 69V70M130.5 149V151M130.5 156V158M130.5 162V163M130.5 165V166M130.5 174V175M130.5 184V185M131.5 27V28M131.5 40V41M131.5 46V47M131.5 59V60M131.5 95V96M131.5 100V101M131.5 106V107M131.5 132V133M131.5 148V149M131.5 152V153M131.5 158V159M131.5 170V171M131.5 184V185M131.5 192V193M132.5 8V9M132.5 32V33M132.5 61V62M132.5 68V69M132.5 73V75M132.5 93V94M132.5 99V101M132.5 129V130M132.5 134V136M132.5 141V142M132.5 159V160M132.5 169V170M132.5 175V177M132.5 179V180M132.5 188V189M132.5 197V199M132.5 200V201M133.5 37V38M133.5 55V56M133.5 61V62M133.5 67V68M133.5 79V80M133.5 99V100M133.5 110V112M133.5 131V132M133.5 134V135M133.5 142V143M133.5 148V150M133.5 163V165M133.5 171V172M133.5 187V188M133.5 195V196M133.5 201V203M134.5 13V14M134.5 28V29M134.5 49V50M134.5 53V54M134.5 58V59M134.5 63V64M134.5 72V73M134.5 78V80M134.5 87V88M134.5 107V108M134.5 111V112M134.5 117V118M134.5 129V130M134.5 144V145M134.5 151V152M134.5 155V156M134.5 160V161M134.5 183V184M134.5 188V191M135.5 20V21M135.5 26V27M135.5 31V32M135.5 39V40M135.5 54V56M135.5 81V82M135.5 88V89M135.5 93V94M135.5 105V106M135.5 107V108M135.5 112V114M135.5 122V123M135.5 133V134M135.5 143V144M135.5 147V148M135.5 158V160M135.5 163V164M135.5 166V167M135.5 184V187M135.5 192V194M135.5 199V200M136.5 9V10M136.5 29V30M136.5 33V36M136.5 46V48M136.5 58V59M136.5 62V63M136.5 64V65M136.5 68V69M136.5 88V89M136.5 91V93M136.5 114V115M136.5 133V134M136.5 144V145M136.5 149V151M136.5 156V157M136.5 159V160M136.5 162V163M136.5 179V180M136.5 191V192M136.5 197V198M136.5 199V200M137.5 6V7M137.5 33V34M137.5 43V44M137.5 49V50M137.5 61V62M137.5 88V89M137.5 92V93M137.5 100V101M137.5 113V114M137.5 124V125M137.5 131V133M137.5 134V135M137.5 148V149M137.5 178V179M137.5 183V184M137.5 196V198M137.5 202V203M138.5 6V7M138.5 16V17M138.5 38V39M138.5 60V61M138.5 63V64M138.5 70V71M138.5 78V79M138.5 87V89M138.5 102V103M138.5 120V121M138.5 125V126M138.5 127V128M138.5 135V136M138.5 174V176M138.5 185V186M138.5 195V196M138.5 199V201M139.5 31V32M139.5 40V41M139.5 56V57M139.5 61V62M139.5 67V69M139.5 73V74M139.5 79V80M139.5 92V93M139.5 113V115M139.5 132V133M139.5 143V144M139.5 171V173M139.5 179V182M139.5 186V187M139.5 188V189M139.5 197V198M140.5 11V12M140.5 13V14M140.5 17V19M140.5 33V34M140.5 35V36M140.5 68V69M140.5 77V78M140.5 82V83M140.5 95V96M140.5 100V101M140.5 107V108M140.5 113V114M140.5 117V119M140.5 122V123M140.5 138V139M140.5 146V147M140.5 150V151M140.5 159V160M140.5 163V164M140.5 169V170M140.5 176V177M140.5 190V191M140.5 195V196M141.5 6V7M141.5 8V9M141.5 41V42M141.5 53V54M141.5 64V65M141.5 80V81M141.5 82V83M141.5 91V92M141.5 93V94M141.5 99V100M141.5 110V111M141.5 112V113M141.5 118V119M141.5 122V123M141.5 124V125M141.5 135V136M141.5 143V144M141.5 168V169M141.5 178V179M141.5 183V184M141.5 200V201M142.5 38V39M142.5 47V48M142.5 49V50M142.5 56V57M142.5 65V66M142.5 80V81M142.5 92V93M142.5 99V100M142.5 103V104M142.5 107V109M142.5 115V117M142.5 159V161M142.5 168V169M142.5 180V181M143.5 6V7M143.5 26V27M143.5 44V45M143.5 46V47M143.5 52V53M143.5 62V64M143.5 69V70M143.5 78V79M143.5 96V98M143.5 103V104M143.5 122V123M143.5 128V129M143.5 139V140M143.5 164V165M143.5 172V173M143.5 183V184M143.5 192V193M143.5 195V197M144.5 29V30M144.5 54V55M144.5 59V60M144.5 66V68M144.5 72V73M144.5 86V87M144.5 97V99M144.5 106V107M144.5 123V124M144.5 140V141M144.5 153V154M144.5 167V169M144.5 175V176M144.5 181V182M144.5 185V187M144.5 199V200M145.5 15V16M145.5 28V29M145.5 38V39M145.5 43V44M145.5 47V48M145.5 54V55M145.5 66V67M145.5 74V75M145.5 80V81M145.5 87V88M145.5 97V98M145.5 108V109M145.5 119V120M145.5 128V129M145.5 134V135M145.5 166V167M145.5 172V174M145.5 177V180M145.5 193V195M146.5 19V20M146.5 29V30M146.5 35V36M146.5 39V41M146.5 47V48M146.5 51V54M146.5 85V86M146.5 89V90M146.5 94V95M146.5 108V109M146.5 128V129M146.5 133V134M146.5 149V150M146.5 160V162M146.5 184V186M147.5 9V10M147.5 17V18M147.5 35V36M147.5 57V59M147.5 72V74M147.5 80V81M147.5 113V114M147.5 115V116M147.5 120V121M147.5 124V125M147.5 150V151M147.5 153V154M147.5 155V156M147.5 167V168M147.5 172V173M147.5 181V182M147.5 194V195M148.5 28V29M148.5 43V44M148.5 49V50M148.5 56V57M148.5 61V62M148.5 65V66M148.5 77V78M148.5 81V83M148.5 99V100M148.5 120V121M148.5 122V123M148.5 129V130M148.5 131V132M148.5 141V142M148.5 147V148M148.5 149V150M148.5 156V157M148.5 165V166M148.5 171V174M148.5 178V179M148.5 185V186M149.5 40V41M149.5 44V46M149.5 49V50M149.5 65V66M149.5 71V72M149.5 78V79M149.5 82V83M149.5 92V93M149.5 103V104M149.5 107V109M149.5 112V113M149.5 118V119M149.5 130V131M149.5 141V142M149.5 146V147M149.5 150V151M149.5 156V158M149.5 162V163M149.5 167V168M149.5 181V182M149.5 186V188M149.5 193V194M150.5 6V7M150.5 27V28M150.5 33V34M150.5 42V43M150.5 53V54M150.5 60V61M150.5 78V79M150.5 95V96M150.5 106V107M150.5 113V114M150.5 115V116M150.5 121V122M150.5 123V124M150.5 170V171M150.5 175V176M150.5 195V196M150.5 197V198M151.5 6V8M151.5 40V41M151.5 43V44M151.5 48V49M151.5 73V74M151.5 97V98M151.5 111V112M151.5 145V146M151.5 155V156M151.5 162V163M151.5 166V167M151.5 185V187M151.5 198V200M152.5 13V14M152.5 23V24M152.5 37V38M152.5 48V49M152.5 54V55M152.5 62V63M152.5 73V74M152.5 78V79M152.5 84V85M152.5 94V95M152.5 104V105M152.5 121V123M152.5 130V131M152.5 137V138M152.5 146V147M152.5 168V169M152.5 170V171M152.5 181V183M152.5 190V191M152.5 201V203M153.5 36V37M153.5 55V56M153.5 59V60M153.5 64V67M153.5 84V85M153.5 90V91M153.5 95V96M153.5 114V115M153.5 124V126M153.5 128V129M153.5 144V146M153.5 152V154M153.5 159V160M153.5 164V165M153.5 168V170M153.5 172V173M153.5 179V180M153.5 196V198M154.5 41V42M154.5 81V82M154.5 86V87M154.5 94V95M154.5 104V106M154.5 122V123M154.5 147V148M154.5 167V168M154.5 169V170M154.5 174V175M154.5 183V184M154.5 185V186M154.5 191V192M154.5 195V196M154.5 201V202M155.5 9V10M155.5 47V48M155.5 62V63M155.5 89V90M155.5 96V97M155.5 111V112M155.5 118V119M155.5 125V127M155.5 145V146M155.5 147V148M155.5 158V159M155.5 165V166M155.5 190V191M156.5 10V11M156.5 22V23M156.5 32V33M156.5 36V38M156.5 43V44M156.5 69V70M156.5 85V87M156.5 108V109M156.5 139V140M156.5 142V143M156.5 151V153M156.5 175V176M156.5 177V178M156.5 199V200M157.5 8V9M157.5 10V11M157.5 36V37M157.5 38V39M157.5 42V43M157.5 59V60M157.5 70V71M157.5 73V74M157.5 78V79M157.5 80V81M157.5 91V92M157.5 99V100M157.5 104V105M157.5 106V107M157.5 114V115M157.5 118V119M157.5 120V122M157.5 141V142M157.5 149V150M157.5 154V156M157.5 162V163M157.5 169V170M157.5 173V174M157.5 175V176M157.5 187V188M157.5 191V192M158.5 6V7M158.5 11V12M158.5 13V14M158.5 39V40M158.5 54V57M158.5 79V80M158.5 94V95M158.5 108V109M158.5 121V122M158.5 129V130M158.5 144V145M158.5 152V153M158.5 176V177M158.5 178V179M158.5 184V185M158.5 194V196M158.5 200V201M159.5 10V12M159.5 23V24M159.5 29V30M159.5 51V52M159.5 76V77M159.5 82V83M159.5 93V94M159.5 98V99M159.5 118V119M159.5 130V131M159.5 146V148M159.5 156V157M159.5 161V162M159.5 167V169M159.5 174V175M159.5 188V189M159.5 193V194M159.5 199V200M160.5 29V30M160.5 47V48M160.5 72V74M160.5 78V79M160.5 85V86M160.5 102V104M160.5 121V122M160.5 132V133M160.5 155V156M160.5 166V167M160.5 179V181M160.5 186V187M160.5 195V196M160.5 201V202M161.5 22V23M161.5 39V40M161.5 68V69M161.5 73V75M161.5 77V78M161.5 85V87M161.5 111V113M161.5 118V120M161.5 124V125M161.5 143V144M161.5 149V150M161.5 163V164M161.5 165V166M161.5 171V172M161.5 183V184M161.5 188V190M161.5 194V195M161.5 197V198M162.5 13V14M162.5 27V28M162.5 36V37M162.5 58V60M162.5 66V67M162.5 70V71M162.5 75V76M162.5 81V82M162.5 91V92M162.5 112V114M162.5 116V117M162.5 123V124M162.5 145V147M162.5 162V163M162.5 172V173M162.5 200V201M163.5 19V20M163.5 29V30M163.5 31V32M163.5 35V36M163.5 41V42M163.5 45V46M163.5 78V79M163.5 84V86M163.5 94V97M163.5 109V110M163.5 118V119M163.5 128V129M163.5 130V131M163.5 132V135M163.5 170V171M163.5 183V184M163.5 189V190M163.5 198V199M164.5 33V34M164.5 37V39M164.5 49V50M164.5 51V52M164.5 55V58M164.5 85V86M164.5 96V98M164.5 105V106M164.5 116V117M164.5 122V123M164.5 150V152M164.5 158V159M164.5 160V161M164.5 196V197M165.5 7V8M165.5 45V46M165.5 52V53M165.5 58V59M165.5 74V75M165.5 86V87M165.5 91V93M165.5 98V99M165.5 105V106M165.5 112V113M165.5 124V126M165.5 137V138M165.5 151V152M165.5 164V166M165.5 170V171M165.5 173V175M165.5 196V197M166.5 42V43M166.5 47V48M166.5 71V73M166.5 91V92M166.5 95V96M166.5 100V102M166.5 105V106M166.5 111V113M166.5 117V118M166.5 158V160M166.5 170V171M166.5 177V178M166.5 181V182M166.5 195V196M167.5 13V14M167.5 27V28M167.5 39V40M167.5 55V56M167.5 64V65M167.5 66V67M167.5 72V73M167.5 76V77M167.5 95V97M167.5 101V102M167.5 104V106M167.5 113V114M167.5 115V116M167.5 127V128M167.5 131V132M167.5 152V153M167.5 158V159M167.5 172V173M167.5 195V196M167.5 200V201M168.5 13V14M168.5 49V50M168.5 54V55M168.5 60V61M168.5 67V68M168.5 73V76M168.5 89V90M168.5 91V92M168.5 104V105M168.5 130V132M168.5 140V141M168.5 196V197M168.5 198V199M168.5 202V203M169.5 9V10M169.5 27V28M169.5 50V51M169.5 74V75M169.5 118V119M169.5 123V124M169.5 131V132M169.5 138V139M169.5 161V162M169.5 194V195M170.5 46V48M170.5 51V52M170.5 60V62M170.5 71V72M170.5 73V74M170.5 102V103M170.5 123V126M170.5 131V132M170.5 141V142M170.5 156V157M170.5 160V161M170.5 164V166M170.5 170V171M170.5 177V178M170.5 192V193M170.5 196V198M170.5 202V203M171.5 17V19M171.5 35V36M171.5 42V43M171.5 47V48M171.5 67V68M171.5 74V75M171.5 77V78M171.5 83V84M171.5 111V112M171.5 117V118M171.5 128V129M171.5 130V131M171.5 150V151M171.5 162V163M171.5 169V170M171.5 178V179M171.5 180V181M171.5 190V191M171.5 193V195M171.5 197V198M171.5 199V200M172.5 17V19M172.5 29V30M172.5 50V51M172.5 55V56M172.5 65V66M172.5 67V68M172.5 77V78M172.5 83V85M172.5 87V88M172.5 92V93M172.5 94V95M172.5 100V101M172.5 115V116M172.5 123V124M172.5 130V131M172.5 135V137M172.5 171V173M172.5 177V178M172.5 182V184M172.5 194V197M173.5 27V28M173.5 40V41M173.5 48V49M173.5 52V54M173.5 57V60M173.5 63V64M173.5 69V70M173.5 88V89M173.5 110V111M173.5 113V115M173.5 121V122M173.5 127V128M173.5 135V136M173.5 146V147M173.5 150V152M173.5 167V168M173.5 197V199M173.5 202V203M174.5 51V52M174.5 56V58M174.5 67V68M174.5 73V74M174.5 75V76M174.5 83V85M174.5 102V103M174.5 106V108M174.5 111V113M174.5 118V119M174.5 137V139M174.5 144V146M174.5 180V181M174.5 185V186M175.5 54V55M175.5 78V79M175.5 80V81M175.5 90V91M175.5 107V109M175.5 113V115M175.5 120V121M175.5 127V129M175.5 138V139M175.5 142V144M175.5 152V153M175.5 171V172M175.5 196V197M175.5 201V202M176.5 7V8M176.5 33V34M176.5 43V44M176.5 69V70M176.5 80V81M176.5 82V83M176.5 87V88M176.5 108V109M176.5 113V114M176.5 123V124M176.5 137V140M176.5 145V147M176.5 162V163M176.5 165V166M176.5 176V177M176.5 178V179M176.5 187V188M176.5 197V199M177.5 8V9M177.5 17V18M177.5 29V30M177.5 51V53M177.5 61V62M177.5 70V71M177.5 78V79M177.5 84V85M177.5 112V114M177.5 118V120M177.5 125V126M177.5 132V133M177.5 134V135M177.5 144V145M177.5 152V153M177.5 156V157M177.5 162V163M177.5 164V165M177.5 182V184M177.5 185V186M177.5 191V192M178.5 37V38M178.5 47V49M178.5 56V57M178.5 64V65M178.5 67V69M178.5 79V80M178.5 83V84M178.5 85V86M178.5 100V101M178.5 115V117M178.5 121V122M178.5 126V128M178.5 137V138M178.5 139V140M178.5 145V146M178.5 149V150M178.5 168V169M178.5 172V173M178.5 187V189M178.5 194V195M178.5 196V197M178.5 201V202M179.5 34V36M179.5 40V42M179.5 52V53M179.5 58V59M179.5 74V75M179.5 76V77M179.5 80V82M179.5 98V99M179.5 121V122M179.5 139V140M179.5 142V143M179.5 152V153M179.5 162V163M179.5 168V169M179.5 173V175M179.5 187V188M179.5 195V196M180.5 64V65M180.5 71V72M180.5 76V77M180.5 82V83M180.5 86V87M180.5 92V93M180.5 100V101M180.5 108V109M180.5 116V118M180.5 128V129M180.5 133V134M180.5 142V143M180.5 145V146M180.5 154V157M180.5 160V161M180.5 162V163M180.5 175V176M180.5 183V184M180.5 201V202M181.5 50V51M181.5 61V63M181.5 75V76M181.5 79V81M181.5 108V110M181.5 115V116M181.5 128V129M181.5 130V131M181.5 138V139M181.5 140V141M181.5 147V149M181.5 168V169M181.5 175V177M181.5 179V180M181.5 187V188M181.5 200V201M182.5 6V7M182.5 37V38M182.5 46V47M182.5 48V49M182.5 58V59M182.5 60V61M182.5 65V67M182.5 70V71M182.5 72V73M182.5 77V79M182.5 82V83M182.5 92V93M182.5 103V104M182.5 105V106M182.5 112V113M182.5 129V131M182.5 133V135M182.5 138V139M182.5 143V144M182.5 159V160M182.5 170V172M182.5 176V178M182.5 182V183M182.5 186V187M182.5 193V194M182.5 201V202M183.5 17V18M183.5 19V20M183.5 47V49M183.5 75V76M183.5 82V83M183.5 112V114M183.5 127V128M183.5 138V139M183.5 143V144M183.5 149V150M183.5 154V155M183.5 162V163M183.5 164V165M183.5 173V175M183.5 184V185M183.5 189V190M184.5 14V15M184.5 16V17M184.5 26V27M184.5 29V30M184.5 35V37M184.5 38V39M184.5 67V68M184.5 73V74M184.5 81V82M184.5 96V97M184.5 101V102M184.5 107V108M184.5 113V114M184.5 138V140M184.5 149V150M184.5 167V168M184.5 178V181M184.5 191V192M185.5 7V12M185.5 26V27M185.5 31V32M185.5 36V38M185.5 46V47M185.5 51V53M185.5 65V66M185.5 69V71M185.5 93V94M185.5 104V105M185.5 124V125M185.5 133V134M185.5 135V137M185.5 147V148M185.5 151V152M185.5 154V155M185.5 175V176M185.5 195V196M185.5 200V201M186.5 45V46M186.5 47V48M186.5 52V53M186.5 67V68M186.5 77V78M186.5 94V95M186.5 97V100M186.5 105V106M186.5 109V110M186.5 113V114M186.5 119V120M186.5 130V131M186.5 135V136M186.5 140V141M186.5 144V145M186.5 146V147M186.5 154V156M186.5 165V167M186.5 170V172M186.5 183V184M186.5 194V195M186.5 198V199M187.5 12V13M187.5 27V28M187.5 32V33M187.5 36V38M187.5 48V49M187.5 56V57M187.5 65V66M187.5 69V74M187.5 78V79M187.5 80V81M187.5 101V102M187.5 151V154M187.5 157V158M187.5 178V179M187.5 183V184M188.5 11V13M188.5 17V18M188.5 30V31M188.5 32V33M188.5 83V84M188.5 88V89M188.5 103V104M188.5 115V117M188.5 120V121M188.5 122V123M188.5 134V135M188.5 142V143M188.5 149V150M188.5 155V156M188.5 159V160M188.5 164V165M188.5 173V174M188.5 181V183M188.5 187V188M188.5 193V194M189.5 10V11M189.5 16V18M189.5 33V34M189.5 49V50M189.5 55V56M189.5 64V65M189.5 66V67M189.5 72V73M189.5 75V76M189.5 105V106M189.5 136V138M189.5 142V143M189.5 156V157M189.5 162V163M189.5 170V171M189.5 180V181M189.5 187V189M189.5 193V194M189.5 195V196M189.5 201V202M190.5 32V33M190.5 56V58M190.5 62V63M190.5 70V71M190.5 98V99M190.5 104V106M190.5 110V112M190.5 126V128M190.5 130V131M190.5 137V138M190.5 145V146M190.5 152V154M190.5 159V160M190.5 165V167M190.5 171V172M190.5 184V185M191.5 6V8M191.5 12V13M191.5 16V18M191.5 31V32M191.5 34V35M191.5 52V53M191.5 54V55M191.5 61V62M191.5 72V73M191.5 79V80M191.5 115V117M191.5 120V121M191.5 127V128M191.5 136V137M191.5 142V143M191.5 144V145M191.5 157V158M191.5 173V176M191.5 186V188M191.5 194V196M191.5 200V202M192.5 13V14M192.5 17V18M192.5 39V40M192.5 41V42M192.5 47V48M192.5 57V58M192.5 65V67M192.5 73V74M192.5 84V85M192.5 103V104M192.5 107V108M192.5 112V114M192.5 137V138M192.5 146V147M192.5 156V157M192.5 166V167M192.5 177V178M192.5 182V184M192.5 192V194M193.5 7V8M193.5 9V10M193.5 12V13M193.5 24V25M193.5 33V34M193.5 36V37M193.5 50V51M193.5 64V65M193.5 70V72M193.5 77V78M193.5 87V88M193.5 105V106M193.5 134V135M193.5 142V143M193.5 163V165M193.5 173V174M194.5 29V30M194.5 43V44M194.5 67V68M194.5 89V90M194.5 92V93M194.5 100V101M194.5 115V116M194.5 120V121M194.5 128V129M194.5 145V147M194.5 160V161M194.5 172V173M194.5 184V185M194.5 190V191M195.5 26V27M195.5 32V33M195.5 46V47M195.5 51V52M195.5 59V60M195.5 62V63M195.5 75V76M195.5 84V85M195.5 86V87M195.5 94V95M195.5 117V118M195.5 124V125M195.5 126V127M195.5 131V132M195.5 156V157M195.5 165V166M195.5 170V171M195.5 177V178M195.5 187V188M195.5 194V195M196.5 20V21M196.5 25V26M196.5 31V32M196.5 43V44M196.5 49V50M196.5 56V57M196.5 59V60M196.5 65V66M196.5 81V82M196.5 88V89M196.5 93V94M196.5 114V115M196.5 127V129M196.5 133V135M196.5 139V140M196.5 145V147M196.5 158V160M196.5 191V192M197.5 49V51M197.5 54V55M197.5 58V59M197.5 70V71M197.5 77V78M197.5 83V84M197.5 99V102M197.5 106V107M197.5 128V129M197.5 130V131M197.5 162V163M197.5 169V170M197.5 171V172M197.5 193V194M197.5 198V201M197.5 202V203M198.5 24V25M198.5 38V39M198.5 41V42M198.5 49V50M198.5 51V52M198.5 54V56M198.5 61V62M198.5 68V69M198.5 84V85M198.5 96V97M198.5 106V107M198.5 127V128M198.5 135V136M198.5 145V146M198.5 151V152M198.5 161V162M198.5 168V169M198.5 175V176M198.5 179V181M198.5 187V188M198.5 193V194M198.5 200V201M199.5 34V35M199.5 39V40M199.5 45V46M199.5 51V52M199.5 57V60M199.5 83V84M199.5 104V105M199.5 108V110M199.5 132V133M199.5 145V146M199.5 156V158M199.5 162V163M199.5 166V169M199.5 180V183M199.5 193V194M199.5 198V200M200.5 50V51M200.5 54V55M200.5 59V61M200.5 69V70M200.5 73V74M200.5 85V86M200.5 87V88M200.5 135V136M200.5 137V138M200.5 145V146M200.5 155V156M200.5 166V167M200.5 182V183M200.5 196V197M200.5 198V199M200.5 202V203M201.5 22V23M201.5 35V36M201.5 46V47M201.5 55V57M201.5 61V62M201.5 66V68M201.5 73V74M201.5 79V80M201.5 84V85M201.5 91V92M201.5 103V104M201.5 111V112M201.5 146V147M201.5 157V158M201.5 163V165M201.5 173V174"/>
<path stroke="#aaaaaa" d="M0.5 8V9M0.5 17V18M0.5 33V34M0.5 46V47M0.5 65V66M0.5 71V72M0.5 77V78M0.5 113V114M0.5 155V156M0.5 201V202M1.5 14V16M1.5 43V44M1.5 53V54M1.5 59V61M1.5 84V86M1.5 98V100M1.5 130V131M2.5 9V11M2.5 23V25M2.5 60V61M2.5 67V69M2.5 81V82M2.5 87V88M2.5 94V95M2.5 96V97M2.5 118V119M2.5 172V173M3.5 20V22M3.5 42V43M3.5 54V55M3.5 56V57M3.5 70V71M3.5 78V79M3.5 85V86M3.5 100V101M3.5 107V108M3.5 124V125M3.5 146V148M3.5 155V157M4.5 18V19M4.5 22V24M4.5 27V28M4.5 31V32M4.5 50V51M4.5 80V81M4.5 87V88M4.5 107V108M5.5 12V13M5.5 34V35M5.5 41V42M5.5 49V50M5.5 68V69M5.5 75V77M5.5 100V101M5.5 136V137M5.5 147V148M5.5 201V202M6.5 20V21M6.5 52V53M6.5 56V57M6.5 64V65M6.5 77V78M6.5 110V111M6.5 119V120M6.5 133V134M6.5 155V156M6.5 163V164M7.5 73V74M7.5 105V106M7.5 127V128M7.5 137V139M7.5 146V147M8.5 19V21M8.5 34V35M8.5 99V100M9.5 13V14M9.5 18V19M9.5 33V34M9.5 55V56M9.5 74V75M9.5 80V81M9.5 87V88M9.5 94V96M9.5 101V102M9.5 106V108M9.5 155V156M9.5 191V192M10.5 15V16M10.5 39V40M10.5 43V44M10.5 55V56M10.5 60V61M10.5 71V73M10.5 97V98M10.5 174V175M11.5 17V18M11.5 23V24M11.5 33V34M11.5 45V46M11.5 68V69M11.5 76V78M11.5 87V89M11.5 103V104M11.5 108V109M11.5 129V131M12.5 19V20M12.5 30V31M12.5 95V96M12.5 119V120M13.5 11V12M13.5 33V35M13.5 40V41M13.5 44V46M13.5 50V51M13.5 64V65M13.5 68V69M13.5 85V86M13.5 147V148M14.5 25V26M14.5 40V42M14.5 56V57M14.5 83V84M14.5 102V103M14.5 108V109M14.5 121V122M14.5 130V131M14.5 149V151M14.5 156V158M15.5 8V9M15.5 49V51M15.5 68V69M15.5 84V85M15.5 86V87M15.5 107V108M15.5 133V134M15.5 193V194M16.5 24V25M16.5 41V42M16.5 70V71M16.5 78V79M16.5 97V98M16.5 103V104M16.5 105V106M16.5 123V124M16.5 149V150M16.5 159V160M16.5 184V185M17.5 33V35M17.5 50V51M17.5 55V56M17.5 67V68M17.5 76V77M17.5 80V81M17.5 86V87M17.5 92V93M17.5 101V102M17.5 120V121M17.5 178V179M17.5 196V197M18.5 6V7M18.5 16V17M18.5 26V28M18.5 62V63M18.5 76V77M18.5 81V82M18.5 107V108M18.5 130V131M18.5 176V177M19.5 7V8M19.5 47V48M19.5 58V59M19.5 88V89M19.5 98V99M19.5 110V111M19.5 117V118M19.5 120V121M19.5 130V131M19.5 142V143M19.5 189V190M20.5 9V10M20.5 16V17M20.5 25V26M20.5 38V39M20.5 48V49M20.5 56V57M20.5 91V93M20.5 101V102M20.5 103V104M20.5 130V132M20.5 139V140M20.5 189V190M21.5 9V10M21.5 51V53M21.5 64V65M21.5 75V76M21.5 122V123M21.5 184V185M21.5 201V203M22.5 8V9M22.5 25V27M22.5 32V33M22.5 38V39M22.5 48V49M22.5 62V63M22.5 71V72M22.5 80V81M22.5 89V90M22.5 101V102M22.5 137V138M22.5 164V165M23.5 21V22M23.5 31V32M23.5 35V37M23.5 46V47M23.5 68V69M23.5 73V74M23.5 87V88M23.5 101V102M23.5 105V106M23.5 107V108M23.5 128V130M23.5 147V148M23.5 201V202M24.5 7V8M24.5 9V10M24.5 17V18M24.5 33V34M24.5 55V56M24.5 70V71M24.5 72V73M24.5 80V81M24.5 90V91M24.5 99V100M24.5 101V102M24.5 110V111M25.5 20V21M25.5 29V30M25.5 50V51M25.5 68V69M25.5 83V84M25.5 89V90M25.5 93V94M25.5 110V112M25.5 131V132M25.5 138V139M25.5 156V157M25.5 180V181M26.5 19V20M26.5 22V23M26.5 29V30M26.5 41V42M26.5 64V67M26.5 72V73M26.5 79V80M26.5 84V85M26.5 110V111M26.5 141V142M26.5 149V150M26.5 152V153M26.5 192V193M27.5 6V7M27.5 27V28M27.5 42V43M27.5 50V51M27.5 68V69M27.5 75V76M27.5 82V83M27.5 88V89M27.5 97V98M27.5 114V115M27.5 121V122M27.5 132V133M27.5 182V183M28.5 13V14M28.5 18V19M28.5 21V22M28.5 39V40M28.5 53V55M28.5 66V68M28.5 102V104M29.5 21V22M29.5 28V29M29.5 40V41M29.5 56V58M29.5 74V75M29.5 83V84M29.5 89V90M29.5 140V141M29.5 165V166M29.5 178V179M29.5 181V182M30.5 11V12M30.5 20V21M30.5 28V29M30.5 53V55M30.5 64V65M30.5 70V72M30.5 91V92M30.5 97V98M30.5 111V112M30.5 130V131M30.5 137V138M31.5 6V7M31.5 24V25M31.5 29V30M31.5 72V73M31.5 76V77M31.5 92V93M31.5 99V100M31.5 143V144M32.5 6V7M32.5 27V28M32.5 34V35M32.5 36V37M32.5 40V42M32.5 65V66M32.5 83V84M32.5 89V91M32.5 112V113M32.5 122V123M32.5 125V126M33.5 43V44M33.5 57V58M33.5 66V67M33.5 73V74M33.5 79V80M33.5 101V102M33.5 111V112M33.5 117V118M33.5 123V124M33.5 173V174M33.5 183V184M34.5 12V13M34.5 23V24M34.5 39V40M34.5 54V55M34.5 82V83M34.5 133V134M34.5 179V180M35.5 12V14M35.5 36V37M35.5 42V43M35.5 57V58M35.5 62V63M35.5 69V70M35.5 100V101M35.5 118V119M35.5 121V122M35.5 136V137M35.5 157V158M35.5 163V164M35.5 180V181M36.5 12V13M36.5 23V24M36.5 57V59M36.5 66V67M36.5 74V76M36.5 84V85M36.5 103V104M36.5 108V110M36.5 131V132M36.5 136V137M36.5 181V182M37.5 16V17M37.5 21V22M37.5 34V35M37.5 61V62M37.5 72V73M37.5 87V88M37.5 116V117M37.5 150V151M37.5 165V166M37.5 167V168M37.5 173V174M38.5 26V27M38.5 40V41M38.5 47V48M38.5 62V63M38.5 75V76M38.5 88V89M38.5 96V97M38.5 113V114M38.5 116V117M38.5 119V120M38.5 131V132M38.5 165V166M39.5 23V24M39.5 31V32M39.5 53V54M39.5 92V93M39.5 94V95M39.5 104V105M39.5 174V176M40.5 28V29M40.5 56V57M40.5 76V77M40.5 105V106M40.5 145V146M40.5 190V191M41.5 16V17M41.5 37V38M41.5 44V45M41.5 49V50M41.5 54V55M41.5 78V79M41.5 93V94M41.5 102V103M41.5 106V107M41.5 150V151M41.5 155V156M41.5 161V163M41.5 167V168M41.5 183V184M41.5 193V194M42.5 12V13M42.5 23V24M42.5 25V26M42.5 32V33M42.5 43V44M42.5 54V55M42.5 59V60M42.5 79V80M42.5 96V97M42.5 130V132M42.5 143V145M42.5 148V149M42.5 157V158M43.5 37V40M43.5 45V46M43.5 47V48M43.5 57V58M43.5 66V68M43.5 89V90M43.5 97V98M43.5 107V108M43.5 114V115M43.5 132V133M43.5 134V135M43.5 160V161M43.5 174V175M43.5 202V203M44.5 33V35M44.5 51V52M44.5 62V64M44.5 71V72M44.5 83V84M44.5 87V89M44.5 93V94M44.5 171V172M44.5 180V181M44.5 183V186M45.5 39V40M45.5 56V57M45.5 70V71M45.5 87V88M45.5 97V98M45.5 139V140M45.5 147V148M45.5 168V170M45.5 171V172M45.5 177V178M45.5 189V190M45.5 199V200M45.5 202V203M46.5 7V8M46.5 20V21M46.5 25V26M46.5 45V46M46.5 88V89M46.5 119V120M46.5 127V128M46.5 167V168M46.5 173V174M46.5 180V182M46.5 186V187M46.5 193V194M47.5 6V7M47.5 20V21M47.5 33V34M47.5 46V47M47.5 63V64M47.5 68V69M47.5 78V79M47.5 84V85M47.5 99V100M47.5 117V118M47.5 120V121M47.5 128V129M47.5 131V133M47.5 143V144M47.5 170V171M47.5 177V178M47.5 184V185M48.5 21V22M48.5 32V33M48.5 59V60M48.5 67V68M48.5 82V83M48.5 93V94M48.5 114V115M48.5 116V117M48.5 153V154M48.5 166V167M48.5 174V175M48.5 189V191M48.5 193V194M49.5 32V33M49.5 48V52M49.5 69V71M49.5 78V80M49.5 118V119M49.5 122V123M49.5 166V167M49.5 176V177M50.5 24V25M50.5 27V28M50.5 50V51M50.5 59V60M50.5 64V65M50.5 66V67M50.5 80V81M50.5 99V100M50.5 113V115M50.5 133V134M50.5 139V140M50.5 168V169M50.5 184V185M51.5 18V19M51.5 23V24M51.5 25V26M51.5 77V78M51.5 91V92M51.5 108V109M51.5 114V115M51.5 119V120M51.5 162V163M51.5 179V181M52.5 8V9M52.5 10V11M52.5 17V18M52.5 25V26M52.5 39V40M52.5 41V42M52.5 48V49M52.5 61V63M52.5 66V67M52.5 73V74M52.5 81V82M52.5 86V87M52.5 97V98M52.5 160V161M53.5 35V36M53.5 45V46M53.5 67V68M53.5 78V80M53.5 84V86M53.5 101V102M53.5 127V128M53.5 140V141M53.5 159V160M53.5 161V162M53.5 175V176M54.5 30V31M54.5 39V40M54.5 57V58M54.5 64V65M54.5 82V83M54.5 95V96M54.5 104V105M54.5 106V107M54.5 119V120M54.5 123V124M54.5 131V132M54.5 134V135M54.5 142V143M54.5 148V149M54.5 197V198M55.5 18V20M55.5 25V26M55.5 43V44M55.5 45V46M55.5 59V60M55.5 90V91M55.5 98V99M55.5 110V111M55.5 115V117M55.5 134V135M55.5 137V138M55.5 145V146M55.5 151V152M55.5 170V171M55.5 176V177M55.5 202V203M56.5 9V10M56.5 14V15M56.5 22V23M56.5 37V38M56.5 46V47M56.5 60V61M56.5 62V63M56.5 67V68M56.5 73V75M56.5 81V82M56.5 89V90M56.5 105V106M56.5 129V130M56.5 140V141M56.5 148V149M56.5 157V158M56.5 168V169M56.5 174V176M56.5 188V190M57.5 8V9M57.5 25V26M57.5 29V31M57.5 35V36M57.5 47V49M57.5 54V56M57.5 58V60M57.5 76V77M57.5 81V82M57.5 102V103M57.5 109V110M57.5 142V143M57.5 153V154M57.5 160V161M57.5 163V164M57.5 178V180M57.5 200V202M58.5 8V9M58.5 26V27M58.5 28V29M58.5 48V49M58.5 50V51M58.5 53V54M58.5 66V69M58.5 78V79M58.5 87V88M58.5 98V99M58.5 142V145M58.5 159V160M58.5 162V163M58.5 164V165M58.5 174V176M58.5 196V197M58.5 202V203M59.5 18V19M59.5 39V40M59.5 92V93M59.5 97V98M59.5 99V100M59.5 103V104M59.5 105V106M59.5 113V114M59.5 139V140M59.5 143V144M59.5 148V149M59.5 160V161M59.5 177V178M59.5 199V200M60.5 14V16M60.5 25V26M60.5 36V37M60.5 44V45M60.5 59V60M60.5 65V66M60.5 83V84M60.5 97V98M60.5 102V103M60.5 110V111M60.5 147V148M60.5 164V165M60.5 178V179M61.5 7V9M61.5 21V22M61.5 23V24M61.5 40V41M61.5 61V62M61.5 73V74M61.5 78V79M61.5 93V94M61.5 123V124M61.5 130V131M61.5 144V145M61.5 150V152M61.5 159V160M61.5 168V169M61.5 176V177M61.5 181V182M62.5 51V52M62.5 56V57M62.5 66V67M62.5 87V88M62.5 97V98M62.5 154V155M62.5 160V161M62.5 173V174M62.5 181V182M62.5 188V189M62.5 200V201M63.5 35V36M63.5 58V59M63.5 70V71M63.5 91V92M63.5 102V103M63.5 109V110M63.5 133V135M63.5 144V145M63.5 159V160M63.5 185V186M64.5 34V35M64.5 42V43M64.5 68V70M64.5 100V101M64.5 117V118M64.5 129V130M64.5 136V138M64.5 170V171M64.5 174V175M64.5 186V187M65.5 9V10M65.5 46V47M65.5 50V51M65.5 59V61M65.5 70V71M65.5 87V88M65.5 99V101M65.5 104V105M65.5 119V121M65.5 131V132M65.5 140V141M65.5 148V149M65.5 163V164M65.5 187V188M65.5 199V200M66.5 23V24M66.5 33V34M66.5 40V41M66.5 55V56M66.5 109V110M66.5 136V138M66.5 153V155M66.5 171V173M67.5 66V67M67.5 73V75M67.5 86V87M67.5 110V112M67.5 135V136M67.5 141V142M67.5 148V150M67.5 160V161M67.5 167V168M67.5 175V176M67.5 185V186M67.5 201V202M68.5 8V9M68.5 28V29M68.5 33V34M68.5 43V44M68.5 47V48M68.5 51V52M68.5 63V65M68.5 85V86M68.5 98V99M68.5 114V115M68.5 119V120M68.5 156V157M68.5 172V173M68.5 174V175M69.5 6V7M69.5 13V14M69.5 21V22M69.5 41V42M69.5 78V80M69.5 88V91M69.5 112V113M69.5 123V124M69.5 166V167M69.5 168V169M69.5 177V178M69.5 187V188M69.5 200V201M70.5 8V9M70.5 13V14M70.5 43V44M70.5 66V68M70.5 74V75M70.5 82V83M70.5 88V89M70.5 142V143M70.5 166V167M70.5 182V183M70.5 197V198M70.5 202V203M71.5 6V7M71.5 12V13M71.5 24V25M71.5 32V33M71.5 37V38M71.5 44V45M71.5 46V47M71.5 76V77M71.5 82V84M71.5 124V126M71.5 130V132M71.5 144V145M71.5 168V170M72.5 70V72M72.5 77V78M72.5 79V80M72.5 110V111M72.5 119V120M72.5 135V137M72.5 163V164M72.5 167V168M73.5 7V8M73.5 19V20M73.5 23V24M73.5 27V28M73.5 42V44M73.5 50V51M73.5 75V76M73.5 89V91M73.5 112V113M73.5 129V130M73.5 144V145M73.5 168V169M73.5 194V195M74.5 6V7M74.5 23V24M74.5 25V26M74.5 34V35M74.5 36V37M74.5 40V41M74.5 94V95M74.5 110V111M74.5 112V113M74.5 117V118M74.5 161V162M74.5 169V170M74.5 189V191M74.5 200V201M75.5 9V10M75.5 20V21M75.5 40V41M75.5 52V53M75.5 54V55M75.5 59V60M75.5 79V80M75.5 85V86M75.5 112V114M75.5 120V121M75.5 130V131M75.5 133V134M75.5 163V165M76.5 10V11M76.5 27V29M76.5 100V101M76.5 107V109M76.5 133V134M76.5 155V156M76.5 168V169M76.5 184V185M76.5 201V203M77.5 14V15M77.5 17V18M77.5 25V26M77.5 41V42M77.5 48V49M77.5 58V59M77.5 81V82M77.5 131V132M77.5 158V159M77.5 175V176M77.5 181V182M77.5 197V198M78.5 27V28M78.5 55V56M78.5 65V67M78.5 71V72M78.5 79V80M78.5 87V88M78.5 95V96M78.5 113V114M78.5 116V117M78.5 160V162M78.5 171V172M78.5 178V179M79.5 7V8M79.5 48V49M79.5 82V83M79.5 98V99M79.5 108V109M79.5 113V115M79.5 121V122M79.5 125V128M79.5 160V162M79.5 171V173M79.5 187V188M79.5 189V190M80.5 24V25M80.5 45V46M80.5 70V72M80.5 79V80M80.5 111V112M80.5 121V123M80.5 131V132M80.5 154V155M80.5 174V175M81.5 7V8M81.5 20V21M81.5 33V34M81.5 48V49M81.5 54V56M81.5 76V77M81.5 106V107M81.5 120V121M81.5 153V154M81.5 156V157M81.5 172V173M81.5 191V192M81.5 202V203M82.5 34V35M82.5 36V37M82.5 47V48M82.5 77V78M82.5 86V87M82.5 95V96M82.5 103V105M82.5 123V124M82.5 129V130M82.5 137V138M82.5 182V183M82.5 188V189M82.5 195V196M83.5 14V15M83.5 27V28M83.5 57V58M83.5 61V62M83.5 108V110M83.5 127V129M83.5 176V178M84.5 58V60M84.5 66V67M84.5 105V106M84.5 126V127M84.5 131V132M84.5 137V138M84.5 198V199M85.5 34V35M85.5 45V46M85.5 53V55M85.5 63V64M85.5 68V69M85.5 72V73M85.5 77V78M85.5 108V109M85.5 121V122M85.5 128V129M85.5 140V141M85.5 150V151M85.5 155V156M85.5 181V182M85.5 202V203M86.5 8V9M86.5 27V28M86.5 37V39M86.5 41V42M86.5 67V69M86.5 86V87M86.5 97V98M86.5 103V104M86.5 108V110M86.5 114V115M86.5 140V141M86.5 147V148M86.5 153V154M86.5 170V171M86.5 175V177M86.5 181V182M86.5 188V189M87.5 17V18M87.5 29V30M87.5 43V45M87.5 60V61M87.5 72V73M87.5 100V101M87.5 112V113M87.5 125V126M87.5 136V137M87.5 161V162M87.5 191V192M88.5 29V30M88.5 38V39M88.5 42V44M88.5 55V57M88.5 63V64M88.5 66V67M88.5 70V71M88.5 88V90M88.5 109V110M88.5 120V121M88.5 123V124M88.5 129V130M88.5 139V140M88.5 145V147M88.5 159V160M88.5 166V167M88.5 190V191M89.5 11V12M89.5 45V47M89.5 50V51M89.5 77V78M89.5 97V99M89.5 108V109M89.5 117V118M89.5 119V120M89.5 135V137M89.5 141V142M89.5 159V161M89.5 164V165M89.5 173V174M89.5 202V203M90.5 8V9M90.5 20V21M90.5 24V25M90.5 35V36M90.5 56V57M90.5 58V59M90.5 107V108M90.5 112V113M90.5 119V120M90.5 149V150M90.5 157V158M90.5 201V202M91.5 5V6M91.5 26V27M91.5 35V36M91.5 43V44M91.5 49V50M91.5 54V55M91.5 81V82M91.5 95V97M91.5 102V103M91.5 115V116M91.5 151V152M91.5 181V182M92.5 5V6M92.5 13V14M92.5 45V46M92.5 74V76M92.5 131V132M92.5 147V148M92.5 157V159M92.5 179V181M92.5 196V197M92.5 202V203M93.5 41V42M93.5 43V45M93.5 51V53M93.5 58V60M93.5 81V82M93.5 96V97M93.5 117V119M93.5 127V128M93.5 142V143M93.5 160V162M93.5 166V167M93.5 168V169M93.5 198V199M94.5 23V24M94.5 37V38M94.5 44V45M94.5 56V57M94.5 96V97M94.5 113V114M94.5 115V116M94.5 125V126M94.5 157V158M94.5 163V164M94.5 170V172M94.5 174V175M94.5 182V183M94.5 191V192M95.5 35V36M95.5 51V52M95.5 66V67M95.5 77V78M95.5 93V94M95.5 137V138M95.5 141V142M95.5 154V155M95.5 159V160M96.5 7V8M96.5 17V18M96.5 22V23M96.5 60V62M96.5 74V75M96.5 80V81M96.5 96V97M96.5 102V103M96.5 126V127M96.5 150V151M96.5 157V158M96.5 175V176M96.5 181V183M97.5 51V52M97.5 61V62M97.5 63V64M97.5 101V102M97.5 103V104M97.5 110V111M97.5 123V124M97.5 133V134M97.5 143V144M97.5 151V152M97.5 173V174M97.5 179V180M97.5 184V185M97.5 189V190M98.5 28V29M98.5 40V41M98.5 61V63M98.5 78V79M98.5 80V81M98.5 95V96M98.5 117V118M98.5 131V132M98.5 147V148M98.5 156V157M98.5 163V164M98.5 186V187M98.5 188V189M98.5 199V200M99.5 20V21M99.5 35V36M99.5 37V38M99.5 49V50M99.5 55V56M99.5 58V59M99.5 70V71M99.5 98V99M99.5 121V122M99.5 153V155M99.5 189V190M99.5 195V196M99.5 201V203M100.5 22V23M100.5 34V35M100.5 60V61M100.5 81V82M100.5 91V92M100.5 105V106M100.5 124V125M100.5 149V150M101.5 26V28M101.5 34V35M101.5 39V41M101.5 51V52M101.5 57V58M101.5 87V88M101.5 110V111M101.5 125V126M101.5 145V146M101.5 159V160M101.5 168V169M102.5 25V26M102.5 29V30M102.5 42V43M102.5 47V49M102.5 57V59M102.5 71V72M102.5 90V91M102.5 122V123M102.5 154V155M102.5 178V179M102.5 187V188M103.5 23V24M103.5 99V100M103.5 186V187M103.5 191V192M104.5 31V32M104.5 33V34M104.5 39V41M104.5 58V59M104.5 84V85M104.5 115V116M104.5 135V136M104.5 142V143M104.5 151V152M104.5 195V196M105.5 6V7M105.5 28V29M105.5 47V48M105.5 117V118M105.5 120V121M105.5 126V127M105.5 139V140M105.5 143V144M105.5 149V151M105.5 166V167M105.5 175V177M106.5 44V45M106.5 48V49M106.5 58V59M106.5 64V65M106.5 69V71M106.5 78V80M106.5 116V117M106.5 136V138M106.5 146V147M106.5 157V158M106.5 170V171M106.5 178V179M107.5 10V11M107.5 14V15M107.5 21V22M107.5 30V31M107.5 54V55M107.5 65V67M107.5 72V74M107.5 82V83M107.5 88V89M107.5 118V119M107.5 126V127M107.5 130V131M107.5 141V142M107.5 146V148M107.5 153V154M107.5 165V166M107.5 168V169M107.5 184V186M107.5 194V195M108.5 6V7M108.5 42V43M108.5 48V49M108.5 60V61M108.5 77V78M108.5 79V80M108.5 115V116M108.5 126V127M108.5 137V138M108.5 165V166M108.5 168V169M108.5 180V181M109.5 17V18M109.5 29V31M109.5 46V47M109.5 63V64M109.5 91V92M109.5 99V100M109.5 101V102M109.5 115V116M109.5 123V124M109.5 132V133M109.5 134V135M109.5 140V141M109.5 153V154M109.5 177V178M109.5 191V193M110.5 20V21M110.5 32V33M110.5 34V35M110.5 71V72M110.5 82V83M110.5 88V89M110.5 100V101M110.5 102V103M110.5 106V107M110.5 129V130M110.5 137V138M110.5 146V148M110.5 151V152M110.5 158V159M110.5 164V165M110.5 195V196M110.5 202V203M111.5 7V8M111.5 22V24M111.5 55V56M111.5 72V73M111.5 75V77M111.5 98V99M111.5 133V134M111.5 154V156M111.5 167V168M111.5 201V202M112.5 12V13M112.5 78V79M112.5 98V99M112.5 106V107M112.5 115V116M112.5 117V118M112.5 131V132M112.5 137V138M112.5 150V151M113.5 14V15M113.5 26V27M113.5 37V38M113.5 43V44M113.5 58V59M113.5 64V65M113.5 70V72M113.5 89V90M113.5 170V171M113.5 176V178M113.5 186V187M114.5 25V26M114.5 29V31M114.5 43V45M114.5 67V68M114.5 72V73M114.5 87V88M114.5 89V90M114.5 97V98M114.5 105V106M114.5 116V117M114.5 150V152M114.5 157V158M114.5 179V181M114.5 184V186M114.5 197V199M115.5 6V7M115.5 13V14M115.5 17V18M115.5 27V28M115.5 35V36M115.5 43V44M115.5 51V52M115.5 85V87M115.5 92V93M115.5 105V106M115.5 116V117M115.5 125V126M115.5 133V134M115.5 147V148M115.5 165V166M115.5 176V177M115.5 182V184M115.5 193V194M116.5 6V7M116.5 8V9M116.5 13V14M116.5 18V19M116.5 47V48M116.5 52V53M116.5 69V70M116.5 88V89M116.5 94V96M116.5 123V124M116.5 129V131M116.5 157V158M116.5 176V177M116.5 180V182M116.5 192V193M116.5 197V198M117.5 8V9M117.5 56V57M117.5 66V67M117.5 78V79M117.5 98V99M117.5 103V104M117.5 133V135M117.5 169V170M117.5 178V179M117.5 195V196M118.5 12V13M118.5 27V28M118.5 30V31M118.5 46V47M118.5 61V62M118.5 104V105M118.5 115V117M118.5 131V132M118.5 138V139M118.5 144V145M118.5 149V150M118.5 151V152M118.5 181V182M119.5 19V20M119.5 40V42M119.5 60V61M119.5 77V78M119.5 110V112M119.5 130V131M119.5 150V151M119.5 154V155M119.5 158V159M119.5 163V164M119.5 192V193M120.5 25V26M120.5 58V60M120.5 64V65M120.5 77V78M120.5 83V84M120.5 97V99M120.5 104V105M120.5 114V115M120.5 147V148M120.5 183V184M120.5 196V197M121.5 14V15M121.5 47V49M121.5 58V59M121.5 63V64M121.5 67V68M121.5 95V96M121.5 108V109M121.5 149V151M121.5 158V159M121.5 197V198M122.5 15V16M122.5 21V22M122.5 27V28M122.5 55V57M122.5 61V62M122.5 66V67M122.5 77V78M122.5 94V95M122.5 104V105M122.5 138V139M122.5 146V147M122.5 164V165M123.5 26V27M123.5 32V33M123.5 34V35M123.5 43V44M123.5 64V65M123.5 90V91M123.5 116V117M123.5 128V129M123.5 170V171M123.5 175V176M123.5 188V190M124.5 20V21M124.5 39V40M124.5 46V47M124.5 78V79M124.5 116V117M124.5 124V126M124.5 131V132M124.5 144V145M124.5 169V170M125.5 8V9M125.5 12V13M125.5 18V20M125.5 43V44M125.5 54V55M125.5 72V73M125.5 77V78M125.5 85V86M125.5 92V93M125.5 105V107M125.5 118V119M125.5 147V149M125.5 172V173M126.5 10V11M126.5 29V30M126.5 72V73M126.5 94V95M126.5 103V104M126.5 117V118M126.5 165V166M126.5 171V172M126.5 195V196M126.5 197V198M126.5 202V203M127.5 7V8M127.5 11V12M127.5 24V26M127.5 47V49M127.5 52V53M127.5 54V55M127.5 58V59M127.5 99V101M127.5 117V118M127.5 131V132M127.5 139V140M127.5 186V187M127.5 198V199M128.5 11V13M128.5 15V16M128.5 27V29M128.5 38V39M128.5 49V50M128.5 62V63M128.5 70V71M128.5 73V74M128.5 135V136M128.5 140V142M128.5 149V150M128.5 160V161M128.5 176V177M128.5 184V185M129.5 16V17M129.5 32V33M129.5 36V37M129.5 42V43M129.5 47V48M129.5 53V54M129.5 76V77M129.5 90V91M129.5 120V122M129.5 148V149M129.5 164V165M129.5 173V174M129.5 180V181M129.5 187V188M129.5 191V192M130.5 13V14M130.5 20V21M130.5 34V35M130.5 47V48M130.5 75V76M130.5 81V82M130.5 129V131M130.5 163V165M130.5 179V180M130.5 185V186M130.5 187V188M130.5 196V197M131.5 47V48M131.5 52V53M131.5 60V61M131.5 64V66M131.5 79V80M131.5 83V84M131.5 101V102M131.5 107V108M131.5 112V114M131.5 153V154M131.5 200V201M132.5 9V10M132.5 35V36M132.5 46V47M132.5 51V52M132.5 70V71M132.5 78V79M132.5 104V105M132.5 106V107M132.5 130V131M132.5 145V146M132.5 150V152M132.5 167V169M132.5 199V200M133.5 27V28M133.5 32V33M133.5 38V39M133.5 45V47M133.5 57V58M133.5 62V63M133.5 69V70M133.5 83V84M133.5 122V123M133.5 143V144M133.5 157V159M133.5 196V197M134.5 41V42M134.5 43V44M134.5 48V49M134.5 71V72M134.5 88V89M134.5 106V107M134.5 115V116M134.5 145V146M134.5 168V169M135.5 19V20M135.5 38V39M135.5 52V53M135.5 60V61M135.5 65V67M135.5 71V72M135.5 75V76M135.5 94V95M135.5 106V107M135.5 121V122M135.5 141V142M136.5 15V17M136.5 20V21M136.5 40V42M136.5 56V57M136.5 90V91M136.5 97V98M136.5 109V110M136.5 134V135M136.5 140V141M136.5 145V146M136.5 180V181M136.5 190V191M136.5 198V199M137.5 16V17M137.5 25V26M137.5 48V49M137.5 54V56M137.5 60V61M137.5 77V79M137.5 83V84M137.5 94V95M137.5 133V134M137.5 147V148M137.5 152V154M137.5 159V160M137.5 168V169M137.5 179V180M138.5 36V38M138.5 69V70M138.5 74V75M138.5 97V98M138.5 108V109M138.5 126V127M138.5 134V135M138.5 141V142M138.5 184V185M138.5 189V190M139.5 29V31M139.5 41V42M139.5 72V73M139.5 84V86M139.5 90V91M139.5 97V98M139.5 99V100M139.5 103V104M139.5 153V154M139.5 165V166M140.5 22V23M140.5 34V35M140.5 42V43M140.5 44V45M140.5 49V50M140.5 53V54M140.5 69V70M140.5 86V88M140.5 96V97M140.5 101V102M140.5 140V141M140.5 168V169M140.5 183V184M140.5 185V186M141.5 29V31M141.5 39V40M141.5 45V46M141.5 57V58M141.5 63V64M141.5 71V72M141.5 75V77M141.5 81V82M141.5 98V99M141.5 128V129M141.5 131V132M141.5 142V143M141.5 167V168M141.5 173V174M142.5 30V31M142.5 36V38M142.5 48V49M142.5 54V55M142.5 61V62M142.5 69V70M142.5 74V76M142.5 81V82M142.5 98V99M142.5 127V128M142.5 133V134M142.5 170V171M142.5 176V177M142.5 196V198M143.5 13V14M143.5 20V21M143.5 39V40M143.5 45V46M143.5 50V51M143.5 71V72M143.5 79V80M143.5 88V91M143.5 114V115M143.5 129V130M143.5 142V143M143.5 154V155M143.5 163V164M143.5 191V192M144.5 36V37M144.5 52V54M144.5 58V59M144.5 87V88M144.5 116V117M144.5 118V119M144.5 131V132M144.5 149V150M144.5 152V153M144.5 174V175M145.5 31V32M145.5 37V38M145.5 41V42M145.5 67V68M145.5 81V83M145.5 98V99M145.5 102V103M145.5 120V121M145.5 126V128M145.5 133V134M145.5 138V139M145.5 159V160M145.5 167V168M146.5 46V47M146.5 65V67M146.5 75V77M146.5 84V85M146.5 109V110M146.5 114V115M146.5 122V123M146.5 134V135M146.5 148V149M146.5 153V155M146.5 196V197M147.5 7V8M147.5 15V16M147.5 23V24M147.5 46V47M147.5 74V75M147.5 94V95M147.5 102V104M147.5 114V115M147.5 130V131M147.5 146V147M147.5 154V155M147.5 163V164M147.5 188V189M147.5 193V194M147.5 199V201M148.5 13V14M148.5 22V24M148.5 29V30M148.5 48V49M148.5 57V58M148.5 66V67M148.5 70V71M148.5 88V89M148.5 90V91M148.5 121V122M148.5 128V129M148.5 166V167M148.5 183V184M148.5 197V198M149.5 16V17M149.5 26V27M149.5 34V35M149.5 38V40M149.5 50V51M149.5 66V67M149.5 83V84M149.5 88V89M149.5 93V94M149.5 98V100M149.5 102V103M149.5 119V120M149.5 168V169M150.5 20V21M150.5 43V45M150.5 68V70M150.5 85V86M150.5 97V98M150.5 114V115M150.5 129V130M150.5 152V153M150.5 154V155M150.5 161V163M150.5 168V169M150.5 196V197M151.5 13V14M151.5 31V32M151.5 34V35M151.5 49V51M151.5 71V72M151.5 82V84M151.5 91V92M151.5 93V94M151.5 110V111M151.5 115V117M151.5 130V131M151.5 150V151M151.5 157V158M151.5 161V162M152.5 7V10M152.5 28V29M152.5 47V48M152.5 52V53M152.5 63V65M152.5 72V73M152.5 79V80M152.5 88V89M152.5 90V91M152.5 105V106M152.5 116V117M152.5 128V130M152.5 140V141M152.5 147V148M152.5 162V164M152.5 169V170M152.5 176V178M152.5 191V192M153.5 32V33M153.5 35V36M153.5 40V41M153.5 50V51M153.5 96V97M153.5 101V102M153.5 106V107M153.5 119V122M153.5 130V131M153.5 151V152M154.5 29V30M154.5 35V36M154.5 49V50M154.5 54V55M154.5 74V75M154.5 80V81M154.5 88V89M154.5 114V115M154.5 127V128M154.5 139V140M154.5 178V179M154.5 184V185M154.5 200V201M155.5 24V25M155.5 27V28M155.5 33V34M155.5 40V41M155.5 56V57M155.5 64V65M155.5 71V72M155.5 79V80M155.5 91V92M155.5 97V98M155.5 112V114M155.5 137V138M155.5 140V141M155.5 146V147M155.5 152V153M155.5 159V160M155.5 201V202M156.5 25V27M156.5 68V69M156.5 76V77M156.5 91V93M156.5 96V97M156.5 102V104M156.5 117V118M156.5 125V126M156.5 136V137M156.5 176V177M156.5 186V187M157.5 26V27M157.5 52V54M157.5 58V59M157.5 84V85M157.5 111V112M157.5 119V120M157.5 138V141M157.5 167V168M157.5 185V187M157.5 192V193M158.5 30V31M158.5 41V42M158.5 67V68M158.5 73V74M158.5 78V79M158.5 88V89M158.5 96V97M158.5 110V111M158.5 115V117M158.5 122V123M158.5 140V141M158.5 145V146M158.5 164V165M158.5 166V167M158.5 172V173M158.5 177V178M158.5 182V183M159.5 13V14M159.5 20V21M159.5 64V65M159.5 69V70M159.5 71V72M159.5 75V76M159.5 81V82M159.5 92V93M159.5 99V100M159.5 105V106M159.5 112V113M159.5 137V138M159.5 140V141M159.5 162V163M159.5 175V176M160.5 6V7M160.5 16V17M160.5 28V29M160.5 33V35M160.5 46V47M160.5 62V63M160.5 77V78M160.5 98V99M160.5 107V108M160.5 109V110M160.5 115V116M160.5 119V120M160.5 129V130M160.5 131V132M160.5 138V139M160.5 141V143M160.5 153V154M160.5 160V162M160.5 181V182M161.5 64V65M161.5 93V94M161.5 95V96M161.5 105V106M161.5 129V130M161.5 139V140M161.5 144V145M161.5 150V151M161.5 156V158M161.5 164V165M161.5 176V177M161.5 195V197M161.5 202V203M162.5 12V13M162.5 18V19M162.5 40V41M162.5 46V48M162.5 64V65M162.5 80V81M162.5 93V94M162.5 124V125M162.5 168V169M162.5 187V188M162.5 192V193M162.5 198V199M163.5 8V9M163.5 14V15M163.5 36V37M163.5 46V47M163.5 50V51M163.5 55V56M163.5 61V63M163.5 67V68M163.5 71V72M163.5 76V77M163.5 103V105M163.5 119V121M163.5 129V130M163.5 140V141M163.5 150V151M163.5 188V189M163.5 196V198M164.5 10V11M164.5 31V32M164.5 42V44M164.5 50V51M164.5 74V75M164.5 79V80M164.5 90V91M164.5 103V104M164.5 135V136M164.5 159V160M164.5 168V169M164.5 175V177M164.5 185V186M164.5 193V194M164.5 200V202M165.5 60V61M165.5 67V68M165.5 77V78M165.5 123V124M165.5 136V137M165.5 171V173M165.5 197V199M166.5 24V25M166.5 33V34M166.5 40V41M166.5 46V47M166.5 61V63M166.5 90V91M166.5 106V107M166.5 120V121M166.5 136V137M166.5 167V170M166.5 175V176M166.5 186V187M167.5 9V10M167.5 60V61M167.5 81V83M167.5 102V104M167.5 111V113M167.5 140V141M167.5 157V158M167.5 163V164M167.5 173V174M167.5 183V185M168.5 28V30M168.5 40V41M168.5 52V54M168.5 65V67M168.5 85V86M168.5 95V97M168.5 126V127M168.5 151V152M168.5 159V161M168.5 163V164M168.5 197V198M169.5 35V37M169.5 55V56M169.5 62V63M169.5 85V87M169.5 154V155M169.5 165V166M169.5 192V193M169.5 199V201M170.5 13V14M170.5 36V37M170.5 66V68M170.5 78V79M170.5 82V83M170.5 115V116M170.5 132V133M170.5 140V141M170.5 145V146M170.5 157V158M170.5 171V173M171.5 16V17M171.5 28V29M171.5 51V52M171.5 57V58M171.5 68V69M171.5 82V83M171.5 96V97M171.5 101V102M171.5 115V116M171.5 129V130M171.5 141V143M171.5 173V175M171.5 179V180M171.5 188V190M171.5 191V192M172.5 7V8M172.5 27V28M172.5 35V36M172.5 49V50M172.5 66V67M172.5 76V77M172.5 95V98M173.5 16V17M173.5 36V37M173.5 64V65M173.5 87V88M173.5 119V120M173.5 133V135M173.5 140V142M173.5 156V157M173.5 173V174M173.5 175V176M173.5 181V182M173.5 189V190M174.5 12V13M174.5 20V21M174.5 27V28M174.5 34V35M174.5 43V45M174.5 58V59M174.5 66V67M174.5 105V106M174.5 116V117M174.5 122V124M174.5 159V160M174.5 179V180M174.5 201V202M175.5 17V18M175.5 29V30M175.5 34V35M175.5 47V48M175.5 51V52M175.5 62V64M175.5 68V70M175.5 93V94M175.5 121V122M175.5 134V135M175.5 153V154M175.5 189V190M175.5 193V194M176.5 31V32M176.5 41V42M176.5 55V56M176.5 68V69M176.5 81V82M176.5 99V100M176.5 103V104M176.5 118V119M176.5 132V133M176.5 163V164M176.5 179V181M177.5 41V42M177.5 48V49M177.5 57V58M177.5 60V61M177.5 65V67M177.5 80V81M177.5 97V98M177.5 126V127M177.5 133V134M177.5 151V152M177.5 184V185M177.5 195V198M178.5 11V12M178.5 15V16M178.5 32V33M178.5 78V79M178.5 107V108M178.5 120V121M178.5 138V139M178.5 155V156M178.5 166V168M178.5 183V184M178.5 186V187M178.5 195V196M179.5 36V37M179.5 63V65M179.5 75V76M179.5 86V87M179.5 104V105M179.5 112V113M179.5 114V115M179.5 141V142M179.5 164V165M179.5 176V177M179.5 178V179M180.5 6V8M180.5 13V14M180.5 24V25M180.5 39V40M180.5 66V67M180.5 70V71M180.5 83V84M180.5 98V99M180.5 103V104M180.5 111V112M180.5 127V128M180.5 143V145M180.5 161V162M180.5 180V181M180.5 191V192M180.5 202V203M181.5 11V13M181.5 36V37M181.5 39V40M181.5 45V46M181.5 56V57M181.5 73V74M181.5 103V104M181.5 113V114M181.5 122V124M181.5 129V130M181.5 139V140M181.5 159V161M181.5 169V170M181.5 177V178M182.5 17V18M182.5 35V36M182.5 59V60M182.5 85V86M182.5 96V97M182.5 104V105M182.5 117V119M182.5 139V140M182.5 144V145M183.5 8V9M183.5 13V14M183.5 26V27M183.5 41V42M183.5 68V70M183.5 73V75M183.5 122V124M183.5 136V137M183.5 142V143M183.5 153V154M183.5 163V164M183.5 194V196M184.5 18V19M184.5 34V35M184.5 37V38M184.5 42V44M184.5 72V73M184.5 77V78M184.5 106V107M184.5 119V120M184.5 126V127M184.5 145V146M184.5 161V163M184.5 189V190M184.5 196V198M185.5 38V40M185.5 45V46M185.5 57V58M185.5 64V65M185.5 79V80M185.5 105V106M185.5 109V110M185.5 118V119M185.5 153V154M185.5 160V162M185.5 176V177M185.5 193V195M185.5 201V202M186.5 31V32M186.5 46V47M186.5 51V52M186.5 56V57M186.5 68V69M186.5 74V75M186.5 82V84M186.5 103V104M186.5 115V116M186.5 121V122M186.5 126V128M186.5 145V146M186.5 193V194M186.5 200V201M187.5 6V7M187.5 14V15M187.5 21V22M187.5 31V32M187.5 50V51M187.5 55V56M187.5 105V106M187.5 111V113M187.5 117V118M187.5 125V126M187.5 158V159M187.5 184V185M187.5 191V193M187.5 202V203M188.5 13V15M188.5 39V40M188.5 78V80M188.5 99V100M188.5 109V110M188.5 141V142M188.5 153V154M188.5 160V161M189.5 22V23M189.5 37V38M189.5 42V43M189.5 54V55M189.5 65V66M189.5 74V75M189.5 90V91M189.5 106V107M189.5 115V116M189.5 130V132M189.5 143V145M189.5 161V162M189.5 175V176M189.5 181V182M190.5 38V39M190.5 46V47M190.5 65V66M190.5 71V72M190.5 76V78M190.5 84V86M190.5 88V89M190.5 131V132M190.5 138V139M190.5 147V148M190.5 190V191M191.5 13V14M191.5 45V47M191.5 53V54M191.5 62V63M191.5 73V74M191.5 92V93M191.5 108V109M191.5 110V111M191.5 121V122M191.5 143V144M191.5 148V150M191.5 158V159M191.5 180V182M192.5 28V29M192.5 40V41M192.5 45V46M192.5 50V51M192.5 74V75M192.5 79V81M192.5 118V119M192.5 124V126M192.5 145V146M193.5 8V9M193.5 21V22M193.5 31V32M193.5 43V45M193.5 48V49M193.5 94V95M193.5 111V112M193.5 132V133M193.5 178V180M193.5 196V197M194.5 21V22M194.5 37V38M194.5 44V46M194.5 90V92M194.5 97V98M194.5 116V117M194.5 127V128M194.5 155V157M194.5 183V184M194.5 191V193M194.5 199V201M195.5 7V8M195.5 34V35M195.5 40V41M195.5 50V51M195.5 58V59M195.5 67V68M195.5 85V86M195.5 92V94M195.5 98V99M195.5 119V120M195.5 151V152M195.5 158V159M195.5 172V173M195.5 188V189M196.5 44V45M196.5 51V52M196.5 57V59M196.5 75V77M196.5 83V84M196.5 94V95M196.5 140V141M196.5 168V169M196.5 176V177M196.5 186V188M197.5 9V12M197.5 40V41M197.5 46V47M197.5 64V65M197.5 69V70M197.5 117V118M197.5 121V122M197.5 123V124M197.5 129V130M197.5 138V139M197.5 154V155M197.5 178V180M197.5 185V186M197.5 192V193M198.5 30V31M198.5 62V63M198.5 74V75M198.5 86V87M198.5 143V145M198.5 167V168M198.5 188V189M198.5 194V195M199.5 13V14M199.5 19V20M199.5 21V23M199.5 26V27M199.5 28V29M199.5 46V47M199.5 87V90M199.5 96V97M199.5 103V104M199.5 115V116M199.5 117V118M199.5 146V147M199.5 161V162M200.5 9V10M200.5 31V32M200.5 39V40M200.5 44V45M200.5 49V50M200.5 65V66M200.5 75V76M200.5 86V87M200.5 105V107M200.5 112V114M200.5 129V130M200.5 143V145M200.5 150V151M200.5 165V166M200.5 181V182M200.5 191V192M201.5 19V20M201.5 25V26M201.5 27V28M201.5 38V39M201.5 68V69M201.5 74V75M201.5 85V87M201.5 92V93M201.5 96V97M201.5 109V110M201.5 125V126M201.5 144V145M201.5 175V176M201.5 185V186"/>
<path stroke="#bbbbbb" d="M0.5 28V30M0.5 34V35M0.5 64V65M0.5 90V91M0.5 107V109M0.5 142V143M1.5 74V75M1.5 80V81M1.5 89V91M2.5 38V39M2.5 59V60M2.5 82V83M2.5 95V96M2.5 119V120M2.5 127V129M2.5 146V147M3.5 16V17M3.5 55V56M3.5 71V72M3.5 90V91M3.5 101V102M3.5 139V140M4.5 32V33M4.5 60V62M4.5 72V73M5.5 42V43M5.5 47V48M5.5 69V70M5.5 99V100M6.5 6V7M6.5 51V52M6.5 57V58M6.5 122V123M7.5 24V25M7.5 30V31M7.5 59V61M7.5 67V68M7.5 98V99M8.5 35V36M8.5 76V77M8.5 114V115M8.5 117V118M9.5 8V9M9.5 20V21M9.5 23V24M9.5 34V36M9.5 59V60M9.5 82V83M9.5 88V89M10.5 9V10M10.5 13V14M10.5 27V28M10.5 50V51M10.5 56V57M10.5 61V62M10.5 91V92M10.5 99V100M10.5 112V113M10.5 125V126M11.5 21V22M11.5 39V40M11.5 41V42M11.5 67V68M11.5 94V95M11.5 111V112M11.5 113V114M12.5 36V37M12.5 53V54M12.5 66V67M12.5 73V74M12.5 89V91M12.5 139V141M13.5 6V7M13.5 10V11M13.5 92V93M14.5 6V7M14.5 31V32M14.5 96V97M14.5 101V102M14.5 106V107M15.5 25V27M15.5 31V33M15.5 41V43M15.5 59V61M16.5 25V26M16.5 45V46M16.5 57V58M16.5 64V65M16.5 96V97M16.5 104V105M16.5 117V118M16.5 198V199M17.5 16V17M17.5 20V21M17.5 45V46M17.5 49V50M17.5 74V75M17.5 79V80M17.5 91V92M17.5 102V103M17.5 117V118M17.5 181V182M18.5 25V26M18.5 38V39M18.5 63V64M18.5 70V71M18.5 129V130M18.5 185V186M18.5 188V189M18.5 193V194M19.5 31V32M19.5 97V98M19.5 182V183M19.5 190V191M20.5 44V45M20.5 49V50M20.5 54V56M20.5 79V80M20.5 85V86M20.5 110V111M20.5 162V163M20.5 174V175M21.5 6V7M21.5 36V37M21.5 74V75M21.5 106V108M21.5 132V133M21.5 160V161M21.5 172V173M22.5 17V18M22.5 60V61M22.5 90V91M22.5 153V154M23.5 22V23M23.5 51V53M23.5 56V58M23.5 106V107M23.5 148V149M24.5 32V33M24.5 48V50M24.5 56V57M24.5 81V82M24.5 95V96M24.5 100V101M24.5 112V116M24.5 156V157M25.5 11V12M25.5 21V22M25.5 26V27M25.5 58V59M25.5 75V76M25.5 94V95M25.5 114V115M26.5 35V36M26.5 78V79M26.5 90V92M26.5 126V127M26.5 138V139M26.5 180V183M27.5 8V9M27.5 37V38M27.5 69V70M27.5 96V97M27.5 146V147M27.5 149V150M27.5 181V182M28.5 11V12M28.5 44V45M28.5 79V80M28.5 98V99M28.5 113V114M28.5 144V146M29.5 42V43M29.5 49V50M29.5 84V85M30.5 15V16M30.5 30V31M30.5 90V91M30.5 110V111M31.5 14V15M31.5 17V18M31.5 60V61M31.5 77V78M31.5 86V87M31.5 91V92M31.5 140V141M31.5 179V180M32.5 52V53M32.5 113V114M32.5 144V145M32.5 179V180M33.5 55V56M33.5 93V94M33.5 102V103M33.5 109V110M33.5 116V117M33.5 135V136M33.5 179V180M34.5 24V25M34.5 32V33M34.5 51V52M34.5 88V89M34.5 99V101M35.5 28V29M35.5 43V44M35.5 58V59M35.5 83V84M35.5 107V108M36.5 15V16M36.5 20V21M36.5 42V43M36.5 46V47M36.5 48V49M36.5 93V94M36.5 104V105M36.5 149V150M36.5 161V162M36.5 184V185M37.5 11V12M37.5 28V29M37.5 35V36M37.5 50V51M37.5 77V78M37.5 99V100M37.5 117V119M37.5 153V154M38.5 56V57M38.5 64V65M38.5 112V113M38.5 154V155M38.5 168V169M38.5 171V172M38.5 186V187M39.5 14V15M39.5 87V88M39.5 128V129M39.5 156V157M39.5 159V160M39.5 188V189M40.5 29V30M40.5 58V59M40.5 114V115M40.5 160V161M40.5 192V193M41.5 36V37M41.5 53V54M41.5 62V63M41.5 70V71M41.5 100V102M41.5 107V108M41.5 149V150M41.5 192V193M42.5 35V36M42.5 40V41M42.5 60V61M42.5 74V75M42.5 97V98M42.5 127V128M42.5 158V159M42.5 176V177M42.5 184V185M43.5 36V37M43.5 46V47M43.5 85V86M43.5 180V181M43.5 189V190M44.5 17V18M44.5 30V31M44.5 38V39M44.5 45V46M44.5 94V95M44.5 99V100M44.5 117V118M44.5 124V125M44.5 137V138M44.5 144V145M44.5 168V169M44.5 181V182M45.5 14V15M45.5 16V17M45.5 20V21M45.5 55V56M45.5 61V62M45.5 69V70M45.5 91V92M45.5 102V103M45.5 129V130M45.5 165V166M45.5 176V177M45.5 201V202M46.5 15V16M46.5 65V66M46.5 111V112M46.5 153V154M46.5 164V165M46.5 174V175M46.5 192V193M47.5 14V15M47.5 50V51M47.5 110V111M47.5 142V143M47.5 162V163M47.5 165V166M47.5 169V170M47.5 178V179M48.5 7V8M48.5 16V18M48.5 73V75M48.5 107V108M48.5 120V121M48.5 122V123M48.5 139V140M48.5 165V166M49.5 7V8M49.5 37V38M49.5 57V58M49.5 63V64M49.5 88V89M49.5 105V106M49.5 111V112M49.5 138V139M50.5 54V55M50.5 108V110M50.5 136V137M51.5 15V16M51.5 19V20M51.5 24V25M51.5 55V56M51.5 81V82M51.5 90V91M51.5 113V114M51.5 159V160M51.5 178V179M52.5 9V10M52.5 11V12M52.5 40V41M52.5 85V86M52.5 128V129M52.5 190V191M53.5 46V47M53.5 70V71M53.5 99V100M53.5 122V123M53.5 128V129M53.5 141V142M53.5 143V144M53.5 158V159M53.5 173V175M54.5 22V23M54.5 32V33M54.5 38V39M54.5 45V46M54.5 89V90M54.5 157V158M54.5 171V174M54.5 198V199M55.5 11V12M55.5 16V18M55.5 37V38M55.5 53V55M55.5 64V65M55.5 77V78M55.5 92V94M55.5 172V173M56.5 28V29M56.5 38V39M56.5 137V138M56.5 161V162M56.5 169V170M57.5 17V18M57.5 19V20M57.5 57V58M57.5 82V83M57.5 91V92M57.5 97V98M57.5 110V111M57.5 140V141M57.5 143V144M57.5 170V171M57.5 172V173M57.5 192V194M58.5 34V36M58.5 40V41M58.5 55V57M58.5 85V86M58.5 99V100M58.5 106V107M58.5 122V123M58.5 146V148M58.5 157V158M58.5 163V164M58.5 188V189M59.5 8V9M59.5 10V11M59.5 31V32M59.5 62V63M59.5 70V71M59.5 87V88M59.5 104V105M59.5 112V113M59.5 128V129M59.5 176V177M59.5 193V195M60.5 26V27M60.5 58V59M60.5 84V85M60.5 103V104M60.5 148V149M60.5 155V156M60.5 179V180M61.5 22V23M61.5 27V28M61.5 113V114M61.5 191V192M62.5 10V11M62.5 28V30M62.5 65V66M62.5 89V90M62.5 112V113M62.5 116V117M62.5 126V127M62.5 164V165M63.5 14V15M63.5 28V30M63.5 44V45M63.5 59V60M63.5 85V87M63.5 90V91M63.5 96V97M63.5 101V102M63.5 108V109M64.5 43V44M64.5 74V75M64.5 93V94M64.5 115V116M64.5 128V129M64.5 173V174M64.5 183V184M64.5 196V197M65.5 8V9M65.5 23V24M65.5 47V48M65.5 82V83M65.5 147V148M65.5 162V163M65.5 191V192M66.5 6V7M66.5 20V21M66.5 60V61M66.5 62V63M66.5 68V69M66.5 72V73M66.5 83V85M66.5 181V182M66.5 194V195M67.5 14V15M67.5 34V35M67.5 42V43M67.5 79V80M67.5 81V82M67.5 142V143M67.5 176V178M68.5 9V10M68.5 11V12M68.5 29V30M68.5 34V35M68.5 92V93M68.5 99V100M68.5 144V145M68.5 170V171M69.5 14V15M69.5 19V20M69.5 31V32M69.5 37V39M69.5 42V43M69.5 53V54M69.5 61V62M69.5 70V71M69.5 72V73M69.5 111V112M69.5 117V118M69.5 124V125M69.5 180V181M70.5 10V11M70.5 15V16M70.5 34V35M70.5 44V45M70.5 49V51M70.5 54V55M70.5 143V144M70.5 170V172M71.5 14V15M71.5 43V44M71.5 63V64M71.5 70V72M71.5 89V91M71.5 176V178M72.5 18V19M72.5 30V31M72.5 34V35M72.5 36V37M72.5 48V49M72.5 57V58M72.5 129V130M72.5 141V142M73.5 29V30M73.5 83V84M73.5 133V134M73.5 147V148M73.5 150V151M73.5 195V196M74.5 29V30M74.5 50V51M74.5 56V58M74.5 170V171M75.5 39V40M75.5 48V49M75.5 74V75M75.5 136V137M75.5 159V160M76.5 18V19M76.5 20V21M76.5 36V37M76.5 38V39M76.5 44V45M76.5 49V50M76.5 82V83M76.5 88V89M76.5 93V94M76.5 99V100M76.5 128V129M76.5 169V170M77.5 6V7M77.5 13V14M77.5 15V16M77.5 39V40M77.5 46V47M77.5 56V58M77.5 71V72M77.5 86V87M77.5 93V94M77.5 122V123M77.5 130V131M77.5 182V183M78.5 17V18M78.5 32V33M78.5 35V36M78.5 53V54M78.5 78V79M78.5 80V81M78.5 99V100M78.5 103V104M78.5 154V155M79.5 19V20M79.5 28V29M79.5 62V63M79.5 70V71M79.5 111V112M79.5 120V121M79.5 188V189M80.5 15V16M80.5 78V79M80.5 87V88M80.5 93V94M80.5 103V104M80.5 136V137M80.5 142V144M80.5 157V158M80.5 176V177M81.5 35V36M81.5 99V100M81.5 112V113M81.5 133V134M82.5 17V18M82.5 24V25M82.5 46V47M82.5 63V64M82.5 112V113M82.5 117V119M82.5 138V139M82.5 165V166M82.5 194V195M83.5 42V43M83.5 73V75M83.5 91V92M83.5 120V122M83.5 140V142M83.5 168V169M84.5 38V40M84.5 65V66M84.5 75V76M85.5 6V8M85.5 25V26M85.5 32V33M85.5 38V39M85.5 107V108M85.5 135V136M85.5 149V150M85.5 172V174M85.5 182V183M85.5 201V202M86.5 13V14M86.5 16V17M86.5 31V33M86.5 42V43M86.5 102V103M87.5 28V29M87.5 38V39M87.5 53V54M87.5 55V56M87.5 99V100M87.5 124V125M87.5 143V144M87.5 156V157M88.5 15V16M88.5 30V31M88.5 49V50M88.5 57V59M88.5 94V96M88.5 151V152M88.5 158V159M88.5 189V190M89.5 14V15M89.5 24V25M89.5 34V35M89.5 118V119M89.5 124V125M89.5 126V127M89.5 131V132M89.5 165V166M90.5 41V42M90.5 57V58M90.5 113V114M90.5 200V201M91.5 30V31M91.5 37V38M91.5 48V49M91.5 89V90M91.5 140V141M91.5 145V146M91.5 152V153M91.5 159V160M91.5 168V170M91.5 191V193M92.5 25V26M92.5 30V31M92.5 73V74M92.5 85V86M92.5 93V94M92.5 99V100M92.5 164V165M92.5 166V167M93.5 9V10M93.5 62V63M93.5 65V66M93.5 128V129M93.5 167V168M93.5 183V184M93.5 189V190M94.5 9V10M94.5 29V30M94.5 31V32M94.5 83V85M94.5 126V127M94.5 164V165M95.5 33V34M95.5 39V40M95.5 111V112M95.5 117V119M95.5 142V143M96.5 24V25M96.5 30V31M96.5 44V45M96.5 62V63M96.5 95V96M96.5 101V102M96.5 137V138M96.5 155V156M96.5 174V175M96.5 194V196M97.5 13V14M97.5 24V25M97.5 50V51M97.5 60V61M97.5 67V68M97.5 90V91M97.5 102V103M97.5 121V122M98.5 17V18M98.5 19V20M98.5 29V31M98.5 35V36M98.5 51V52M98.5 77V78M98.5 93V94M98.5 111V112M98.5 119V120M98.5 155V156M98.5 162V163M98.5 177V178M98.5 193V194M99.5 11V12M99.5 21V22M99.5 50V51M99.5 69V70M99.5 84V85M99.5 106V107M99.5 108V109M99.5 115V116M100.5 54V55M100.5 72V73M100.5 83V84M100.5 92V93M100.5 198V199M101.5 84V85M101.5 96V97M101.5 108V109M101.5 123V125M101.5 136V138M102.5 91V93M102.5 97V98M102.5 109V110M102.5 120V121M102.5 170V172M102.5 188V189M103.5 17V18M103.5 44V45M103.5 54V55M103.5 63V64M103.5 93V94M103.5 98V99M103.5 112V113M103.5 124V126M103.5 135V136M103.5 140V141M103.5 185V186M104.5 9V10M104.5 32V33M104.5 93V94M104.5 103V104M104.5 116V117M104.5 167V168M104.5 170V171M105.5 11V13M105.5 18V19M105.5 36V38M105.5 55V56M105.5 82V83M105.5 133V134M105.5 138V139M106.5 11V12M106.5 20V21M106.5 26V28M106.5 34V35M106.5 39V40M106.5 49V50M106.5 88V89M106.5 147V148M106.5 156V157M106.5 167V168M107.5 49V50M107.5 96V97M107.5 109V110M107.5 119V120M107.5 124V126M107.5 131V132M107.5 140V141M107.5 152V153M107.5 167V168M108.5 35V36M108.5 78V79M108.5 91V92M108.5 93V94M108.5 111V113M108.5 143V144M109.5 23V24M109.5 54V55M109.5 86V87M109.5 133V134M109.5 139V140M110.5 58V60M110.5 69V70M110.5 81V82M110.5 86V87M110.5 101V102M110.5 123V124M110.5 152V153M110.5 165V168M111.5 9V10M111.5 29V30M111.5 71V72M111.5 102V103M111.5 111V112M111.5 126V127M111.5 132V133M111.5 166V167M111.5 202V203M112.5 29V30M112.5 51V53M112.5 99V100M112.5 107V108M112.5 152V153M112.5 201V202M113.5 36V37M113.5 42V43M113.5 76V77M113.5 122V123M113.5 147V149M114.5 39V40M114.5 96V97M114.5 156V157M115.5 34V35M115.5 64V65M115.5 72V73M115.5 74V75M115.5 76V77M115.5 98V99M115.5 106V107M115.5 117V118M115.5 138V139M115.5 159V161M115.5 164V165M115.5 174V176M115.5 194V195M116.5 27V28M116.5 37V38M116.5 45V46M116.5 62V63M116.5 122V123M116.5 136V138M116.5 144V145M116.5 160V161M116.5 191V192M117.5 7V8M117.5 15V16M117.5 18V19M117.5 43V45M117.5 57V58M117.5 67V68M117.5 73V74M117.5 99V100M117.5 120V121M117.5 160V161M118.5 7V9M118.5 52V53M118.5 60V61M118.5 108V109M118.5 139V140M119.5 9V10M119.5 32V33M119.5 51V52M119.5 78V79M120.5 22V23M120.5 24V25M120.5 36V37M120.5 43V44M120.5 76V77M120.5 133V134M120.5 153V154M120.5 164V165M120.5 179V180M120.5 195V196M121.5 19V20M121.5 21V22M121.5 53V54M121.5 70V71M121.5 82V83M121.5 107V108M121.5 159V160M121.5 167V169M121.5 172V173M121.5 186V187M122.5 45V46M122.5 47V48M122.5 93V94M122.5 103V104M122.5 131V132M122.5 165V166M123.5 15V16M123.5 27V28M123.5 49V50M123.5 70V71M123.5 111V112M123.5 183V185M124.5 10V11M124.5 51V52M124.5 65V66M124.5 77V78M125.5 35V36M125.5 47V48M125.5 93V94M126.5 30V31M126.5 41V42M126.5 68V69M126.5 102V103M126.5 108V110M127.5 23V24M127.5 29V30M127.5 126V127M127.5 138V139M128.5 21V22M128.5 151V152M128.5 177V178M128.5 183V184M129.5 7V8M129.5 13V14M129.5 33V34M129.5 48V49M129.5 55V56M129.5 79V80M129.5 192V193M129.5 202V203M130.5 26V27M130.5 38V39M130.5 40V41M130.5 79V80M130.5 180V181M130.5 199V200M131.5 25V26M131.5 30V31M131.5 34V35M131.5 39V40M131.5 72V73M131.5 74V75M131.5 181V182M132.5 40V42M132.5 83V84M132.5 87V88M133.5 18V19M133.5 120V121M133.5 132V133M133.5 184V185M134.5 11V12M134.5 18V19M134.5 24V25M134.5 42V43M134.5 54V55M134.5 116V117M134.5 125V126M134.5 180V181M135.5 13V14M135.5 24V25M135.5 33V34M135.5 37V38M135.5 53V54M135.5 61V62M135.5 86V87M135.5 142V143M135.5 148V149M135.5 164V165M136.5 28V29M136.5 57V58M136.5 63V64M136.5 89V90M136.5 160V161M136.5 175V176M137.5 13V14M137.5 82V83M137.5 104V105M137.5 108V109M137.5 157V158M137.5 171V172M138.5 29V30M138.5 64V65M138.5 79V80M138.5 98V99M138.5 113V114M138.5 156V157M138.5 165V166M138.5 190V191M139.5 15V16M139.5 51V53M139.5 57V58M139.5 62V63M139.5 104V105M139.5 118V119M139.5 134V135M139.5 162V163M139.5 187V188M140.5 12V13M140.5 23V24M140.5 48V49M140.5 55V56M140.5 108V109M140.5 125V126M140.5 139V140M140.5 147V148M140.5 184V185M141.5 16V17M141.5 92V93M141.5 104V106M141.5 111V112M141.5 123V124M142.5 10V11M142.5 19V20M142.5 55V56M142.5 60V61M142.5 128V129M142.5 156V157M142.5 169V170M143.5 8V9M143.5 38V39M143.5 51V52M143.5 57V59M143.5 70V71M143.5 120V121M144.5 9V10M144.5 22V23M144.5 41V42M144.5 73V75M144.5 132V133M145.5 25V26M145.5 33V34M145.5 53V54M145.5 113V114M145.5 137V138M145.5 158V159M146.5 95V96M146.5 121V122M146.5 197V198M147.5 29V30M147.5 34V35M147.5 42V44M147.5 47V48M147.5 51V52M147.5 133V134M147.5 162V163M147.5 168V169M147.5 187V188M148.5 21V22M148.5 38V40M148.5 75V76M148.5 89V90M148.5 144V145M148.5 157V159M148.5 202V203M149.5 27V28M149.5 131V133M149.5 151V153M150.5 10V11M150.5 51V52M150.5 87V88M150.5 107V108M150.5 169V170M150.5 180V181M151.5 42V43M151.5 65V67M151.5 171V173M151.5 178V179M152.5 22V23M152.5 26V27M152.5 53V54M152.5 106V107M153.5 8V9M153.5 34V35M153.5 41V42M153.5 86V87M153.5 91V92M153.5 107V108M154.5 25V26M154.5 36V37M154.5 58V60M154.5 73V74M154.5 79V80M154.5 87V88M154.5 100V101M154.5 129V130M154.5 168V169M155.5 17V18M155.5 29V30M155.5 35V36M155.5 52V53M155.5 57V58M155.5 63V64M155.5 90V91M155.5 119V121M155.5 153V154M155.5 179V180M155.5 181V182M156.5 16V17M156.5 23V25M156.5 42V43M156.5 74V75M156.5 116V117M156.5 128V129M156.5 184V185M157.5 24V25M157.5 28V29M157.5 37V38M157.5 71V73M157.5 79V80M157.5 105V106M157.5 127V128M157.5 168V169M157.5 174V175M158.5 40V41M158.5 47V48M158.5 62V63M158.5 69V70M158.5 82V83M158.5 89V90M158.5 95V96M158.5 109V110M158.5 127V128M158.5 165V166M158.5 171V172M158.5 189V190M159.5 12V13M159.5 52V54M159.5 58V59M159.5 110V111M160.5 61V62M160.5 97V98M160.5 108V109M160.5 114V115M160.5 120V121M160.5 191V192M161.5 11V12M161.5 28V29M161.5 44V45M161.5 46V47M161.5 131V132M161.5 141V142M161.5 177V178M162.5 22V23M162.5 35V36M162.5 52V53M162.5 54V55M162.5 65V66M162.5 92V93M162.5 98V99M162.5 106V108M162.5 130V131M162.5 144V145M162.5 160V162M162.5 173V175M162.5 185V186M162.5 193V194M162.5 199V200M163.5 7V8M163.5 13V14M163.5 30V31M163.5 37V38M163.5 51V52M163.5 56V57M163.5 66V67M163.5 202V203M164.5 25V26M164.5 73V74M164.5 80V81M164.5 91V92M164.5 104V105M164.5 123V125M165.5 35V37M165.5 44V45M165.5 78V79M165.5 126V127M165.5 145V146M165.5 192V196M166.5 56V57M166.5 123V124M166.5 137V138M166.5 176V177M167.5 8V9M167.5 20V21M167.5 37V38M167.5 49V50M167.5 65V66M167.5 116V117M167.5 138V139M167.5 149V150M167.5 165V166M167.5 189V190M167.5 192V193M168.5 11V12M168.5 34V35M168.5 90V91M168.5 164V165M169.5 14V15M169.5 44V46M169.5 56V57M169.5 61V62M169.5 110V111M169.5 130V131M169.5 166V167M169.5 188V189M169.5 191V192M170.5 19V20M170.5 77V78M170.5 103V104M170.5 106V107M170.5 133V134M170.5 159V160M170.5 189V190M171.5 8V9M171.5 37V38M171.5 62V63M171.5 75V77M171.5 94V95M171.5 103V104M171.5 113V115M171.5 116V117M171.5 159V160M171.5 167V169M171.5 198V199M172.5 13V14M172.5 23V24M172.5 45V46M172.5 54V55M172.5 98V99M172.5 151V153M172.5 190V191M172.5 202V203M173.5 6V7M173.5 17V19M173.5 25V26M173.5 30V32M173.5 71V72M173.5 80V81M173.5 97V98M173.5 109V110M173.5 120V121M173.5 126V127M173.5 154V155M173.5 164V165M173.5 174V175M174.5 35V36M174.5 74V75M174.5 117V118M174.5 189V190M174.5 192V193M174.5 200V201M175.5 6V7M175.5 18V19M175.5 45V46M175.5 79V80M175.5 87V89M175.5 91V92M175.5 161V162M175.5 174V175M176.5 23V24M176.5 25V26M176.5 42V43M176.5 62V64M176.5 102V103M176.5 164V165M176.5 177V178M176.5 186V187M176.5 192V193M176.5 194V195M177.5 9V10M177.5 18V19M177.5 22V23M177.5 38V39M177.5 71V72M177.5 87V88M177.5 105V106M177.5 145V147M177.5 179V180M178.5 13V14M178.5 21V22M178.5 29V30M178.5 38V40M178.5 96V97M178.5 109V110M178.5 161V162M178.5 173V174M178.5 202V203M179.5 45V46M179.5 57V58M179.5 84V85M179.5 94V95M179.5 113V114M179.5 120V121M179.5 140V141M179.5 157V158M179.5 169V170M179.5 177V178M179.5 190V191M180.5 12V13M180.5 58V60M180.5 85V86M180.5 94V95M180.5 134V136M180.5 173V175M180.5 192V195M181.5 24V25M181.5 29V30M181.5 43V44M181.5 55V56M181.5 178V179M181.5 184V185M181.5 196V197M181.5 199V200M182.5 7V9M182.5 11V12M182.5 27V28M182.5 41V43M182.5 47V48M182.5 71V72M182.5 150V152M182.5 165V166M183.5 18V19M183.5 30V31M183.5 40V41M183.5 85V86M183.5 101V103M183.5 129V130M183.5 137V138M183.5 147V148M184.5 12V13M184.5 55V56M184.5 118V119M184.5 124V125M184.5 144V145M184.5 150V152M185.5 16V17M185.5 24V25M185.5 27V28M185.5 59V60M185.5 78V79M185.5 85V86M185.5 96V97M185.5 111V112M185.5 119V120M185.5 152V153M186.5 29V30M186.5 62V64M186.5 76V77M186.5 86V87M186.5 104V105M186.5 114V115M186.5 120V121M186.5 199V200M187.5 28V29M187.5 49V50M187.5 63V64M187.5 84V85M187.5 87V88M187.5 119V120M187.5 124V125M187.5 129V130M188.5 31V32M188.5 41V42M188.5 68V69M188.5 121V122M188.5 126V128M188.5 154V155M188.5 174V175M188.5 198V199M189.5 34V35M189.5 73V74M189.5 83V85M189.5 100V101M189.5 114V115M189.5 194V195M190.5 33V34M190.5 37V38M190.5 146V147M190.5 191V192M191.5 21V22M191.5 36V37M191.5 81V82M191.5 89V90M192.5 51V52M192.5 58V59M192.5 119V120M193.5 13V14M193.5 19V20M193.5 32V33M193.5 49V50M193.5 56V58M193.5 88V89M193.5 108V109M193.5 112V113M193.5 133V134M193.5 197V198M194.5 23V24M194.5 28V29M194.5 53V54M194.5 62V63M194.5 126V127M194.5 161V162M195.5 15V16M195.5 24V25M195.5 38V39M195.5 111V112M195.5 118V119M195.5 125V126M195.5 152V153M195.5 163V165M195.5 171V172M196.5 14V15M196.5 21V23M196.5 29V30M196.5 45V46M196.5 50V51M196.5 82V83M196.5 89V90M196.5 151V152M196.5 167V168M197.5 84V85M197.5 88V89M197.5 119V121M197.5 122V123M197.5 137V138M197.5 155V156M197.5 163V165M197.5 170V171M197.5 184V185M198.5 6V7M198.5 43V44M198.5 67V68M198.5 79V80M198.5 159V160M199.5 10V11M199.5 69V71M199.5 114V115M199.5 125V126M199.5 133V135M200.5 10V11M200.5 74V75M200.5 118V119M200.5 136V137M200.5 170V172M200.5 190V191M201.5 13V14M201.5 36V38M201.5 110V111M201.5 133V135M201.5 145V146M201.5 193V194M201.5 199V200"/>
<path stroke="#cccccc" d="M0.5 18V19M0.5 39V40M0.5 47V49M0.5 152V153M1.5 37V38M1.5 79V80M3.5 40V41M3.5 47V48M3.5 76V77M3.5 106V107M4.5 36V37M4.5 51V52M4.5 74V75M4.5 86V87M4.5 125V126M4.5 127V128M5.5 20V21M5.5 32V33M5.5 133V134M6.5 12V13M6.5 45V47M6.5 69V70M6.5 71V72M6.5 76V77M6.5 130V131M7.5 14V15M7.5 104V105M7.5 117V118M8.5 64V66M9.5 11V13M9.5 44V46M9.5 50V51M9.5 61V62M9.5 81V82M9.5 116V117M10.5 8V9M10.5 29V30M10.5 92V93M10.5 98V99M10.5 123V124M11.5 9V10M11.5 121V122M12.5 41V42M12.5 48V49M12.5 67V68M13.5 22V23M13.5 24V25M13.5 69V70M13.5 119V120M14.5 32V33M14.5 38V39M14.5 109V110M15.5 37V38M16.5 27V28M16.5 46V48M16.5 63V64M16.5 79V80M16.5 109V111M16.5 199V201M17.5 15V16M17.5 44V45M17.5 68V69M17.5 107V108M17.5 179V181M17.5 192V193M17.5 195V196M18.5 23V24M18.5 39V40M18.5 72V73M18.5 174V175M19.5 36V37M19.5 41V43M19.5 67V69M20.5 43V44M20.5 80V81M20.5 102V103M20.5 163V165M20.5 186V187M20.5 188V189M21.5 14V15M21.5 23V24M21.5 66V67M21.5 109V110M21.5 119V120M21.5 157V158M21.5 170V172M21.5 187V188M22.5 9V10M22.5 49V50M22.5 54V55M22.5 112V113M22.5 183V184M23.5 29V30M23.5 75V76M23.5 88V89M23.5 94V95M23.5 151V152M23.5 182V183M23.5 185V186M24.5 111V112M24.5 181V182M24.5 184V185M25.5 10V11M25.5 33V35M25.5 74V75M25.5 141V142M25.5 153V154M25.5 181V182M25.5 183V184M26.5 13V14M26.5 39V40M26.5 105V106M26.5 119V120M27.5 20V21M27.5 35V36M27.5 135V136M28.5 16V17M28.5 33V34M28.5 78V79M28.5 179V182M29.5 143V144M29.5 179V181M30.5 12V13M31.5 28V29M31.5 61V62M31.5 67V69M31.5 181V182M32.5 18V19M32.5 45V46M32.5 82V83M32.5 180V181M33.5 6V7M33.5 14V16M33.5 71V72M33.5 92V93M33.5 110V111M33.5 122V123M33.5 138V139M33.5 147V148M33.5 182V183M34.5 53V54M34.5 68V69M34.5 115V116M34.5 121V122M34.5 141V142M34.5 182V183M35.5 22V23M35.5 106V107M35.5 182V184M36.5 35V36M36.5 159V160M37.5 12V13M37.5 22V24M37.5 60V61M37.5 101V102M37.5 129V130M37.5 162V163M37.5 183V184M37.5 186V187M38.5 21V22M38.5 28V29M38.5 33V34M38.5 73V75M38.5 185V186M39.5 32V33M39.5 61V62M39.5 86V87M39.5 160V161M39.5 189V191M40.5 175V176M40.5 191V192M41.5 22V23M41.5 26V27M41.5 69V70M41.5 79V80M41.5 114V115M42.5 30V31M42.5 49V51M42.5 117V118M43.5 32V33M43.5 84V85M43.5 133V134M43.5 171V172M43.5 173V174M43.5 177V178M44.5 18V19M44.5 31V32M44.5 100V101M44.5 143V144M44.5 182V183M44.5 194V195M45.5 28V29M45.5 62V63M45.5 114V115M45.5 126V127M45.5 167V168M46.5 9V10M46.5 13V14M46.5 19V20M46.5 46V47M46.5 67V68M46.5 109V110M46.5 165V167M47.5 28V29M47.5 35V36M47.5 42V43M47.5 51V52M47.5 62V63M48.5 12V13M48.5 115V116M48.5 132V133M48.5 164V165M49.5 36V37M49.5 62V63M49.5 84V86M49.5 187V188M50.5 65V66M50.5 81V83M50.5 159V162M50.5 173V174M51.5 6V7M51.5 29V30M51.5 31V32M51.5 43V44M52.5 26V27M52.5 51V53M52.5 126V127M52.5 175V176M53.5 10V11M53.5 68V69M53.5 157V158M54.5 11V12M54.5 25V26M54.5 36V37M54.5 44V45M54.5 80V81M54.5 97V98M54.5 105V106M54.5 145V146M54.5 158V159M55.5 26V28M55.5 61V62M55.5 65V66M55.5 82V83M55.5 109V110M55.5 148V149M55.5 159V160M55.5 171V172M56.5 15V16M56.5 23V24M56.5 151V152M56.5 158V159M57.5 18V19M57.5 37V38M57.5 56V57M57.5 159V160M58.5 27V28M58.5 49V50M58.5 123V124M58.5 169V170M58.5 189V190M58.5 197V198M59.5 47V48M59.5 60V61M60.5 53V54M60.5 98V99M61.5 33V35M61.5 124V125M61.5 190V191M62.5 8V9M62.5 35V37M62.5 72V73M62.5 88V89M62.5 98V99M62.5 111V112M62.5 127V128M63.5 7V8M63.5 69V70M63.5 74V75M63.5 181V182M64.5 30V31M64.5 50V51M64.5 142V143M64.5 169V170M64.5 197V198M65.5 45V46M65.5 48V49M65.5 157V158M66.5 78V79M67.5 12V13M67.5 15V16M67.5 35V37M67.5 51V52M67.5 80V81M68.5 10V11M68.5 75V76M68.5 91V92M68.5 145V146M68.5 176V177M69.5 15V16M69.5 32V33M69.5 95V97M70.5 51V52M70.5 53V54M70.5 156V157M71.5 47V48M71.5 56V57M72.5 24V25M72.5 29V30M72.5 47V48M72.5 78V79M72.5 84V85M73.5 145V147M73.5 161V162M74.5 13V14M74.5 24V25M74.5 61V62M74.5 111V112M74.5 137V138M75.5 119V120M75.5 132V133M76.5 11V12M76.5 37V38M76.5 43V44M76.5 50V51M76.5 87V88M76.5 110V111M76.5 158V159M77.5 16V17M77.5 35V36M77.5 47V48M77.5 155V156M78.5 12V13M78.5 15V16M78.5 31V32M78.5 37V38M78.5 54V55M78.5 72V73M78.5 89V90M78.5 156V157M79.5 29V30M79.5 47V48M79.5 76V77M79.5 154V155M80.5 13V14M80.5 49V50M80.5 92V93M80.5 105V106M81.5 15V16M81.5 34V35M81.5 49V50M81.5 85V86M81.5 127V128M81.5 132V133M81.5 155V156M82.5 9V10M82.5 18V19M82.5 35V36M82.5 52V53M82.5 82V83M82.5 122V123M82.5 164V165M83.5 11V12M83.5 20V21M83.5 29V30M83.5 50V51M83.5 56V57M84.5 9V10M84.5 17V18M84.5 23V24M84.5 31V32M84.5 91V92M84.5 124V125M85.5 14V16M85.5 24V25M86.5 74V75M86.5 83V84M87.5 10V11M87.5 22V23M87.5 69V70M88.5 17V18M88.5 22V23M88.5 36V37M88.5 138V139M89.5 23V24M89.5 80V81M89.5 125V126M90.5 16V17M90.5 26V27M90.5 120V121M91.5 16V17M91.5 27V28M91.5 66V67M91.5 82V83M91.5 103V104M91.5 105V106M91.5 146V147M92.5 33V34M92.5 148V149M92.5 165V166M93.5 8V9M93.5 18V19M93.5 76V77M93.5 102V103M93.5 175V177M94.5 11V12M94.5 35V36M94.5 76V77M94.5 114V115M95.5 22V23M95.5 26V27M95.5 28V29M95.5 101V102M96.5 18V19M96.5 29V30M96.5 38V39M96.5 43V44M97.5 76V77M98.5 52V53M98.5 68V69M98.5 79V80M98.5 94V95M98.5 103V104M98.5 112V113M98.5 176V177M98.5 187V188M98.5 192V193M99.5 17V18M99.5 36V37M99.5 59V60M99.5 68V69M99.5 81V82M99.5 107V108M100.5 20V22M100.5 32V33M100.5 53V54M100.5 68V69M100.5 171V172M101.5 33V34M101.5 102V103M101.5 109V110M102.5 24V25M102.5 74V75M102.5 89V90M102.5 98V99M102.5 110V111M102.5 131V132M103.5 6V7M103.5 21V22M103.5 45V46M103.5 62V63M103.5 80V81M103.5 113V114M103.5 169V170M104.5 20V21M104.5 25V26M104.5 80V81M105.5 17V18M105.5 71V72M105.5 87V88M105.5 200V202M106.5 9V10M106.5 102V103M106.5 168V169M107.5 9V10M107.5 15V16M107.5 22V23M108.5 16V17M108.5 92V93M108.5 100V101M108.5 114V115M108.5 144V145M109.5 102V103M109.5 105V106M109.5 118V119M110.5 33V34M110.5 70V71M111.5 28V29M111.5 81V82M111.5 103V104M111.5 115V116M111.5 165V166M112.5 21V22M112.5 81V82M112.5 114V115M112.5 118V119M112.5 134V135M112.5 151V152M112.5 166V168M113.5 140V141M114.5 19V20M114.5 88V89M114.5 114V115M114.5 169V170M114.5 171V172M115.5 32V34M115.5 56V58M115.5 75V76M115.5 99V100M115.5 126V127M115.5 137V138M115.5 150V151M115.5 154V155M116.5 7V8M116.5 16V17M116.5 29V30M116.5 46V47M116.5 63V64M116.5 68V69M116.5 140V141M116.5 154V155M117.5 149V150M118.5 14V15M118.5 21V22M118.5 53V54M118.5 169V170M119.5 16V18M119.5 21V22M119.5 68V70M119.5 176V177M120.5 41V42M120.5 49V50M120.5 166V167M120.5 169V170M121.5 13V14M121.5 39V40M122.5 11V12M122.5 46V47M122.5 177V178M122.5 181V182M122.5 192V193M122.5 195V196M123.5 58V59M124.5 56V57M124.5 68V69M124.5 71V72M125.5 7V8M125.5 13V14M125.5 36V37M125.5 53V54M125.5 63V65M126.5 196V197M127.5 70V73M127.5 75V76M127.5 81V82M127.5 86V87M128.5 39V40M128.5 150V151M129.5 77V78M130.5 33V34M130.5 68V69M130.5 76V77M130.5 186V187M131.5 31V32M131.5 53V54M131.5 82V83M132.5 12V13M132.5 22V23M132.5 27V28M132.5 69V70M132.5 105V106M132.5 177V179M132.5 189V190M132.5 191V192M133.5 33V34M133.5 56V57M133.5 68V69M133.5 87V88M133.5 133V134M133.5 174V175M134.5 36V37M135.5 14V15M135.5 87V88M136.5 98V99M136.5 100V101M136.5 103V104M136.5 127V129M136.5 172V173M137.5 42V43M137.5 93V94M138.5 7V9M138.5 30V31M138.5 109V110M138.5 154V155M139.5 10V11M139.5 22V23M139.5 46V48M139.5 91V92M139.5 98V99M139.5 115V116M139.5 151V152M140.5 43V44M140.5 123V124M140.5 149V150M140.5 162V163M141.5 7V8M141.5 51V52M141.5 58V59M141.5 129V131M141.5 146V148M142.5 145V146M143.5 121V122M143.5 151V152M144.5 6V7M144.5 10V11M144.5 40V41M144.5 117V118M144.5 137V138M144.5 150V151M145.5 103V104M145.5 114V115M145.5 149V150M146.5 10V11M146.5 18V19M146.5 101V102M146.5 136V137M146.5 145V146M147.5 8V9M147.5 52V53M147.5 93V94M147.5 126V127M147.5 132V133M148.5 30V31M148.5 103V105M148.5 184V185M149.5 13V14M149.5 20V21M149.5 143V146M150.5 25V26M150.5 86V87M150.5 96V97M150.5 131V132M150.5 153V154M150.5 181V182M151.5 32V33M151.5 41V42M151.5 58V59M151.5 72V73M151.5 92V93M151.5 141V142M151.5 177V178M152.5 100V101M152.5 139V140M153.5 25V26M153.5 27V28M153.5 33V34M153.5 85V86M153.5 102V103M153.5 129V130M153.5 137V138M153.5 139V140M154.5 10V11M154.5 99V100M154.5 112V113M155.5 13V14M155.5 18V19M155.5 34V35M155.5 41V42M155.5 46V47M155.5 127V129M156.5 17V18M156.5 126V127M157.5 12V13M157.5 25V26M157.5 27V28M157.5 100V101M157.5 112V114M157.5 129V130M158.5 12V13M158.5 20V21M158.5 35V36M158.5 63V64M158.5 83V84M158.5 183V184M158.5 190V191M159.5 41V42M159.5 59V60M159.5 65V66M159.5 111V112M159.5 187V188M159.5 192V193M160.5 37V38M160.5 86V87M160.5 130V131M160.5 154V155M160.5 190V191M160.5 196V197M161.5 13V16M161.5 45V46M161.5 57V59M161.5 94V95M161.5 104V105M162.5 29V30M162.5 34V35M162.5 41V42M162.5 53V54M162.5 141V142M162.5 167V168M162.5 186V187M163.5 77V78M163.5 153V154M164.5 13V14M164.5 26V28M164.5 32V33M164.5 195V196M165.5 6V7M165.5 29V30M165.5 53V55M165.5 147V148M166.5 8V9M166.5 41V42M166.5 55V56M166.5 83V85M166.5 138V139M166.5 191V192M167.5 23V24M167.5 32V33M167.5 48V49M167.5 118V119M167.5 150V151M167.5 164V165M168.5 12V13M168.5 19V20M168.5 35V36M168.5 48V49M168.5 123V124M168.5 189V190M168.5 192V193M169.5 73V74M169.5 79V80M169.5 107V108M169.5 122V123M169.5 156V157M169.5 193V194M170.5 15V16M170.5 20V21M170.5 72V73M170.5 105V106M170.5 118V119M170.5 158V159M171.5 6V7M171.5 19V20M171.5 23V25M171.5 36V37M171.5 40V41M171.5 56V57M171.5 102V103M171.5 112V113M171.5 149V150M172.5 8V9M172.5 12V13M172.5 24V25M172.5 40V41M172.5 44V45M172.5 99V100M172.5 109V110M173.5 12V13M173.5 26V27M173.5 79V80M173.5 166V167M173.5 190V191M173.5 192V193M174.5 104V105M174.5 157V158M174.5 168V169M175.5 33V34M175.5 39V40M175.5 162V163M175.5 182V183M176.5 11V12M176.5 48V50M176.5 56V58M176.5 88V89M176.5 100V101M176.5 193V194M177.5 11V12M177.5 47V48M177.5 79V80M177.5 104V105M178.5 12V13M178.5 31V32M178.5 88V89M179.5 26V27M179.5 44V45M179.5 106V107M179.5 158V159M179.5 163V164M179.5 188V189M180.5 23V24M180.5 41V42M180.5 65V66M180.5 84V85M180.5 104V105M180.5 109V111M181.5 7V9M181.5 31V32M181.5 37V39M181.5 74V75M181.5 101V102M181.5 114V115M182.5 18V20M182.5 84V85M183.5 10V11M183.5 93V94M183.5 128V129M184.5 21V22M184.5 28V29M184.5 48V49M184.5 53V54M184.5 93V94M184.5 125V126M184.5 190V191M185.5 23V24M185.5 58V59M186.5 75V76M187.5 13V14M187.5 23V24M187.5 79V80M187.5 97V98M187.5 106V107M187.5 118V119M187.5 130V131M187.5 136V138M188.5 40V41M188.5 59V61M188.5 69V70M188.5 96V97M188.5 108V109M189.5 15V16M189.5 35V37M189.5 43V44M189.5 98V100M190.5 20V21M190.5 26V27M190.5 101V102M190.5 176V178M190.5 185V186M191.5 101V102M191.5 104V105M192.5 20V21M192.5 25V26M192.5 59V60M192.5 92V93M193.5 14V15M193.5 97V98M194.5 33V34M194.5 61V62M194.5 111V112M195.5 8V9M195.5 17V18M195.5 39V40M195.5 139V140M195.5 157V158M196.5 152V153M197.5 12V14M197.5 17V18M197.5 28V29M197.5 41V42M197.5 109V110M198.5 22V23M198.5 28V29M198.5 37V38M198.5 50V51M198.5 72V73M198.5 85V86M198.5 112V113M198.5 124V125M198.5 160V161M199.5 12V13M199.5 20V21M199.5 32V33M199.5 41V42M199.5 76V78M199.5 81V82M200.5 18V19M200.5 37V38M200.5 64V65M200.5 121V122M200.5 132V133M200.5 197V198M201.5 14V15M201.5 20V21M201.5 116V118M201.5 137V138M201.5 174V175M201.5 194V195M201.5 200V201"/>
<path stroke="#dddddd" d="M0.5 41V42M0.5 140V142M1.5 42V43M1.5 149V150M3.5 41V42M3.5 83V85M3.5 128V129M3.5 140V142M4.5 7V8M4.5 9V10M4.5 17V18M4.5 126V127M5.5 6V8M5.5 33V34M5.5 48V49M5.5 124V125M7.5 15V16M7.5 40V41M7.5 72V73M7.5 119V120M7.5 130V131M8.5 8V9M8.5 128V129M9.5 7V8M9.5 25V26M9.5 60V61M10.5 19V20M10.5 21V22M11.5 40V41M11.5 50V51M11.5 52V53M11.5 112V113M12.5 9V10M12.5 18V19M12.5 24V26M12.5 29V30M12.5 37V38M12.5 47V48M12.5 122V123M13.5 91V92M13.5 109V110M14.5 47V48M16.5 26V27M16.5 39V40M16.5 58V59M16.5 187V188M17.5 7V8M17.5 9V10M17.5 109V110M18.5 8V9M18.5 24V25M18.5 117V118M18.5 119V120M18.5 186V188M19.5 15V16M19.5 19V20M19.5 167V168M19.5 181V182M20.5 86V87M20.5 187V188M21.5 10V11M21.5 15V16M21.5 29V30M21.5 59V60M22.5 55V56M22.5 61V62M22.5 154V155M22.5 186V187M23.5 30V31M23.5 74V75M23.5 93V94M23.5 114V115M23.5 121V122M23.5 124V125M23.5 163V164M24.5 13V14M24.5 18V19M24.5 71V72M25.5 142V144M26.5 30V31M26.5 85V86M26.5 129V130M26.5 139V140M26.5 150V152M28.5 32V33M28.5 37V38M28.5 121V122M28.5 123V124M29.5 11V13M29.5 16V17M29.5 23V24M29.5 30V31M29.5 41V42M29.5 50V51M29.5 93V95M30.5 29V30M30.5 36V37M30.5 115V116M31.5 34V36M31.5 142V143M31.5 180V181M32.5 35V36M32.5 133V134M32.5 181V182M33.5 7V8M33.5 121V122M33.5 133V134M33.5 149V150M34.5 18V19M34.5 52V53M34.5 120V121M34.5 130V131M34.5 153V154M34.5 181V182M35.5 14V15M35.5 129V130M35.5 143V146M35.5 154V155M35.5 181V182M36.5 6V7M36.5 47V48M36.5 117V118M36.5 128V129M38.5 27V28M38.5 63V64M38.5 81V83M39.5 18V19M39.5 44V46M39.5 60V61M39.5 77V78M39.5 117V118M39.5 161V162M39.5 171V174M40.5 14V15M40.5 116V117M40.5 166V167M41.5 11V12M41.5 63V64M41.5 127V128M42.5 6V7M42.5 20V21M42.5 73V74M42.5 187V188M43.5 31V32M43.5 101V103M43.5 192V193M44.5 16V17M44.5 25V26M44.5 52V53M44.5 82V83M45.5 40V42M45.5 96V97M46.5 38V39M46.5 110V111M47.5 34V35M47.5 41V42M47.5 102V103M47.5 104V105M47.5 118V119M47.5 129V130M47.5 163V165M48.5 65V67M48.5 121V122M49.5 31V32M49.5 160V161M49.5 162V163M49.5 186V187M50.5 83V84M50.5 86V87M50.5 182V184M51.5 35V36M51.5 37V38M51.5 124V125M52.5 127V128M52.5 140V141M52.5 157V158M53.5 15V16M53.5 25V26M53.5 69V70M53.5 71V73M53.5 142V143M54.5 37V38M54.5 66V67M54.5 69V70M54.5 87V88M54.5 96V97M54.5 159V160M55.5 36V37M55.5 44V45M55.5 60V61M55.5 62V63M55.5 83V84M55.5 147V148M56.5 90V91M56.5 114V115M57.5 141V142M57.5 171V172M58.5 10V11M58.5 20V21M58.5 57V58M58.5 145V146M58.5 170V171M59.5 29V30M59.5 40V41M59.5 55V56M59.5 61V62M59.5 69V70M59.5 98V99M59.5 151V152M60.5 50V51M61.5 28V29M61.5 156V157M62.5 13V14M62.5 21V22M62.5 117V118M62.5 161V162M63.5 6V7M63.5 19V21M63.5 30V31M63.5 43V44M63.5 48V49M63.5 50V51M63.5 75V76M63.5 178V179M64.5 29V30M64.5 116V117M64.5 185V186M65.5 35V36M65.5 80V81M65.5 188V189M66.5 34V35M66.5 39V40M66.5 61V62M66.5 73V74M66.5 77V78M66.5 182V183M66.5 184V185M67.5 13V14M67.5 17V18M67.5 24V25M67.5 178V180M68.5 50V51M68.5 175V176M69.5 20V21M69.5 52V53M69.5 60V61M69.5 71V72M69.5 167V168M70.5 52V53M70.5 169V170M71.5 31V32M71.5 52V53M71.5 64V65M71.5 149V150M71.5 161V162M71.5 164V165M72.5 9V10M72.5 15V16M72.5 19V20M72.5 35V36M72.5 137V138M72.5 160V161M73.5 34V35M73.5 61V62M74.5 15V16M75.5 26V27M75.5 34V35M75.5 53V54M75.5 73V74M75.5 118V119M76.5 19V20M76.5 94V95M76.5 114V115M77.5 26V28M77.5 33V34M77.5 75V76M77.5 105V106M77.5 108V109M77.5 119V120M77.5 156V158M78.5 36V37M78.5 45V46M78.5 77V78M78.5 88V89M78.5 102V103M79.5 21V22M79.5 75V76M79.5 83V84M79.5 109V111M80.5 40V41M80.5 88V89M80.5 109V110M80.5 155V156M80.5 175V176M81.5 16V17M81.5 22V23M81.5 126V127M82.5 28V29M82.5 154V155M82.5 156V157M83.5 18V19M83.5 28V29M83.5 36V37M84.5 16V17M84.5 22V23M84.5 47V49M84.5 79V80M85.5 33V34M85.5 43V44M85.5 86V87M87.5 83V84M87.5 142V143M88.5 81V82M88.5 121V123M88.5 128V129M89.5 12V13M89.5 60V61M89.5 62V63M91.5 29V30M91.5 36V37M91.5 104V105M92.5 12V13M92.5 18V20M92.5 105V107M93.5 74V75M93.5 103V104M94.5 36V37M94.5 65V66M95.5 13V14M95.5 15V16M95.5 27V28M95.5 40V41M95.5 63V64M95.5 74V75M95.5 100V101M96.5 8V9M96.5 23V24M96.5 65V66M96.5 156V157M97.5 91V92M97.5 122V123M98.5 105V106M98.5 118V119M99.5 66V67M99.5 79V80M100.5 107V108M100.5 139V141M100.5 172V173M101.5 19V21M102.5 87V88M102.5 121V122M102.5 132V133M103.5 13V14M103.5 27V28M104.5 15V16M104.5 168V170M105.5 26V27M105.5 83V84M105.5 85V87M105.5 97V98M105.5 100V101M105.5 118V120M105.5 132V133M106.5 166V167M107.5 92V93M107.5 106V107M108.5 8V9M108.5 23V24M108.5 30V31M108.5 43V44M109.5 19V20M109.5 55V56M109.5 87V88M109.5 103V104M110.5 9V10M110.5 87V88M110.5 110V111M110.5 157V158M111.5 8V9M111.5 13V14M112.5 33V35M112.5 132V133M112.5 168V169M113.5 30V31M113.5 167V170M114.5 12V13M114.5 73V74M114.5 76V78M114.5 122V123M114.5 170V171M115.5 26V27M115.5 73V74M115.5 136V137M115.5 148V149M116.5 54V55M116.5 72V73M116.5 156V157M117.5 31V32M117.5 70V71M118.5 13V14M118.5 69V70M118.5 150V151M118.5 154V155M118.5 168V169M119.5 31V32M119.5 50V51M119.5 70V71M120.5 16V17M120.5 23V24M120.5 154V155M120.5 165V166M120.5 181V183M121.5 8V9M121.5 20V21M121.5 22V23M121.5 38V39M121.5 173V174M121.5 175V176M122.5 10V11M122.5 17V18M122.5 34V35M122.5 36V37M122.5 70V71M123.5 8V9M123.5 14V15M123.5 33V34M123.5 59V60M124.5 18V19M124.5 57V58M125.5 25V27M126.5 9V10M126.5 69V71M126.5 73V74M127.5 22V23M127.5 30V31M128.5 76V77M129.5 54V55M130.5 6V8M130.5 39V40M130.5 77V78M130.5 80V81M131.5 35V36M131.5 195V196M132.5 13V14M133.5 19V20M133.5 25V26M133.5 121V122M133.5 172V173M133.5 185V187M134.5 94V95M134.5 101V102M134.5 124V125M135.5 25V26M135.5 32V33M135.5 44V46M135.5 176V177M136.5 99V100M136.5 101V102M136.5 161V162M137.5 22V23M137.5 35V36M137.5 105V106M137.5 158V159M138.5 13V14M138.5 15V16M138.5 23V24M139.5 8V9M139.5 16V17M139.5 21V22M139.5 117V118M139.5 133V134M139.5 152V153M140.5 54V55M140.5 124V125M140.5 148V149M140.5 160V161M141.5 14V15M141.5 40V41M141.5 157V158M141.5 159V160M143.5 25V26M144.5 14V15M144.5 20V21M144.5 112V113M144.5 138V140M145.5 148V149M146.5 27V28M146.5 100V101M146.5 135V136M146.5 146V147M147.5 16V17M147.5 28V29M147.5 144V146M148.5 76V77M149.5 142V143M150.5 130V131M150.5 139V140M151.5 17V18M151.5 27V28M151.5 33V34M151.5 57V58M151.5 128V129M151.5 139V140M151.5 156V157M152.5 89V90M152.5 99V100M152.5 138V139M153.5 11V12M154.5 113V114M154.5 128V129M154.5 137V139M155.5 14V15M155.5 22V23M155.5 51V52M155.5 138V140M155.5 180V181M156.5 75V76M156.5 185V186M157.5 128V129M158.5 46V47M158.5 128V129M158.5 138V139M159.5 43V44M159.5 70V71M160.5 9V10M160.5 38V39M160.5 87V88M161.5 12V13M161.5 20V21M161.5 37V38M161.5 130V131M161.5 140V141M162.5 100V101M162.5 132V133M162.5 142V144M164.5 131V132M164.5 143V144M164.5 194V195M165.5 20V21M165.5 59V60M165.5 65V66M165.5 127V128M165.5 138V139M165.5 146V147M166.5 29V30M166.5 121V122M166.5 147V148M166.5 194V195M167.5 31V32M167.5 117V118M167.5 128V129M167.5 139V140M167.5 151V152M168.5 21V22M168.5 111V112M168.5 141V143M168.5 154V155M169.5 8V9M169.5 16V17M169.5 78V79M169.5 119V121M169.5 143V145M169.5 155V156M169.5 190V191M170.5 38V39M170.5 104V105M170.5 146V148M171.5 148V149M172.5 28V29M172.5 39V40M172.5 111V112M172.5 188V189M173.5 95V97M173.5 106V107M173.5 155V156M174.5 9V10M174.5 92V93M174.5 103V104M174.5 158V159M174.5 170V171M175.5 14V15M175.5 46V47M175.5 172V173M175.5 183V184M175.5 190V193M176.5 6V7M176.5 15V16M176.5 24V25M176.5 32V33M176.5 89V91M177.5 10V11M177.5 89V90M177.5 100V101M177.5 169V170M178.5 14V15M178.5 30V31M178.5 101V103M178.5 160V161M179.5 14V15M179.5 85V86M180.5 18V19M180.5 40V41M180.5 99V100M181.5 30V31M181.5 83V84M181.5 186V187M182.5 9V10M182.5 25V26M182.5 36V37M182.5 93V94M182.5 202V203M183.5 24V25M183.5 95V96M183.5 148V149M184.5 27V28M184.5 47V48M184.5 54V55M184.5 85V86M184.5 94V95M185.5 83V84M185.5 110V111M186.5 16V18M186.5 85V86M186.5 95V96M187.5 8V9M187.5 22V23M187.5 64V65M188.5 24V25M188.5 86V88M189.5 9V10M189.5 14V15M189.5 24V25M189.5 88V89M191.5 22V23M191.5 35V36M191.5 80V81M191.5 109V110M192.5 10V11M192.5 26V28M192.5 46V47M192.5 106V107M194.5 20V21M194.5 24V25M194.5 32V33M194.5 54V55M194.5 108V109M195.5 25V26M195.5 33V34M195.5 100V101M195.5 114V115M195.5 138V139M196.5 23V24M196.5 30V31M196.5 117V118M197.5 19V20M197.5 89V90M197.5 118V119M198.5 23V24M198.5 42V43M198.5 80V81M198.5 122V123M199.5 33V34M199.5 40V41M199.5 82V83M199.5 116V117M199.5 128V129M200.5 17V18M200.5 29V30M200.5 119V120M201.5 122V123M201.5 135V137"/>
<path stroke="#eeeeee" d="M0.5 40V41M0.5 83V84M0.5 89V90M2.5 134V135M2.5 143V144M3.5 77V78M4.5 38V39M4.5 73V74M4.5 136V137M5.5 122V124M6.5 13V14M6.5 17V18M6.5 32V33M7.5 41V42M7.5 128V129M8.5 29V30M8.5 115V117M8.5 127V128M9.5 124V125M10.5 14V15M10.5 37V38M10.5 114V115M10.5 124V125M11.5 27V28M12.5 42V43M12.5 112V113M13.5 16V17M14.5 23V24M14.5 54V55M14.5 110V111M15.5 19V20M15.5 120V121M16.5 13V14M17.5 26V28M17.5 75V76M17.5 108V109M17.5 118V119M18.5 17V19M18.5 118V119M18.5 175V176M19.5 35V36M19.5 108V110M19.5 180V181M20.5 108V109M20.5 118V119M20.5 120V121M20.5 177V178M21.5 22V23M21.5 35V36M21.5 58V59M21.5 65V66M21.5 83V85M21.5 110V112M21.5 185V187M22.5 121V123M22.5 167V168M23.5 9V11M23.5 123V124M23.5 150V151M23.5 161V163M23.5 183V185M24.5 145V146M24.5 147V148M25.5 127V128M25.5 182V183M26.5 6V7M26.5 40V41M26.5 127V129M26.5 140V141M27.5 22V23M27.5 119V121M27.5 129V130M27.5 147V149M28.5 12V13M28.5 22V23M28.5 122V123M29.5 22V23M29.5 124V125M29.5 126V127M29.5 141V143M30.5 37V38M31.5 127V128M31.5 141V142M32.5 46V47M32.5 51V52M32.5 76V77M32.5 145V146M33.5 30V31M33.5 56V57M33.5 72V73M33.5 136V137M33.5 148V149M33.5 180V182M34.5 17V18M34.5 34V35M34.5 152V153M34.5 180V181M35.5 10V12M35.5 27V28M35.5 49V51M35.5 131V132M36.5 36V37M36.5 160V161M36.5 183V184M37.5 29V30M37.5 70V71M37.5 100V101M37.5 185V186M38.5 14V15M38.5 22V23M38.5 48V50M38.5 117V118M38.5 126V127M38.5 128V129M38.5 157V158M38.5 166V168M39.5 76V77M39.5 126V127M40.5 15V16M40.5 24V25M40.5 41V42M40.5 57V58M40.5 115V116M40.5 127V128M40.5 177V178M41.5 10V11M41.5 25V26M41.5 116V117M41.5 125V126M41.5 170V171M41.5 180V181M42.5 24V25M42.5 42V43M42.5 115V116M42.5 125V127M42.5 173V174M43.5 12V13M43.5 14V15M43.5 16V17M43.5 22V23M43.5 172V173M43.5 190V191M44.5 14V15M44.5 127V128M44.5 195V197M45.5 15V16M45.5 21V22M45.5 29V30M45.5 127V128M46.5 37V38M46.5 66V67M46.5 108V109M46.5 117V118M47.5 119V120M48.5 20V21M48.5 28V29M48.5 46V48M49.5 41V43M49.5 119V120M49.5 121V122M49.5 131V132M50.5 122V123M51.5 7V8M51.5 80V81M51.5 125V127M51.5 161V162M52.5 159V160M52.5 176V177M52.5 178V179M53.5 100V101M53.5 130V131M54.5 65V66M54.5 81V82M54.5 144V145M55.5 157V158M56.5 59V60M56.5 160V161M57.5 36V37M57.5 158V159M58.5 9V10M58.5 21V22M58.5 54V55M58.5 86V87M58.5 107V108M58.5 158V159M59.5 9V10M59.5 30V31M59.5 163V164M61.5 52V53M61.5 171V172M62.5 22V23M63.5 12V13M63.5 21V22M63.5 49V50M63.5 168V169M64.5 36V37M64.5 47V48M64.5 184V185M65.5 65V66M66.5 47V48M66.5 50V51M67.5 7V8M67.5 49V50M67.5 67V69M68.5 16V17M68.5 171V172M69.5 7V8M70.5 14V15M70.5 153V154M70.5 167V169M71.5 13V14M71.5 20V21M71.5 145V146M72.5 7V8M72.5 14V15M72.5 25V26M72.5 55V56M72.5 162V163M73.5 159V161M74.5 14V15M74.5 35V36M74.5 51V52M74.5 64V65M74.5 123V124M74.5 127V128M74.5 158V159M75.5 47V48M75.5 67V68M75.5 116V117M75.5 131V132M75.5 156V159M76.5 111V112M77.5 7V8M77.5 74V75M78.5 44V45M78.5 155V156M79.5 41V42M79.5 97V98M80.5 14V15M80.5 26V27M80.5 39V40M80.5 50V51M80.5 89V90M80.5 110V111M81.5 89V90M81.5 102V103M82.5 7V8M82.5 29V30M82.5 53V54M82.5 83V84M82.5 98V99M83.5 13V14M83.5 19V20M83.5 44V45M83.5 49V50M83.5 94V95M84.5 11V12M84.5 125V126M85.5 44V45M86.5 50V51M87.5 81V82M88.5 8V9M88.5 37V38M90.5 15V16M90.5 25V26M90.5 33V34M90.5 67V68M90.5 76V77M91.5 28V29M91.5 75V76M92.5 11V12M92.5 24V25M92.5 63V64M92.5 65V66M93.5 13V15M93.5 24V25M93.5 63V65M93.5 75V76M95.5 34V35M96.5 64V65M97.5 11V12M97.5 28V29M97.5 35V36M97.5 77V79M98.5 18V19M98.5 45V47M98.5 65V66M99.5 28V29M99.5 80V81M100.5 33V34M100.5 106V107M101.5 74V75M102.5 77V78M102.5 88V89M103.5 28V29M103.5 77V78M103.5 168V169M104.5 8V9M105.5 84V85M105.5 169V170M106.5 10V11M106.5 18V20M106.5 33V34M106.5 103V104M108.5 28V29M108.5 113V114M108.5 166V167M109.5 104V105M110.5 25V26M111.5 84V85M111.5 127V129M112.5 22V23M112.5 120V121M112.5 133V134M113.5 9V10M113.5 79V80M113.5 123V124M113.5 137V138M114.5 9V10M114.5 38V39M114.5 75V76M114.5 115V116M114.5 121V122M114.5 132V133M114.5 143V144M115.5 22V23M116.5 12V13M116.5 53V54M117.5 71V73M118.5 72V73M118.5 167V168M119.5 10V11M119.5 71V72M119.5 162V163M119.5 173V174M119.5 193V194M120.5 34V36M120.5 42V43M120.5 68V69M120.5 167V168M120.5 180V181M121.5 23V24M121.5 69V70M121.5 187V189M122.5 67V68M122.5 69V70M122.5 193V194M123.5 20V21M123.5 69V70M124.5 19V20M124.5 70V71M126.5 8V9M126.5 19V20M126.5 40V41M127.5 73V74M128.5 20V21M129.5 15V16M129.5 78V79M130.5 19V20M130.5 28V29M130.5 78V79M130.5 197V198M131.5 73V74M131.5 182V183M132.5 25V27M133.5 10V11M133.5 12V13M133.5 26V27M133.5 88V89M133.5 90V91M133.5 173V174M134.5 12V13M134.5 34V35M134.5 91V92M134.5 100V101M134.5 169V171M135.5 97V98M135.5 165V166M137.5 34V35M137.5 170V171M138.5 155V156M138.5 167V168M141.5 23V24M141.5 52V53M142.5 155V156M143.5 7V8M143.5 18V19M143.5 24V25M143.5 34V35M143.5 140V141M144.5 151V152M145.5 11V12M145.5 32V33M145.5 147V148M146.5 34V35M146.5 147V148M148.5 143V144M149.5 22V23M150.5 11V13M150.5 19V20M150.5 26V27M150.5 52V53M151.5 129V130M152.5 14V16M153.5 138V139M154.5 12V13M156.5 138V139M157.5 7V8M158.5 23V24M158.5 34V35M159.5 21V22M159.5 139V140M160.5 139V141M161.5 21V22M162.5 23V24M162.5 28V29M163.5 152V153M165.5 66V67M165.5 128V129M166.5 28V29M166.5 122V123M166.5 148V150M166.5 192V194M167.5 38V39M167.5 129V131M168.5 124V126M168.5 152V153M168.5 190V191M169.5 189V190M170.5 37V38M170.5 116V117M170.5 191V192M171.5 95V96M171.5 160V161M172.5 33V34M172.5 110V111M172.5 162V163M173.5 70V71M173.5 107V108M173.5 191V192M174.5 169V170M174.5 190V192M175.5 40V41M175.5 101V102M175.5 173V174M176.5 17V18M177.5 19V20M177.5 39V41M177.5 168V169M178.5 86V87M178.5 98V99M178.5 108V109M178.5 184V186M179.5 24V25M179.5 97V98M179.5 105V106M179.5 189V190M180.5 93V94M180.5 181V182M181.5 18V19M181.5 44V45M181.5 96V97M181.5 102V103M181.5 185V186M181.5 197V199M182.5 10V11M182.5 83V84M183.5 9V10M183.5 94V95M184.5 13V14M184.5 83V84M184.5 95V96M185.5 84V85M186.5 36V37M186.5 84V85M188.5 15V17M189.5 23V24M189.5 89V90M190.5 8V9M190.5 90V91M192.5 18V19M192.5 104V105M193.5 20V21M193.5 107V108M194.5 16V17M195.5 16V17M195.5 101V103M196.5 6V7M196.5 103V104M196.5 105V106M198.5 29V30M198.5 73V74M198.5 123V124M199.5 11V12M199.5 27V28M199.5 126V128M199.5 140V142M200.5 30V31"/>
<path stroke="#ffffff" d="M0.5 84V85M0.5 153V155M1.5 136V139M1.5 147V149M2.5 132V134M2.5 144V146M3.5 129V131M4.5 8V9M4.5 37V38M4.5 43V45M4.5 137V139M5.5 134V136M6.5 18V20M6.5 25V27M6.5 33V34M6.5 38V40M6.5 70V71M6.5 120V122M6.5 131V133M7.5 8V10M7.5 16V19M7.5 23V24M7.5 28V30M7.5 118V119M7.5 129V130M8.5 6V8M8.5 13V16M8.5 28V29M8.5 126V127M9.5 19V20M9.5 24V25M9.5 114V116M9.5 125V127M10.5 20V21M10.5 28V29M10.5 38V39M10.5 113V114M11.5 14V17M11.5 22V23M11.5 28V30M11.5 51V52M11.5 122V124M12.5 13V15M12.5 110V112M12.5 120V122M13.5 15V16M13.5 23V24M13.5 28V30M13.5 110V112M13.5 120V122M14.5 7V9M14.5 14V17M14.5 24V25M14.5 37V38M14.5 48V49M14.5 55V56M14.5 119V121M15.5 13V15M15.5 18V19M15.5 36V37M15.5 108V110M15.5 118V120M16.5 8V10M16.5 14V16M16.5 33V35M16.5 40V41M16.5 118V120M16.5 185V187M17.5 8V9M17.5 119V120M17.5 193V195M18.5 7V8M18.5 71V72M18.5 108V110M19.5 8V10M19.5 13V15M19.5 20V22M19.5 29V31M19.5 118V120M19.5 168V170M20.5 23V25M20.5 109V110M20.5 119V120M20.5 175V177M21.5 30V31M21.5 120V122M21.5 158V160M22.5 110V112M22.5 155V156M22.5 165V167M22.5 184V186M23.5 112V114M23.5 122V123M23.5 149V150M24.5 8V9M24.5 12V13M24.5 23V25M24.5 123V126M24.5 146V147M24.5 157V160M24.5 182V184M25.5 27V29M25.5 115V117M25.5 125V127M25.5 154V156M26.5 11V13M26.5 20V22M26.5 117V119M27.5 7V8M27.5 21V22M27.5 36V37M27.5 130V132M27.5 136V138M28.5 17V18M28.5 38V39M28.5 132V135M29.5 17V18M29.5 29V30M29.5 125V126M30.5 13V15M30.5 127V130M30.5 138V141M31.5 15V17M31.5 22V24M31.5 125V127M32.5 12V14M32.5 19V22M32.5 25V27M32.5 77V78M32.5 123V125M32.5 134V137M32.5 146V147M33.5 21V23M33.5 31V32M33.5 134V135M33.5 137V138M34.5 33V34M34.5 131V133M34.5 139V141M34.5 151V152M35.5 19V22M35.5 26V27M35.5 119V121M35.5 130V131M35.5 155V157M36.5 13V15M36.5 21V23M36.5 118V120M36.5 129V131M36.5 147V149M36.5 182V183M37.5 71V72M37.5 127V129M37.5 151V153M37.5 163V165M37.5 184V185M38.5 10V12M38.5 15V17M38.5 118V119M38.5 127V128M38.5 155V157M39.5 12V14M39.5 115V117M39.5 127V128M40.5 10V12M40.5 22V24M40.5 40V41M40.5 125V127M40.5 164V166M40.5 176V177M41.5 23V25M41.5 115V116M41.5 126V127M41.5 168V170M41.5 181V183M42.5 7V9M42.5 13V15M42.5 19V20M42.5 31V32M42.5 41V42M42.5 116V117M42.5 174V176M42.5 185V187M43.5 7V8M43.5 13V14M43.5 15V16M43.5 21V22M43.5 26V28M43.5 115V117M43.5 125V128M43.5 178V180M43.5 191V192M44.5 9V11M44.5 15V16M44.5 23V25M44.5 43V45M44.5 115V117M44.5 125V127M44.5 169V171M45.5 34V36M45.5 115V119M45.5 128V129M45.5 166V167M46.5 8V9M46.5 14V15M46.5 106V108M46.5 118V119M46.5 128V130M47.5 26V28M47.5 100V102M47.5 103V104M47.5 130V131M48.5 26V28M48.5 94V98M48.5 130V132M49.5 6V7M49.5 22V25M49.5 89V92M49.5 120V121M49.5 132V134M49.5 161V162M50.5 32V34M50.5 84V86M50.5 123V125M50.5 134V136M51.5 30V31M51.5 36V37M51.5 78V80M51.5 135V138M51.5 160V161M52.5 74V77M52.5 138V140M52.5 158V159M52.5 177V178M53.5 24V25M53.5 129V130M54.5 12V14M54.5 17V19M54.5 26V27M54.5 31V32M54.5 67V69M54.5 88V89M54.5 132V134M54.5 143V144M55.5 9V11M55.5 135V137M55.5 146V147M55.5 158V159M56.5 51V53M56.5 57V59M56.5 113V114M56.5 138V140M56.5 149V151M56.5 159V160M57.5 7V8M59.5 16V18M59.5 52V55M59.5 149V151M59.5 161V163M60.5 51V53M60.5 153V155M60.5 165V168M61.5 49V52M61.5 157V159M61.5 169V171M62.5 9V10M62.5 14V15M62.5 48V51M62.5 162V164M62.5 174V177M63.5 13V14M63.5 17V19M63.5 26V28M63.5 166V168M63.5 179V181M64.5 10V12M64.5 16V18M64.5 21V24M64.5 35V36M64.5 48V50M65.5 21V23M65.5 34V35M65.5 49V50M65.5 81V82M65.5 189V191M66.5 14V16M66.5 19V20M66.5 24V26M66.5 48V50M66.5 183V184M67.5 16V17M67.5 22V24M67.5 41V42M67.5 48V49M67.5 50V51M68.5 17V19M68.5 48V50M69.5 50V52M69.5 178V180M70.5 9V10M70.5 154V156M71.5 7V9M71.5 18V20M71.5 25V27M71.5 53V56M71.5 146V149M71.5 162V164M72.5 8V9M72.5 56V57M72.5 138V141M72.5 152V155M72.5 161V162M73.5 28V29M73.5 33V34M73.5 58V61M73.5 130V133M74.5 62V64M74.5 124V127M74.5 138V141M74.5 159V161M75.5 21V23M75.5 27V29M75.5 33V34M75.5 64V67M75.5 117V118M76.5 68V72M76.5 112V114M76.5 125V128M76.5 156V158M77.5 34V35M77.5 40V41M77.5 72V74M77.5 106V108M77.5 120V122M78.5 11V12M78.5 16V17M78.5 24V27M78.5 100V102M78.5 114V116M79.5 20V21M79.5 42V43M79.5 84V86M79.5 94V97M79.5 155V157M80.5 25V26M80.5 30V32M80.5 90V92M80.5 104V105M80.5 156V157M81.5 8V10M81.5 21V22M81.5 86V89M81.5 100V102M81.5 154V155M82.5 8V9M82.5 23V24M82.5 84V86M82.5 96V98M82.5 155V156M83.5 12V13M83.5 37V38M83.5 43V44M83.5 79V83M83.5 92V94M84.5 10V11M84.5 29V31M84.5 76V79M84.5 89V91M85.5 73V77M85.5 87V89M86.5 9V10M86.5 14V16M86.5 25V27M86.5 51V52M86.5 71V74M86.5 84V86M87.5 15V17M87.5 21V22M87.5 54V55M87.5 70V72M87.5 82V83M88.5 16V17M88.5 23V25M88.5 67V70M88.5 79V81M89.5 13V14M89.5 61V62M89.5 66V69M89.5 78V80M90.5 34V35M90.5 64V67M90.5 77V79M91.5 14V16M91.5 63V66M91.5 76V78M92.5 31V33M92.5 64V65M93.5 23V24M94.5 10V11M94.5 21V23M94.5 30V31M94.5 62V65M94.5 74V76M95.5 14V15M95.5 20V22M95.5 64V66M95.5 75V77M96.5 63V64M96.5 75V77M97.5 12V13M97.5 25V28M97.5 36V37M97.5 42V44M97.5 64V67M98.5 66V68M98.5 104V105M99.5 8V11M99.5 16V17M99.5 29V30M99.5 67V68M100.5 69V72M101.5 10V12M101.5 71V74M101.5 85V87M102.5 75V77M103.5 7V8M103.5 12V13M103.5 22V23M103.5 78V80M103.5 91V93M104.5 16V17M104.5 21V23M104.5 26V27M104.5 81V84M104.5 94V97M105.5 27V28M105.5 98V100M105.5 167V169M106.5 89V92M106.5 104V105M107.5 93V96M107.5 107V109M108.5 7V8M108.5 21V23M108.5 29V30M108.5 97V100M108.5 167V168M109.5 18V19M109.5 116V118M109.5 165V168M110.5 10V12M110.5 26V27M110.5 107V110M110.5 120V123M111.5 14V15M111.5 82V84M111.5 112V115M112.5 10V12M112.5 28V29M112.5 79V81M112.5 119V120M113.5 10V11M113.5 31V32M113.5 77V79M113.5 124V127M113.5 138V140M114.5 8V9M114.5 13V14M114.5 18V19M114.5 74V75M114.5 128V132M114.5 144V146M115.5 11V13M115.5 21V22M115.5 134V136M115.5 149V150M116.5 17V18M116.5 28V29M116.5 73V75M116.5 141V144M116.5 155V156M117.5 16V18M117.5 29V31M117.5 146V149M117.5 161V164M118.5 19V21M118.5 70V72M118.5 155V157M119.5 20V21M119.5 25V27M119.5 159V162M119.5 174V176M120.5 9V11M120.5 17V19M120.5 69V71M120.5 168V169M121.5 7V8M121.5 68V69M121.5 174V175M122.5 16V17M122.5 28V30M122.5 35V36M122.5 68V69M122.5 178V181M122.5 194V195M123.5 9V10M123.5 21V22M123.5 68V69M124.5 27V29M124.5 69V70M125.5 69V72M126.5 20V22M127.5 16V18M127.5 53V54M127.5 74V75M128.5 74V76M129.5 14V15M129.5 24V27M130.5 18V19M130.5 27V28M130.5 198V199M131.5 10V13M131.5 17V20M131.5 26V27M131.5 80V82M131.5 183V184M131.5 193V195M132.5 17V19M132.5 23V25M132.5 84V87M132.5 190V191M133.5 11V12M133.5 89V90M134.5 17V18M134.5 22V24M134.5 35V36M134.5 92V94M134.5 181V183M135.5 8V10M135.5 95V97M135.5 177V179M136.5 102V103M136.5 173V175M137.5 11V13M137.5 17V19M137.5 23V25M137.5 106V108M137.5 169V170M138.5 14V15M138.5 21V23M138.5 110V113M138.5 166V167M139.5 9V10M139.5 116V117M139.5 163V165M140.5 161V162M141.5 15V16M141.5 24V25M141.5 158V159M142.5 11V13M142.5 17V19M142.5 28V30M142.5 143V145M142.5 154V155M143.5 19V20M143.5 33V34M143.5 141V142M143.5 152V154M144.5 15V17M144.5 21V22M144.5 30V32M144.5 111V112M145.5 9V11M145.5 16V19M145.5 24V25M145.5 42V43M146.5 11V13M146.5 28V29M146.5 33V34M147.5 21V23M147.5 125V126M147.5 131V132M148.5 10V13M148.5 31V33M148.5 132V134M148.5 142V143M149.5 11V13M149.5 21V22M149.5 32V34M150.5 17V19M150.5 140V142M151.5 18V20M151.5 25V27M151.5 140V141M152.5 27V28M153.5 9V11M153.5 17V20M153.5 26V27M154.5 11V12M154.5 16V19M154.5 23V25M155.5 23V24M155.5 28V29M156.5 127V128M156.5 137V138M157.5 11V12M157.5 16V18M158.5 18V20M158.5 24V25M158.5 28V30M158.5 68V69M158.5 139V140M159.5 22V23M159.5 30V32M159.5 42V43M159.5 128V130M159.5 138V139M160.5 14V16M160.5 22V24M161.5 38V39M162.5 99V100M162.5 131V132M163.5 151V152M164.5 9V10M164.5 14V16M164.5 19V21M164.5 62V64M164.5 132V135M164.5 144V147M165.5 14V17M165.5 21V23M165.5 27V29M166.5 9V11M166.5 15V17M166.5 22V24M166.5 133V136M167.5 21V23M167.5 190V192M168.5 20V21M168.5 112V114M168.5 153V154M168.5 191V192M169.5 7V8M169.5 15V16M169.5 22V24M169.5 108V110M169.5 121V122M170.5 9V11M170.5 14V15M170.5 21V23M170.5 27V29M170.5 117V118M170.5 190V191M171.5 7V8M171.5 41V42M171.5 161V162M172.5 34V35M172.5 163V165M172.5 189V190M173.5 10V12M173.5 46V48M173.5 108V109M173.5 165V166M174.5 10V12M174.5 17V20M174.5 49V51M174.5 93V95M175.5 7V9M175.5 13V14M175.5 22V25M175.5 52V54M175.5 92V93M175.5 102V104M176.5 16V17M176.5 101V102M177.5 20V22M177.5 88V89M177.5 98V100M177.5 180V182M178.5 22V24M178.5 87V88M178.5 97V98M179.5 12V14M179.5 18V20M179.5 25V26M179.5 95V97M180.5 17V18M180.5 182V183M181.5 17V18M181.5 22V24M181.5 84V86M181.5 94V96M182.5 26V27M182.5 94V96M183.5 25V26M183.5 31V33M183.5 83V85M184.5 7V9M184.5 17V18M184.5 22V23M184.5 84V85M185.5 17V19M185.5 94V96M186.5 11V13M186.5 23V26M186.5 30V31M186.5 35V36M186.5 96V97M187.5 7V8M187.5 85V87M187.5 95V97M188.5 25V27M188.5 97V99M190.5 9V11M190.5 18V20M190.5 27V29M190.5 89V90M190.5 99V101M191.5 90V92M191.5 102V104M192.5 11V13M192.5 19V20M192.5 93V95M192.5 105V106M193.5 95V97M193.5 106V107M194.5 6V7M194.5 10V12M194.5 15V16M194.5 98V100M194.5 109V111M195.5 112V114M196.5 7V8M196.5 15V17M196.5 24V25M196.5 104V105M196.5 115V117M197.5 18V19M197.5 26V28M197.5 107V109M198.5 14V16M198.5 110V112M200.5 38V39M200.5 120V121M200.5 130V132M201.5 7V10M201.5 21V22M201.5 26V27M201.5 123V125"/>
</g>
</g>
<path d="M51.4 208.4V202.9M51.4 9.6V15.1M149.6 208.4V202.9M149.6 9.6V15.1M247.9 208.4V202.9M247.9 9.6V15.1M346.1 208.4V202.9M346.1 9.6V15.1M444.4 208.4V202.9M444.4 9.6V15.1M542.6 208.4V202.9M542.6 9.6V15.1M51.4 9.6H56.9M542.6 9.6H537.1M51.4 49.4H56.9M542.6 49.4H537.1M51.4 89.1H56.9M542.6 89.1H537.1M51.4 128.9H56.9M542.6 128.9H537.1M51.4 168.6H56.9M542.6 168.6H537.1M51.4 208.4H56.9M542.6 208.4H537.1" stroke="#000" stroke-width="1.6" fill="none"/>
<rect x="51.4" y="9.6" width="491.2" height="198.8" fill="none" stroke="#000" stroke-width="2"/>
<g font-size="17"><text x="43.3" y="16.2" text-anchor="end">0</text><text x="43.3" y="56.0" text-anchor="end">3</text><text x="43.3" y="95.7" text-anchor="end">6</text><text x="43.3" y="135.5" text-anchor="end">9</text><text x="43.3" y="175.2" text-anchor="end">12</text><text x="43.3" y="215.0" text-anchor="end">15</text><text x="51.4" y="231.7" text-anchor="middle">0</text><text x="149.6" y="231.7" text-anchor="middle">1</text><text x="247.9" y="231.7" text-anchor="middle">2</text><text x="346.1" y="231.7" text-anchor="middle">3</text><text x="444.4" y="231.7" text-anchor="middle">4</text><text x="542.6" y="231.7" text-anchor="middle">5</text></g>
<text x="296.3" y="255.5" font-size="18.4" text-anchor="middle">Position (m)</text>
<text x="267.6" y="283.6" font-size="17.2" text-anchor="middle">(b)</text>
<text transform="translate(18.5 109.5) rotate(-90)" font-size="19" text-anchor="middle">Time (ns)</text>
</svg>
</body></html>
